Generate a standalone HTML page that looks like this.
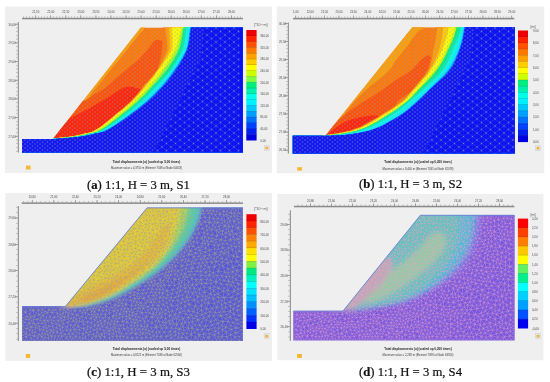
<!DOCTYPE html><html><head><meta charset="utf-8"><title>Total displacements</title><style>html,body{margin:0;padding:0;background:#fff;}svg{display:block;}</style></head><body><svg width="550" height="382" viewBox="0 0 550 382"><defs></defs><rect width="550" height="382" fill="#fff"/><rect x="5" y="6.5" width="267" height="166.5" fill="#efefef"/><clipPath id="g0"><path d="M22,139.2 L52.7,139.2 L140.8,27.6 L242.8,27.6 L242.8,152.6 L22,152.6Z"/></clipPath><clipPath id="c0_17"><path d="M152.5,43C154,41.4 154.9,40.1 156.5,39.8C158.1,39.5 158.9,40.1 162,41C165.1,41.9 168.7,35.2 175,45C181.3,54.8 204.2,83.3 200,100C195.8,116.7 173.3,136.7 150,145C126.7,153.3 78.3,150.8 60,150C41.7,149.2 40,147.5 40,140C40,132.5 52.8,111.5 60,105C67.2,98.5 78.3,102 83,101C87.7,100 86,100.2 88,99C90,97.8 92.2,95.8 95,94C97.8,92.2 101.7,90.5 105,88C108.3,85.5 111.2,82.3 115,79C118.8,75.7 124,71.3 128,68C132,64.7 135.8,62.1 139,59C142.2,55.9 145.2,52.2 147.5,49.5C149.8,46.8 151,44.6 152.5,43Z"/></clipPath><clipPath id="c0_16"><path clip-rule="evenodd" d="M-28,-22.4H292.8V202.6H-28ZM100,20C111.5,20 136.7,18.5 144,20C151.3,21.5 144.9,26.5 144,29C143.1,31.5 142.3,30.7 138.8,35C135.3,39.3 128.2,48.3 122.8,55C117.4,61.7 111.3,69.2 106.6,75C101.9,80.8 97.9,85.8 94.5,90C91.1,94.2 89.2,98.3 86,100C82.8,101.7 76.8,113.3 75,100C73.2,86.7 70.8,33.3 75,20C79.2,6.7 88.5,20 100,20Z"/></clipPath><pattern id="m0_0" patternUnits="userSpaceOnUse" width="9" height="7"><path d="M-4.5,-3.5L13.5,10.5M-4.5,10.5L13.5,-3.5M-4.5,3.5L4.5,-3.5M4.5,10.5L13.5,3.5M-4.5,3.5L4.5,10.5M4.5,-3.5L13.5,3.5" stroke="#a0a0d0" stroke-opacity="0.45" stroke-width="0.45" fill="none"/><path d="M0,0V7M4.5,-3.5V10.5M9,0V7" stroke="#a0a0d0" stroke-opacity="0.1575" stroke-width="0.45" fill="none"/><circle cx="0" cy="0" r="0.65" fill="#9898b0" fill-opacity="0.7"/><circle cx="9" cy="0" r="0.65" fill="#9898b0" fill-opacity="0.7"/><circle cx="0" cy="7" r="0.65" fill="#9898b0" fill-opacity="0.7"/><circle cx="9" cy="7" r="0.65" fill="#9898b0" fill-opacity="0.7"/><circle cx="4.5" cy="3.5" r="0.65" fill="#9898b0" fill-opacity="0.7"/></pattern><pattern id="m0_1" patternUnits="userSpaceOnUse" width="5" height="4"><path d="M-2.5,-2L7.5,6M-2.5,6L7.5,-2M-2.5,2L2.5,-2M2.5,6L7.5,2M-2.5,2L2.5,6M2.5,-2L7.5,2" stroke="#a0a0d0" stroke-opacity="0.38" stroke-width="0.4" fill="none"/><path d="M0,0V4M2.5,-2V6M5,0V4" stroke="#a0a0d0" stroke-opacity="0.13299999999999998" stroke-width="0.4" fill="none"/><circle cx="0" cy="0" r="0.55" fill="#9898b0" fill-opacity="0.6"/><circle cx="5" cy="0" r="0.55" fill="#9898b0" fill-opacity="0.6"/><circle cx="0" cy="4" r="0.55" fill="#9898b0" fill-opacity="0.6"/><circle cx="5" cy="4" r="0.55" fill="#9898b0" fill-opacity="0.6"/><circle cx="2.5" cy="2" r="0.55" fill="#9898b0" fill-opacity="0.6"/></pattern><g clip-path="url(#g0)"><path d="M22,139.2 L52.7,139.2 L140.8,27.6 L242.8,27.6 L242.8,152.6 L22,152.6Z" fill="#ff7800"/><path d="M100,20C111.5,20 136.7,18.5 144,20C151.3,21.5 144.9,26.5 144,29C143.1,31.5 142.3,30.7 138.8,35C135.3,39.3 128.2,48.3 122.8,55C117.4,61.7 111.3,69.2 106.6,75C101.9,80.8 97.9,85.8 94.5,90C91.1,94.2 89.2,98.3 86,100C82.8,101.7 76.8,113.3 75,100C73.2,86.7 70.8,33.3 75,20C79.2,6.7 88.5,20 100,20Z" fill="#ffa000"/><path d="M152.5,43C154,41.4 154.9,40.1 156.5,39.8C158.1,39.5 158.9,40.1 162,41C165.1,41.9 168.7,35.2 175,45C181.3,54.8 204.2,83.3 200,100C195.8,116.7 173.3,136.7 150,145C126.7,153.3 78.3,150.8 60,150C41.7,149.2 40,147.5 40,140C40,132.5 52.8,111.5 60,105C67.2,98.5 78.3,102 83,101C87.7,100 86,100.2 88,99C90,97.8 92.2,95.8 95,94C97.8,92.2 101.7,90.5 105,88C108.3,85.5 111.2,82.3 115,79C118.8,75.7 124,71.3 128,68C132,64.7 135.8,62.1 139,59C142.2,55.9 145.2,52.2 147.5,49.5C149.8,46.8 151,44.6 152.5,43Z" fill="#ff5000"/><path d="M145,89C156.3,89.5 197.5,80.7 200,90C202.5,99.3 183.3,135 160,145C136.7,155 79.2,150.8 60,150C40.8,149.2 45,143.6 45,140C45,136.4 55.8,132.2 60,128.5C64.2,124.8 66.8,120.8 70.5,118C74.2,115.2 77.9,114.2 82,112C86.1,109.8 90.3,107.7 95,105C99.7,102.3 105.3,98.8 110,96C114.7,93.2 119.3,89.5 123,88C126.7,86.5 128.3,86.8 132,87C135.7,87.2 133.7,88.5 145,89Z" fill="#ff2000"/><path d="M161,5 L160.8,7 L160.5,9.6 L160.1,12.8 L159.7,16.2 L159.3,19.9 L158.9,23.5 L158.4,26.9 L158,30 L158.2,32.7 L158.4,35.4 L158.6,37.9 L158.7,40.3 L158.8,42.7 L158.8,45.1 L158.6,47.5 L158.3,50 L158.2,52.5 L157.9,55.1 L157.4,57.7 L156.9,60.3 L156.3,62.9 L155.6,65.4 L155,67.7 L154.3,70 L153,72.1 L151.7,74.1 L150.4,76 L149.1,77.8 L147.8,79.6 L146.4,81.4 L145,83.2 L143.5,85 L142.2,86.9 L140.9,88.8 L139.5,90.6 L138.1,92.5 L136.6,94.4 L135.1,96.2 L133.5,98.1 L131.8,100 L129.9,101.9 L127.9,103.8 L125.8,105.6 L123.7,107.5 L121.5,109.4 L119.3,111.3 L117,113.1 L114.7,115 L112.4,116.9 L110.1,118.9 L107.6,121 L105.1,123 L102.6,124.9 L100.3,126.7 L98.1,128.3 L96.1,129.6 L94.3,130.6 L92.7,131.4 L91.2,131.9 L89.9,132.3 L88.5,132.7 L87.2,132.9 L85.9,133.2 L84.4,133.6 L83,134 L81.5,134.4 L80,134.8 L78.5,135.1 L76.9,135.4 L75.3,135.7 L73.7,136 L72.1,136.3 L70.5,136.5 L68.9,136.8 L67.3,137 L65.8,137.2 L64.2,137.3 L62.6,137.5 L61,137.6 L59.4,137.8 L57.8,137.9 L56.1,138.1 L54.4,138.2 L52.7,138.3 L51.1,138.4 L49.5,138.5 L48.1,138.6 L46.9,138.7 L45.9,138.8 L45.1,138.9 L44.5,139 L44,139 L43.5,139.1 L42.9,139.1 L42.3,139.1 L41.6,139.1 L40.9,139 L40.3,139 L39.7,138.9 L39,138.8 L38.2,138.6 L37.1,138.4 L35.7,138.2 L33.9,138 L31.9,137.7 L29.7,137.4 L27.4,137.1 L24.7,136.7 L21.6,136.4 L18,135.9 L13.8,135.5 L8.9,135 L2.2,132.6 L-6.6,127.4 L-16.4,121.2 L-26.4,115.4 L-35.5,111.8 L-43.6,112 L-49.8,117.5 L-52.4,130 L-55.6,152.4 L-59.4,184.5 L-62.4,223 L-64.8,264.7 L-66.8,306.4 L-68.4,345 L-69.8,377.3 L-71.1,400 L700,400 L700,5Z" fill="#ff5000" clip-path="url(#c0_17)"/><path d="M165,5 L164.8,7 L164.5,9.6 L164.1,12.8 L163.7,16.2 L163.3,19.9 L162.9,23.5 L162.4,26.9 L162,30 L162.1,32.7 L162.2,35.4 L162.4,37.9 L162.5,40.3 L162.5,42.7 L162.4,45.1 L162.2,47.5 L161.8,50 L161.6,52.5 L161.2,55.1 L160.7,57.7 L160.1,60.3 L159.4,62.9 L158.7,65.4 L157.9,67.7 L157.2,70 L155.6,72.1 L154,74.1 L152.4,76 L150.8,77.8 L149.2,79.6 L147.6,81.4 L145.9,83.2 L144.1,85 L142.8,86.9 L141.4,88.8 L140.1,90.6 L138.6,92.5 L137.1,94.4 L135.6,96.2 L133.9,98.1 L132.2,100 L130.3,101.9 L128.2,103.8 L126.2,105.6 L124,107.5 L121.8,109.4 L119.5,111.3 L117.2,113.1 L114.8,115 L112.6,116.9 L110.2,118.9 L107.8,121 L105.2,123 L102.8,124.9 L100.4,126.7 L98.2,128.3 L96.2,129.6 L94.4,130.6 L92.8,131.4 L91.4,131.9 L90,132.3 L88.7,132.7 L87.3,132.9 L86,133.2 L84.6,133.6 L83.1,134 L81.6,134.4 L80.1,134.8 L78.6,135.1 L77,135.4 L75.4,135.7 L73.8,136 L72.2,136.3 L70.7,136.5 L69.1,136.8 L67.5,137 L65.9,137.2 L64.3,137.3 L62.7,137.5 L61.1,137.6 L59.5,137.8 L57.9,137.9 L56.2,138.1 L54.5,138.2 L52.8,138.3 L51.2,138.4 L49.7,138.5 L48.3,138.6 L47,138.7 L46,138.8 L45.3,138.9 L44.6,139 L44.1,139 L43.6,139.1 L43.1,139.1 L42.5,139.1 L41.7,139.1 L41,139 L40.4,139 L39.8,138.9 L39.1,138.8 L38.3,138.6 L37.2,138.4 L35.8,138.2 L34,138 L32,137.7 L29.8,137.4 L27.5,137.1 L24.8,136.7 L21.7,136.4 L18.2,135.9 L14,135.5 L9,135 L2.3,132.6 L-6.4,127.4 L-16.2,121.2 L-26.3,115.4 L-35.3,111.8 L-43.4,112 L-49.6,117.5 L-52.3,130 L-55.5,152.4 L-59.2,184.5 L-62.3,223 L-64.7,264.7 L-66.7,306.4 L-68.3,345 L-69.7,377.3 L-71,400 L700,400 L700,5Z" fill="#ff7800" clip-path="url(#c0_16)"/><path d="M168.5,5 L168.3,7 L168,9.6 L167.6,12.8 L167.2,16.2 L166.8,19.9 L166.4,23.5 L165.9,26.9 L165.5,30 L165.8,32.7 L166.2,35.4 L166.5,37.9 L166.8,40.3 L167,42.7 L167.1,45.1 L167.1,47.5 L166.9,50 L166.1,52.5 L165.1,55.1 L164,57.7 L162.7,60.3 L161.4,62.9 L160.1,65.4 L158.8,67.7 L157.5,70 L155.9,72.1 L154.4,74.1 L152.9,76 L151.3,77.8 L149.7,79.6 L148.1,81.4 L146.4,83.2 L144.7,85 L143.4,86.9 L142,88.8 L140.6,90.6 L139.1,92.5 L137.6,94.4 L136,96.2 L134.3,98.1 L132.6,100 L130.6,101.9 L128.6,103.8 L126.5,105.6 L124.3,107.5 L122,109.4 L119.7,111.3 L117.4,113.1 L115,115 L112.8,116.9 L110.4,118.9 L107.9,121 L105.4,123 L102.9,124.9 L100.6,126.7 L98.3,128.3 L96.3,129.6 L94.6,130.6 L93,131.4 L91.5,131.9 L90.1,132.3 L88.8,132.7 L87.5,132.9 L86.1,133.2 L84.7,133.6 L83.2,134 L81.7,134.4 L80.2,134.8 L78.7,135.1 L77.1,135.4 L75.5,135.7 L73.9,136 L72.4,136.3 L70.8,136.5 L69.2,136.8 L67.6,137 L66,137.2 L64.4,137.3 L62.8,137.5 L61.2,137.6 L59.6,137.8 L58,137.9 L56.3,138.1 L54.6,138.2 L52.9,138.3 L51.3,138.4 L49.8,138.5 L48.4,138.6 L47.1,138.7 L46.2,138.8 L45.4,138.9 L44.7,139 L44.2,139 L43.7,139.1 L43.2,139.1 L42.6,139.1 L41.9,139.1 L41.1,139 L40.5,139 L39.9,138.9 L39.2,138.8 L38.4,138.6 L37.3,138.4 L36,138.2 L34.1,138 L32.1,137.7 L29.9,137.4 L27.6,137.1 L24.9,136.7 L21.8,136.4 L18.3,135.9 L14.1,135.5 L9.2,135 L2.4,132.6 L-6.3,127.4 L-16.1,121.2 L-26.1,115.4 L-35.1,111.8 L-43.2,112 L-49.5,117.5 L-52.2,130 L-55.4,152.4 L-59.1,184.5 L-62.2,223 L-64.6,264.7 L-66.6,306.4 L-68.2,345 L-69.6,377.3 L-70.8,400 L700,400 L700,5Z" fill="#ffa000"/><path d="M172,5 L171.8,7 L171.5,9.6 L171.1,12.8 L170.7,16.2 L170.3,19.9 L169.9,23.5 L169.4,26.9 L169,30 L169.2,32.7 L169.4,35.4 L169.6,37.9 L169.7,40.3 L169.8,42.7 L169.8,45.1 L169.6,47.5 L169.3,50 L168.2,52.5 L166.9,55.1 L165.5,57.7 L164,60.3 L162.5,62.9 L160.9,65.4 L159.3,67.7 L157.8,70 L156.3,72.1 L154.9,74.1 L153.5,76 L152,77.8 L150.5,79.6 L149,81.4 L147.5,83.2 L145.8,85 L144.4,86.9 L142.9,88.8 L141.4,90.6 L139.9,92.5 L138.3,94.4 L136.6,96.2 L134.8,98.1 L133,100 L131,101.9 L129,103.8 L126.8,105.6 L124.7,107.5 L122.4,109.4 L120.1,111.3 L117.7,113.1 L115.4,115 L113.1,116.9 L110.7,118.9 L108.2,121 L105.7,123 L103.2,124.9 L100.8,126.7 L98.6,128.3 L96.6,129.6 L94.8,130.6 L93.2,131.4 L91.7,131.9 L90.4,132.3 L89,132.7 L87.7,132.9 L86.4,133.2 L84.9,133.6 L83.4,134 L82,134.4 L80.5,134.8 L78.9,135.1 L77.4,135.4 L75.8,135.7 L74.2,136 L72.6,136.3 L71,136.5 L69.4,136.8 L67.8,137 L66.2,137.2 L64.6,137.3 L63.1,137.5 L61.5,137.6 L59.9,137.8 L58.3,137.9 L56.6,138.1 L54.9,138.2 L53.2,138.3 L51.5,138.4 L50,138.5 L48.6,138.6 L47.4,138.7 L46.4,138.8 L45.6,138.9 L45,139 L44.4,139 L43.9,139.1 L43.4,139.1 L42.8,139.1 L42.1,139.1 L41.4,139 L40.7,139 L40.1,138.9 L39.5,138.8 L38.7,138.6 L37.6,138.4 L36.2,138.2 L34.4,138 L32.3,137.7 L30.2,137.4 L27.8,137.1 L25.2,136.7 L22.1,136.4 L18.5,135.9 L14.3,135.5 L9.4,135 L2.7,132.6 L-6,127.4 L-15.8,121.2 L-25.8,115.4 L-34.7,111.8 L-42.8,112 L-49.1,117.5 L-51.9,130 L-55.2,152.4 L-58.9,184.5 L-61.9,223 L-64.4,264.7 L-66.3,306.4 L-68,345 L-69.3,377.3 L-70.6,400 L700,400 L700,5Z" fill="#ffcc00"/><path d="M175,5 L174.8,7 L174.5,9.6 L174.1,12.8 L173.7,16.2 L173.3,19.9 L172.9,23.5 L172.4,26.9 L172,30 L172.1,32.7 L172.3,35.4 L172.4,37.9 L172.6,40.3 L172.6,42.7 L172.6,45.1 L172.4,47.5 L172,50 L170.6,52.5 L169.1,55.1 L167.4,57.7 L165.6,60.3 L163.8,62.9 L161.9,65.4 L160.1,67.7 L158.3,70 L156.9,72.1 L155.6,74.1 L154.2,76 L152.8,77.8 L151.4,79.6 L150,81.4 L148.5,83.2 L146.9,85 L145.4,86.9 L143.9,88.8 L142.3,90.6 L140.7,92.5 L139,94.4 L137.3,96.2 L135.5,98.1 L133.6,100 L131.6,101.9 L129.5,103.8 L127.3,105.6 L125.1,107.5 L122.8,109.4 L120.5,111.3 L118.1,113.1 L115.7,115 L113.4,116.9 L111,118.9 L108.5,121 L106,123 L103.5,124.9 L101.1,126.7 L98.9,128.3 L96.9,129.6 L95.1,130.6 L93.5,131.4 L92,131.9 L90.6,132.3 L89.3,132.7 L88,132.9 L86.6,133.2 L85.2,133.6 L83.7,134 L82.2,134.4 L80.7,134.8 L79.2,135.1 L77.6,135.4 L76,135.7 L74.4,136 L72.8,136.3 L71.2,136.5 L69.6,136.8 L68,137 L66.5,137.2 L64.9,137.3 L63.3,137.5 L61.7,137.6 L60.1,137.8 L58.5,137.9 L56.8,138.1 L55.1,138.2 L53.4,138.3 L51.8,138.4 L50.2,138.5 L48.8,138.6 L47.6,138.7 L46.6,138.8 L45.8,138.9 L45.2,139 L44.7,139 L44.2,139.1 L43.6,139.1 L43,139.1 L42.3,139.1 L41.6,139 L41,139 L40.4,138.9 L39.7,138.8 L38.9,138.6 L37.8,138.4 L36.4,138.2 L34.6,138 L32.6,137.7 L30.4,137.4 L28.1,137.1 L25.4,136.7 L22.3,136.4 L18.7,135.9 L14.5,135.5 L9.6,135 L2.9,132.6 L-5.8,127.4 L-15.5,121.2 L-25.4,115.4 L-34.4,111.8 L-42.4,112 L-48.8,117.5 L-51.6,130 L-54.9,152.4 L-58.7,184.5 L-61.7,223 L-64.1,264.7 L-66.1,306.4 L-67.7,345 L-69.1,377.3 L-70.4,400 L700,400 L700,5Z" fill="#ffff00"/><path d="M184,5 L183.8,7 L183.5,9.6 L183.1,12.8 L182.7,16.2 L182.3,19.9 L181.9,23.5 L181.4,26.9 L181,30 L180.2,32.7 L179.5,35.4 L178.8,37.9 L178.1,40.3 L177.3,42.7 L176.5,45.1 L175.5,47.5 L174.3,50 L173.2,52.5 L171.8,55.1 L170.4,57.7 L168.8,60.3 L167.1,62.9 L165.5,65.4 L163.9,67.7 L162.3,70 L160.8,72.1 L159.3,74.1 L157.8,76 L156.3,77.8 L154.8,79.6 L153.2,81.4 L151.6,83.2 L149.9,85 L148.3,86.9 L146.7,88.8 L145,90.6 L143.3,92.5 L141.5,94.4 L139.7,96.2 L137.8,98.1 L135.8,100 L133.8,101.9 L131.8,103.8 L129.7,105.6 L127.5,107.5 L125.3,109.4 L123,111.3 L120.7,113.1 L118.3,115 L116,116.9 L113.5,118.9 L110.9,121 L108.3,123 L105.7,124.9 L103.3,126.7 L101,128.3 L98.9,129.6 L97.1,130.6 L95.4,131.4 L93.9,131.9 L92.5,132.3 L91.2,132.7 L89.8,132.9 L88.5,133.2 L87,133.6 L85.5,134 L84,134.4 L82.5,134.8 L81,135.1 L79.4,135.4 L77.8,135.7 L76.2,136 L74.6,136.3 L73,136.5 L71.4,136.8 L69.8,137 L68.3,137.2 L66.7,137.3 L65.1,137.5 L63.5,137.6 L61.9,137.8 L60.3,137.9 L58.6,138.1 L56.9,138.2 L55.2,138.3 L53.6,138.4 L52,138.5 L50.6,138.6 L49.4,138.7 L48.4,138.8 L47.6,138.9 L47,139 L46.5,139 L46,139.1 L45.4,139.1 L44.8,139.1 L44.1,139.1 L43.4,139 L42.8,139 L42.2,138.9 L41.5,138.8 L40.7,138.6 L39.6,138.4 L38.2,138.2 L36.4,138 L34.4,137.7 L32.2,137.4 L29.9,137.1 L27.2,136.7 L24.1,136.4 L20.5,135.9 L16.3,135.5 L11.4,135 L4.8,132.6 L-3.6,127.4 L-13.1,121.2 L-22.8,115.4 L-31.8,111.8 L-39.9,112 L-46.3,117.5 L-49.6,130 L-53.1,152.4 L-56.9,184.5 L-59.9,223 L-62.3,264.7 L-64.3,306.4 L-65.9,345 L-67.3,377.3 L-68.6,400 L700,400 L700,5Z" fill="#ccff00"/><path d="M184.8,5 L184.6,7 L184.3,9.6 L183.9,12.8 L183.5,16.2 L183.1,19.9 L182.7,23.5 L182.2,26.9 L181.8,30 L181.3,32.7 L180.8,35.4 L180.4,37.9 L179.9,40.3 L179.4,42.7 L178.8,45.1 L178,47.5 L177.1,50 L175.8,52.5 L174.3,55.1 L172.6,57.7 L170.9,60.3 L169.1,62.9 L167.3,65.4 L165.5,67.7 L163.8,70 L162.4,72.1 L160.9,74.1 L159.5,76 L158.1,77.8 L156.6,79.6 L155.1,81.4 L153.5,83.2 L151.9,85 L150.3,86.9 L148.6,88.8 L146.9,90.6 L145.2,92.5 L143.4,94.4 L141.5,96.2 L139.5,98.1 L137.5,100 L135.5,101.9 L133.5,103.8 L131.4,105.6 L129.2,107.5 L127,109.4 L124.7,111.3 L122.4,113.1 L120,115 L117.6,116.9 L115.1,118.9 L112.5,121 L109.8,123 L107.2,124.9 L104.7,126.7 L102.3,128.3 L100.2,129.6 L98.3,130.6 L96.7,131.4 L95.2,131.9 L93.8,132.3 L92.4,132.7 L91.1,132.9 L89.7,133.2 L88.2,133.6 L86.7,134 L85.2,134.4 L83.7,134.8 L82.1,135.1 L80.5,135.4 L79,135.7 L77.4,136 L75.8,136.3 L74.2,136.5 L72.6,136.8 L71,137 L69.4,137.2 L67.8,137.3 L66.2,137.5 L64.7,137.6 L63.1,137.8 L61.5,137.9 L59.8,138.1 L58.1,138.2 L56.4,138.3 L54.7,138.4 L53.2,138.5 L51.8,138.6 L50.6,138.7 L49.6,138.8 L48.8,138.9 L48.2,139 L47.6,139 L47.1,139.1 L46.6,139.1 L46,139.1 L45.3,139.1 L44.6,139 L43.9,139 L43.3,138.9 L42.7,138.8 L41.8,138.6 L40.8,138.4 L39.4,138.2 L37.6,138 L35.5,137.7 L33.4,137.4 L31,137.1 L28.3,136.7 L25.3,136.4 L21.7,135.9 L17.5,135.5 L12.6,135 L6,132.6 L-2.3,127.4 L-11.5,121.2 L-21.1,115.4 L-30.1,111.8 L-38.2,112 L-44.6,117.5 L-48.3,130 L-52,152.4 L-55.7,184.5 L-58.7,223 L-61.2,264.7 L-63.1,306.4 L-64.8,345 L-66.2,377.3 L-67.4,400 L700,400 L700,5Z" fill="#80ff40"/><path d="M186.3,5 L186.1,7 L185.8,9.6 L185.4,12.8 L185,16.2 L184.6,19.9 L184.2,23.5 L183.7,26.9 L183.3,30 L182.8,32.7 L182.4,35.4 L182,37.9 L181.5,40.3 L181,42.7 L180.5,45.1 L179.7,47.5 L178.8,50 L177.7,52.5 L176.3,55.1 L174.9,57.7 L173.3,60.3 L171.6,62.9 L170,65.4 L168.4,67.7 L166.8,70 L165.2,72.1 L163.6,74.1 L162,76 L160.3,77.8 L158.7,79.6 L157,81.4 L155.3,83.2 L153.5,85 L151.9,86.9 L150.2,88.8 L148.6,90.6 L146.8,92.5 L145,94.4 L143.2,96.2 L141.2,98.1 L139.2,100 L137.2,101.9 L135.1,103.8 L133,105.6 L130.8,107.5 L128.5,109.4 L126.2,111.3 L123.8,113.1 L121.4,115 L119,116.9 L116.4,118.9 L113.7,121 L111,123 L108.3,124.9 L105.8,126.7 L103.4,128.3 L101.3,129.6 L99.4,130.6 L97.7,131.4 L96.2,131.9 L94.7,132.3 L93.4,132.7 L92,132.9 L90.6,133.2 L89.2,133.6 L87.7,134 L86.1,134.4 L84.6,134.8 L83.1,135.1 L81.5,135.4 L79.9,135.7 L78.3,136 L76.7,136.3 L75.1,136.5 L73.5,136.8 L71.9,137 L70.3,137.2 L68.7,137.3 L67.2,137.5 L65.6,137.6 L64,137.8 L62.4,137.9 L60.7,138.1 L59,138.2 L57.3,138.3 L55.7,138.4 L54.1,138.5 L52.7,138.6 L51.5,138.7 L50.5,138.8 L49.7,138.9 L49.1,139 L48.5,139 L48,139.1 L47.5,139.1 L46.9,139.1 L46.2,139.1 L45.5,139 L44.8,139 L44.2,138.9 L43.6,138.8 L42.8,138.6 L41.7,138.4 L40.3,138.2 L38.5,138 L36.4,137.7 L34.3,137.4 L31.9,137.1 L29.3,136.7 L26.2,136.4 L22.6,135.9 L18.4,135.5 L13.5,135 L7,132.6 L-1.2,127.4 L-10.3,121.2 L-19.8,115.4 L-28.7,111.8 L-36.8,112 L-43.3,117.5 L-47.3,130 L-51.1,152.4 L-54.8,184.5 L-57.8,223 L-60.2,264.7 L-62.2,306.4 L-63.8,345 L-65.2,377.3 L-66.5,400 L700,400 L700,5Z" fill="#00f080"/><path d="M187.6,5 L187.4,7 L187.1,9.6 L186.7,12.8 L186.3,16.2 L185.9,19.9 L185.5,23.5 L185,26.9 L184.6,30 L184.2,32.7 L183.9,35.4 L183.6,37.9 L183.2,40.3 L182.9,42.7 L182.4,45.1 L181.7,47.5 L180.9,50 L179.9,52.5 L178.7,55.1 L177.3,57.7 L175.9,60.3 L174.4,62.9 L172.9,65.4 L171.4,67.7 L169.9,70 L168.1,72.1 L166.3,74.1 L164.5,76 L162.7,77.8 L160.9,79.6 L159.1,81.4 L157.2,83.2 L155.2,85 L153.6,86.9 L151.9,88.8 L150.2,90.6 L148.5,92.5 L146.7,94.4 L144.8,96.2 L142.8,98.1 L140.8,100 L138.8,101.9 L136.7,103.8 L134.5,105.6 L132.3,107.5 L130,109.4 L127.7,111.3 L125.3,113.1 L122.8,115 L120.4,116.9 L117.7,118.9 L115,121 L112.3,123 L109.6,124.9 L107,126.7 L104.5,128.3 L102.4,129.6 L100.5,130.6 L98.8,131.4 L97.2,131.9 L95.8,132.3 L94.4,132.7 L93.1,132.9 L91.7,133.2 L90.2,133.6 L88.7,134 L87.1,134.4 L85.6,134.8 L84,135.1 L82.5,135.4 L80.9,135.7 L79.3,136 L77.7,136.3 L76.1,136.5 L74.5,136.8 L72.9,137 L71.3,137.2 L69.7,137.3 L68.2,137.5 L66.6,137.6 L65,137.8 L63.4,137.9 L61.7,138.1 L60,138.2 L58.3,138.3 L56.6,138.4 L55.1,138.5 L53.7,138.6 L52.5,138.7 L51.5,138.8 L50.7,138.9 L50.1,139 L49.5,139 L49,139.1 L48.5,139.1 L47.9,139.1 L47.2,139.1 L46.5,139 L45.8,139 L45.2,138.9 L44.6,138.8 L43.8,138.6 L42.7,138.4 L41.3,138.2 L39.5,138 L37.4,137.7 L35.3,137.4 L32.9,137.1 L30.3,136.7 L27.2,136.4 L23.6,135.9 L19.4,135.5 L14.5,135 L8.1,132.6 L0,127.4 L-9,121.2 L-18.3,115.4 L-27.2,111.8 L-35.3,112 L-41.9,117.5 L-46.2,130 L-50.1,152.4 L-53.8,184.5 L-56.8,223 L-59.3,264.7 L-61.2,306.4 L-62.9,345 L-64.2,377.3 L-65.5,400 L700,400 L700,5Z" fill="#00f0b0"/><path d="M189.5,5 L189.3,7 L189,9.6 L188.6,12.8 L188.2,16.2 L187.8,19.9 L187.4,23.5 L186.9,26.9 L186.5,30 L186.1,32.7 L185.8,35.4 L185.5,37.9 L185.2,40.3 L184.8,42.7 L184.3,45.1 L183.6,47.5 L182.8,50 L181.7,52.5 L180.4,55.1 L179,57.7 L177.4,60.3 L175.8,62.9 L174.2,65.4 L172.6,67.7 L171.1,70 L169.4,72.1 L167.8,74.1 L166.2,76 L164.6,77.8 L163,79.6 L161.3,81.4 L159.5,83.2 L157.7,85 L156.1,86.9 L154.4,88.8 L152.7,90.6 L150.9,92.5 L149.1,94.4 L147.2,96.2 L145.2,98.1 L143.2,100 L141.2,101.9 L139,103.8 L136.8,105.6 L134.6,107.5 L132.2,109.4 L129.8,111.3 L127.4,113.1 L125,115 L122.4,116.9 L119.7,118.9 L116.9,121 L114.1,123 L111.4,124.9 L108.7,126.7 L106.2,128.3 L104,129.6 L102.1,130.6 L100.3,131.4 L98.8,131.9 L97.3,132.3 L96,132.7 L94.6,132.9 L93.2,133.2 L91.7,133.6 L90.2,134 L88.6,134.4 L87.1,134.8 L85.5,135.1 L83.9,135.4 L82.3,135.7 L80.7,136 L79.1,136.3 L77.6,136.5 L76,136.8 L74.4,137 L72.8,137.2 L71.2,137.3 L69.6,137.5 L68,137.6 L66.4,137.8 L64.8,137.9 L63.1,138.1 L61.4,138.2 L59.7,138.3 L58.1,138.4 L56.6,138.5 L55.2,138.6 L53.9,138.7 L52.9,138.8 L52.2,138.9 L51.5,139 L51,139 L50.5,139.1 L50,139.1 L49.4,139.1 L48.6,139.1 L47.9,139 L47.3,139 L46.7,138.9 L46,138.8 L45.2,138.6 L44.1,138.4 L42.7,138.2 L40.9,138 L38.9,137.7 L36.7,137.4 L34.4,137.1 L31.7,136.7 L28.6,136.4 L25.1,135.9 L20.9,135.5 L15.9,135 L9.6,132.6 L1.7,127.4 L-7.1,121.2 L-16.2,115.4 L-25,111.8 L-33.1,112 L-39.9,117.5 L-44.5,130 L-48.6,152.4 L-52.3,184.5 L-55.4,223 L-57.8,264.7 L-59.8,306.4 L-61.4,345 L-62.8,377.3 L-64.1,400 L700,400 L700,5Z" fill="#00ffe8"/><path d="M191.2,5 L191,7 L190.7,9.6 L190.3,12.8 L189.9,16.2 L189.5,19.9 L189.1,23.5 L188.6,26.9 L188.2,30 L187.8,32.7 L187.5,35.4 L187.2,37.9 L186.8,40.3 L186.5,42.7 L186,45.1 L185.3,47.5 L184.5,50 L183.4,52.5 L182,55.1 L180.6,57.7 L179,60.3 L177.3,62.9 L175.7,65.4 L174.1,67.7 L172.5,70 L171,72.1 L169.5,74.1 L168,76 L166.5,77.8 L165,79.6 L163.4,81.4 L161.8,83.2 L160.1,85 L158.4,86.9 L156.7,88.8 L155,90.6 L153.2,92.5 L151.4,94.4 L149.5,96.2 L147.5,98.1 L145.4,100 L143.3,101.9 L141.2,103.8 L139,105.6 L136.7,107.5 L134.3,109.4 L131.9,111.3 L129.5,113.1 L127,115 L124.4,116.9 L121.7,118.9 L118.8,121 L115.9,123 L113.1,124.9 L110.4,126.7 L107.9,128.3 L105.6,129.6 L103.6,130.6 L101.8,131.4 L100.3,131.9 L98.8,132.3 L97.4,132.7 L96,132.9 L94.6,133.2 L93.1,133.6 L91.6,134 L90,134.4 L88.5,134.8 L86.9,135.1 L85.3,135.4 L83.7,135.7 L82.1,136 L80.5,136.3 L78.9,136.5 L77.4,136.8 L75.8,137 L74.2,137.2 L72.6,137.3 L71,137.5 L69.4,137.6 L67.8,137.8 L66.2,137.9 L64.5,138.1 L62.8,138.2 L61.1,138.3 L59.5,138.4 L57.9,138.5 L56.5,138.6 L55.3,138.7 L54.3,138.8 L53.6,138.9 L52.9,139 L52.4,139 L51.9,139.1 L51.4,139.1 L50.8,139.1 L50,139.1 L49.3,139 L48.7,139 L48.1,138.9 L47.4,138.8 L46.6,138.6 L45.5,138.4 L44.1,138.2 L42.3,138 L40.3,137.7 L38.1,137.4 L35.8,137.1 L33.1,136.7 L30,136.4 L26.4,135.9 L22.2,135.5 L17.3,135 L11.1,132.6 L3.4,127.4 L-5.2,121.2 L-14.2,115.4 L-22.9,111.8 L-31,112 L-37.9,117.5 L-43,130 L-47.2,152.4 L-51,184.5 L-54,223 L-56.4,264.7 L-58.4,306.4 L-60,345 L-61.4,377.3 L-62.7,400 L700,400 L700,5Z" fill="#00f0ff"/><path d="M192.7,5 L192.5,7 L192.2,9.6 L191.8,12.8 L191.4,16.2 L191,19.9 L190.6,23.5 L190.1,26.9 L189.7,30 L189.3,32.7 L189,35.4 L188.7,37.9 L188.3,40.3 L188,42.7 L187.5,45.1 L186.8,47.5 L186,50 L184.8,52.5 L183.4,55.1 L181.9,57.7 L180.3,60.3 L178.7,62.9 L177,65.4 L175.3,67.7 L173.7,70 L172.3,72.1 L170.9,74.1 L169.6,76 L168.2,77.8 L166.8,79.6 L165.3,81.4 L163.8,83.2 L162.2,85 L160.5,86.9 L158.8,88.8 L157,90.6 L155.2,92.5 L153.3,94.4 L151.4,96.2 L149.4,98.1 L147.3,100 L145.2,101.9 L143.1,103.8 L140.8,105.6 L138.5,107.5 L136.2,109.4 L133.7,111.3 L131.3,113.1 L128.8,115 L126.1,116.9 L123.3,118.9 L120.4,121 L117.5,123 L114.6,124.9 L111.8,126.7 L109.3,128.3 L107,129.6 L104.9,130.6 L103.2,131.4 L101.6,131.9 L100.1,132.3 L98.7,132.7 L97.3,132.9 L95.9,133.2 L94.4,133.6 L92.8,134 L91.3,134.4 L89.7,134.8 L88.1,135.1 L86.5,135.4 L84.9,135.7 L83.3,136 L81.8,136.3 L80.2,136.5 L78.6,136.8 L77,137 L75.4,137.2 L73.8,137.3 L72.2,137.5 L70.6,137.6 L69,137.8 L67.4,137.9 L65.7,138.1 L64,138.2 L62.3,138.3 L60.7,138.4 L59.2,138.5 L57.8,138.6 L56.5,138.7 L55.6,138.8 L54.8,138.9 L54.1,139 L53.6,139 L53.1,139.1 L52.6,139.1 L52,139.1 L51.2,139.1 L50.5,139 L49.9,139 L49.3,138.9 L48.6,138.8 L47.8,138.6 L46.7,138.4 L45.4,138.2 L43.5,138 L41.5,137.7 L39.3,137.4 L37,137.1 L34.3,136.7 L31.2,136.4 L27.7,135.9 L23.5,135.5 L18.6,135 L12.4,132.6 L4.8,127.4 L-3.6,121.2 L-12.4,115.4 L-21.1,111.8 L-29.2,112 L-36.2,117.5 L-41.6,130 L-46,152.4 L-49.7,184.5 L-52.8,223 L-55.2,264.7 L-57.2,306.4 L-58.8,345 L-60.2,377.3 L-61.5,400 L700,400 L700,5Z" fill="#00c8ff"/><path d="M193,5 L192.8,7 L192.5,9.6 L192.1,12.8 L191.7,16.2 L191.3,19.9 L190.9,23.5 L190.4,26.9 L190,30 L189.6,32.7 L189.3,35.4 L189,37.9 L188.7,40.3 L188.3,42.7 L187.8,45.1 L187.1,47.5 L186.3,50 L185.2,52.5 L183.8,55.1 L182.4,57.7 L180.8,60.3 L179.1,62.9 L177.5,65.4 L175.9,67.7 L174.3,70 L172.9,72.1 L171.5,74.1 L170.1,76 L168.7,77.8 L167.3,79.6 L165.8,81.4 L164.3,83.2 L162.7,85 L161,86.9 L159.3,88.8 L157.6,90.6 L155.8,92.5 L154,94.4 L152.1,96.2 L150.1,98.1 L148,100 L145.9,101.9 L143.7,103.8 L141.4,105.6 L139.1,107.5 L136.7,109.4 L134.2,111.3 L131.7,113.1 L129.2,115 L126.5,116.9 L123.7,118.9 L120.8,121 L117.9,123 L115,124.9 L112.2,126.7 L109.6,128.3 L107.3,129.6 L105.3,130.6 L103.5,131.4 L101.9,131.9 L100.4,132.3 L99,132.7 L97.6,132.9 L96.2,133.2 L94.7,133.6 L93.1,134 L91.5,134.4 L90,134.8 L88.4,135.1 L86.8,135.4 L85.2,135.7 L83.6,136 L82,136.3 L80.5,136.5 L78.9,136.8 L77.3,137 L75.7,137.2 L74.1,137.3 L72.5,137.5 L70.9,137.6 L69.3,137.8 L67.7,137.9 L66,138.1 L64.3,138.2 L62.6,138.3 L61,138.4 L59.5,138.5 L58.1,138.6 L56.8,138.7 L55.8,138.8 L55.1,138.9 L54.4,139 L53.9,139 L53.4,139.1 L52.9,139.1 L52.3,139.1 L51.5,139.1 L50.8,139 L50.2,139 L49.6,138.9 L48.9,138.8 L48.1,138.6 L47,138.4 L45.6,138.2 L43.8,138 L41.8,137.7 L39.6,137.4 L37.3,137.1 L34.6,136.7 L31.5,136.4 L28,135.9 L23.8,135.5 L18.8,135 L12.7,132.6 L5.2,127.4 L-3.2,121.2 L-12,115.4 L-20.7,111.8 L-28.8,112 L-35.8,117.5 L-41.3,130 L-45.7,152.4 L-49.4,184.5 L-52.5,223 L-54.9,264.7 L-56.9,306.4 L-58.5,345 L-59.9,377.3 L-61.2,400 L700,400 L700,5Z" fill="#00a0ff"/><path d="M193.2,5 L193,7 L192.7,9.6 L192.3,12.8 L191.9,16.2 L191.5,19.9 L191.1,23.5 L190.6,26.9 L190.2,30 L189.8,32.7 L189.5,35.4 L189.2,37.9 L188.8,40.3 L188.5,42.7 L188,45.1 L187.3,47.5 L186.5,50 L185.4,52.5 L184.1,55.1 L182.7,57.7 L181.1,60.3 L179.5,62.9 L177.9,65.4 L176.3,67.7 L174.8,70 L173.4,72.1 L172,74.1 L170.6,76 L169.2,77.8 L167.8,79.6 L166.3,81.4 L164.8,83.2 L163.2,85 L161.5,86.9 L159.8,88.8 L158.1,90.6 L156.3,92.5 L154.5,94.4 L152.6,96.2 L150.6,98.1 L148.5,100 L146.4,101.9 L144.2,103.8 L141.9,105.6 L139.5,107.5 L137.1,109.4 L134.7,111.3 L132.2,113.1 L129.6,115 L127,116.9 L124.1,118.9 L121.2,121 L118.2,123 L115.3,124.9 L112.5,126.7 L109.9,128.3 L107.6,129.6 L105.6,130.6 L103.8,131.4 L102.2,131.9 L100.7,132.3 L99.3,132.7 L97.9,132.9 L96.5,133.2 L95,133.6 L93.4,134 L91.8,134.4 L90.3,134.8 L88.7,135.1 L87.1,135.4 L85.5,135.7 L83.9,136 L82.3,136.3 L80.7,136.5 L79.2,136.8 L77.6,137 L76,137.2 L74.4,137.3 L72.8,137.5 L71.2,137.6 L69.6,137.8 L68,137.9 L66.3,138.1 L64.6,138.2 L62.9,138.3 L61.3,138.4 L59.7,138.5 L58.3,138.6 L57.1,138.7 L56.1,138.8 L55.4,138.9 L54.7,139 L54.2,139 L53.7,139.1 L53.2,139.1 L52.6,139.1 L51.8,139.1 L51.1,139 L50.5,139 L49.9,138.9 L49.2,138.8 L48.4,138.6 L47.3,138.4 L45.9,138.2 L44.1,138 L42.1,137.7 L39.9,137.4 L37.6,137.1 L34.9,136.7 L31.8,136.4 L28.2,135.9 L24,135.5 L19.1,135 L13,132.6 L5.5,127.4 L-2.8,121.2 L-11.6,115.4 L-20.2,111.8 L-28.3,112 L-35.4,117.5 L-41,130 L-45.4,152.4 L-49.2,184.5 L-52.2,223 L-54.6,264.7 L-56.6,306.4 L-58.2,345 L-59.6,377.3 L-60.9,400 L700,400 L700,5Z" fill="#0070ff"/><path d="M193.5,5 L193.3,7 L193,9.6 L192.6,12.8 L192.2,16.2 L191.8,19.9 L191.4,23.5 L190.9,26.9 L190.5,30 L190.1,32.7 L189.8,35.4 L189.5,37.9 L189.2,40.3 L188.8,42.7 L188.3,45.1 L187.6,47.5 L186.8,50 L185.7,52.5 L184.5,55.1 L183.1,57.7 L181.6,60.3 L180.1,62.9 L178.5,65.4 L177,67.7 L175.5,70 L174.1,72.1 L172.7,74.1 L171.3,76 L169.9,77.8 L168.5,79.6 L167,81.4 L165.5,83.2 L163.9,85 L162.2,86.9 L160.5,88.8 L158.8,90.6 L157,92.5 L155.2,94.4 L153.3,96.2 L151.3,98.1 L149.2,100 L147.1,101.9 L144.8,103.8 L142.5,105.6 L140.2,107.5 L137.8,109.4 L135.3,111.3 L132.8,113.1 L130.2,115 L127.5,116.9 L124.7,118.9 L121.7,121 L118.7,123 L115.8,124.9 L113,126.7 L110.4,128.3 L108.1,129.6 L106,130.6 L104.2,131.4 L102.6,131.9 L101.2,132.3 L99.8,132.7 L98.4,132.9 L96.9,133.2 L95.4,133.6 L93.8,134 L92.3,134.4 L90.7,134.8 L89.1,135.1 L87.5,135.4 L85.9,135.7 L84.3,136 L82.7,136.3 L81.2,136.5 L79.6,136.8 L78,137 L76.4,137.2 L74.8,137.3 L73.2,137.5 L71.6,137.6 L70,137.8 L68.4,137.9 L66.7,138.1 L65,138.2 L63.3,138.3 L61.7,138.4 L60.2,138.5 L58.8,138.6 L57.5,138.7 L56.5,138.8 L55.8,138.9 L55.1,139 L54.6,139 L54.1,139.1 L53.6,139.1 L53,139.1 L52.2,139.1 L51.5,139 L50.9,139 L50.3,138.9 L49.6,138.8 L48.8,138.6 L47.7,138.4 L46.3,138.2 L44.5,138 L42.5,137.7 L40.3,137.4 L38,137.1 L35.3,136.7 L32.2,136.4 L28.7,135.9 L24.5,135.5 L19.5,135 L13.4,132.6 L6,127.4 L-2.3,121.2 L-11,115.4 L-19.6,111.8 L-27.7,112 L-34.8,117.5 L-40.5,130 L-45,152.4 L-48.7,184.5 L-51.8,223 L-54.2,264.7 L-56.2,306.4 L-57.8,345 L-59.2,377.3 L-60.5,400 L700,400 L700,5Z" fill="#0040ff"/><path d="M194,5 L193.8,7 L193.5,9.6 L193.1,12.8 L192.7,16.2 L192.3,19.9 L191.9,23.5 L191.4,26.9 L191,30 L190.6,32.7 L190.3,35.4 L190,37.9 L189.7,40.3 L189.3,42.7 L188.8,45.1 L188.1,47.5 L187.3,50 L186.3,52.5 L185.1,55.1 L183.7,57.7 L182.3,60.3 L180.8,62.9 L179.3,65.4 L177.8,67.7 L176.3,70 L174.9,72.1 L173.5,74.1 L172.1,76 L170.7,77.8 L169.3,79.6 L167.8,81.4 L166.3,83.2 L164.7,85 L163,86.9 L161.3,88.8 L159.6,90.6 L157.8,92.5 L156,94.4 L154.1,96.2 L152.1,98.1 L150,100 L147.8,101.9 L145.6,103.8 L143.3,105.6 L140.9,107.5 L138.5,109.4 L136,111.3 L133.5,113.1 L130.9,115 L128.2,116.9 L125.3,118.9 L122.4,121 L119.4,123 L116.4,124.9 L113.6,126.7 L111,128.3 L108.6,129.6 L106.6,130.6 L104.7,131.4 L103.1,131.9 L101.6,132.3 L100.2,132.7 L98.8,132.9 L97.4,133.2 L95.9,133.6 L94.3,134 L92.7,134.4 L91.1,134.8 L89.6,135.1 L88,135.4 L86.4,135.7 L84.8,136 L83.2,136.3 L81.6,136.5 L80,136.8 L78.4,137 L76.8,137.2 L75.2,137.3 L73.7,137.5 L72.1,137.6 L70.5,137.8 L68.9,137.9 L67.2,138.1 L65.5,138.2 L63.8,138.3 L62.2,138.4 L60.6,138.5 L59.2,138.6 L58,138.7 L57,138.8 L56.2,138.9 L55.6,139 L55,139 L54.5,139.1 L54,139.1 L53.4,139.1 L52.7,139.1 L52,139 L51.3,139 L50.7,138.9 L50.1,138.8 L49.3,138.6 L48.2,138.4 L46.8,138.2 L45,138 L42.9,137.7 L40.8,137.4 L38.4,137.1 L35.8,136.7 L32.7,136.4 L29.1,135.9 L24.9,135.5 L20,135 L13.9,132.6 L6.5,127.4 L-1.7,121.2 L-10.3,115.4 L-18.9,111.8 L-27,112 L-34.2,117.5 L-40,130 L-44.6,152.4 L-48.3,184.5 L-51.3,223 L-53.8,264.7 L-55.7,306.4 L-57.3,345 L-58.7,377.3 L-60,400 L700,400 L700,5Z" fill="#0a12f0"/><path d="M240,20 L240,160 L150,160 L175,110 L200,60 L205,20Z" fill="url(#m0_0)"/><path d="M10,20 L205,20 L200,60 L175,110 L150,160 L10,160Z" fill="url(#m0_1)"/></g><rect x="22" y="17.8" width="221" height="1.5" fill="#8a8a8a"/><rect x="23.4" y="16.3" width="0.6" height="1.6" fill="#9a9a9a"/><rect x="26.4" y="16.3" width="0.6" height="1.6" fill="#9a9a9a"/><rect x="29.4" y="16.3" width="0.6" height="1.6" fill="#9a9a9a"/><rect x="32.4" y="16.3" width="0.6" height="1.6" fill="#9a9a9a"/><rect x="35.4" y="16.3" width="0.6" height="1.6" fill="#9a9a9a"/><rect x="38.4" y="16.3" width="0.6" height="1.6" fill="#9a9a9a"/><rect x="41.4" y="16.3" width="0.6" height="1.6" fill="#9a9a9a"/><rect x="44.4" y="16.3" width="0.6" height="1.6" fill="#9a9a9a"/><rect x="47.4" y="16.3" width="0.6" height="1.6" fill="#9a9a9a"/><rect x="50.4" y="16.3" width="0.6" height="1.6" fill="#9a9a9a"/><rect x="53.5" y="16.3" width="0.6" height="1.6" fill="#9a9a9a"/><rect x="56.5" y="16.3" width="0.6" height="1.6" fill="#9a9a9a"/><rect x="59.5" y="16.3" width="0.6" height="1.6" fill="#9a9a9a"/><rect x="62.5" y="16.3" width="0.6" height="1.6" fill="#9a9a9a"/><rect x="65.5" y="16.3" width="0.6" height="1.6" fill="#9a9a9a"/><rect x="68.5" y="16.3" width="0.6" height="1.6" fill="#9a9a9a"/><rect x="71.5" y="16.3" width="0.6" height="1.6" fill="#9a9a9a"/><rect x="74.5" y="16.3" width="0.6" height="1.6" fill="#9a9a9a"/><rect x="77.5" y="16.3" width="0.6" height="1.6" fill="#9a9a9a"/><rect x="80.5" y="16.3" width="0.6" height="1.6" fill="#9a9a9a"/><rect x="83.6" y="16.3" width="0.6" height="1.6" fill="#9a9a9a"/><rect x="86.6" y="16.3" width="0.6" height="1.6" fill="#9a9a9a"/><rect x="89.6" y="16.3" width="0.6" height="1.6" fill="#9a9a9a"/><rect x="92.6" y="16.3" width="0.6" height="1.6" fill="#9a9a9a"/><rect x="95.6" y="16.3" width="0.6" height="1.6" fill="#9a9a9a"/><rect x="98.6" y="16.3" width="0.6" height="1.6" fill="#9a9a9a"/><rect x="101.6" y="16.3" width="0.6" height="1.6" fill="#9a9a9a"/><rect x="104.6" y="16.3" width="0.6" height="1.6" fill="#9a9a9a"/><rect x="107.6" y="16.3" width="0.6" height="1.6" fill="#9a9a9a"/><rect x="110.6" y="16.3" width="0.6" height="1.6" fill="#9a9a9a"/><rect x="113.7" y="16.3" width="0.6" height="1.6" fill="#9a9a9a"/><rect x="116.7" y="16.3" width="0.6" height="1.6" fill="#9a9a9a"/><rect x="119.7" y="16.3" width="0.6" height="1.6" fill="#9a9a9a"/><rect x="122.7" y="16.3" width="0.6" height="1.6" fill="#9a9a9a"/><rect x="125.7" y="16.3" width="0.6" height="1.6" fill="#9a9a9a"/><rect x="128.7" y="16.3" width="0.6" height="1.6" fill="#9a9a9a"/><rect x="131.7" y="16.3" width="0.6" height="1.6" fill="#9a9a9a"/><rect x="134.7" y="16.3" width="0.6" height="1.6" fill="#9a9a9a"/><rect x="137.7" y="16.3" width="0.6" height="1.6" fill="#9a9a9a"/><rect x="140.7" y="16.3" width="0.6" height="1.6" fill="#9a9a9a"/><rect x="143.8" y="16.3" width="0.6" height="1.6" fill="#9a9a9a"/><rect x="146.8" y="16.3" width="0.6" height="1.6" fill="#9a9a9a"/><rect x="149.8" y="16.3" width="0.6" height="1.6" fill="#9a9a9a"/><rect x="152.8" y="16.3" width="0.6" height="1.6" fill="#9a9a9a"/><rect x="155.8" y="16.3" width="0.6" height="1.6" fill="#9a9a9a"/><rect x="158.8" y="16.3" width="0.6" height="1.6" fill="#9a9a9a"/><rect x="161.8" y="16.3" width="0.6" height="1.6" fill="#9a9a9a"/><rect x="164.8" y="16.3" width="0.6" height="1.6" fill="#9a9a9a"/><rect x="167.8" y="16.3" width="0.6" height="1.6" fill="#9a9a9a"/><rect x="170.8" y="16.3" width="0.6" height="1.6" fill="#9a9a9a"/><rect x="173.9" y="16.3" width="0.6" height="1.6" fill="#9a9a9a"/><rect x="176.9" y="16.3" width="0.6" height="1.6" fill="#9a9a9a"/><rect x="179.9" y="16.3" width="0.6" height="1.6" fill="#9a9a9a"/><rect x="182.9" y="16.3" width="0.6" height="1.6" fill="#9a9a9a"/><rect x="185.9" y="16.3" width="0.6" height="1.6" fill="#9a9a9a"/><rect x="188.9" y="16.3" width="0.6" height="1.6" fill="#9a9a9a"/><rect x="191.9" y="16.3" width="0.6" height="1.6" fill="#9a9a9a"/><rect x="194.9" y="16.3" width="0.6" height="1.6" fill="#9a9a9a"/><rect x="197.9" y="16.3" width="0.6" height="1.6" fill="#9a9a9a"/><rect x="200.9" y="16.3" width="0.6" height="1.6" fill="#9a9a9a"/><rect x="204" y="16.3" width="0.6" height="1.6" fill="#9a9a9a"/><rect x="207" y="16.3" width="0.6" height="1.6" fill="#9a9a9a"/><rect x="210" y="16.3" width="0.6" height="1.6" fill="#9a9a9a"/><rect x="213" y="16.3" width="0.6" height="1.6" fill="#9a9a9a"/><rect x="216" y="16.3" width="0.6" height="1.6" fill="#9a9a9a"/><rect x="219" y="16.3" width="0.6" height="1.6" fill="#9a9a9a"/><rect x="222" y="16.3" width="0.6" height="1.6" fill="#9a9a9a"/><rect x="225" y="16.3" width="0.6" height="1.6" fill="#9a9a9a"/><rect x="228" y="16.3" width="0.6" height="1.6" fill="#9a9a9a"/><rect x="231" y="16.3" width="0.6" height="1.6" fill="#9a9a9a"/><rect x="234.1" y="16.3" width="0.6" height="1.6" fill="#9a9a9a"/><rect x="237.1" y="16.3" width="0.6" height="1.6" fill="#9a9a9a"/><rect x="240.1" y="16.3" width="0.6" height="1.6" fill="#9a9a9a"/><rect x="35.4" y="15.3" width="0.7" height="2.6" fill="#888"/><text x="35.7" y="13" font-size="3.6" text-anchor="middle" fill="#4a4a4a" textLength="7" lengthAdjust="spacingAndGlyphs" font-family="Liberation Sans, Arial, sans-serif">21,50</text><rect x="50.4" y="15.3" width="0.7" height="2.6" fill="#888"/><text x="50.8" y="13" font-size="3.6" text-anchor="middle" fill="#4a4a4a" textLength="7" lengthAdjust="spacingAndGlyphs" font-family="Liberation Sans, Arial, sans-serif">22,00</text><rect x="65.5" y="15.3" width="0.7" height="2.6" fill="#888"/><text x="65.8" y="13" font-size="3.6" text-anchor="middle" fill="#4a4a4a" textLength="7" lengthAdjust="spacingAndGlyphs" font-family="Liberation Sans, Arial, sans-serif">22,50</text><rect x="80.5" y="15.3" width="0.7" height="2.6" fill="#888"/><text x="80.9" y="13" font-size="3.6" text-anchor="middle" fill="#4a4a4a" textLength="7" lengthAdjust="spacingAndGlyphs" font-family="Liberation Sans, Arial, sans-serif">23,00</text><rect x="95.6" y="15.3" width="0.7" height="2.6" fill="#888"/><text x="95.9" y="13" font-size="3.6" text-anchor="middle" fill="#4a4a4a" textLength="7" lengthAdjust="spacingAndGlyphs" font-family="Liberation Sans, Arial, sans-serif">23,50</text><rect x="110.6" y="15.3" width="0.7" height="2.6" fill="#888"/><text x="111" y="13" font-size="3.6" text-anchor="middle" fill="#4a4a4a" textLength="7" lengthAdjust="spacingAndGlyphs" font-family="Liberation Sans, Arial, sans-serif">24,00</text><rect x="125.7" y="15.3" width="0.7" height="2.6" fill="#888"/><text x="126" y="13" font-size="3.6" text-anchor="middle" fill="#4a4a4a" textLength="7" lengthAdjust="spacingAndGlyphs" font-family="Liberation Sans, Arial, sans-serif">24,50</text><rect x="140.7" y="15.3" width="0.7" height="2.6" fill="#888"/><text x="141.1" y="13" font-size="3.6" text-anchor="middle" fill="#4a4a4a" textLength="7" lengthAdjust="spacingAndGlyphs" font-family="Liberation Sans, Arial, sans-serif">25,00</text><rect x="155.8" y="15.3" width="0.7" height="2.6" fill="#888"/><text x="156.1" y="13" font-size="3.6" text-anchor="middle" fill="#4a4a4a" textLength="7" lengthAdjust="spacingAndGlyphs" font-family="Liberation Sans, Arial, sans-serif">25,50</text><rect x="170.8" y="15.3" width="0.7" height="2.6" fill="#888"/><text x="171.2" y="13" font-size="3.6" text-anchor="middle" fill="#4a4a4a" textLength="7" lengthAdjust="spacingAndGlyphs" font-family="Liberation Sans, Arial, sans-serif">26,00</text><rect x="185.8" y="15.3" width="0.7" height="2.6" fill="#888"/><text x="186.2" y="13" font-size="3.6" text-anchor="middle" fill="#4a4a4a" textLength="7" lengthAdjust="spacingAndGlyphs" font-family="Liberation Sans, Arial, sans-serif">26,50</text><rect x="200.9" y="15.3" width="0.7" height="2.6" fill="#888"/><text x="201.2" y="13" font-size="3.6" text-anchor="middle" fill="#4a4a4a" textLength="7" lengthAdjust="spacingAndGlyphs" font-family="Liberation Sans, Arial, sans-serif">27,00</text><rect x="216" y="15.3" width="0.7" height="2.6" fill="#888"/><text x="216.3" y="13" font-size="3.6" text-anchor="middle" fill="#4a4a4a" textLength="7" lengthAdjust="spacingAndGlyphs" font-family="Liberation Sans, Arial, sans-serif">27,50</text><rect x="231" y="15.3" width="0.7" height="2.6" fill="#888"/><text x="231.4" y="13" font-size="3.6" text-anchor="middle" fill="#4a4a4a" textLength="7" lengthAdjust="spacingAndGlyphs" font-family="Liberation Sans, Arial, sans-serif">28,00</text><rect x="17.8" y="22" width="1.1" height="130.5" fill="#8e8e8e"/><rect x="16.1" y="23.9" width="1.6" height="0.6" fill="#9a9a9a"/><rect x="16.1" y="27.6" width="1.6" height="0.6" fill="#9a9a9a"/><rect x="16.1" y="31.4" width="1.6" height="0.6" fill="#9a9a9a"/><rect x="16.1" y="35.1" width="1.6" height="0.6" fill="#9a9a9a"/><rect x="16.1" y="38.8" width="1.6" height="0.6" fill="#9a9a9a"/><rect x="16.1" y="42.6" width="1.6" height="0.6" fill="#9a9a9a"/><rect x="16.1" y="46.3" width="1.6" height="0.6" fill="#9a9a9a"/><rect x="16.1" y="50" width="1.6" height="0.6" fill="#9a9a9a"/><rect x="16.1" y="53.8" width="1.6" height="0.6" fill="#9a9a9a"/><rect x="16.1" y="57.5" width="1.6" height="0.6" fill="#9a9a9a"/><rect x="16.1" y="61.2" width="1.6" height="0.6" fill="#9a9a9a"/><rect x="16.1" y="65" width="1.6" height="0.6" fill="#9a9a9a"/><rect x="16.1" y="68.7" width="1.6" height="0.6" fill="#9a9a9a"/><rect x="16.1" y="72.4" width="1.6" height="0.6" fill="#9a9a9a"/><rect x="16.1" y="76.2" width="1.6" height="0.6" fill="#9a9a9a"/><rect x="16.1" y="79.9" width="1.6" height="0.6" fill="#9a9a9a"/><rect x="16.1" y="83.6" width="1.6" height="0.6" fill="#9a9a9a"/><rect x="16.1" y="87.4" width="1.6" height="0.6" fill="#9a9a9a"/><rect x="16.1" y="91.1" width="1.6" height="0.6" fill="#9a9a9a"/><rect x="16.1" y="94.8" width="1.6" height="0.6" fill="#9a9a9a"/><rect x="16.1" y="98.6" width="1.6" height="0.6" fill="#9a9a9a"/><rect x="16.1" y="102.3" width="1.6" height="0.6" fill="#9a9a9a"/><rect x="16.1" y="106" width="1.6" height="0.6" fill="#9a9a9a"/><rect x="16.1" y="109.8" width="1.6" height="0.6" fill="#9a9a9a"/><rect x="16.1" y="113.5" width="1.6" height="0.6" fill="#9a9a9a"/><rect x="16.1" y="117.3" width="1.6" height="0.6" fill="#9a9a9a"/><rect x="16.1" y="121" width="1.6" height="0.6" fill="#9a9a9a"/><rect x="16.1" y="124.7" width="1.6" height="0.6" fill="#9a9a9a"/><rect x="16.1" y="128.5" width="1.6" height="0.6" fill="#9a9a9a"/><rect x="16.1" y="132.2" width="1.6" height="0.6" fill="#9a9a9a"/><rect x="16.1" y="135.9" width="1.6" height="0.6" fill="#9a9a9a"/><rect x="16.1" y="139.7" width="1.6" height="0.6" fill="#9a9a9a"/><rect x="16.1" y="143.4" width="1.6" height="0.6" fill="#9a9a9a"/><rect x="16.1" y="147.1" width="1.6" height="0.6" fill="#9a9a9a"/><rect x="16.1" y="150.9" width="1.6" height="0.6" fill="#9a9a9a"/><rect x="14.9" y="23.8" width="2.8" height="0.7" fill="#888"/><text x="15.6" y="25.5" font-size="3.6" text-anchor="end" fill="#4a4a4a" textLength="7" lengthAdjust="spacingAndGlyphs" font-family="Liberation Sans, Arial, sans-serif">30,00</text><rect x="14.9" y="42.5" width="2.8" height="0.7" fill="#888"/><text x="15.6" y="44.2" font-size="3.6" text-anchor="end" fill="#4a4a4a" textLength="7" lengthAdjust="spacingAndGlyphs" font-family="Liberation Sans, Arial, sans-serif">29,50</text><rect x="14.9" y="61.2" width="2.8" height="0.7" fill="#888"/><text x="15.6" y="62.8" font-size="3.6" text-anchor="end" fill="#4a4a4a" textLength="7" lengthAdjust="spacingAndGlyphs" font-family="Liberation Sans, Arial, sans-serif">29,00</text><rect x="14.9" y="79.9" width="2.8" height="0.7" fill="#888"/><text x="15.6" y="81.5" font-size="3.6" text-anchor="end" fill="#4a4a4a" textLength="7" lengthAdjust="spacingAndGlyphs" font-family="Liberation Sans, Arial, sans-serif">28,50</text><rect x="14.9" y="98.5" width="2.8" height="0.7" fill="#888"/><text x="15.6" y="100.2" font-size="3.6" text-anchor="end" fill="#4a4a4a" textLength="7" lengthAdjust="spacingAndGlyphs" font-family="Liberation Sans, Arial, sans-serif">28,00</text><rect x="14.9" y="117.2" width="2.8" height="0.7" fill="#888"/><text x="15.6" y="118.9" font-size="3.6" text-anchor="end" fill="#4a4a4a" textLength="7" lengthAdjust="spacingAndGlyphs" font-family="Liberation Sans, Arial, sans-serif">27,50</text><rect x="14.9" y="135.9" width="2.8" height="0.7" fill="#888"/><text x="15.6" y="137.5" font-size="3.6" text-anchor="end" fill="#4a4a4a" textLength="7" lengthAdjust="spacingAndGlyphs" font-family="Liberation Sans, Arial, sans-serif">27,00</text><rect x="246.3" y="30" width="10.3" height="6.1" fill="#ee0000"/><rect x="246.3" y="35.8" width="10.3" height="6.1" fill="#ff2000"/><rect x="246.3" y="41.6" width="10.3" height="6.1" fill="#ff5000"/><rect x="246.3" y="47.4" width="10.3" height="6.1" fill="#ff7800"/><rect x="246.3" y="53.2" width="10.3" height="6.1" fill="#ffa000"/><rect x="246.3" y="59" width="10.3" height="6.1" fill="#ffcc00"/><rect x="246.3" y="64.8" width="10.3" height="6.1" fill="#ffff00"/><rect x="246.3" y="70.6" width="10.3" height="6.1" fill="#ccff00"/><rect x="246.3" y="76.4" width="10.3" height="6.1" fill="#80ff40"/><rect x="246.3" y="82.2" width="10.3" height="6.1" fill="#00f080"/><rect x="246.3" y="88" width="10.3" height="6.1" fill="#00f0b0"/><rect x="246.3" y="93.8" width="10.3" height="6.1" fill="#00ffe8"/><rect x="246.3" y="99.6" width="10.3" height="6.1" fill="#00f0ff"/><rect x="246.3" y="105.4" width="10.3" height="6.1" fill="#00c8ff"/><rect x="246.3" y="111.2" width="10.3" height="6.1" fill="#00a0ff"/><rect x="246.3" y="117" width="10.3" height="6.1" fill="#0070ff"/><rect x="246.3" y="122.8" width="10.3" height="6.1" fill="#0040ff"/><rect x="246.3" y="128.6" width="10.3" height="6.1" fill="#0020f0"/><rect x="246.3" y="134.4" width="10.3" height="6.1" fill="#0000e0"/><rect x="246.3" y="35.5" width="10.3" height="0.5" fill="#000" fill-opacity="0.28"/><rect x="246.3" y="41.4" width="10.3" height="0.5" fill="#000" fill-opacity="0.28"/><rect x="246.3" y="47.1" width="10.3" height="0.5" fill="#000" fill-opacity="0.28"/><rect x="246.3" y="53" width="10.3" height="0.5" fill="#000" fill-opacity="0.28"/><rect x="246.3" y="58.8" width="10.3" height="0.5" fill="#000" fill-opacity="0.28"/><rect x="246.3" y="64.5" width="10.3" height="0.5" fill="#000" fill-opacity="0.28"/><rect x="246.3" y="70.3" width="10.3" height="0.5" fill="#000" fill-opacity="0.28"/><rect x="246.3" y="76.2" width="10.3" height="0.5" fill="#000" fill-opacity="0.28"/><rect x="246.3" y="81.9" width="10.3" height="0.5" fill="#000" fill-opacity="0.28"/><rect x="246.3" y="87.8" width="10.3" height="0.5" fill="#000" fill-opacity="0.28"/><rect x="246.3" y="93.5" width="10.3" height="0.5" fill="#000" fill-opacity="0.28"/><rect x="246.3" y="99.3" width="10.3" height="0.5" fill="#000" fill-opacity="0.28"/><rect x="246.3" y="105.1" width="10.3" height="0.5" fill="#000" fill-opacity="0.28"/><rect x="246.3" y="111" width="10.3" height="0.5" fill="#000" fill-opacity="0.28"/><rect x="246.3" y="116.8" width="10.3" height="0.5" fill="#000" fill-opacity="0.28"/><rect x="246.3" y="122.5" width="10.3" height="0.5" fill="#000" fill-opacity="0.28"/><rect x="246.3" y="128.3" width="10.3" height="0.5" fill="#000" fill-opacity="0.28"/><rect x="246.3" y="134.1" width="10.3" height="0.5" fill="#000" fill-opacity="0.28"/><text x="260.3" y="37.1" font-size="3.6" fill="#4a4a4a" textLength="8.5" lengthAdjust="spacingAndGlyphs" font-family="Liberation Sans, Arial, sans-serif">360,00</text><text x="260.3" y="48.7" font-size="3.6" fill="#4a4a4a" textLength="8.5" lengthAdjust="spacingAndGlyphs" font-family="Liberation Sans, Arial, sans-serif">320,00</text><text x="260.3" y="60.3" font-size="3.6" fill="#4a4a4a" textLength="8.5" lengthAdjust="spacingAndGlyphs" font-family="Liberation Sans, Arial, sans-serif">280,00</text><text x="260.3" y="71.9" font-size="3.6" fill="#4a4a4a" textLength="8.5" lengthAdjust="spacingAndGlyphs" font-family="Liberation Sans, Arial, sans-serif">240,00</text><text x="260.3" y="83.5" font-size="3.6" fill="#4a4a4a" textLength="8.5" lengthAdjust="spacingAndGlyphs" font-family="Liberation Sans, Arial, sans-serif">200,00</text><text x="260.3" y="95.1" font-size="3.6" fill="#4a4a4a" textLength="8.5" lengthAdjust="spacingAndGlyphs" font-family="Liberation Sans, Arial, sans-serif">160,00</text><text x="260.3" y="106.7" font-size="3.6" fill="#4a4a4a" textLength="8.5" lengthAdjust="spacingAndGlyphs" font-family="Liberation Sans, Arial, sans-serif">120,00</text><text x="260.3" y="118.3" font-size="3.6" fill="#4a4a4a" textLength="7" lengthAdjust="spacingAndGlyphs" font-family="Liberation Sans, Arial, sans-serif">80,00</text><text x="260.3" y="129.9" font-size="3.6" fill="#4a4a4a" textLength="7" lengthAdjust="spacingAndGlyphs" font-family="Liberation Sans, Arial, sans-serif">40,00</text><text x="260.3" y="141.5" font-size="3.6" fill="#4a4a4a" textLength="5.5" lengthAdjust="spacingAndGlyphs" font-family="Liberation Sans, Arial, sans-serif">0,00</text><text x="254.2" y="26.4" font-size="3.6" fill="#555" font-family="Liberation Sans, Arial, sans-serif">[*10<tspan font-size="2.2" dy="-1.1">-3</tspan><tspan dy="1.1"> m]</tspan></text><rect x="264.3" y="145.3" width="5" height="5" fill="#e4e4e4" stroke="#c8c8c8" stroke-width="0.4"/><rect x="265.5" y="146.8" width="2.6" height="2.4" fill="#f0b030"/><rect x="26" y="165.6" width="4.6" height="3.9" fill="#f7b731"/><text x="146.5" y="163" font-size="3.8" font-weight="bold" text-anchor="middle" fill="#1a1a1a" textLength="67.5" lengthAdjust="spacingAndGlyphs" font-family="Liberation Sans, Arial, sans-serif">Total displacements |u| (scaled up 5,00 times)</text><text x="146.5" y="169.3" font-size="3.5" text-anchor="middle" fill="#3a3a3a" textLength="71" lengthAdjust="spacingAndGlyphs" font-family="Liberation Sans, Arial, sans-serif">Maximum value = 0,3750 m (Element 7038 at Node 64633)</text><rect x="276.8" y="6.5" width="267.4" height="166.7" fill="#efefef"/><clipPath id="g1"><path d="M292.8,135.8 L325.2,135.8 L412.2,27.2 L514.8,27.2 L514.8,153.5 L292.8,153.5Z"/></clipPath><clipPath id="c1_16"><path d="M427.5,55.5C425.6,55.7 422.7,58.6 420,61C417.3,63.4 415.4,66.8 411.4,70C407.4,73.2 400.9,76.7 396,80C391.1,83.3 386.5,86.8 381.8,90C377.1,93.2 372.5,96.2 368,99C363.5,101.8 359,104.3 355,107C351,109.7 347.3,112.3 344,115C340.7,117.7 337.7,120.3 335,123C332.3,125.7 330.8,128.7 328,131C325.2,133.3 317.7,134.5 318,137C318.3,139.5 318.8,145.2 330,146C341.2,146.8 374.7,146.7 385,142C395.3,137.3 390.3,123.7 392,118C393.7,112.3 394,110.8 395,108C396,105.2 395.6,103.6 398,101C400.4,98.4 405.2,95.7 409.2,92.4C413.2,89.1 418.4,85.1 421.8,81.4C425.2,77.7 428.1,74 429.7,70.4C431.3,66.8 431.9,62.5 431.5,60C431.1,57.5 429.4,55.3 427.5,55.5Z"/></clipPath><clipPath id="c1_15"><path clip-rule="evenodd" d="M242.8,-22.8H564.8V203.5H242.8ZM300,20C321,3.3 405.3,18.8 426,20C446.7,21.2 425,25.8 424,27.5C423,29.2 421.5,28.8 420,30C418.5,31.2 417,32.5 415,35C413,37.5 410.5,41.7 408,45C405.5,48.3 402.2,52.1 400,55C397.8,57.9 396.2,59.8 394.5,62.3C392.8,64.8 392.2,67 389.5,70C386.8,73 381.9,76.7 378,80C374.1,83.3 369.5,86.7 365.8,90C362.1,93.3 359.1,96.7 356,100C352.9,103.3 350,106.7 347,110C344,113.3 345.8,118.3 338,120C330.2,121.7 306.3,136.7 300,120C293.7,103.3 279,36.7 300,20Z"/></clipPath><pattern id="m1_0" patternUnits="userSpaceOnUse" width="9" height="7"><path d="M-4.5,-3.5L13.5,10.5M-4.5,10.5L13.5,-3.5M-4.5,3.5L4.5,-3.5M4.5,10.5L13.5,3.5M-4.5,3.5L4.5,10.5M4.5,-3.5L13.5,3.5" stroke="#a0a0d0" stroke-opacity="0.45" stroke-width="0.45" fill="none"/><path d="M0,0V7M4.5,-3.5V10.5M9,0V7" stroke="#a0a0d0" stroke-opacity="0.1575" stroke-width="0.45" fill="none"/><circle cx="0" cy="0" r="0.65" fill="#9898b0" fill-opacity="0.7"/><circle cx="9" cy="0" r="0.65" fill="#9898b0" fill-opacity="0.7"/><circle cx="0" cy="7" r="0.65" fill="#9898b0" fill-opacity="0.7"/><circle cx="9" cy="7" r="0.65" fill="#9898b0" fill-opacity="0.7"/><circle cx="4.5" cy="3.5" r="0.65" fill="#9898b0" fill-opacity="0.7"/></pattern><pattern id="m1_1" patternUnits="userSpaceOnUse" width="5" height="4"><path d="M-2.5,-2L7.5,6M-2.5,6L7.5,-2M-2.5,2L2.5,-2M2.5,6L7.5,2M-2.5,2L2.5,6M2.5,-2L7.5,2" stroke="#a0a0d0" stroke-opacity="0.38" stroke-width="0.4" fill="none"/><path d="M0,0V4M2.5,-2V6M5,0V4" stroke="#a0a0d0" stroke-opacity="0.13299999999999998" stroke-width="0.4" fill="none"/><circle cx="0" cy="0" r="0.55" fill="#9898b0" fill-opacity="0.6"/><circle cx="5" cy="0" r="0.55" fill="#9898b0" fill-opacity="0.6"/><circle cx="0" cy="4" r="0.55" fill="#9898b0" fill-opacity="0.6"/><circle cx="5" cy="4" r="0.55" fill="#9898b0" fill-opacity="0.6"/><circle cx="2.5" cy="2" r="0.55" fill="#9898b0" fill-opacity="0.6"/></pattern><g clip-path="url(#g1)"><path d="M292.8,135.8 L325.2,135.8 L412.2,27.2 L514.8,27.2 L514.8,153.5 L292.8,153.5Z" fill="#ff7800"/><path d="M300,20C321,3.3 405.3,18.8 426,20C446.7,21.2 425,25.8 424,27.5C423,29.2 421.5,28.8 420,30C418.5,31.2 417,32.5 415,35C413,37.5 410.5,41.7 408,45C405.5,48.3 402.2,52.1 400,55C397.8,57.9 396.2,59.8 394.5,62.3C392.8,64.8 392.2,67 389.5,70C386.8,73 381.9,76.7 378,80C374.1,83.3 369.5,86.7 365.8,90C362.1,93.3 359.1,96.7 356,100C352.9,103.3 350,106.7 347,110C344,113.3 345.8,118.3 338,120C330.2,121.7 306.3,136.7 300,120C293.7,103.3 279,36.7 300,20Z" fill="#ffa000"/><path d="M427.5,55.5C425.6,55.7 422.7,58.6 420,61C417.3,63.4 415.4,66.8 411.4,70C407.4,73.2 400.9,76.7 396,80C391.1,83.3 386.5,86.8 381.8,90C377.1,93.2 372.5,96.2 368,99C363.5,101.8 359,104.3 355,107C351,109.7 347.3,112.3 344,115C340.7,117.7 337.7,120.3 335,123C332.3,125.7 330.8,128.7 328,131C325.2,133.3 317.7,134.5 318,137C318.3,139.5 318.8,145.2 330,146C341.2,146.8 374.7,146.7 385,142C395.3,137.3 390.3,123.7 392,118C393.7,112.3 394,110.8 395,108C396,105.2 395.6,103.6 398,101C400.4,98.4 405.2,95.7 409.2,92.4C413.2,89.1 418.4,85.1 421.8,81.4C425.2,77.7 428.1,74 429.7,70.4C431.3,66.8 431.9,62.5 431.5,60C431.1,57.5 429.4,55.3 427.5,55.5Z" fill="#ff5000"/><path d="M318,140C307.8,138.8 323.2,136.2 325,135C326.8,133.8 326.9,134.5 329,133C331.1,131.5 334.5,128.1 337.7,126C340.9,123.9 344.3,122 348.2,120.5C352.1,119 356.9,117.8 361.3,117C365.7,116.2 371.3,115.5 374.4,115.5C377.5,115.5 378.6,115.6 380,117C381.4,118.4 382,119.8 383,124C384,128.2 396.8,139.3 386,142C375.2,144.7 328.2,141.2 318,140Z" fill="#ff2000"/><path d="M436,5 L435.8,7 L435.7,9.6 L435.5,12.8 L435.2,16.2 L434.9,19.9 L434.6,23.5 L434.2,26.9 L433.8,30 L433.5,32.7 L433.2,35.4 L432.8,37.9 L432.4,40.3 L431.9,42.7 L431.3,45.1 L430.7,47.5 L430,50 L429.7,52.5 L429.4,55.1 L429,57.7 L428.5,60.3 L427.9,62.9 L427.2,65.4 L426.4,67.7 L425.5,70 L424.4,72.1 L423.1,74.1 L421.7,76 L420.2,77.8 L418.6,79.6 L417,81.4 L415.5,83.2 L414,85 L412.4,86.9 L410.9,88.8 L409.3,90.7 L407.7,92.7 L406.2,94.6 L404.6,96.4 L403,98.2 L401.5,100 L399.3,101.7 L397.1,103.4 L395,105 L392.9,106.6 L390.8,108.2 L388.7,109.7 L386.6,111.1 L384.5,112.5 L382.4,113.8 L380.3,115.1 L378.4,116.3 L376.5,117.5 L374.6,118.6 L372.7,119.7 L370.8,120.8 L369,121.8 L367.2,122.8 L365.4,123.7 L363.7,124.7 L361.9,125.5 L360.2,126.4 L358.5,127.2 L356.7,127.9 L355,128.6 L353.2,129.2 L351.5,129.8 L349.7,130.4 L347.9,130.9 L346.1,131.3 L344.4,131.7 L342.7,132.1 L341,132.5 L339.4,132.8 L337.9,133.1 L336.4,133.4 L334.9,133.6 L333.4,133.8 L332,134 L330.5,134.2 L329,134.4 L327.5,134.6 L325.9,134.7 L324.3,134.9 L322.8,135 L321.2,135.1 L319.7,135.2 L318.3,135.3 L317,135.4 L315.8,135.5 L314.6,135.5 L313.6,135.6 L312.6,135.6 L311.6,135.6 L310.7,135.7 L309.8,135.7 L309,135.7 L308.3,135.7 L307.6,135.7 L307.1,135.7 L306.5,135.7 L306,135.7 L305.5,135.7 L304.9,135.7 L304.2,135.6 L303.6,135.5 L303.1,135.5 L302.6,135.4 L302,135.3 L301.3,135.1 L300.3,135 L298.9,134.8 L297,134.5 L294.7,134.2 L292.2,133.9 L289.4,133.5 L286.3,133.1 L282.8,132.6 L278.7,132.1 L274.2,131.6 L269,131 L262.8,128.4 L255.3,123.1 L247.1,116.6 L239.4,110.6 L231.6,106.8 L223.6,106.8 L215.3,112.3 L209,125 L204.4,147.8 L200.7,180.4 L197.7,219.6 L195.2,262.1 L193.3,304.7 L191.7,344 L190.3,376.9 L189,400 L700,400 L700,5Z" fill="#ff5000" clip-path="url(#c1_16)"/><path d="M438,5 L437.8,7 L437.7,9.6 L437.5,12.8 L437.2,16.2 L436.9,19.9 L436.6,23.5 L436.2,26.9 L435.8,30 L435.5,32.7 L435.2,35.4 L434.8,37.9 L434.4,40.3 L433.9,42.7 L433.3,45.1 L432.7,47.5 L432,50 L431.7,52.5 L431.3,55.1 L430.9,57.7 L430.3,60.3 L429.7,62.9 L429,65.4 L428.2,67.7 L427.2,70 L426.2,72.1 L424.9,74.1 L423.6,76 L422.1,77.8 L420.6,79.6 L419.1,81.4 L417.5,83.2 L416.1,85 L414.5,86.9 L412.9,88.8 L411.4,90.7 L409.8,92.7 L408.2,94.6 L406.6,96.4 L405.1,98.2 L403.5,100 L401.1,101.7 L398.8,103.4 L396.5,105 L394.3,106.6 L392,108.2 L389.8,109.7 L387.6,111.1 L385.3,112.5 L383.1,113.8 L380.9,115.1 L379,116.3 L377.2,117.5 L375.3,118.6 L373.5,119.7 L371.7,120.8 L369.9,121.8 L368.1,122.8 L366.4,123.7 L364.7,124.7 L363,125.5 L361.3,126.4 L359.6,127.2 L357.9,127.9 L356.1,128.6 L354.4,129.2 L352.6,129.8 L350.9,130.4 L349.1,130.9 L347.3,131.3 L345.6,131.7 L343.9,132.1 L342.2,132.5 L340.6,132.8 L339.1,133.1 L337.6,133.4 L336.1,133.6 L334.6,133.8 L333.2,134 L331.7,134.2 L330.2,134.4 L328.7,134.6 L327.1,134.7 L325.5,134.9 L323.9,135 L322.4,135.1 L320.9,135.2 L319.5,135.3 L318.2,135.4 L317,135.5 L315.8,135.5 L314.8,135.6 L313.8,135.6 L312.8,135.6 L311.9,135.7 L311,135.7 L310.2,135.7 L309.5,135.7 L308.8,135.7 L308.3,135.7 L307.7,135.7 L307.2,135.7 L306.7,135.7 L306.1,135.7 L305.4,135.6 L304.8,135.5 L304.3,135.5 L303.8,135.4 L303.2,135.3 L302.5,135.1 L301.5,135 L300.1,134.8 L298.2,134.5 L295.9,134.2 L293.4,133.9 L290.6,133.5 L287.5,133.1 L284,132.6 L279.9,132.1 L275.4,131.6 L270.2,131 L263.9,128.4 L256.2,123.1 L247.7,116.6 L240.4,110.6 L233,106.8 L224.9,106.8 L216.2,112.3 L210,125 L205.6,147.8 L201.9,180.4 L198.9,219.6 L196.4,262.1 L194.5,304.7 L192.9,344 L191.5,376.9 L190.2,400 L700,400 L700,5Z" fill="#ff7800" clip-path="url(#c1_15)"/><path d="M439,5 L438.8,7 L438.7,9.6 L438.5,12.8 L438.2,16.2 L437.9,19.9 L437.6,23.5 L437.2,26.9 L436.8,30 L436.5,32.7 L436.2,35.4 L435.9,37.9 L435.5,40.3 L435,42.7 L434.5,45.1 L433.9,47.5 L433.2,50 L432.9,52.5 L432.6,55.1 L432.2,57.7 L431.7,60.3 L431.1,62.9 L430.4,65.4 L429.6,67.7 L428.7,70 L427.6,72.1 L426.2,74.1 L424.8,76 L423.2,77.8 L421.6,79.6 L419.9,81.4 L418.3,83.2 L416.8,85 L415.2,86.9 L413.5,88.8 L411.9,90.7 L410.3,92.7 L408.6,94.6 L407,96.4 L405.4,98.2 L403.8,100 L401.5,101.7 L399.2,103.4 L397,105 L394.8,106.6 L392.6,108.2 L390.4,109.7 L388.2,111.1 L386,112.5 L383.8,113.8 L381.6,115.1 L379.7,116.3 L377.9,117.5 L376,118.6 L374.1,119.7 L372.3,120.8 L370.5,121.8 L368.8,122.8 L367,123.7 L365.3,124.7 L363.6,125.5 L361.9,126.4 L360.2,127.2 L358.5,127.9 L356.8,128.6 L355,129.2 L353.2,129.8 L351.5,130.4 L349.7,130.9 L347.9,131.3 L346.2,131.7 L344.5,132.1 L342.8,132.5 L341.2,132.8 L339.7,133.1 L338.2,133.4 L336.7,133.6 L335.2,133.8 L333.8,134 L332.3,134.2 L330.8,134.4 L329.3,134.6 L327.7,134.7 L326.1,134.9 L324.6,135 L323,135.1 L321.5,135.2 L320.1,135.3 L318.8,135.4 L317.6,135.5 L316.4,135.5 L315.4,135.6 L314.4,135.6 L313.4,135.6 L312.5,135.7 L311.6,135.7 L310.8,135.7 L310.1,135.7 L309.4,135.7 L308.9,135.7 L308.3,135.7 L307.8,135.7 L307.3,135.7 L306.7,135.7 L306,135.6 L305.4,135.5 L304.9,135.5 L304.4,135.4 L303.8,135.3 L303.1,135.1 L302.1,135 L300.7,134.8 L298.8,134.5 L296.5,134.2 L294,133.9 L291.2,133.5 L288.1,133.1 L284.6,132.6 L280.5,132.1 L276,131.6 L270.8,131 L264.5,128.4 L256.9,123.1 L248.4,116.6 L241,110.6 L233.5,106.8 L225.4,106.8 L216.8,112.3 L210.6,125 L206.2,147.8 L202.5,180.4 L199.5,219.6 L197.1,262.1 L195.1,304.7 L193.5,344 L192.1,376.9 L190.8,400 L700,400 L700,5Z" fill="#ffa000"/><path d="M445,5 L444.8,7 L444.7,9.6 L444.5,12.8 L444.2,16.2 L443.9,19.9 L443.6,23.5 L443.2,26.9 L442.8,30 L442.5,32.7 L442.2,35.4 L441.8,37.9 L441.4,40.3 L440.9,42.7 L440.3,45.1 L439.7,47.5 L439,50 L438.1,52.5 L437.1,55.1 L436,57.7 L434.9,60.3 L433.7,62.9 L432.4,65.4 L431,67.7 L429.5,70 L428.3,72.1 L427,74.1 L425.5,76 L423.9,77.8 L422.3,79.6 L420.7,81.4 L419,83.2 L417.5,85 L415.8,86.9 L414.2,88.8 L412.5,90.7 L410.8,92.7 L409.1,94.6 L407.5,96.4 L405.8,98.2 L404.2,100 L401.9,101.7 L399.7,103.4 L397.5,105 L395.3,106.6 L393.1,108.2 L391,109.7 L388.8,111.1 L386.6,112.5 L384.4,113.8 L382.3,115.1 L380.4,116.3 L378.6,117.5 L376.7,118.6 L374.8,119.7 L373,120.8 L371.2,121.8 L369.5,122.8 L367.7,123.7 L366,124.7 L364.3,125.5 L362.6,126.4 L360.9,127.2 L359.2,127.9 L357.5,128.6 L355.7,129.2 L353.9,129.8 L352.2,130.4 L350.4,130.9 L348.6,131.3 L346.9,131.7 L345.2,132.1 L343.5,132.5 L341.9,132.8 L340.4,133.1 L338.9,133.4 L337.4,133.6 L335.9,133.8 L334.5,134 L333,134.2 L331.5,134.4 L330,134.6 L328.4,134.7 L326.8,134.9 L325.2,135 L323.7,135.1 L322.2,135.2 L320.8,135.3 L319.5,135.4 L318.3,135.5 L317.1,135.5 L316.1,135.6 L315.1,135.6 L314.1,135.6 L313.2,135.7 L312.3,135.7 L311.5,135.7 L310.8,135.7 L310.1,135.7 L309.6,135.7 L309,135.7 L308.5,135.7 L308,135.7 L307.4,135.7 L306.7,135.6 L306.1,135.5 L305.6,135.5 L305.1,135.4 L304.5,135.3 L303.8,135.1 L302.8,135 L301.4,134.8 L299.5,134.5 L297.2,134.2 L294.7,133.9 L291.9,133.5 L288.8,133.1 L285.3,132.6 L281.2,132.1 L276.7,131.6 L271.5,131 L265.2,128.4 L257.6,123.1 L249.1,116.6 L241.6,110.6 L234,106.8 L226,106.8 L217.5,112.3 L211.3,125 L206.9,147.8 L203.2,180.4 L200.2,219.6 L197.8,262.1 L195.8,304.7 L194.2,344 L192.8,376.9 L191.5,400 L700,400 L700,5Z" fill="#ffcc00"/><path d="M450.5,5 L450.3,7 L450.2,9.6 L450,12.8 L449.7,16.2 L449.4,19.9 L449.1,23.5 L448.7,26.9 L448.3,30 L447.7,32.7 L447,35.4 L446.3,37.9 L445.6,40.3 L444.8,42.7 L444,45.1 L443,47.5 L442,50 L440.8,52.5 L439.6,55.1 L438.3,57.7 L436.9,60.3 L435.4,62.9 L433.9,65.4 L432.2,67.7 L430.5,70 L429.3,72.1 L428,74.1 L426.5,76 L424.9,77.8 L423.3,79.6 L421.7,81.4 L420,83.2 L418.5,85 L416.8,86.9 L415.1,88.8 L413.4,90.7 L411.7,92.7 L410,94.6 L408.3,96.4 L406.7,98.2 L405,100 L402.8,101.7 L400.6,103.4 L398.5,105 L396.4,106.6 L394.3,108.2 L392.2,109.7 L390.1,111.1 L388,112.5 L385.9,113.8 L383.8,115.1 L381.9,116.3 L380.1,117.5 L378.2,118.6 L376.3,119.7 L374.5,120.8 L372.7,121.8 L371,122.8 L369.2,123.7 L367.5,124.7 L365.8,125.5 L364.1,126.4 L362.4,127.2 L360.7,127.9 L359,128.6 L357.2,129.2 L355.4,129.8 L353.7,130.4 L351.9,130.9 L350.1,131.3 L348.4,131.7 L346.7,132.1 L345,132.5 L343.4,132.8 L341.9,133.1 L340.4,133.4 L338.9,133.6 L337.4,133.8 L336,134 L334.5,134.2 L333,134.4 L331.5,134.6 L329.9,134.7 L328.3,134.9 L326.8,135 L325.2,135.1 L323.7,135.2 L322.3,135.3 L321,135.4 L319.8,135.5 L318.6,135.5 L317.6,135.6 L316.6,135.6 L315.6,135.6 L314.7,135.7 L313.8,135.7 L313,135.7 L312.3,135.7 L311.6,135.7 L311.1,135.7 L310.5,135.7 L310,135.7 L309.5,135.7 L308.9,135.7 L308.2,135.6 L307.6,135.5 L307.1,135.5 L306.6,135.4 L306,135.3 L305.3,135.1 L304.3,135 L302.9,134.8 L301,134.5 L298.7,134.2 L296.2,133.9 L293.4,133.5 L290.3,133.1 L286.8,132.6 L282.7,132.1 L278.2,131.6 L273,131 L266.7,128.4 L259.1,123.1 L250.6,116.6 L242.9,110.6 L235.1,106.8 L227.1,106.8 L218.8,112.3 L212.8,125 L208.4,147.8 L204.7,180.4 L201.7,219.6 L199.2,262.1 L197.3,304.7 L195.7,344 L194.3,376.9 L193,400 L700,400 L700,5Z" fill="#ffff00"/><path d="M456.5,5 L456.3,7 L456.2,9.6 L456,12.8 L455.7,16.2 L455.4,19.9 L455.1,23.5 L454.7,26.9 L454.3,30 L453.4,32.7 L452.4,35.4 L451.5,37.9 L450.5,40.3 L449.5,42.7 L448.4,45.1 L447.2,47.5 L445.9,50 L444.7,52.5 L443.5,55.1 L442.2,57.7 L440.8,60.3 L439.4,62.9 L437.8,65.4 L436.2,67.7 L434.5,70 L433.3,72.1 L431.8,74.1 L430.3,76 L428.6,77.8 L426.9,79.6 L425.2,81.4 L423.5,83.2 L421.9,85 L420.1,86.9 L418.4,88.8 L416.6,90.7 L414.9,92.7 L413.1,94.6 L411.3,96.4 L409.6,98.2 L407.9,100 L405.7,101.7 L403.6,103.4 L401.4,105 L399.3,106.6 L397.3,108.2 L395.2,109.7 L393.1,111.1 L391,112.5 L388.9,113.8 L386.8,115.1 L384.9,116.3 L383.1,117.5 L381.2,118.6 L379.3,119.7 L377.5,120.8 L375.7,121.8 L374,122.8 L372.2,123.7 L370.5,124.7 L368.8,125.5 L367.1,126.4 L365.4,127.2 L363.7,127.9 L362,128.6 L360.2,129.2 L358.4,129.8 L356.7,130.4 L354.9,130.9 L353.1,131.3 L351.4,131.7 L349.7,132.1 L348,132.5 L346.4,132.8 L344.9,133.1 L343.4,133.4 L341.9,133.6 L340.4,133.8 L339,134 L337.5,134.2 L336,134.4 L334.5,134.6 L332.9,134.7 L331.3,134.9 L329.8,135 L328.2,135.1 L326.7,135.2 L325.3,135.3 L324,135.4 L322.8,135.5 L321.6,135.5 L320.6,135.6 L319.6,135.6 L318.6,135.6 L317.7,135.7 L316.8,135.7 L316,135.7 L315.3,135.7 L314.6,135.7 L314.1,135.7 L313.5,135.7 L313,135.7 L312.5,135.7 L311.9,135.7 L311.2,135.6 L310.6,135.5 L310.1,135.5 L309.6,135.4 L309,135.3 L308.3,135.1 L307.3,135 L305.9,134.8 L304,134.5 L301.7,134.2 L299.2,133.9 L296.4,133.5 L293.3,133.1 L289.8,132.6 L285.7,132.1 L281.2,131.6 L276,131 L269.7,128.4 L262.1,123.1 L253.6,116.6 L245.9,110.6 L238.1,106.8 L230,106.8 L221.8,112.3 L215.8,125 L211.4,147.8 L207.7,180.4 L204.7,219.6 L202.2,262.1 L200.3,304.7 L198.7,344 L197.3,376.9 L196,400 L700,400 L700,5Z" fill="#ccff00"/><path d="M458.1,5 L457.9,7 L457.8,9.6 L457.6,12.8 L457.3,16.2 L457,19.9 L456.7,23.5 L456.3,26.9 L455.9,30 L455,32.7 L454.2,35.4 L453.3,37.9 L452.4,40.3 L451.4,42.7 L450.3,45.1 L449.2,47.5 L448,50 L446.8,52.5 L445.6,55.1 L444.3,57.7 L442.9,60.3 L441.4,62.9 L439.9,65.4 L438.2,67.7 L436.5,70 L435.1,72.1 L433.6,74.1 L431.9,76 L430.2,77.8 L428.4,79.6 L426.5,81.4 L424.7,83.2 L423,85 L421.2,86.9 L419.4,88.8 L417.5,90.7 L415.7,92.7 L413.9,94.6 L412.1,96.4 L410.3,98.2 L408.5,100 L406.3,101.7 L404.2,103.4 L402.1,105 L400,106.6 L397.9,108.2 L395.8,109.7 L393.8,111.1 L391.7,112.5 L389.6,113.8 L387.5,115.1 L385.6,116.3 L383.8,117.5 L381.9,118.6 L380,119.7 L378.2,120.8 L376.4,121.8 L374.7,122.8 L372.9,123.7 L371.2,124.7 L369.5,125.5 L367.8,126.4 L366.1,127.2 L364.4,127.9 L362.7,128.6 L360.9,129.2 L359.1,129.8 L357.4,130.4 L355.6,130.9 L353.8,131.3 L352.1,131.7 L350.4,132.1 L348.7,132.5 L347.1,132.8 L345.6,133.1 L344.1,133.4 L342.6,133.6 L341.1,133.8 L339.7,134 L338.2,134.2 L336.7,134.4 L335.2,134.6 L333.6,134.7 L332,134.9 L330.4,135 L328.9,135.1 L327.4,135.2 L326,135.3 L324.7,135.4 L323.5,135.5 L322.3,135.5 L321.3,135.6 L320.2,135.6 L319.3,135.6 L318.4,135.7 L317.5,135.7 L316.7,135.7 L316,135.7 L315.3,135.7 L314.8,135.7 L314.2,135.7 L313.7,135.7 L313.2,135.7 L312.6,135.7 L311.9,135.6 L311.3,135.5 L310.8,135.5 L310.3,135.4 L309.7,135.3 L309,135.1 L308,135 L306.6,134.8 L304.7,134.5 L302.4,134.2 L299.9,133.9 L297.1,133.5 L294,133.1 L290.5,132.6 L286.4,132.1 L281.9,131.6 L276.7,131 L270.4,128.4 L262.8,123.1 L254.3,116.6 L246.5,110.6 L238.7,106.8 L230.7,106.8 L222.5,112.3 L216.5,125 L212.1,147.8 L208.4,180.4 L205.4,219.6 L202.9,262.1 L201,304.7 L199.4,344 L198,376.9 L196.7,400 L700,400 L700,5Z" fill="#00f080"/><path d="M461.9,5 L461.7,7 L461.6,9.6 L461.4,12.8 L461.1,16.2 L460.8,19.9 L460.5,23.5 L460.1,26.9 L459.7,30 L458.5,32.7 L457.4,35.4 L456.3,37.9 L455.1,40.3 L453.9,42.7 L452.6,45.1 L451.2,47.5 L449.7,50 L448.8,52.5 L447.9,55.1 L446.9,57.7 L445.8,60.3 L444.6,62.9 L443.3,65.4 L442,67.7 L440.5,70 L439,72.1 L437.3,74.1 L435.5,76 L433.6,77.8 L431.7,79.6 L429.8,81.4 L427.9,83.2 L426,85 L423.9,86.9 L421.7,88.8 L419.6,90.7 L417.4,92.7 L415.3,94.6 L413.2,96.4 L411.1,98.2 L409,100 L406.9,101.7 L404.8,103.4 L402.7,105 L400.6,106.6 L398.6,108.2 L396.5,109.7 L394.5,111.1 L392.4,112.5 L390.3,113.8 L388.3,115.1 L386.4,116.3 L384.6,117.5 L382.7,118.6 L380.8,119.7 L379,120.8 L377.2,121.8 L375.5,122.8 L373.7,123.7 L372,124.7 L370.3,125.5 L368.6,126.4 L366.9,127.2 L365.2,127.9 L363.5,128.6 L361.7,129.2 L359.9,129.8 L358.2,130.4 L356.4,130.9 L354.6,131.3 L352.9,131.7 L351.2,132.1 L349.5,132.5 L347.9,132.8 L346.4,133.1 L344.9,133.4 L343.4,133.6 L341.9,133.8 L340.5,134 L339,134.2 L337.5,134.4 L336,134.6 L334.4,134.7 L332.8,134.9 L331.2,135 L329.7,135.1 L328.2,135.2 L326.8,135.3 L325.5,135.4 L324.3,135.5 L323.1,135.5 L322.1,135.6 L321.1,135.6 L320.1,135.6 L319.2,135.7 L318.3,135.7 L317.5,135.7 L316.8,135.7 L316.1,135.7 L315.6,135.7 L315,135.7 L314.5,135.7 L314,135.7 L313.4,135.7 L312.7,135.6 L312.1,135.5 L311.6,135.5 L311.1,135.4 L310.5,135.3 L309.8,135.1 L308.8,135 L307.4,134.8 L305.5,134.5 L303.2,134.2 L300.7,133.9 L297.9,133.5 L294.8,133.1 L291.3,132.6 L287.2,132.1 L282.7,131.6 L277.5,131 L271.2,128.4 L263.6,123.1 L255.1,116.6 L247.2,110.6 L239.3,106.8 L231.3,106.8 L223.3,112.3 L217.3,125 L212.9,147.8 L209.2,180.4 L206.2,219.6 L203.8,262.1 L201.8,304.7 L200.2,344 L198.8,376.9 L197.5,400 L700,400 L700,5Z" fill="#00f0b0"/><path d="M463.1,5 L462.9,7 L462.8,9.6 L462.6,12.8 L462.3,16.2 L462,19.9 L461.7,23.5 L461.3,26.9 L460.9,30 L460,32.7 L459.2,35.4 L458.3,37.9 L457.4,40.3 L456.4,42.7 L455.3,45.1 L454.2,47.5 L453,50 L452,52.5 L450.9,55.1 L449.8,57.7 L448.6,60.3 L447.3,62.9 L445.9,65.4 L444.5,67.7 L442.9,70 L441.4,72.1 L439.7,74.1 L438,76 L436.1,77.8 L434.2,79.6 L432.2,81.4 L430.3,83.2 L428.5,85 L426.4,86.9 L424.2,88.8 L422.1,90.7 L419.9,92.7 L417.8,94.6 L415.7,96.4 L413.6,98.2 L411.5,100 L409.5,101.7 L407.6,103.4 L405.7,105 L403.8,106.6 L401.9,108.2 L400,109.7 L398.1,111.1 L396.2,112.5 L394.2,113.8 L392.3,115.1 L390.4,116.3 L388.5,117.5 L386.6,118.6 L384.7,119.7 L382.8,120.8 L381,121.8 L379.2,122.8 L377.4,123.7 L375.7,124.7 L373.9,125.5 L372.2,126.4 L370.5,127.2 L368.7,127.9 L367,128.6 L365.2,129.2 L363.5,129.8 L361.7,130.4 L359.9,130.9 L358.1,131.3 L356.4,131.7 L354.7,132.1 L353,132.5 L351.4,132.8 L349.9,133.1 L348.4,133.4 L346.9,133.6 L345.4,133.8 L344,134 L342.5,134.2 L341,134.4 L339.5,134.6 L337.9,134.7 L336.3,134.9 L334.8,135 L333.2,135.1 L331.7,135.2 L330.3,135.3 L329,135.4 L327.8,135.5 L326.6,135.5 L325.6,135.6 L324.6,135.6 L323.6,135.6 L322.7,135.7 L321.8,135.7 L321,135.7 L320.3,135.7 L319.6,135.7 L319.1,135.7 L318.5,135.7 L318,135.7 L317.5,135.7 L316.9,135.7 L316.2,135.6 L315.6,135.5 L315.1,135.5 L314.6,135.4 L314,135.3 L313.3,135.1 L312.3,135 L310.9,134.8 L309,134.5 L306.7,134.2 L304.2,133.9 L301.4,133.5 L298.3,133.1 L294.8,132.6 L290.7,132.1 L286.2,131.6 L281,131 L274.8,128.4 L267.3,123.1 L259.1,116.6 L250.8,110.6 L242.5,106.8 L234.5,106.8 L227,112.3 L221,125 L216.4,147.8 L212.7,180.4 L209.7,219.6 L207.2,262.1 L205.3,304.7 L203.7,344 L202.3,376.9 L201,400 L700,400 L700,5Z" fill="#00ffe8"/><path d="M464.4,5 L464.2,7 L464.1,9.6 L463.9,12.8 L463.6,16.2 L463.3,19.9 L463,23.5 L462.6,26.9 L462.2,30 L461.6,32.7 L460.9,35.4 L460.2,37.9 L459.5,40.3 L458.8,42.7 L457.9,45.1 L457,47.5 L456,50 L454.9,52.5 L453.8,55.1 L452.6,57.7 L451.3,60.3 L449.9,62.9 L448.5,65.4 L446.9,67.7 L445.3,70 L443.8,72.1 L442.2,74.1 L440.4,76 L438.6,77.8 L436.6,79.6 L434.7,81.4 L432.8,83.2 L431,85 L429,86.9 L427,88.8 L425,90.7 L422.9,92.7 L420.9,94.6 L418.9,96.4 L416.9,98.2 L415,100 L413.1,101.7 L411.2,103.4 L409.3,105 L407.5,106.6 L405.7,108.2 L403.8,109.7 L402,111.1 L400.1,112.5 L398.2,113.8 L396.3,115.1 L394.4,116.3 L392.5,117.5 L390.6,118.6 L388.7,119.7 L386.8,120.8 L385,121.8 L383.2,122.8 L381.4,123.7 L379.7,124.7 L377.9,125.5 L376.2,126.4 L374.5,127.2 L372.7,127.9 L371,128.6 L369.2,129.2 L367.5,129.8 L365.7,130.4 L363.9,130.9 L362.1,131.3 L360.4,131.7 L358.7,132.1 L357,132.5 L355.4,132.8 L353.9,133.1 L352.4,133.4 L350.9,133.6 L349.4,133.8 L348,134 L346.5,134.2 L345,134.4 L343.5,134.6 L341.9,134.7 L340.3,134.9 L338.8,135 L337.2,135.1 L335.7,135.2 L334.3,135.3 L333,135.4 L331.8,135.5 L330.6,135.5 L329.6,135.6 L328.6,135.6 L327.6,135.6 L326.7,135.7 L325.8,135.7 L325,135.7 L324.3,135.7 L323.6,135.7 L323.1,135.7 L322.5,135.7 L322,135.7 L321.5,135.7 L320.9,135.7 L320.2,135.6 L319.6,135.5 L319.1,135.5 L318.6,135.4 L318,135.3 L317.3,135.1 L316.3,135 L314.9,134.8 L313,134.5 L310.7,134.2 L308.2,133.9 L305.4,133.5 L302.3,133.1 L298.8,132.6 L294.7,132.1 L290.2,131.6 L285,131 L278.8,128.4 L271.3,123.1 L263.1,116.6 L254.6,110.6 L246.3,106.8 L238.2,106.8 L230.9,112.3 L225,125 L220.4,147.8 L216.7,180.4 L213.7,219.6 L211.2,262.1 L209.3,304.7 L207.7,344 L206.3,376.9 L205,400 L700,400 L700,5Z" fill="#00f0ff"/><path d="M465.7,5 L465.5,7 L465.4,9.6 L465.2,12.8 L464.9,16.2 L464.6,19.9 L464.3,23.5 L463.9,26.9 L463.5,30 L463,32.7 L462.6,35.4 L462.1,37.9 L461.5,40.3 L460.9,42.7 L460.2,45.1 L459.5,47.5 L458.6,50 L457.5,52.5 L456.3,55.1 L455.1,57.7 L453.7,60.3 L452.3,62.9 L450.9,65.4 L449.3,67.7 L447.6,70 L446.1,72.1 L444.5,74.1 L442.8,76 L441,77.8 L439.1,79.6 L437.2,81.4 L435.3,83.2 L433.5,85 L431.6,86.9 L429.6,88.8 L427.7,90.7 L425.7,92.7 L423.8,94.6 L421.9,96.4 L420,98.2 L418.1,100 L416.2,101.7 L414.4,103.4 L412.6,105 L410.8,106.6 L409,108.2 L407.2,109.7 L405.4,111.1 L403.5,112.5 L401.6,113.8 L399.8,115.1 L397.9,116.3 L396,117.5 L394.1,118.6 L392.2,119.7 L390.3,120.8 L388.5,121.8 L386.7,122.8 L384.9,123.7 L383.2,124.7 L381.4,125.5 L379.7,126.4 L378,127.2 L376.2,127.9 L374.5,128.6 L372.7,129.2 L371,129.8 L369.2,130.4 L367.4,130.9 L365.6,131.3 L363.9,131.7 L362.2,132.1 L360.5,132.5 L358.9,132.8 L357.4,133.1 L355.9,133.4 L354.4,133.6 L352.9,133.8 L351.5,134 L350,134.2 L348.5,134.4 L347,134.6 L345.4,134.7 L343.8,134.9 L342.2,135 L340.7,135.1 L339.2,135.2 L337.8,135.3 L336.5,135.4 L335.3,135.5 L334.1,135.5 L333.1,135.6 L332.1,135.6 L331.1,135.6 L330.2,135.7 L329.3,135.7 L328.5,135.7 L327.8,135.7 L327.1,135.7 L326.6,135.7 L326,135.7 L325.5,135.7 L325,135.7 L324.4,135.7 L323.7,135.6 L323.1,135.5 L322.6,135.5 L322.1,135.4 L321.5,135.3 L320.8,135.1 L319.8,135 L318.4,134.8 L316.5,134.5 L314.2,134.2 L311.7,133.9 L308.9,133.5 L305.8,133.1 L302.3,132.6 L298.2,132.1 L293.7,131.6 L288.5,131 L282.3,128.4 L274.8,123.1 L266.6,116.6 L258,110.6 L249.5,106.8 L241.5,106.8 L234.3,112.3 L228.5,125 L223.9,147.8 L220.2,180.4 L217.2,219.6 L214.8,262.1 L212.8,304.7 L211.2,344 L209.8,376.9 L208.5,400 L700,400 L700,5Z" fill="#00c8ff"/><path d="M466,5 L465.8,7 L465.7,9.6 L465.5,12.8 L465.2,16.2 L464.9,19.9 L464.6,23.5 L464.2,26.9 L463.8,30 L463.4,32.7 L462.9,35.4 L462.4,37.9 L461.9,40.3 L461.3,42.7 L460.6,45.1 L459.8,47.5 L459,50 L457.9,52.5 L456.8,55.1 L455.6,57.7 L454.3,60.3 L452.9,62.9 L451.5,65.4 L449.9,67.7 L448.3,70 L446.8,72.1 L445.1,74.1 L443.3,76 L441.4,77.8 L439.5,79.6 L437.6,81.4 L435.7,83.2 L433.8,85 L431.9,86.9 L429.9,88.8 L428,90.7 L426,92.7 L424.1,94.6 L422.2,96.4 L420.3,98.2 L418.4,100 L416.5,101.7 L414.7,103.4 L412.9,105 L411.1,106.6 L409.3,108.2 L407.5,109.7 L405.7,111.1 L403.8,112.5 L401.9,113.8 L400.1,115.1 L398.2,116.3 L396.3,117.5 L394.4,118.6 L392.5,119.7 L390.6,120.8 L388.8,121.8 L387,122.8 L385.2,123.7 L383.5,124.7 L381.7,125.5 L380,126.4 L378.3,127.2 L376.5,127.9 L374.8,128.6 L373,129.2 L371.3,129.8 L369.5,130.4 L367.7,130.9 L365.9,131.3 L364.2,131.7 L362.5,132.1 L360.8,132.5 L359.2,132.8 L357.7,133.1 L356.2,133.4 L354.7,133.6 L353.2,133.8 L351.8,134 L350.3,134.2 L348.8,134.4 L347.3,134.6 L345.7,134.7 L344.1,134.9 L342.6,135 L341,135.1 L339.5,135.2 L338.1,135.3 L336.8,135.4 L335.6,135.5 L334.4,135.5 L333.4,135.6 L332.4,135.6 L331.4,135.6 L330.5,135.7 L329.6,135.7 L328.8,135.7 L328.1,135.7 L327.4,135.7 L326.9,135.7 L326.3,135.7 L325.8,135.7 L325.3,135.7 L324.7,135.7 L324,135.6 L323.4,135.5 L322.9,135.5 L322.4,135.4 L321.8,135.3 L321.1,135.1 L320.1,135 L318.7,134.8 L316.8,134.5 L314.5,134.2 L312,133.9 L309.2,133.5 L306.1,133.1 L302.6,132.6 L298.5,132.1 L294,131.6 L288.8,131 L282.6,128.4 L275.1,123.1 L266.9,116.6 L258.3,110.6 L249.8,106.8 L241.8,106.8 L234.6,112.3 L228.8,125 L224.2,147.8 L220.5,180.4 L217.5,219.6 L215.1,262.1 L213.1,304.7 L211.5,344 L210.1,376.9 L208.8,400 L700,400 L700,5Z" fill="#00a0ff"/><path d="M466.2,5 L466,7 L465.9,9.6 L465.7,12.8 L465.4,16.2 L465.1,19.9 L464.8,23.5 L464.4,26.9 L464,30 L463.6,32.7 L463.1,35.4 L462.6,37.9 L462.1,40.3 L461.5,42.7 L460.8,45.1 L460,47.5 L459.2,50 L458.2,52.5 L457.1,55.1 L456,57.7 L454.8,60.3 L453.5,62.9 L452.1,65.4 L450.6,67.7 L449,70 L447.4,72.1 L445.7,74.1 L443.9,76 L441.9,77.8 L440,79.6 L438,81.4 L436,83.2 L434.1,85 L432.2,86.9 L430.2,88.8 L428.2,90.7 L426.3,92.7 L424.3,94.6 L422.4,96.4 L420.5,98.2 L418.6,100 L416.7,101.7 L414.9,103.4 L413.1,105 L411.3,106.6 L409.5,108.2 L407.7,109.7 L405.9,111.1 L404.1,112.5 L402.2,113.8 L400.4,115.1 L398.5,116.3 L396.6,117.5 L394.7,118.6 L392.8,119.7 L390.9,120.8 L389.1,121.8 L387.3,122.8 L385.5,123.7 L383.8,124.7 L382,125.5 L380.3,126.4 L378.6,127.2 L376.8,127.9 L375.1,128.6 L373.3,129.2 L371.6,129.8 L369.8,130.4 L368,130.9 L366.2,131.3 L364.5,131.7 L362.8,132.1 L361.1,132.5 L359.5,132.8 L358,133.1 L356.5,133.4 L355,133.6 L353.5,133.8 L352.1,134 L350.6,134.2 L349.1,134.4 L347.6,134.6 L346,134.7 L344.4,134.9 L342.9,135 L341.3,135.1 L339.8,135.2 L338.4,135.3 L337.1,135.4 L335.9,135.5 L334.7,135.5 L333.7,135.6 L332.7,135.6 L331.7,135.6 L330.8,135.7 L329.9,135.7 L329.1,135.7 L328.4,135.7 L327.7,135.7 L327.2,135.7 L326.6,135.7 L326.1,135.7 L325.6,135.7 L325,135.7 L324.3,135.6 L323.7,135.5 L323.2,135.5 L322.7,135.4 L322.1,135.3 L321.4,135.1 L320.4,135 L319,134.8 L317.1,134.5 L314.8,134.2 L312.3,133.9 L309.5,133.5 L306.4,133.1 L302.9,132.6 L298.8,132.1 L294.3,131.6 L289.1,131 L282.9,128.4 L275.4,123.1 L267.2,116.6 L258.6,110.6 L250.1,106.8 L242,106.8 L234.9,112.3 L229.1,125 L224.5,147.8 L220.8,180.4 L217.8,219.6 L215.3,262.1 L213.4,304.7 L211.8,344 L210.4,376.9 L209.1,400 L700,400 L700,5Z" fill="#0070ff"/><path d="M466.5,5 L466.3,7 L466.2,9.6 L466,12.8 L465.7,16.2 L465.4,19.9 L465.1,23.5 L464.7,26.9 L464.3,30 L463.9,32.7 L463.4,35.4 L462.9,37.9 L462.4,40.3 L461.8,42.7 L461.1,45.1 L460.3,47.5 L459.5,50 L458.5,52.5 L457.5,55.1 L456.4,57.7 L455.3,60.3 L454,62.9 L452.7,65.4 L451.2,67.7 L449.7,70 L448.1,72.1 L446.3,74.1 L444.4,76 L442.5,77.8 L440.5,79.6 L438.4,81.4 L436.4,83.2 L434.5,85 L432.6,86.9 L430.6,88.8 L428.6,90.7 L426.7,92.7 L424.7,94.6 L422.8,96.4 L420.9,98.2 L419,100 L417.1,101.7 L415.3,103.4 L413.5,105 L411.7,106.6 L409.9,108.2 L408.1,109.7 L406.3,111.1 L404.5,112.5 L402.6,113.8 L400.8,115.1 L398.9,116.3 L397,117.5 L395.1,118.6 L393.2,119.7 L391.3,120.8 L389.5,121.8 L387.7,122.8 L385.9,123.7 L384.2,124.7 L382.4,125.5 L380.7,126.4 L379,127.2 L377.2,127.9 L375.5,128.6 L373.7,129.2 L372,129.8 L370.2,130.4 L368.4,130.9 L366.6,131.3 L364.9,131.7 L363.2,132.1 L361.5,132.5 L359.9,132.8 L358.4,133.1 L356.9,133.4 L355.4,133.6 L353.9,133.8 L352.5,134 L351,134.2 L349.5,134.4 L348,134.6 L346.4,134.7 L344.8,134.9 L343.2,135 L341.7,135.1 L340.2,135.2 L338.8,135.3 L337.5,135.4 L336.3,135.5 L335.1,135.5 L334.1,135.6 L333.1,135.6 L332.1,135.6 L331.2,135.7 L330.3,135.7 L329.5,135.7 L328.8,135.7 L328.1,135.7 L327.6,135.7 L327,135.7 L326.5,135.7 L326,135.7 L325.4,135.7 L324.7,135.6 L324.1,135.5 L323.6,135.5 L323.1,135.4 L322.5,135.3 L321.8,135.1 L320.8,135 L319.4,134.8 L317.5,134.5 L315.2,134.2 L312.7,133.9 L309.9,133.5 L306.8,133.1 L303.3,132.6 L299.2,132.1 L294.7,131.6 L289.5,131 L283.3,128.4 L275.8,123.1 L267.6,116.6 L259,110.6 L250.5,106.8 L242.4,106.8 L235.3,112.3 L229.5,125 L224.9,147.8 L221.2,180.4 L218.2,219.6 L215.8,262.1 L213.8,304.7 L212.2,344 L210.8,376.9 L209.5,400 L700,400 L700,5Z" fill="#0040ff"/><path d="M467,5 L466.8,7 L466.7,9.6 L466.5,12.8 L466.2,16.2 L465.9,19.9 L465.6,23.5 L465.2,26.9 L464.8,30 L464.4,32.7 L463.9,35.4 L463.4,37.9 L462.9,40.3 L462.3,42.7 L461.6,45.1 L460.8,47.5 L460,50 L459.1,52.5 L458.1,55.1 L457,57.7 L455.9,60.3 L454.7,62.9 L453.4,65.4 L452,67.7 L450.5,70 L448.8,72.1 L447,74.1 L445.1,76 L443.1,77.8 L441.1,79.6 L439,81.4 L437,83.2 L435,85 L433.1,86.9 L431.1,88.8 L429.1,90.7 L427.2,92.7 L425.2,94.6 L423.3,96.4 L421.4,98.2 L419.5,100 L417.6,101.7 L415.8,103.4 L414,105 L412.2,106.6 L410.4,108.2 L408.6,109.7 L406.8,111.1 L405,112.5 L403.1,113.8 L401.3,115.1 L399.4,116.3 L397.5,117.5 L395.6,118.6 L393.7,119.7 L391.8,120.8 L390,121.8 L388.2,122.8 L386.4,123.7 L384.7,124.7 L382.9,125.5 L381.2,126.4 L379.5,127.2 L377.7,127.9 L376,128.6 L374.2,129.2 L372.5,129.8 L370.7,130.4 L368.9,130.9 L367.1,131.3 L365.4,131.7 L363.7,132.1 L362,132.5 L360.4,132.8 L358.9,133.1 L357.4,133.4 L355.9,133.6 L354.4,133.8 L353,134 L351.5,134.2 L350,134.4 L348.5,134.6 L346.9,134.7 L345.3,134.9 L343.8,135 L342.2,135.1 L340.7,135.2 L339.3,135.3 L338,135.4 L336.8,135.5 L335.6,135.5 L334.6,135.6 L333.6,135.6 L332.6,135.6 L331.7,135.7 L330.8,135.7 L330,135.7 L329.3,135.7 L328.6,135.7 L328.1,135.7 L327.5,135.7 L327,135.7 L326.5,135.7 L325.9,135.7 L325.2,135.6 L324.6,135.5 L324.1,135.5 L323.6,135.4 L323,135.3 L322.3,135.1 L321.3,135 L319.9,134.8 L318,134.5 L315.7,134.2 L313.2,133.9 L310.4,133.5 L307.3,133.1 L303.8,132.6 L299.7,132.1 L295.2,131.6 L290,131 L283.8,128.4 L276.3,123.1 L268.1,116.6 L259.5,110.6 L251,106.8 L242.9,106.8 L235.8,112.3 L230,125 L225.4,147.8 L221.7,180.4 L218.7,219.6 L216.2,262.1 L214.3,304.7 L212.7,344 L211.3,376.9 L210,400 L700,400 L700,5Z" fill="#0a12f0"/><path d="M520,20 L520,160 L420,160 L445,110 L470,60 L475,20Z" fill="url(#m1_0)"/><path d="M280,20 L475,20 L470,60 L445,110 L420,160 L280,160Z" fill="url(#m1_1)"/></g><rect x="293" y="17.9" width="221.3" height="1.5" fill="#8a8a8a"/><rect x="295.5" y="16.5" width="0.6" height="1.6" fill="#9a9a9a"/><rect x="298.4" y="16.5" width="0.6" height="1.6" fill="#9a9a9a"/><rect x="301.3" y="16.5" width="0.6" height="1.6" fill="#9a9a9a"/><rect x="304.1" y="16.5" width="0.6" height="1.6" fill="#9a9a9a"/><rect x="307" y="16.5" width="0.6" height="1.6" fill="#9a9a9a"/><rect x="309.9" y="16.5" width="0.6" height="1.6" fill="#9a9a9a"/><rect x="312.8" y="16.5" width="0.6" height="1.6" fill="#9a9a9a"/><rect x="315.7" y="16.5" width="0.6" height="1.6" fill="#9a9a9a"/><rect x="318.5" y="16.5" width="0.6" height="1.6" fill="#9a9a9a"/><rect x="321.4" y="16.5" width="0.6" height="1.6" fill="#9a9a9a"/><rect x="324.3" y="16.5" width="0.6" height="1.6" fill="#9a9a9a"/><rect x="327.2" y="16.5" width="0.6" height="1.6" fill="#9a9a9a"/><rect x="330.1" y="16.5" width="0.6" height="1.6" fill="#9a9a9a"/><rect x="332.9" y="16.5" width="0.6" height="1.6" fill="#9a9a9a"/><rect x="335.8" y="16.5" width="0.6" height="1.6" fill="#9a9a9a"/><rect x="338.7" y="16.5" width="0.6" height="1.6" fill="#9a9a9a"/><rect x="341.6" y="16.5" width="0.6" height="1.6" fill="#9a9a9a"/><rect x="344.5" y="16.5" width="0.6" height="1.6" fill="#9a9a9a"/><rect x="347.3" y="16.5" width="0.6" height="1.6" fill="#9a9a9a"/><rect x="350.2" y="16.5" width="0.6" height="1.6" fill="#9a9a9a"/><rect x="353.1" y="16.5" width="0.6" height="1.6" fill="#9a9a9a"/><rect x="356" y="16.5" width="0.6" height="1.6" fill="#9a9a9a"/><rect x="358.9" y="16.5" width="0.6" height="1.6" fill="#9a9a9a"/><rect x="361.7" y="16.5" width="0.6" height="1.6" fill="#9a9a9a"/><rect x="364.6" y="16.5" width="0.6" height="1.6" fill="#9a9a9a"/><rect x="367.5" y="16.5" width="0.6" height="1.6" fill="#9a9a9a"/><rect x="370.4" y="16.5" width="0.6" height="1.6" fill="#9a9a9a"/><rect x="373.3" y="16.5" width="0.6" height="1.6" fill="#9a9a9a"/><rect x="376.1" y="16.5" width="0.6" height="1.6" fill="#9a9a9a"/><rect x="379" y="16.5" width="0.6" height="1.6" fill="#9a9a9a"/><rect x="381.9" y="16.5" width="0.6" height="1.6" fill="#9a9a9a"/><rect x="384.8" y="16.5" width="0.6" height="1.6" fill="#9a9a9a"/><rect x="387.7" y="16.5" width="0.6" height="1.6" fill="#9a9a9a"/><rect x="390.5" y="16.5" width="0.6" height="1.6" fill="#9a9a9a"/><rect x="393.4" y="16.5" width="0.6" height="1.6" fill="#9a9a9a"/><rect x="396.3" y="16.5" width="0.6" height="1.6" fill="#9a9a9a"/><rect x="399.2" y="16.5" width="0.6" height="1.6" fill="#9a9a9a"/><rect x="402.1" y="16.5" width="0.6" height="1.6" fill="#9a9a9a"/><rect x="404.9" y="16.5" width="0.6" height="1.6" fill="#9a9a9a"/><rect x="407.8" y="16.5" width="0.6" height="1.6" fill="#9a9a9a"/><rect x="410.7" y="16.5" width="0.6" height="1.6" fill="#9a9a9a"/><rect x="413.6" y="16.5" width="0.6" height="1.6" fill="#9a9a9a"/><rect x="416.5" y="16.5" width="0.6" height="1.6" fill="#9a9a9a"/><rect x="419.3" y="16.5" width="0.6" height="1.6" fill="#9a9a9a"/><rect x="422.2" y="16.5" width="0.6" height="1.6" fill="#9a9a9a"/><rect x="425.1" y="16.5" width="0.6" height="1.6" fill="#9a9a9a"/><rect x="428" y="16.5" width="0.6" height="1.6" fill="#9a9a9a"/><rect x="430.9" y="16.5" width="0.6" height="1.6" fill="#9a9a9a"/><rect x="433.7" y="16.5" width="0.6" height="1.6" fill="#9a9a9a"/><rect x="436.6" y="16.5" width="0.6" height="1.6" fill="#9a9a9a"/><rect x="439.5" y="16.5" width="0.6" height="1.6" fill="#9a9a9a"/><rect x="442.4" y="16.5" width="0.6" height="1.6" fill="#9a9a9a"/><rect x="445.3" y="16.5" width="0.6" height="1.6" fill="#9a9a9a"/><rect x="448.1" y="16.5" width="0.6" height="1.6" fill="#9a9a9a"/><rect x="451" y="16.5" width="0.6" height="1.6" fill="#9a9a9a"/><rect x="453.9" y="16.5" width="0.6" height="1.6" fill="#9a9a9a"/><rect x="456.8" y="16.5" width="0.6" height="1.6" fill="#9a9a9a"/><rect x="459.7" y="16.5" width="0.6" height="1.6" fill="#9a9a9a"/><rect x="462.5" y="16.5" width="0.6" height="1.6" fill="#9a9a9a"/><rect x="465.4" y="16.5" width="0.6" height="1.6" fill="#9a9a9a"/><rect x="468.3" y="16.5" width="0.6" height="1.6" fill="#9a9a9a"/><rect x="471.2" y="16.5" width="0.6" height="1.6" fill="#9a9a9a"/><rect x="474.1" y="16.5" width="0.6" height="1.6" fill="#9a9a9a"/><rect x="476.9" y="16.5" width="0.6" height="1.6" fill="#9a9a9a"/><rect x="479.8" y="16.5" width="0.6" height="1.6" fill="#9a9a9a"/><rect x="482.7" y="16.5" width="0.6" height="1.6" fill="#9a9a9a"/><rect x="485.6" y="16.5" width="0.6" height="1.6" fill="#9a9a9a"/><rect x="488.5" y="16.5" width="0.6" height="1.6" fill="#9a9a9a"/><rect x="491.3" y="16.5" width="0.6" height="1.6" fill="#9a9a9a"/><rect x="494.2" y="16.5" width="0.6" height="1.6" fill="#9a9a9a"/><rect x="497.1" y="16.5" width="0.6" height="1.6" fill="#9a9a9a"/><rect x="500" y="16.5" width="0.6" height="1.6" fill="#9a9a9a"/><rect x="502.9" y="16.5" width="0.6" height="1.6" fill="#9a9a9a"/><rect x="505.7" y="16.5" width="0.6" height="1.6" fill="#9a9a9a"/><rect x="508.6" y="16.5" width="0.6" height="1.6" fill="#9a9a9a"/><rect x="511.5" y="16.5" width="0.6" height="1.6" fill="#9a9a9a"/><rect x="295.4" y="15.5" width="0.7" height="2.6" fill="#888"/><text x="295.8" y="12.9" font-size="3.6" text-anchor="middle" fill="#4a4a4a" textLength="5.5" lengthAdjust="spacingAndGlyphs" font-family="Liberation Sans, Arial, sans-serif">1,00</text><rect x="309.8" y="15.5" width="0.7" height="2.6" fill="#888"/><text x="310.2" y="12.9" font-size="3.6" text-anchor="middle" fill="#4a4a4a" textLength="7" lengthAdjust="spacingAndGlyphs" font-family="Liberation Sans, Arial, sans-serif">22,00</text><rect x="324.2" y="15.5" width="0.7" height="2.6" fill="#888"/><text x="324.6" y="12.9" font-size="3.6" text-anchor="middle" fill="#4a4a4a" textLength="7" lengthAdjust="spacingAndGlyphs" font-family="Liberation Sans, Arial, sans-serif">22,50</text><rect x="338.6" y="15.5" width="0.7" height="2.6" fill="#888"/><text x="339" y="12.9" font-size="3.6" text-anchor="middle" fill="#4a4a4a" textLength="7" lengthAdjust="spacingAndGlyphs" font-family="Liberation Sans, Arial, sans-serif">23,00</text><rect x="353.1" y="15.5" width="0.7" height="2.6" fill="#888"/><text x="353.4" y="12.9" font-size="3.6" text-anchor="middle" fill="#4a4a4a" textLength="7" lengthAdjust="spacingAndGlyphs" font-family="Liberation Sans, Arial, sans-serif">23,50</text><rect x="367.4" y="15.5" width="0.7" height="2.6" fill="#888"/><text x="367.8" y="12.9" font-size="3.6" text-anchor="middle" fill="#4a4a4a" textLength="7" lengthAdjust="spacingAndGlyphs" font-family="Liberation Sans, Arial, sans-serif">24,00</text><rect x="381.9" y="15.5" width="0.7" height="2.6" fill="#888"/><text x="382.2" y="12.9" font-size="3.6" text-anchor="middle" fill="#4a4a4a" textLength="7" lengthAdjust="spacingAndGlyphs" font-family="Liberation Sans, Arial, sans-serif">24,50</text><rect x="396.2" y="15.5" width="0.7" height="2.6" fill="#888"/><text x="396.6" y="12.9" font-size="3.6" text-anchor="middle" fill="#4a4a4a" textLength="7" lengthAdjust="spacingAndGlyphs" font-family="Liberation Sans, Arial, sans-serif">25,00</text><rect x="410.6" y="15.5" width="0.7" height="2.6" fill="#888"/><text x="411" y="12.9" font-size="3.6" text-anchor="middle" fill="#4a4a4a" textLength="7" lengthAdjust="spacingAndGlyphs" font-family="Liberation Sans, Arial, sans-serif">25,50</text><rect x="425" y="15.5" width="0.7" height="2.6" fill="#888"/><text x="425.4" y="12.9" font-size="3.6" text-anchor="middle" fill="#4a4a4a" textLength="7" lengthAdjust="spacingAndGlyphs" font-family="Liberation Sans, Arial, sans-serif">26,00</text><rect x="439.4" y="15.5" width="0.7" height="2.6" fill="#888"/><text x="439.8" y="12.9" font-size="3.6" text-anchor="middle" fill="#4a4a4a" textLength="7" lengthAdjust="spacingAndGlyphs" font-family="Liberation Sans, Arial, sans-serif">26,50</text><rect x="453.9" y="15.5" width="0.7" height="2.6" fill="#888"/><text x="454.2" y="12.9" font-size="3.6" text-anchor="middle" fill="#4a4a4a" textLength="7" lengthAdjust="spacingAndGlyphs" font-family="Liberation Sans, Arial, sans-serif">27,00</text><rect x="468.2" y="15.5" width="0.7" height="2.6" fill="#888"/><text x="468.6" y="12.9" font-size="3.6" text-anchor="middle" fill="#4a4a4a" textLength="7" lengthAdjust="spacingAndGlyphs" font-family="Liberation Sans, Arial, sans-serif">27,50</text><rect x="482.6" y="15.5" width="0.7" height="2.6" fill="#888"/><text x="483" y="12.9" font-size="3.6" text-anchor="middle" fill="#4a4a4a" textLength="7" lengthAdjust="spacingAndGlyphs" font-family="Liberation Sans, Arial, sans-serif">28,00</text><rect x="497" y="15.5" width="0.7" height="2.6" fill="#888"/><text x="497.4" y="12.9" font-size="3.6" text-anchor="middle" fill="#4a4a4a" textLength="7" lengthAdjust="spacingAndGlyphs" font-family="Liberation Sans, Arial, sans-serif">28,50</text><rect x="511.4" y="15.5" width="0.7" height="2.6" fill="#888"/><text x="511.8" y="12.9" font-size="3.6" text-anchor="middle" fill="#4a4a4a" textLength="7" lengthAdjust="spacingAndGlyphs" font-family="Liberation Sans, Arial, sans-serif">29,00</text><rect x="287.8" y="22.4" width="1.1" height="131.1" fill="#8e8e8e"/><rect x="286.2" y="23.1" width="1.6" height="0.6" fill="#9a9a9a"/><rect x="286.2" y="26.7" width="1.6" height="0.6" fill="#9a9a9a"/><rect x="286.2" y="30.3" width="1.6" height="0.6" fill="#9a9a9a"/><rect x="286.2" y="34" width="1.6" height="0.6" fill="#9a9a9a"/><rect x="286.2" y="37.6" width="1.6" height="0.6" fill="#9a9a9a"/><rect x="286.2" y="41.2" width="1.6" height="0.6" fill="#9a9a9a"/><rect x="286.2" y="44.8" width="1.6" height="0.6" fill="#9a9a9a"/><rect x="286.2" y="48.4" width="1.6" height="0.6" fill="#9a9a9a"/><rect x="286.2" y="52.1" width="1.6" height="0.6" fill="#9a9a9a"/><rect x="286.2" y="55.7" width="1.6" height="0.6" fill="#9a9a9a"/><rect x="286.2" y="59.3" width="1.6" height="0.6" fill="#9a9a9a"/><rect x="286.2" y="62.9" width="1.6" height="0.6" fill="#9a9a9a"/><rect x="286.2" y="66.5" width="1.6" height="0.6" fill="#9a9a9a"/><rect x="286.2" y="70.2" width="1.6" height="0.6" fill="#9a9a9a"/><rect x="286.2" y="73.8" width="1.6" height="0.6" fill="#9a9a9a"/><rect x="286.2" y="77.4" width="1.6" height="0.6" fill="#9a9a9a"/><rect x="286.2" y="81" width="1.6" height="0.6" fill="#9a9a9a"/><rect x="286.2" y="84.6" width="1.6" height="0.6" fill="#9a9a9a"/><rect x="286.2" y="88.3" width="1.6" height="0.6" fill="#9a9a9a"/><rect x="286.2" y="91.9" width="1.6" height="0.6" fill="#9a9a9a"/><rect x="286.2" y="95.5" width="1.6" height="0.6" fill="#9a9a9a"/><rect x="286.2" y="99.1" width="1.6" height="0.6" fill="#9a9a9a"/><rect x="286.2" y="102.7" width="1.6" height="0.6" fill="#9a9a9a"/><rect x="286.2" y="106.4" width="1.6" height="0.6" fill="#9a9a9a"/><rect x="286.2" y="110" width="1.6" height="0.6" fill="#9a9a9a"/><rect x="286.2" y="113.6" width="1.6" height="0.6" fill="#9a9a9a"/><rect x="286.2" y="117.2" width="1.6" height="0.6" fill="#9a9a9a"/><rect x="286.2" y="120.8" width="1.6" height="0.6" fill="#9a9a9a"/><rect x="286.2" y="124.5" width="1.6" height="0.6" fill="#9a9a9a"/><rect x="286.2" y="128.1" width="1.6" height="0.6" fill="#9a9a9a"/><rect x="286.2" y="131.7" width="1.6" height="0.6" fill="#9a9a9a"/><rect x="286.2" y="135.3" width="1.6" height="0.6" fill="#9a9a9a"/><rect x="286.2" y="138.9" width="1.6" height="0.6" fill="#9a9a9a"/><rect x="286.2" y="142.6" width="1.6" height="0.6" fill="#9a9a9a"/><rect x="286.2" y="146.2" width="1.6" height="0.6" fill="#9a9a9a"/><rect x="286.2" y="149.8" width="1.6" height="0.6" fill="#9a9a9a"/><rect x="285" y="23" width="2.8" height="0.7" fill="#888"/><text x="286" y="24.7" font-size="3.6" text-anchor="end" fill="#4a4a4a" textLength="7" lengthAdjust="spacingAndGlyphs" font-family="Liberation Sans, Arial, sans-serif">30,00</text><rect x="285" y="41.1" width="2.8" height="0.7" fill="#888"/><text x="286" y="42.8" font-size="3.6" text-anchor="end" fill="#4a4a4a" textLength="7" lengthAdjust="spacingAndGlyphs" font-family="Liberation Sans, Arial, sans-serif">29,50</text><rect x="285" y="59.2" width="2.8" height="0.7" fill="#888"/><text x="286" y="60.9" font-size="3.6" text-anchor="end" fill="#4a4a4a" textLength="7" lengthAdjust="spacingAndGlyphs" font-family="Liberation Sans, Arial, sans-serif">29,00</text><rect x="285" y="77.4" width="2.8" height="0.7" fill="#888"/><text x="286" y="79" font-size="3.6" text-anchor="end" fill="#4a4a4a" textLength="7" lengthAdjust="spacingAndGlyphs" font-family="Liberation Sans, Arial, sans-serif">28,50</text><rect x="285" y="95.5" width="2.8" height="0.7" fill="#888"/><text x="286" y="97.1" font-size="3.6" text-anchor="end" fill="#4a4a4a" textLength="7" lengthAdjust="spacingAndGlyphs" font-family="Liberation Sans, Arial, sans-serif">28,00</text><rect x="285" y="113.6" width="2.8" height="0.7" fill="#888"/><text x="286" y="115.2" font-size="3.6" text-anchor="end" fill="#4a4a4a" textLength="7" lengthAdjust="spacingAndGlyphs" font-family="Liberation Sans, Arial, sans-serif">27,50</text><rect x="285" y="131.7" width="2.8" height="0.7" fill="#888"/><text x="286" y="133.3" font-size="3.6" text-anchor="end" fill="#4a4a4a" textLength="7" lengthAdjust="spacingAndGlyphs" font-family="Liberation Sans, Arial, sans-serif">27,00</text><rect x="285" y="149.8" width="2.8" height="0.7" fill="#888"/><text x="286" y="151.4" font-size="3.6" text-anchor="end" fill="#4a4a4a" textLength="7" lengthAdjust="spacingAndGlyphs" font-family="Liberation Sans, Arial, sans-serif">26,50</text><rect x="518" y="30.5" width="10" height="6.5" fill="#ee0000"/><rect x="518" y="36.7" width="10" height="6.5" fill="#ff2000"/><rect x="518" y="42.9" width="10" height="6.5" fill="#ff5000"/><rect x="518" y="49" width="10" height="6.5" fill="#ff7800"/><rect x="518" y="55.2" width="10" height="6.5" fill="#ffa000"/><rect x="518" y="61.4" width="10" height="6.5" fill="#ffcc00"/><rect x="518" y="67.6" width="10" height="6.5" fill="#ffff00"/><rect x="518" y="73.8" width="10" height="6.5" fill="#ccff00"/><rect x="518" y="80" width="10" height="6.5" fill="#00f080"/><rect x="518" y="86.2" width="10" height="6.5" fill="#00f0b0"/><rect x="518" y="92.3" width="10" height="6.5" fill="#00ffe8"/><rect x="518" y="98.5" width="10" height="6.5" fill="#00f0ff"/><rect x="518" y="104.7" width="10" height="6.5" fill="#00c8ff"/><rect x="518" y="110.9" width="10" height="6.5" fill="#00a0ff"/><rect x="518" y="117.1" width="10" height="6.5" fill="#0070ff"/><rect x="518" y="123.2" width="10" height="6.5" fill="#0040ff"/><rect x="518" y="129.4" width="10" height="6.5" fill="#0020f0"/><rect x="518" y="135.6" width="10" height="6.5" fill="#0000e0"/><rect x="518" y="36.4" width="10" height="0.5" fill="#000" fill-opacity="0.28"/><rect x="518" y="42.6" width="10" height="0.5" fill="#000" fill-opacity="0.28"/><rect x="518" y="48.8" width="10" height="0.5" fill="#000" fill-opacity="0.28"/><rect x="518" y="55" width="10" height="0.5" fill="#000" fill-opacity="0.28"/><rect x="518" y="61.2" width="10" height="0.5" fill="#000" fill-opacity="0.28"/><rect x="518" y="67.3" width="10" height="0.5" fill="#000" fill-opacity="0.28"/><rect x="518" y="73.5" width="10" height="0.5" fill="#000" fill-opacity="0.28"/><rect x="518" y="79.7" width="10" height="0.5" fill="#000" fill-opacity="0.28"/><rect x="518" y="85.9" width="10" height="0.5" fill="#000" fill-opacity="0.28"/><rect x="518" y="92.1" width="10" height="0.5" fill="#000" fill-opacity="0.28"/><rect x="518" y="98.3" width="10" height="0.5" fill="#000" fill-opacity="0.28"/><rect x="518" y="104.5" width="10" height="0.5" fill="#000" fill-opacity="0.28"/><rect x="518" y="110.6" width="10" height="0.5" fill="#000" fill-opacity="0.28"/><rect x="518" y="116.8" width="10" height="0.5" fill="#000" fill-opacity="0.28"/><rect x="518" y="123" width="10" height="0.5" fill="#000" fill-opacity="0.28"/><rect x="518" y="129.2" width="10" height="0.5" fill="#000" fill-opacity="0.28"/><rect x="518" y="135.4" width="10" height="0.5" fill="#000" fill-opacity="0.28"/><text x="533" y="31.8" font-size="3.6" fill="#4a4a4a" textLength="5.5" lengthAdjust="spacingAndGlyphs" font-family="Liberation Sans, Arial, sans-serif">9,00</text><text x="533" y="44.2" font-size="3.6" fill="#4a4a4a" textLength="5.5" lengthAdjust="spacingAndGlyphs" font-family="Liberation Sans, Arial, sans-serif">8,00</text><text x="533" y="56.5" font-size="3.6" fill="#4a4a4a" textLength="5.5" lengthAdjust="spacingAndGlyphs" font-family="Liberation Sans, Arial, sans-serif">7,00</text><text x="533" y="68.9" font-size="3.6" fill="#4a4a4a" textLength="5.5" lengthAdjust="spacingAndGlyphs" font-family="Liberation Sans, Arial, sans-serif">6,00</text><text x="533" y="81.3" font-size="3.6" fill="#4a4a4a" textLength="5.5" lengthAdjust="spacingAndGlyphs" font-family="Liberation Sans, Arial, sans-serif">5,00</text><text x="533" y="93.6" font-size="3.6" fill="#4a4a4a" textLength="5.5" lengthAdjust="spacingAndGlyphs" font-family="Liberation Sans, Arial, sans-serif">4,00</text><text x="533" y="106" font-size="3.6" fill="#4a4a4a" textLength="5.5" lengthAdjust="spacingAndGlyphs" font-family="Liberation Sans, Arial, sans-serif">3,00</text><text x="533" y="118.4" font-size="3.6" fill="#4a4a4a" textLength="5.5" lengthAdjust="spacingAndGlyphs" font-family="Liberation Sans, Arial, sans-serif">2,00</text><text x="533" y="130.8" font-size="3.6" fill="#4a4a4a" textLength="5.5" lengthAdjust="spacingAndGlyphs" font-family="Liberation Sans, Arial, sans-serif">1,00</text><text x="533" y="143.1" font-size="3.6" fill="#4a4a4a" textLength="5.5" lengthAdjust="spacingAndGlyphs" font-family="Liberation Sans, Arial, sans-serif">0,00</text><text x="530.5" y="27.5" font-size="3.6" fill="#555" font-family="Liberation Sans, Arial, sans-serif">[m]</text><rect x="535.5" y="145.5" width="5" height="5" fill="#e4e4e4" stroke="#c8c8c8" stroke-width="0.4"/><rect x="536.7" y="147" width="2.6" height="2.4" fill="#f0b030"/><rect x="297.2" y="167.2" width="4.8" height="3.4" fill="#f7b731"/><text x="418" y="163.2" font-size="3.8" font-weight="bold" text-anchor="middle" fill="#1a1a1a" textLength="67.5" lengthAdjust="spacingAndGlyphs" font-family="Liberation Sans, Arial, sans-serif">Total displacements |u| (scaled up 0,200 times)</text><text x="418" y="169.6" font-size="3.5" text-anchor="middle" fill="#3a3a3a" textLength="71" lengthAdjust="spacingAndGlyphs" font-family="Liberation Sans, Arial, sans-serif">Maximum value = 8,400 m (Element 7035 at Node 62078)</text><rect x="5.2" y="193" width="266.8" height="167.8" fill="#efefef"/><clipPath id="g2"><path d="M22,306.6 L65.3,306.6 L147.1,207.8 L242.8,207.8 L242.8,340.9 L22,340.9Z"/></clipPath><clipPath id="c2_13"><path d="M55,312C45.3,309.5 59.2,305.7 62,303C64.8,300.3 68,298.3 72,296C76,293.7 81.3,291.3 86,289C90.7,286.7 95.3,284.3 100,282C104.7,279.7 109.7,277.3 114,275C118.3,272.7 122.2,270.5 126,268C129.8,265.5 133.7,262.8 137,260C140.3,257.2 143.3,254 146,251C148.7,248 151,244.8 153,242C155,239.2 156.3,236.3 158,234C159.7,231.7 160.7,229.3 163,228C165.3,226.7 165.8,224 172,226C178.2,228 195.3,227.7 200,240C204.7,252.3 213.3,287 200,300C186.7,313 144.2,316 120,318C95.8,320 64.7,314.5 55,312Z"/></clipPath><filter id="bl2" x="-5%" y="-5%" width="110%" height="110%"><feGaussianBlur stdDeviation="1.5"/></filter><g clip-path="url(#g2)"><path d="M22,306.6 L65.3,306.6 L147.1,207.8 L242.8,207.8 L242.8,340.9 L22,340.9Z" fill="#ecd02d"/><path d="M204,195 L203.8,196.6 L203.5,198.7 L203.2,201.3 L202.9,204.1 L202.5,207 L202,209.9 L201.5,212.6 L201,215 L200.4,217.1 L199.8,219.1 L199.1,221 L198.4,222.8 L197.6,224.6 L196.8,226.4 L195.9,228.2 L195,230 L194,231.9 L193.1,233.7 L192,235.5 L191,237.3 L189.8,239.2 L188.5,241 L187.1,243 L185.6,245 L183.9,247.1 L182.1,249.3 L180.1,251.6 L178.1,253.9 L175.9,256.2 L173.7,258.5 L171.4,260.8 L169,263 L166.5,265.2 L164,267.4 L161.3,269.5 L158.6,271.7 L155.8,273.8 L152.9,275.9 L150,278 L147,280 L143.9,282 L140.6,284.1 L137.2,286.1 L133.8,288.2 L130.4,290.1 L127.2,291.9 L124.1,293.5 L121.3,295 L118.8,296.2 L116.5,297.3 L114.3,298.2 L112.3,299 L110.4,299.6 L108.6,300.3 L106.8,300.9 L105,301.5 L103.3,302.1 L101.7,302.7 L100.2,303.2 L98.8,303.6 L97.3,304.1 L95.9,304.5 L94.3,304.8 L92.7,305.2 L90.9,305.6 L89,305.9 L87,306.2 L85,306.5 L83,306.7 L81.1,306.9 L79.2,307.1 L77.5,307.3 L75.9,307.4 L74.3,307.5 L72.9,307.6 L71.5,307.6 L70.1,307.6 L68.8,307.6 L67.6,307.6 L66.5,307.5 L65.6,307.4 L64.9,307.3 L64.3,307.1 L63.8,306.9 L63.2,306.7 L62.5,306.5 L61.4,306.3 L60,306 L58.6,305.7 L57.4,305.5 L56.1,305.2 L54.6,304.9 L52.5,304.6 L49.5,304.1 L45.5,303.6 L40,303 L32.5,300.8 L22.8,296.4 L11.8,291 L0,286 L-11.8,282.6 L-22.8,282.1 L-32.5,285.8 L-40,295 L-45.5,311.8 L-49.7,336.1 L-52.8,365.3 L-55,397 L-56.6,428.8 L-57.8,458.2 L-58.9,482.7 L-60,500 L700,500 L700,195Z" fill="#5454d8"/><g filter="url(#bl2)"><path d="M22,306.6 L65.3,306.6 L147.1,207.8 L242.8,207.8 L242.8,340.9 L22,340.9Z" fill="#ecd02d"/><path d="M55,312C45.3,309.5 59.2,305.7 62,303C64.8,300.3 68,298.3 72,296C76,293.7 81.3,291.3 86,289C90.7,286.7 95.3,284.3 100,282C104.7,279.7 109.7,277.3 114,275C118.3,272.7 122.2,270.5 126,268C129.8,265.5 133.7,262.8 137,260C140.3,257.2 143.3,254 146,251C148.7,248 151,244.8 153,242C155,239.2 156.3,236.3 158,234C159.7,231.7 160.7,229.3 163,228C165.3,226.7 165.8,224 172,226C178.2,228 195.3,227.7 200,240C204.7,252.3 213.3,287 200,300C186.7,313 144.2,316 120,318C95.8,320 64.7,314.5 55,312Z" fill="#efbe2e"/><path d="M80,300C79.5,298.3 89.7,293.8 95,291C100.3,288.2 106.8,285.5 112,283C117.2,280.5 121.7,278.5 126,276C130.3,273.5 134.3,270.8 138,268C141.7,265.2 145,262 148,259C151,256 153.7,251.2 156,250C158.3,248.8 162.2,249 162,252C161.8,255 158.7,263.2 155,268C151.3,272.8 145.8,277 140,281C134.2,285 127,288.7 120,292C113,295.3 104.7,299.7 98,301C91.3,302.3 80.5,301.7 80,300Z" fill="#f0aa2d"/><path d="M170,195 L169.8,196.6 L169.5,198.7 L169.2,201.3 L168.9,204.1 L168.5,207 L168,209.9 L167.5,212.6 L167,215 L166.7,217.1 L166.3,219.1 L165.9,221 L165.4,222.8 L164.9,224.6 L164.3,226.4 L163.7,228.2 L163,230 L162.5,231.9 L162,233.7 L161.5,235.5 L160.9,237.3 L160.2,239.2 L159.5,241 L158.6,243 L157.6,245 L156.4,247.1 L155,249.3 L153.6,251.6 L152.1,253.9 L150.4,256.2 L148.7,258.5 L146.9,260.8 L145,263 L142.9,265.2 L140.7,267.4 L138.5,269.5 L136.1,271.7 L133.7,273.8 L131.2,275.9 L128.6,278 L126,280 L123.4,282 L120.7,284.1 L117.9,286.1 L115,288.2 L112.1,290.1 L109.3,291.9 L106.7,293.5 L104.3,295 L101.8,296.2 L99.5,297.3 L97.3,298.2 L95.3,299 L93.4,299.6 L91.6,300.3 L89.8,300.9 L88,301.5 L86.3,302.1 L84.7,302.7 L83.2,303.2 L81.8,303.6 L80.3,304.1 L78.9,304.5 L77.3,304.8 L75.7,305.2 L73.9,305.6 L72,305.9 L70,306.2 L68,306.5 L66,306.7 L64.1,306.9 L62.2,307.1 L60.5,307.3 L58.9,307.4 L57.3,307.5 L55.9,307.6 L54.5,307.6 L53.1,307.6 L51.8,307.6 L50.6,307.6 L49.5,307.5 L48.6,307.4 L47.9,307.3 L47.3,307.1 L46.8,306.9 L46.2,306.7 L45.5,306.5 L44.4,306.3 L43,306 L41.6,305.7 L40.4,305.5 L39.1,305.2 L37.6,304.9 L35.5,304.6 L32.5,304.1 L28.5,303.6 L23,303 L15.5,300.8 L5.8,296.4 L-6.3,291 L-19.4,286 L-32.1,282.6 L-43.2,282.1 L-51.9,285.8 L-57,295 L-62.5,311.8 L-66.7,336.1 L-69.8,365.3 L-72,397 L-73.6,428.8 L-74.8,458.2 L-75.9,482.7 L-77,500 L700,500 L700,195Z" fill="#efbe2e" clip-path="url(#c2_13)"/><path d="M176,195 L175.8,196.6 L175.5,198.7 L175.2,201.3 L174.9,204.1 L174.5,207 L174,209.9 L173.5,212.6 L173,215 L172.7,217.1 L172.3,219.1 L171.9,221 L171.4,222.8 L170.9,224.6 L170.3,226.4 L169.7,228.2 L169,230 L168.7,231.9 L168.3,233.7 L167.9,235.5 L167.4,237.3 L166.9,239.2 L166.2,241 L165.5,243 L164.6,245 L163.4,247.1 L162,249.3 L160.6,251.6 L159.1,253.9 L157.4,256.2 L155.7,258.5 L153.9,260.8 L152,263 L149.7,265.2 L147.4,267.4 L144.9,269.5 L142.3,271.7 L139.7,273.8 L137,275.9 L134.3,278 L131.5,280 L128.8,282 L125.9,284.1 L122.9,286.1 L119.9,288.2 L116.9,290.1 L114,291.9 L111.3,293.5 L108.8,295 L106.3,296.2 L104,297.3 L101.8,298.2 L99.8,299 L97.9,299.6 L96.1,300.3 L94.3,300.9 L92.5,301.5 L90.8,302.1 L89.2,302.7 L87.7,303.2 L86.3,303.6 L84.8,304.1 L83.4,304.5 L81.8,304.8 L80.2,305.2 L78.4,305.6 L76.5,305.9 L74.5,306.2 L72.5,306.5 L70.5,306.7 L68.6,306.9 L66.7,307.1 L65,307.3 L63.4,307.4 L61.8,307.5 L60.4,307.6 L59,307.6 L57.6,307.6 L56.3,307.6 L55.1,307.6 L54,307.5 L53.1,307.4 L52.4,307.3 L51.8,307.1 L51.3,306.9 L50.7,306.7 L50,306.5 L48.9,306.3 L47.5,306 L46.1,305.7 L44.9,305.5 L43.6,305.2 L42.1,304.9 L40,304.6 L37,304.1 L33,303.6 L27.5,303 L20,300.8 L10.3,296.4 L-1.5,291 L-14.3,286 L-26.7,282.6 L-37.9,282.1 L-46.8,285.8 L-52.5,295 L-58,311.8 L-62.2,336.1 L-65.3,365.3 L-67.5,397 L-69.1,428.8 L-70.3,458.2 L-71.4,482.7 L-72.5,500 L700,500 L700,195Z" fill="#ecd02d"/><path d="M180.5,195 L180.3,196.6 L180,198.7 L179.7,201.3 L179.4,204.1 L179,207 L178.5,209.9 L178,212.6 L177.5,215 L177.1,217.1 L176.7,219.1 L176.2,221 L175.7,222.8 L175.1,224.6 L174.4,226.4 L173.7,228.2 L173,230 L172.7,231.9 L172.3,233.7 L171.9,235.5 L171.4,237.3 L170.9,239.2 L170.2,241 L169.5,243 L168.6,245 L167.2,247.1 L165.7,249.3 L164.1,251.6 L162.3,253.9 L160.5,256.2 L158.6,258.5 L156.6,260.8 L154.5,263 L152.1,265.2 L149.7,267.4 L147.1,269.5 L144.5,271.7 L141.8,273.8 L139,275.9 L136.2,278 L133.3,280 L130.6,282 L127.7,284.1 L124.6,286.1 L121.6,288.2 L118.5,290.1 L115.6,291.9 L112.8,293.5 L110.3,295 L107.8,296.2 L105.5,297.3 L103.3,298.2 L101.3,299 L99.4,299.6 L97.6,300.3 L95.8,300.9 L94,301.5 L92.3,302.1 L90.7,302.7 L89.2,303.2 L87.8,303.6 L86.3,304.1 L84.9,304.5 L83.3,304.8 L81.7,305.2 L79.9,305.6 L78,305.9 L76,306.2 L74,306.5 L72,306.7 L70.1,306.9 L68.2,307.1 L66.5,307.3 L64.9,307.4 L63.3,307.5 L61.9,307.6 L60.5,307.6 L59.1,307.6 L57.8,307.6 L56.6,307.6 L55.5,307.5 L54.6,307.4 L53.9,307.3 L53.3,307.1 L52.8,306.9 L52.2,306.7 L51.5,306.5 L50.4,306.3 L49,306 L47.6,305.7 L46.4,305.5 L45.1,305.2 L43.6,304.9 L41.5,304.6 L38.5,304.1 L34.5,303.6 L29,303 L21.5,300.8 L11.8,296.4 L0,291 L-12.6,286 L-25,282.6 L-36.1,282.1 L-45.1,285.8 L-51,295 L-56.5,311.8 L-60.7,336.1 L-63.8,365.3 L-66,397 L-67.6,428.8 L-68.8,458.2 L-69.9,482.7 L-71,500 L700,500 L700,195Z" fill="#e6dc30"/><path d="M183,195 L182.8,196.6 L182.5,198.7 L182.2,201.3 L181.9,204.1 L181.5,207 L181,209.9 L180.5,212.6 L180,215 L179.6,217.1 L179.2,219.1 L178.7,221 L178.2,222.8 L177.6,224.6 L176.9,226.4 L176.2,228.2 L175.5,230 L175.1,231.9 L174.7,233.7 L174.2,235.5 L173.7,237.3 L173,239.2 L172.3,241 L171.5,243 L170.6,245 L169.3,247.1 L167.8,249.3 L166.2,251.6 L164.6,253.9 L162.8,256.2 L160.9,258.5 L159,260.8 L157,263 L154.5,265.2 L152,267.4 L149.3,269.5 L146.6,271.7 L143.8,273.8 L140.9,275.9 L138,278 L135,280 L132.2,282 L129.2,284.1 L126,286.1 L122.9,288.2 L119.8,290.1 L116.7,291.9 L113.9,293.5 L111.3,295 L108.8,296.2 L106.5,297.3 L104.3,298.2 L102.3,299 L100.4,299.6 L98.6,300.3 L96.8,300.9 L95,301.5 L93.3,302.1 L91.7,302.7 L90.2,303.2 L88.8,303.6 L87.3,304.1 L85.9,304.5 L84.3,304.8 L82.7,305.2 L80.9,305.6 L79,305.9 L77,306.2 L75,306.5 L73,306.7 L71.1,306.9 L69.2,307.1 L67.5,307.3 L65.9,307.4 L64.3,307.5 L62.9,307.6 L61.5,307.6 L60.1,307.6 L58.8,307.6 L57.6,307.6 L56.5,307.5 L55.6,307.4 L54.9,307.3 L54.3,307.1 L53.8,306.9 L53.2,306.7 L52.5,306.5 L51.4,306.3 L50,306 L48.6,305.7 L47.4,305.5 L46.1,305.2 L44.6,304.9 L42.5,304.6 L39.5,304.1 L35.5,303.6 L30,303 L22.5,300.8 L12.8,296.4 L1.2,291 L-11.2,286 L-23.4,282.6 L-34.5,282.1 L-43.7,285.8 L-50,295 L-55.5,311.8 L-59.7,336.1 L-62.8,365.3 L-65,397 L-66.6,428.8 L-67.8,458.2 L-68.9,482.7 L-70,500 L700,500 L700,195Z" fill="#a8dc58"/><path d="M190,195 L189.8,196.6 L189.5,198.7 L189.2,201.3 L188.9,204.1 L188.5,207 L188,209.9 L187.5,212.6 L187,215 L186.6,217.1 L186.1,219.1 L185.5,221 L184.9,222.8 L184.3,224.6 L183.6,226.4 L182.8,228.2 L182,230 L181.2,231.9 L180.3,233.7 L179.4,235.5 L178.4,237.3 L177.4,239.2 L176.3,241 L175,243 L173.6,245 L172.2,247.1 L170.7,249.3 L169.1,251.6 L167.3,253.9 L165.5,256.2 L163.6,258.5 L161.6,260.8 L159.5,263 L157.1,265.2 L154.6,267.4 L152,269.5 L149.3,271.7 L146.6,273.8 L143.8,275.9 L140.9,278 L138,280 L135,282 L131.9,284.1 L128.6,286.1 L125.3,288.2 L122.1,290.1 L118.9,291.9 L116,293.5 L113.3,295 L110.8,296.2 L108.5,297.3 L106.3,298.2 L104.3,299 L102.4,299.6 L100.6,300.3 L98.8,300.9 L97,301.5 L95.3,302.1 L93.7,302.7 L92.2,303.2 L90.8,303.6 L89.3,304.1 L87.9,304.5 L86.3,304.8 L84.7,305.2 L82.9,305.6 L81,305.9 L79,306.2 L77,306.5 L75,306.7 L73.1,306.9 L71.2,307.1 L69.5,307.3 L67.9,307.4 L66.3,307.5 L64.9,307.6 L63.5,307.6 L62.1,307.6 L60.8,307.6 L59.6,307.6 L58.5,307.5 L57.6,307.4 L56.9,307.3 L56.3,307.1 L55.8,306.9 L55.2,306.7 L54.5,306.5 L53.4,306.3 L52,306 L50.6,305.7 L49.4,305.5 L48.1,305.2 L46.6,304.9 L44.5,304.6 L41.5,304.1 L37.5,303.6 L32,303 L24.5,300.8 L14.8,296.4 L3.5,291 L-8.6,286 L-20.6,282.6 L-31.7,282.1 L-41.1,285.8 L-48,295 L-53.5,311.8 L-57.7,336.1 L-60.8,365.3 L-63,397 L-64.6,428.8 L-65.8,458.2 L-66.9,482.7 L-68,500 L700,500 L700,195Z" fill="#50d8a0"/><path d="M196,195 L195.8,196.6 L195.5,198.7 L195.2,201.3 L194.9,204.1 L194.5,207 L194,209.9 L193.5,212.6 L193,215 L192.5,217.1 L191.9,219.1 L191.2,221 L190.6,222.8 L189.8,224.6 L189,226.4 L188.2,228.2 L187.3,230 L186.4,231.9 L185.4,233.7 L184.5,235.5 L183.4,237.3 L182.3,239.2 L181.1,241 L179.7,243 L178.2,245 L176.6,247.1 L174.8,249.3 L172.9,251.6 L170.9,253.9 L168.8,256.2 L166.6,258.5 L164.3,260.8 L162,263 L159.6,265.2 L157.1,267.4 L154.5,269.5 L151.8,271.7 L149.1,273.8 L146.3,275.9 L143.4,278 L140.5,280 L137.5,282 L134.3,284.1 L130.9,286.1 L127.6,288.2 L124.3,290.1 L121.1,291.9 L118,293.5 L115.3,295 L112.8,296.2 L110.5,297.3 L108.3,298.2 L106.3,299 L104.4,299.6 L102.6,300.3 L100.8,300.9 L99,301.5 L97.3,302.1 L95.7,302.7 L94.2,303.2 L92.8,303.6 L91.3,304.1 L89.9,304.5 L88.3,304.8 L86.7,305.2 L84.9,305.6 L83,305.9 L81,306.2 L79,306.5 L77,306.7 L75.1,306.9 L73.2,307.1 L71.5,307.3 L69.9,307.4 L68.3,307.5 L66.9,307.6 L65.5,307.6 L64.1,307.6 L62.8,307.6 L61.6,307.6 L60.5,307.5 L59.6,307.4 L58.9,307.3 L58.3,307.1 L57.8,306.9 L57.2,306.7 L56.5,306.5 L55.4,306.3 L54,306 L52.6,305.7 L51.4,305.5 L50.1,305.2 L48.6,304.9 L46.5,304.6 L43.5,304.1 L39.5,303.6 L34,303 L26.5,300.8 L16.8,296.4 L5.6,291 L-6.3,286 L-18.1,282.6 L-29.2,282.1 L-38.7,285.8 L-46,295 L-51.5,311.8 L-55.7,336.1 L-58.8,365.3 L-61,397 L-62.6,428.8 L-63.8,458.2 L-64.9,482.7 L-66,500 L700,500 L700,195Z" fill="#34d4bc"/><path d="M199,195 L198.8,196.6 L198.5,198.7 L198.2,201.3 L197.9,204.1 L197.5,207 L197,209.9 L196.5,212.6 L196,215 L195.4,217.1 L194.8,219.1 L194.1,221 L193.4,222.8 L192.6,224.6 L191.8,226.4 L190.9,228.2 L190,230 L189,231.9 L188.1,233.7 L187,235.5 L186,237.3 L184.8,239.2 L183.5,241 L182.1,243 L180.6,245 L178.9,247.1 L177.1,249.3 L175.1,251.6 L173.1,253.9 L170.9,256.2 L168.7,258.5 L166.4,260.8 L164,263 L161.5,265.2 L159,267.4 L156.3,269.5 L153.6,271.7 L150.8,273.8 L147.9,275.9 L145,278 L142,280 L138.9,282 L135.6,284.1 L132.2,286.1 L128.8,288.2 L125.4,290.1 L122.2,291.9 L119.1,293.5 L116.3,295 L113.8,296.2 L111.5,297.3 L109.3,298.2 L107.3,299 L105.4,299.6 L103.6,300.3 L101.8,300.9 L100,301.5 L98.3,302.1 L96.7,302.7 L95.2,303.2 L93.8,303.6 L92.3,304.1 L90.9,304.5 L89.3,304.8 L87.7,305.2 L85.9,305.6 L84,305.9 L82,306.2 L80,306.5 L78,306.7 L76.1,306.9 L74.2,307.1 L72.5,307.3 L70.9,307.4 L69.3,307.5 L67.9,307.6 L66.5,307.6 L65.1,307.6 L63.8,307.6 L62.6,307.6 L61.5,307.5 L60.6,307.4 L59.9,307.3 L59.3,307.1 L58.8,306.9 L58.2,306.7 L57.5,306.5 L56.4,306.3 L55,306 L53.6,305.7 L52.4,305.5 L51.1,305.2 L49.6,304.9 L47.5,304.6 L44.5,304.1 L40.5,303.6 L35,303 L27.5,300.8 L17.8,296.4 L6.8,291 L-5,286 L-16.8,282.6 L-27.8,282.1 L-37.5,285.8 L-45,295 L-50.5,311.8 L-54.7,336.1 L-57.8,365.3 L-60,397 L-61.6,428.8 L-62.8,458.2 L-63.9,482.7 L-65,500 L700,500 L700,195Z" fill="#34d0d0"/><path d="M201,195 L200.8,196.6 L200.5,198.7 L200.2,201.3 L199.9,204.1 L199.5,207 L199,209.9 L198.5,212.6 L198,215 L197.4,217.1 L196.8,219.1 L196.1,221 L195.4,222.8 L194.6,224.6 L193.8,226.4 L192.9,228.2 L192,230 L191,231.9 L190.1,233.7 L189,235.5 L188,237.3 L186.8,239.2 L185.5,241 L184.1,243 L182.6,245 L180.9,247.1 L179.1,249.3 L177.1,251.6 L175.1,253.9 L172.9,256.2 L170.7,258.5 L168.4,260.8 L166,263 L163.5,265.2 L161,267.4 L158.3,269.5 L155.6,271.7 L152.8,273.8 L149.9,275.9 L147,278 L144,280 L140.9,282 L137.6,284.1 L134.2,286.1 L130.8,288.2 L127.4,290.1 L124.2,291.9 L121.1,293.5 L118.3,295 L115.8,296.2 L113.5,297.3 L111.3,298.2 L109.3,299 L107.4,299.6 L105.6,300.3 L103.8,300.9 L102,301.5 L100.3,302.1 L98.7,302.7 L97.2,303.2 L95.8,303.6 L94.3,304.1 L92.9,304.5 L91.3,304.8 L89.7,305.2 L87.9,305.6 L86,305.9 L84,306.2 L82,306.5 L80,306.7 L78.1,306.9 L76.2,307.1 L74.5,307.3 L72.9,307.4 L71.3,307.5 L69.9,307.6 L68.5,307.6 L67.1,307.6 L65.8,307.6 L64.6,307.6 L63.5,307.5 L62.6,307.4 L61.9,307.3 L61.3,307.1 L60.8,306.9 L60.2,306.7 L59.5,306.5 L58.4,306.3 L57,306 L55.6,305.7 L54.4,305.5 L53.1,305.2 L51.6,304.9 L49.5,304.6 L46.5,304.1 L42.5,303.6 L37,303 L29.5,300.8 L19.8,296.4 L8.8,291 L-3,286 L-14.8,282.6 L-25.8,282.1 L-35.5,285.8 L-43,295 L-48.5,311.8 L-52.7,336.1 L-55.8,365.3 L-58,397 L-59.6,428.8 L-60.8,458.2 L-61.9,482.7 L-63,500 L700,500 L700,195Z" fill="#40c4d8"/><path d="M201.8,195 L201.6,196.6 L201.3,198.7 L201,201.3 L200.7,204.1 L200.3,207 L199.8,209.9 L199.3,212.6 L198.8,215 L198.2,217.1 L197.6,219.1 L196.9,221 L196.2,222.8 L195.4,224.6 L194.6,226.4 L193.7,228.2 L192.8,230 L191.8,231.9 L190.9,233.7 L189.8,235.5 L188.8,237.3 L187.6,239.2 L186.3,241 L184.9,243 L183.4,245 L181.7,247.1 L179.9,249.3 L177.9,251.6 L175.9,253.9 L173.7,256.2 L171.5,258.5 L169.2,260.8 L166.8,263 L164.3,265.2 L161.8,267.4 L159.1,269.5 L156.4,271.7 L153.6,273.8 L150.7,275.9 L147.8,278 L144.8,280 L141.7,282 L138.4,284.1 L135,286.1 L131.6,288.2 L128.2,290.1 L125,291.9 L121.9,293.5 L119.1,295 L116.6,296.2 L114.3,297.3 L112.1,298.2 L110.1,299 L108.2,299.6 L106.4,300.3 L104.6,300.9 L102.8,301.5 L101.1,302.1 L99.5,302.7 L98,303.2 L96.6,303.6 L95.1,304.1 L93.7,304.5 L92.1,304.8 L90.5,305.2 L88.7,305.6 L86.8,305.9 L84.8,306.2 L82.8,306.5 L80.8,306.7 L78.9,306.9 L77,307.1 L75.3,307.3 L73.7,307.4 L72.1,307.5 L70.7,307.6 L69.3,307.6 L67.9,307.6 L66.6,307.6 L65.4,307.6 L64.3,307.5 L63.4,307.4 L62.7,307.3 L62.1,307.1 L61.6,306.9 L61,306.7 L60.3,306.5 L59.2,306.3 L57.8,306 L56.4,305.7 L55.2,305.5 L53.9,305.2 L52.4,304.9 L50.3,304.6 L47.3,304.1 L43.3,303.6 L37.8,303 L30.3,300.8 L20.6,296.4 L9.6,291 L-2.2,286 L-14,282.6 L-25,282.1 L-34.7,285.8 L-42.2,295 L-47.7,311.8 L-51.9,336.1 L-55,365.3 L-57.2,397 L-58.8,428.8 L-60,458.2 L-61.1,482.7 L-62.2,500 L700,500 L700,195Z" fill="#50b0d8"/><path d="M202.5,195 L202.3,196.6 L202,198.7 L201.7,201.3 L201.4,204.1 L201,207 L200.5,209.9 L200,212.6 L199.5,215 L198.9,217.1 L198.3,219.1 L197.6,221 L196.9,222.8 L196.1,224.6 L195.3,226.4 L194.4,228.2 L193.5,230 L192.5,231.9 L191.6,233.7 L190.5,235.5 L189.5,237.3 L188.3,239.2 L187,241 L185.6,243 L184.1,245 L182.4,247.1 L180.6,249.3 L178.6,251.6 L176.6,253.9 L174.4,256.2 L172.2,258.5 L169.9,260.8 L167.5,263 L165,265.2 L162.5,267.4 L159.8,269.5 L157.1,271.7 L154.3,273.8 L151.4,275.9 L148.5,278 L145.5,280 L142.4,282 L139.1,284.1 L135.7,286.1 L132.3,288.2 L128.9,290.1 L125.7,291.9 L122.6,293.5 L119.8,295 L117.3,296.2 L115,297.3 L112.8,298.2 L110.8,299 L108.9,299.6 L107.1,300.3 L105.3,300.9 L103.5,301.5 L101.8,302.1 L100.2,302.7 L98.7,303.2 L97.3,303.6 L95.8,304.1 L94.4,304.5 L92.8,304.8 L91.2,305.2 L89.4,305.6 L87.5,305.9 L85.5,306.2 L83.5,306.5 L81.5,306.7 L79.6,306.9 L77.7,307.1 L76,307.3 L74.4,307.4 L72.8,307.5 L71.4,307.6 L70,307.6 L68.6,307.6 L67.3,307.6 L66.1,307.6 L65,307.5 L64.1,307.4 L63.4,307.3 L62.8,307.1 L62.3,306.9 L61.7,306.7 L61,306.5 L59.9,306.3 L58.5,306 L57.1,305.7 L55.9,305.5 L54.6,305.2 L53.1,304.9 L51,304.6 L48,304.1 L44,303.6 L38.5,303 L31,300.8 L21.3,296.4 L10.3,291 L-1.5,286 L-13.3,282.6 L-24.3,282.1 L-34,285.8 L-41.5,295 L-47,311.8 L-51.2,336.1 L-54.3,365.3 L-56.5,397 L-58.1,428.8 L-59.3,458.2 L-60.4,482.7 L-61.5,500 L700,500 L700,195Z" fill="#5498e0"/><path d="M203,195 L202.8,196.6 L202.5,198.7 L202.2,201.3 L201.9,204.1 L201.5,207 L201,209.9 L200.5,212.6 L200,215 L199.4,217.1 L198.8,219.1 L198.1,221 L197.4,222.8 L196.6,224.6 L195.8,226.4 L194.9,228.2 L194,230 L193,231.9 L192.1,233.7 L191,235.5 L190,237.3 L188.8,239.2 L187.5,241 L186.1,243 L184.6,245 L182.9,247.1 L181.1,249.3 L179.1,251.6 L177.1,253.9 L174.9,256.2 L172.7,258.5 L170.4,260.8 L168,263 L165.5,265.2 L163,267.4 L160.3,269.5 L157.6,271.7 L154.8,273.8 L151.9,275.9 L149,278 L146,280 L142.9,282 L139.6,284.1 L136.2,286.1 L132.8,288.2 L129.4,290.1 L126.2,291.9 L123.1,293.5 L120.3,295 L117.8,296.2 L115.5,297.3 L113.3,298.2 L111.3,299 L109.4,299.6 L107.6,300.3 L105.8,300.9 L104,301.5 L102.3,302.1 L100.7,302.7 L99.2,303.2 L97.8,303.6 L96.3,304.1 L94.9,304.5 L93.3,304.8 L91.7,305.2 L89.9,305.6 L88,305.9 L86,306.2 L84,306.5 L82,306.7 L80.1,306.9 L78.2,307.1 L76.5,307.3 L74.9,307.4 L73.3,307.5 L71.9,307.6 L70.5,307.6 L69.1,307.6 L67.8,307.6 L66.6,307.6 L65.5,307.5 L64.6,307.4 L63.9,307.3 L63.3,307.1 L62.8,306.9 L62.2,306.7 L61.5,306.5 L60.4,306.3 L59,306 L57.6,305.7 L56.4,305.5 L55.1,305.2 L53.6,304.9 L51.5,304.6 L48.5,304.1 L44.5,303.6 L39,303 L31.5,300.8 L21.8,296.4 L10.8,291 L-1,286 L-12.8,282.6 L-23.8,282.1 L-33.5,285.8 L-41,295 L-46.5,311.8 L-50.7,336.1 L-53.8,365.3 L-56,397 L-57.6,428.8 L-58.8,458.2 L-59.9,482.7 L-61,500 L700,500 L700,195Z" fill="#5a7ee8"/><path d="M203.5,195 L203.3,196.6 L203,198.7 L202.7,201.3 L202.4,204.1 L202,207 L201.5,209.9 L201,212.6 L200.5,215 L199.9,217.1 L199.3,219.1 L198.6,221 L197.9,222.8 L197.1,224.6 L196.3,226.4 L195.4,228.2 L194.5,230 L193.5,231.9 L192.6,233.7 L191.5,235.5 L190.5,237.3 L189.3,239.2 L188,241 L186.6,243 L185.1,245 L183.4,247.1 L181.6,249.3 L179.6,251.6 L177.6,253.9 L175.4,256.2 L173.2,258.5 L170.9,260.8 L168.5,263 L166,265.2 L163.5,267.4 L160.8,269.5 L158.1,271.7 L155.3,273.8 L152.4,275.9 L149.5,278 L146.5,280 L143.4,282 L140.1,284.1 L136.7,286.1 L133.3,288.2 L129.9,290.1 L126.7,291.9 L123.6,293.5 L120.8,295 L118.3,296.2 L116,297.3 L113.8,298.2 L111.8,299 L109.9,299.6 L108.1,300.3 L106.3,300.9 L104.5,301.5 L102.8,302.1 L101.2,302.7 L99.7,303.2 L98.3,303.6 L96.8,304.1 L95.4,304.5 L93.8,304.8 L92.2,305.2 L90.4,305.6 L88.5,305.9 L86.5,306.2 L84.5,306.5 L82.5,306.7 L80.6,306.9 L78.7,307.1 L77,307.3 L75.4,307.4 L73.8,307.5 L72.4,307.6 L71,307.6 L69.6,307.6 L68.3,307.6 L67.1,307.6 L66,307.5 L65.1,307.4 L64.4,307.3 L63.8,307.1 L63.3,306.9 L62.7,306.7 L62,306.5 L60.9,306.3 L59.5,306 L58.1,305.7 L56.9,305.5 L55.6,305.2 L54.1,304.9 L52,304.6 L49,304.1 L45,303.6 L39.5,303 L32,300.8 L22.3,296.4 L11.3,291 L-0.5,286 L-12.3,282.6 L-23.3,282.1 L-33,285.8 L-40.5,295 L-46,311.8 L-50.2,336.1 L-53.3,365.3 L-55.5,397 L-57.1,428.8 L-58.3,458.2 L-59.4,482.7 L-60.5,500 L700,500 L700,195Z" fill="#5660dc"/><path d="M204,195 L203.8,196.6 L203.5,198.7 L203.2,201.3 L202.9,204.1 L202.5,207 L202,209.9 L201.5,212.6 L201,215 L200.4,217.1 L199.8,219.1 L199.1,221 L198.4,222.8 L197.6,224.6 L196.8,226.4 L195.9,228.2 L195,230 L194,231.9 L193.1,233.7 L192,235.5 L191,237.3 L189.8,239.2 L188.5,241 L187.1,243 L185.6,245 L183.9,247.1 L182.1,249.3 L180.1,251.6 L178.1,253.9 L175.9,256.2 L173.7,258.5 L171.4,260.8 L169,263 L166.5,265.2 L164,267.4 L161.3,269.5 L158.6,271.7 L155.8,273.8 L152.9,275.9 L150,278 L147,280 L143.9,282 L140.6,284.1 L137.2,286.1 L133.8,288.2 L130.4,290.1 L127.2,291.9 L124.1,293.5 L121.3,295 L118.8,296.2 L116.5,297.3 L114.3,298.2 L112.3,299 L110.4,299.6 L108.6,300.3 L106.8,300.9 L105,301.5 L103.3,302.1 L101.7,302.7 L100.2,303.2 L98.8,303.6 L97.3,304.1 L95.9,304.5 L94.3,304.8 L92.7,305.2 L90.9,305.6 L89,305.9 L87,306.2 L85,306.5 L83,306.7 L81.1,306.9 L79.2,307.1 L77.5,307.3 L75.9,307.4 L74.3,307.5 L72.9,307.6 L71.5,307.6 L70.1,307.6 L68.8,307.6 L67.6,307.6 L66.5,307.5 L65.6,307.4 L64.9,307.3 L64.3,307.1 L63.8,306.9 L63.2,306.7 L62.5,306.5 L61.4,306.3 L60,306 L58.6,305.7 L57.4,305.5 L56.1,305.2 L54.6,304.9 L52.5,304.6 L49.5,304.1 L45.5,303.6 L40,303 L32.5,300.8 L22.8,296.4 L11.8,291 L0,286 L-11.8,282.6 L-22.8,282.1 L-32.5,285.8 L-40,295 L-45.5,311.8 L-49.7,336.1 L-52.8,365.3 L-55,397 L-56.6,428.8 L-57.8,458.2 L-58.9,482.7 L-60,500 L700,500 L700,195Z" fill="#5454d8"/></g><path d="M214.6 253.5l2.2 3.7 -2.9 1.3 1.8 3.1 -.9 4.6 -2.9-3.4 -1.3-5 4-4.3 -4.9 1.4 -.4-4.6 5.1-5.1 .3 3.9 -5.4 1.2 -.8-6.3 3-2.6 4.5-2 .9-3.5 1.6-3.5 -2.2-2.1 3-4.4 5.7-.1 -2.5 5.2 4.1-2.6 -1.6-2.6 3.9 .4 -2.3 2.2 -.7 4.5 2.7-1.5 3.3-.2 4.2 2.6 4-1.4 -.2 4 -1.7 2.7 1.3 3.5 3.3-1.5 0 3.5 -3.3-2 -3.9 3.8 3.3 0 3.9 1.7 -3.3 2.9 3.3 4.1 0-3.5 0-3.5 0-3.5 -3.9 1.8 .6 4.6 -2.5 6.1 -3.5-1 -5.5-3.6 .6 3.3 2.9 6.1 -3.8 .8 -5 3.2 2.4 6.4 1.1 4.8 -2 3.6 -3.2 3.4 -4.9-2.2 -1.6 4.9 -1.2 3.6 -2.8 3.5 2.8 4.7 -5.1 4.8 1-5.6 1.3-3.9 -.4-5.6 -5.5 3.5 -5.1-2.3 2.3-6 -3.1-1 -2.5 2.3 -3.8 .2 -2.6 2.9 2.9 5.8 2 6.4 -6.5 .2 -1.2-3 1.4-5.6 -3.1-.1 -2.8 3.2 -2.4-4.2 -1.4 5.4 -1.6-3.5 -1.5 4.9 3.1-1.4 3.8-1.2 4.5 2.5 3.2 .1 4.5 2.7 -5.5 4.1 2.8 4.4 3.3-2.4 2.5-4.5 4 4 4.6 3 -.6 4.5 -2.4 5 -1.9 4.3 3.7 4 3.1 3 -4.9 4.5 -1-4.9 -4.7 .7 1.8-4.6 -4.7 0 -2.5-3.1 .8-3.8 3.6-1.8 -5.2-1.4 1.6 3.2 -4.7-1.3 -3.3 5 3.7 .6 -.2 5.6 -1.7 4.9 -4.2 .8 -3.3-4.9 2.4-5 -2.4-3.9 -.9-4.3 -2.1 2.3 .3 6.2 -3.2-.3 -1.2-3.1 4.1-2.8 3 2 -2.7 4.2 -.7 4.1 -2.5-4.4 -2.1 4.1 4.6 .3 -.8 3.3 3.5 1.4 -3.1 2 -1.8 5.8 -2-3.3 -5.4-1.4 3.7-4.5 -5.7 .6 1.9-4.4 -.4-5.3 -1.5 2.7 -1.6-3 -4-1.2 -1.1-2.9 2.2-4.1 1.7 2.8 3.6-3.1 4-1.9 -1.6-4.7 -1-4.4 -3.1 1.8 -4.4-2.5 -3.2-3.3 4.1-1.1 2.8 2.7 .7 4.2 4.1 2.6 4-1.8 1.1 5.8 2 3.2 -4.7 1.5 -1.2 5.1 -3.3-2.4 4.5-2.7 3.2 2 3.2 .2 -1.7-3.7 3.8 1.4 1.1-3.4 1.5-3.8 -3.4-2.8 -5-5.2 2.9-3.2 -3.7-3.8 -3.9 1.3 -5.4-1.7 .7-3.5 -2-3.6 -3.2 .1 -2.6-2.2 -2.6 1.3 -3.4-.1 -4.3 1 -5.9 0 .4-3.9 -2.1 1.8 -2.6-1.8 -.9 5.9 -3.7-.2 -4 1 3.7 4.2 2-2.9 -1.7-2.3 -2-3.1 .2-2.8 -3.4 1.5 -1.4 4.5 2.6 .9 -3.3 2.8 2.9 0 4.1 1.4 4.1-.9 -.1-4.1 2.9-.7 1.8 2.2 4 4.1 3.3-.5 2.4 2.9 1.4 2.8 3.6-3.9 -.6 4.1 1.5 2.9 -1.7 2.8 -4.6 1.9 3-4.8 1.8-2.8 -3-.2 -2.5 1.7 -3.7-2.2 -3.1 4.4 3.5 2.8 -1.2 2.6 5.2 1.8 3.7-1.5 3.1 .2 -1.8 5.5 3 1 -4.1 1.8 5.7 1.1 3.9-1.3 -2.8 4.2 1.5 4.4 -4.5 1.3 -3.7-4.2 3.5-1.6 .2 5.8 3.6 5.2 1.7 4.3 -.5 4.6 -3.2 0 3.7-4.6 5.3-.1 3.9-1.3 -.2-3.2 -3.8-3.8 -4.7 .4 -1.3-2.8 4.1-.2 -2.8 3 -2.2 3.7 5 .3 2 3.9 .7 4.7 -3.2 0 -3.3 0M214.6 253.5l6.5-1.5 -2.7-2.7 .2-4.4 -2.7-2.4 -1.5 2.7 -5.9-1.2 -3.2-.4 .5 4.7 -6.1 2.4 2.4-3.9 3.2-3.2 2.2-2.3 1 2.7 -2.7 4.3 3.5 2 5.3 3.2 3.8-4.2 -3.7-.2 3.9-4.2 3.9 2.9 6.1 .1 2.8-1.7 .9 3.3 3.8 2.8 -.5-5.9 3.9 4.6 -3.4 1.3 -2.6 3.8 -2 5.8 1.7 5.6 -5.3 1.5 -.2-6.3 -5.2-.8 4.2-2.7 4.8 2.7 5.1-.2 2.7 3.1 3.5 1.2 0 3.6 -3.5-4.8 -2.5 5.3 6 3.2 -3.5 2.6 -3.6-1.4 1.1-4.4 -3.6-2.6 3.4-5.8 .4-4.6 5.8 1.6 0-3.6 -5.8 2 -.9-4.8M214.6 253.5l5.6 1.6 1.8 3.6 2.1-5.6 -3-1.1 -.9 3.1 3.9-2 4.5 2.7 4.9 .3 -1.2-6.6 -3.7-1.6 -.6 4.6 -3.9 .6 1.5-2.9 -3.1-2.4 -1.4 4.2 4.5-1.8 3-2.3 -1.3-4.4 -2.4-2.8 -3.9-.9 1.7 4.1 2.2-3.2 5.6-1 -.8-5.4 3.2-.2 .1 3.1 2.1 2.7 -1.2 3.8 5.6-1.1 -.6 3.8M214.6 253.5l-.7 5 -3.3-.7 -.9-2.9 -4.2-2.8 -5.8-1.4 -1-3.2 -5.6-1.2 3.9-4.1 5.1-4.1 -3.5-4.5 -1.5 4.3 -3.3 4.1 -1-4.2 -5-2.3 2.5-1.6 3-3.1 -2.1-3.4 -5.6 1.1 -4.1 1.8 2.7 .7 2.4 1.5 -2.8 2 1.7 2.6 2.8 1.5 4.5-.8 4.3 .1 5 .2 1.8-5.8 1 4.3 -1 4 1.4 3 -3.1 .1 1.7-3.1 3.6 .7 -2.6-4.7 3.8 1.3 3.4-3.4 -.3-4.9 -2.4-1.5 -2.7-1.9 -4 2.2 -1.9-4.3 4.7-2 -5.5-4.2 -3.7-3.3 -.6-4 -4.2-.2 -4 1.2 -2.7-3.8 2.9 0 2.9 0 .9 2.6 1.1 2.9 .5 3.9 -2.4 2 4.3 3.6 -4 1.2 -3-2.5 -.5 3.9 -1.9 3.1 -.5-5.1 .2-3.3 2-2.2 3.5-2.2 -3.5-.7 .2-3.4 .2-3.8 3.8 2.6 2-2.6 2.9 0 -.7 2.8 -2.2-2.8 -2.9 0M214.6 253.5l.1-4.4M216.8 257.2l-1.1 4.4 3.7 2.9 3.3 1.4 -4.3 5.1 3.5 4.7 -2.3 3.8 4.6 1.2 3.4 4.1 .9-3.6 1-4.7 -1.1-3.6 -.5-3.9 5 2.5 -4.5 1.4 -2.2 4.2 2.3 4.1 2.5 3.8 -3.2 5.8 -3.4-2.9 -1.4 3.2 .9 6.5 5.7 4.3 -4.5 1.2 -1.2-5.5 -2.2 2.7 -3.1-3 -5.3 1.3 5.1 3.1 3.2 2.9 -5.1 2.6 3.1 5.3 4.2-.9 2.3-4.1 4.2 4.1 -.5 5.2 -1.7 4.6 5.3 1.4 -3.6-6 6.4 2.9 6.6-1 0-3.8 -3.5 .7 3.5-4.5 0-3.8 -5.7 3 -3.4 3.8 -.7-5.2 1.4-4.6 1.7-5.3 -4.6-1.4 -2.9-3 5.9-3.5 3.7-2 .3-5.3 4.3-3.1 0-3.7 0-3.7 0-3.7 -6 .5 -3.9 1.4 2.8 3 -2.7 2.8 -.6 4.6 3.7-1.9 6.7 .7 0 3.8 0 3.8 0 3.8 0 3.8 -3.7 5.4 3.7-1.6 0-3.8 -6.7 3.1 3 2.3 -4.7 3 4 1.8 4.4-2.6 0 3.8 -4.4-1.2 -5.4 2.8 4.1 1.4 2.2 5.3 -3.1 4.1 -2.8 3.1 4.2 .8 -1.4 4.5 -.6 4.4 7.2-2.4 -6.6-2 -5 1.2 4.4 3.2 -.7 4.2 4.1 4.2 .4-4.2 3.4-2.8 0-3.8 0-3.8 0-3.8 0-3.8 -3.5-3.1 -5.6-1.5 -3.4-2.5 -6.5 0 -1.6-3.3 -5.7-1.1 1.9-5.5 -4.1 1.5 2.2 4 -1.3 5.5 -1.5 3.1 -3.9-4.2 -.7 4.4 -2.5 3.7 4 2.3 -1.5-6 -3.3-2.8 -3.2 1.2 -5.2-1.3 3.7-2.8 1.5 4.1 -5.9 2.1 1.4 3.2 1.4 5.5 5.7 1.3 1.4-6.8 -3.2-1.5 -.8-3.8 -4.5 5.3 -5.8 2.4 -3.9-5.1 -5.2 1.7 2.6-4.5 -1.7-3.1 4.6-.1 4.6 .6 4.1 1.5 -.7 3.4 -3.4-4.9 -1.3-3 -3.3 2.4 .5-6.8 -1-3.9 -3.6 1.4 -1.7-2.7 -2.3 3.9 -2.8-2.2 -2.2-3.3 -4.4 .3 -4.6 .2 -3.7-.7 -.1 3.2 3.8-2.5 0 4.9 2.7-2.5 -2.7-2.4 1.4-3 3.2 2.8 -1.9 2.6 3.4 .3 -1.1 4.8 -5-2.6 -3.8-2.4 -3.7 1.7 -.3 3.4 -.7 3.4 3.4 0 1 3.4 -2.6 1.8 -1.8-5.2 -1.4 2.7 -.6 3.7 1.6 2.9 -2.1 2.8 -3.6-3.9 .1 5.5 -3.7-1.9 -2.5-4 -4.1-4.1 1.4 5.9 -2.8 2.1 -4.1-.9 -3 .3 -3.1-1.6 2.3-3.1 3.1 1.3 .8-2.7 1.5-3 1.3-2.7 -3.5-2.7 2.5-1 2.4-1.6 -3.9-1.2 -1.9-3 4-.1 1.5-2.3 -3.5-.1 1.3-3 -4.1 1.7 -4 1.6 -4.9-1.7 -1.6 5.1 2.5 4.4 4.9-4.2 2.7 1.4 1.2-2.8 -4.8-2.2 -3.3 3.6 -3.2-.2 -1.7 3.2 -2.1-3.1 3.8-.1 -2.4-3.9 2-4.2 .7-3.7 -3.2 2.6 -5 1.1 4.1 1.6 -1.1 3.9 -1.5-2.8 -4.3 1.9 .1-3.2 -2-4.2 -3.5-.1 -2-2.7 -4.9-2 -2.4-3.5 -2.2 3 -2-3.8 4.2 .8 3.4-.7 3.9-2 1.4-3.7 -3-.5 -2.5 3.4 -2.1-4.5 4.6 1.1 -1.7-2.7 2.8-5.1 -4.4 2.6 -1.9-2.2 1.8-2.2 4.5-1.2 -2.6-1.1 -1.9 2.3 4.5 1.8 1.8 2.6 1.2 2.4 -1.1 3.3 3.6-1.8 -1.4 3.4 3.8-1.7 3.9-1.9 1.4-2.8 2.1-2.2 3 2.7 -.5-4.4 2.6-1 5.1 1.3 2.8-3.8 2.8-.2 -1.9-5.4 1.5-2.2 1.1-2.7 -3 .2 2-3.5 2.4-2.8 -2.6-4.2 .6-4.9 -4.6 .6 -2.7 1.3 2.4 4.5 -2.7 .8 2.1 2.4 -3.2 3.3 3.9 3.8 2.4-1.3 1.9 2.5 1.1 3.1 -.7 4.5 -.5 3.5 4.1-2.7 -1.5-2.6 2.8-1 2.7-1.9 .8 5.4 -3.5-3.5 -4.2-1.7 3.6-2.9 3.3 2.7 2.5-2.1 -2.2-4.3 -4.6-.5 2.7-4 3.1 .2 4.9-1.3 1.7 4.3 3.8 2.3 .1 3.2 -4.7-.6 -2.8-1.9 4.3-.4 -.7-2.6 -3.6 3 .5 3.9 3.8 1.5 -1 2.5 2.9 0 4.4-.2 1.5-3.8 1.6 2.7 4.4 .2 3.7 1.2 1.7-2.5 -6.1-2.8 -3-.3 .3-4 -1.8-2.1 -4.3-.8 4.7-2.6 -1.9-4.4 -1.3-3.7 3.1-.9 -4.5-1.9 -3.8-4.5 -3.7-3.3 3.3-2.5 2.8-1 4.6-2.9 3.2 3.1 -2.2 3.7 -.7-3.8 -1.7 2.2 -3.2-2.3 0 2.7 1.6 3.1 -.2 5.5 -4.6 2.3 -2.9 .9 2.8 2 3.5 0 1 5.3 -3.1-2.8 -3.4 .2 3.3 3.1 3.3 2.5 -5 1.5 1.7-4 .1-3.3 2.1-2.5 3.9 1.3 -2.9 4 4.8 .4 2.6 1.5 1.1-2.9 4.3-1.4 -2.7-1.5 1.6-2.6 -2.4-2.9 3.6-1.3 3.3-.2 3.2 .3 -3 2.6 -3.5-2.7 -3-2.9 1.2-3.3 1.7 3.2 3.7-1.1 3.2 .8 4.1 3.1 1.6 2.5 -2.9 .5 1.7 4.9 0 2.7 .6 4.9 2.8-4.5 -3.4-.4 -3.5-2.7 -.1 3 1.7 3 -3.8 1 2.1-4 -2.7 .1 -4.3 1.8 -2.2 3.9 -.7-4.3 -1.9 2.7 -2.6 1.7 -3.9 1.2 -3.3 2.9 -3.2 2.9 5.3-.3 -3.4 2.8 -1.9-2.5 -1.5-3.5 -2.3 2 -1.9 4 3 2.5 3.3 .5 2.8-.5 -1.5-2.5 -1.3 3 -3.1 2.3 -3-1.7 2.3 4.6 -1.6 3.8 -4.8-.7 -5.1-1.9 -1.1 3.9 -.3 4.1 4.1-2.6 4.2-1.2 1.7 2.6 4.9-2.7 1.2 4.1 2-3.8 -2-4.2 2.3-4.1 3.6-1.7 1.5 3.1 -1.1 5 -2.9-.5 .1-2.8 2.8 3.3 4.9-3.3 1.8-2.8 4.3 .6 -1.8-2.6 -2.5 2 -2.6-1.4 -4.5-.6 2.8-2.1 -2.4-1.9 -2.9 2.7 2.5 1.3 -2.4 4.8 -1.2-3.1 -4.8-.2 -.2-2.8 1.7-2.5 -4.7 0 .2 3.6 -3.8 1.8 -2.6 2.8 2.3 3.1 .8-2.7 5.6-.4 3.2 1.4 -4.8 2.4 3.6 1.5 -1.2 5.5 -3.3 .7 1.2 2.5 1.6 2.6 2.6 3.7 4.5 .5 -1.1 2.9 4 .7 3.1 .2 -2.9-4 3.6 .5 1.1-4.8 2.4 6.2 5.1 2.5 5.2-1.1 -4.5-2.7 5.3-1.6 1.3-4.8 -4.5 1.9 0-5.8 -3.8-4.4 -3.1 .5 -1.6-3.3 -4.2 1.6 -1.7 5.9 -6.4 .7 -2.6 1.5 1.1-4 1.5 2.5 1.6 3.5 2.7-.6 -.1 2.8 -1.5 3.2 -3.7-4.1 -.8 3.6 -.6 3.1 -3-3.2 -3.3-2.6 -1.8 4.1 -4.1-4.1 -2.3 1.3 .6-3.4 .5-4.3 3.7 0 2.4-1.1 -3.8-3.5 -3.8-1.5 -2.8 3.3 2.5 .8 1.8 2 2.3-4.6 -2.7-5.4 2.3-4.2 .5 3 3.1 .4 4 3.4 -1.3 4.2 3.7 2.8 1.3 2.6 -3.4 .6 -4.6-.1 3.4-2.4 -2.5-1.4 .4-4.7 -1.8-2.3 -2.4 3.5 1.4 4.6 -2.1 2.5 -1.6-2.5 -3.1 2.5 -1.2-5.3 -3.6 2.9 -4.4-2.6 4.2-.8 3.8-2.3 -1.4-2.8 1.1-3.3 2-2.7 -5.1 .5 -2.5 4.3 -2.4-1.9 -.2-3.7 3.2-2.5 4.7 0 2.3 3.3 2.2 4.4 2.8-1.2M216.8 257.2l5.2 1.5 -6.3 2.9 6.8 .3 -3.1 2.6 -1 6.5 -5.5 1.8 4.4 2.7 -3.7 .9 -2.9 3.7 -4.9 3.3 1.1-3.8 -1-3.7 3.5-.7 .4-3.9 -4 1 -4.6 3.2 -.3-3.8 -.4-5.5 5.1-.8 1-3.5 2.5 5.6 -3.3 4.8 -4.9-.6 -3.7-.4 4 4.2 -6.6-1.1 1.5 5.5 -3.7 5.1 -4.4 .4 -3.4-.7 -4.1 1.7 -1.3-3 2.6-2 -3-2.1 4.4-2.6 3.1 0 -1.4-2.7 5.3 1.2 -2.1-3.9 -2.2-2.9 6.6-.3 5.3-.6 -3.4-4.4 4.5 .2 -3.3-3.5 5.4-1 3.3 .4 -1.7 3.6 3 2.6 -1.7 3.4 -3.4-2.6 -1.6-2.9 2.1-4.5 -1.6-2.6 5.3-.2 -.4 3.2 3.1-.7 4.5 4.3 -2.8 4.7 .7 3.8 5-5.1 -5.7 1.3 -3.5-2.1M216.8 257.2l3.4-2.1M106 257.5l4.8 1.9 .5 3.8 .1 3 -3-.3 2.4 3.7 -2.9 1.4 2.5 1.5 .4-2.9 -4.1-1 -1.8 2.6 -2.8-.1 -2.9 1.6 -1.3 3 -4 4.2 -4.6-2.3 .8 3 2.9 3 -3 2.7 .2-3 2.8 .3 2.9 .1 2.1 3.3 2.5-2.8 1-4.2 2.6 3.7 1.3-5.7 1.9 5.8 4.4-1.7 4.8-1 -1 5.5 -4.6 2.4 -1.9-2.8 2.7-.8 3.8 1.2 .1 5.2 2.9-5.3 .4-4 2.9-1.4 -.3 3.1 -2.6-1.7 1.1-4.4 1.5-2.4 -4.1 .2 -4.6-1.7 -1.1 4.1 0 3.8 2.4-2.2 2.4 1.2 2.4 1.4 -3.4 4.1 3-.1 2.1 4.2 -.9 2.7 1.4 2.6 4-1.2 .9-3 .4-2.8 -1.2-5.4 -3.7 .6 -3 2.3 5.3 1.6 -2.3-3.9M106 257.5l1.8 4.4 3-2.5 -.6-3 5 2.3 3.8 1.3 -2.8 3.5 2.9-.3 3-2.8 -3.3-3.9 4.1-1.7 1.4 2.3 5.5-.9 1.2 2.5 3.1-2.2 -4.3-.3 1.5-3.1 4.3 1.2 4.7 .2 2.6-1.1 -3.6-3.1 -3.6-2 -4 .7 -.4 4.1 -3.2 .7 -2.8-.7 2.1-3.8 .2-2.8 .9-2.9 -2.6-5 -1.9 2.7 -2.7 5 -4.2-2.2 1.8-2.3 5.1-.5 -3.2-1.7 1.8-2.2 1.9-2.3 5-.7 -3.2-1.5 -1.8 2.2 4.3 3.2 -.3 5.3 -4.5-2.3 -1.4-3.9 3.3 1.2 -1.4-3.5M106 257.5l1.8-2.3 1.9-2.2 1.8-2.2 1.9-2.3 1.8-2.2 1.9-2.2 .3 5.3 -4-.9 .9 3.1 .3 3.1 4.2 1.8 0-3.6 -4.2 1.8 -4.4 1.7 -4.2 1.1 -1.9 2.2 .8 3.3 2.9-1.1 .6 4 -3.5 .1 0 5.2 -1.1 2.6 1.6 4.2 3 .7 -1.1 5.1 -1.9 2.4 3.6 0 -1.6 2.7 -3 .4 -2.6 3.7 2.6 1.8 1.7-2.6 3.3 3.8 3.4 .4 3.2 2.4 1.1-4.3 -4.2-1.3 2.7-1.4 1.5 2.7 2.6-1.1 3.4-1.6 2 3 1.6 5.3 4.2 0 .6 5.3 3.3 3.1 -2.3 4 -3.2 3.3 -2.7 .8 -4.7-.1 -2.4 1.6 -2 3.4 -3-.3 -2.8-.3 1.2-5 -3.5 2.5 -1.9 4.4 -.5 5.4 3.4 .2 2.5-1.8 -2.8-2.8 .3 4.6 -1.2 2.6 0 2.9 .3 4 -.1 3 2.9 0 0-4.6 -2.8 1.6 -5-1.2 .1-3.6 4.6-2.1 4.5 2.9 2.3-2.1 -2.9-2 -3.9 1.2 -5.5-.5 -1.8-4.2 5.1 1.9 -3.3 2.3 -2 4.4 -1.5-5.9 -3.3 0 .4 2.8 2.9-2.8 3.5 1.5 .9 2.6 4.6 .8 4.5 0 3.2 2.4 -.9-4.5 -.8-3.7 -2.3-1.5 1.4-2.6 .9 4.1 4.3 .8 1.9 4.8 -2.5-1.9 -2 4.5 3.3 0 -1.3-4.5 -2.9 0 3.5-2.9 -2.5-3.5 .5-3.9 -1.2-2.7 -.3-3.2 -3.1 .3 3.5-3 -2.3-1.7 3.8-.9 .7-4.7 -3.5 0 -5-2.3 -1.2-3.4 3.9-3.5 -2.9-3.4 -.5 3 -5-1.2 1 3.1 -4 1.3 -2.2 4.3 1.1 3.5 1.9-4.3 2.9-1.2 -3.7-2.3 -3.3-1.3 -.8 2.7 -3.4-1.7 -1 4 3.3 .6 1.4 2.3 -4.4 2.5 2.7 .4 3.1 1 -4.6 1.9 -2.6-.6 -.4 3.4 1.9 2.3 2.9 .2 1.4-2.8 -2.8 .2 -3.4 .1 3-2.8 -1.2-3.3 -3.4 .3 1.8-3 -5.5 1.5 3.7 1.5 -2.6 1 -3.4 .8 1.6 2.2 -3.4 4 -2.5 1.4 -2.8-2.9 5.6-2.3 3.1-.2 1.8-3 -1.1-2.5 -4-.8 -2.1 4.7 -3.3 4.1 -4.3-1.4 -1.1 4.8 -3.1-2.5 .3-2.8 -2.5-1.5 -2.9 1.2 1.6 4.3 -.7 2.8 -3.3-1.7 -.9-4.1 3.3-1.3 -2.7-3.1 -3.1 3.2 -1.7-3 -1.7-3.4 -1.1 3.2 -3.6 .4 -1.1-3.6 -2.9 0 -.3 5.2 -3.3 1 -2.6 1.7 3.9 1.2 1.7 5.3 1.7-3.7 1.3 3.3 -3 .4 -4.4-1.1 .6-2.6 -1.8-2.8 -2 5 -2.8-3 -4.6-2.2 3.4-3.8 5.4-.7 3.9 .1 -2.9-3.3 2.9 0 0 3.3 2.9-3.3 4 3.6 1.8-3.6 2.9 0 2.9 0 2.9 0 2.9 0 2.7 0 3 .2 -.3 2.9 -2 2 -1.3 5.5 3.8 1.5 -4.5 1.3 -2.6 1 -3-.1 -.6-4.1 -.5-3.8 -2.8 4.3 -3.4 2.6 .8 3.5 -4.3-2.8 2.6-3.8 4.3 .5 -2.2-4.7 5 .4 2.5 1.2 -2 2.6 2.9 1.5 1.4-2.6 1-2.8 .5-3 4.4-.2 -2.7-3.1 1.8-2.2 1.9-2.3 -.7 4.7 -1.2-2.4M110.8 259.4l2.6 2 -2.1 1.8 -2.9 2.7 -3.5-2.9 0 3M110.8 259.4l4.4-.7 1 4.8 -4.8 2.7 3.7 1.2 1.1-3.9 -4.9-.3 -3.5-1.3 -3.7-2.2 -1.8 2.2M208.2 303.4l4.1 5.3 -5.9 0 1.8-5.3 -3.5-.5 -2.9 2.8 .1-5.6 -4.1 1.6 -.2-5.2 -2.2-4.7 4.1 1.8 -1.9 2.9 -4.9-2.8 2.7-1.9 4.1-2.3 -3.3-4.7 -.1-4.9 5.1-4.4 4.7 .4 -5.2 3.7 1.1 3.9 2.4 3.3 1.6-3.4 -5.1-3.8 -4.6 .3 2.6 2.6 2-2.9 .5-4.1M208.2 303.4l-2.5-4 -3.3-3.4 -.5 4.1 3.8-.7 .1-3.2 3.4 1.6 4.1 .8 1.3-3.5 -4.1-1.2 -5.9-2.1 1.2 4.4 -3.4-.2 -2.9-2.4 0-4.1 4.7-2.7 5.9 1.5 1-4.8 3.4 3.3 -4.4 1.5 3.2 2.1 4.5 3.4 .8 3.5 -.2 4.4 3.3-1.4 3.4 2.8 -3.5 1.5 4.5 2.9 4.5-1.6 3.8-1.6 -4.8-2.4 1.9-4.3 -7.6 0 4.7-3 -5.6-3.5 -4.6-2.8 -2.3-6.4 -5.4-1.8 -1.3-4.9 3.5-2.4 .7 3.6 2.5 5.5 1.2-6.4 2.3 4 1.4 4.6 -2.6 4.2 -.6 5.5 6.1 3.8 -5.3-.3 -4-2.2 3.2-1.3 5.2-2.7 4.8-.3 -.2-6 -6.6-.7 3.4 3.8 -6 .4 -5.1 2.1 1.3 4.7M208.2 303.4l6.1-.2 -1-4.6M191.2 227.4l-3.7-2 -2.4-2 -2.9-.7 -5.1 2 -.2-2.9 -.2-3.3 -1.7-5 -2.8 5 2.2 1.7 2.3-1.7 -4.5 0 -1.2 5 -3 1.9 -2.6 1.3 2.3 1.4 .3-2.7 2.3 1.8 2.8 3 -.3 3.9 3.5-3.1 1.7-3.7 -.9-2.6 -3.4 2.2 4.3 .4 3.8-1.4 .4-3.2 -.6-3.5 3.7 .9 -.6-3.6 -3-.2 -1.2-4.5 -3.9-1.3 1.5 2.9 .2 2.9 -1.6 2.2 4.9 .7 .1-2.9 1.3-3 1.8-5.5 -2.9 0 1.1 5.5 4.5-1.7 5.1 1.7 -1.8 2.4 -.1 3.5 -3.4-1.3 0-2.9 -4.3-1.7 -2.5-1.5 -1.5-4 -2.9 0 .5 2.7 -4.8-.1 -1.5-2.6 -3.5 3.9 2.3 4 2.5-1.1 -4.8-2.9 5-1.3 1.4-2.6 -2.9 0 -2.9 0 -.6 3.9 -1.1 4.4 -2.3 1.4 1.6 3.1 .7-4.5 -2.1-2.5 -2.7-.2 -2.5-1.9 -.5 2.9 -2.4-2.3 -2.3 3.7 1.5 3.1 -2.1 5.3 2.8 1.7 -2.4 4.1 4-1 4-1.9 2.3 1.5 -3.3 2.7 2.6 1.1 3.9-1 -.6 4.2 .8 5.5 -4.7 1.3 0-3.2 3.9-3.6 -3.3-3.2 .7-3.8 2.1-1.9 -2.2-3.3 -2.9-.1 -.3-3 5 .3 3.5-1.5 2.5 4.4 5.9-1.7 -2.5-1.6 -3.4 3.3 6.1 1.2 4.7 1.2 -.3 4.4 2.3 4.2 .4-3.5 1.4-2.5 -3.8-2.6 3.3-2.5 2.9-1.9 -2.7-1.4 -3.1 2.6 -5.3-.9 4.7-2.6 -3.3-2.9 3.4 0 -3.6-2.9 -3.1 .1 3.3 2.8M191.2 227.4l3.4-1.3 .4-3.3 4.4-1.2 -4.3-1.8 1.9-2.4 -.7-2.8 -3.7-1.3 3.1-2.7 2.6 1.5 2.6 1.4 -.9 4.4 -.6 3.7 1.4 2.5 -3 .2 -3.2 1.8 3.6 2.7 -4.9 2 1.8 3.1 3.5-.3 5.3-1.3 -1.2-3.9 -4.1 5.2 -.4-4.8 2.6-4.7 5.9 2.1 -1.2-4.1 -.8-5 -.9-3.5 5-.4 2.9 .4 -2.2 3.9 4 1.5 4.5-.5 3.8 .8 -1.8-5.5 3.4-2.3 2.4-3.7 3.1 0 2.2 5.3 .9-5.3 4.1 2.8 -2 2.4 .3 2.9 2.8 3.4 2.2 3.3 -3.4 2.1 -2-3.3 -1.4 5.3 -3.7-.5 .9-5.6 4.2 .8 3.2-2.1 5.6 1.5 0 3.3 -5 4 2.3 4.3 2.7 1.9 -2.9 2.1 2.9 1.3 -4.6 1.4 -5.2-1.9 -2.5 2.5 -4.7-2.7 3.9-2.7 3.3 2.9 3.1-3.4 2.1 5.3 4.6 2 0-3.4 0-3.4 0-3.4 -2.7 1.5M191.2 227.4l-.2-3.4 -.3-4.8 -2.7 2.3 -.7-3.6 -2.6-1.4 2.6-1.5M191.2 227.4l-2.1 3.7 4.2-.3 1.3-4.7 -3.6-2.1 -3.5 1.4M218 218.5l-.4 4.1 1.7 3.3 .2 3.7 3 1.4 -4 1.4 1-2.8 5.5-3.8 -2.8-2.6 -2.9 2.7 -4.5 1.6 2.8-4.9 -2.8-.7 -5.5 .7 4.2-3.6 -1.8-5.4 1.7-2.8 -3.4-.4 -1.2 2.8 -1.5-2.4 2.7-.4 .9-2.6 2.9 0 3 0 3 0 3 0 3 0 1.4 3.9 -3.8-.2 -3.6-3.7 -2.8 3.8 3 2.2 3.8 1.1 .8 6.4 3.7-3.4 1.5 2.7 1.5-4.1 -4.6-1.8 .5-3 3.9 1.4 3-.1 4.8 .3 3.9-2.3 -1.3-3.2 1.3 0 0 3.2 0 3.3 -3.9-1 3.9 4.2 -5.5-1.5 -3.2-3 -2.1-5.2 -3.1 0 -1.7 3.9M218 218.5l-2.6-3.4 1.6-3.5 -3.6-.8 -2.5-3 -2.9 0 -2.9 0 -2.9 0 -2.9 0 -1 4.3 5.1-1.4 -2.5 2.8 3.8 3.6 3.2 3.1 1.6-2.7 -4.8-.4 4.1-3.9 .7 4.3 -.2 5.1 -2.6 3.6 .3 4.1 .5 3.8 4.6 .4 -.1 4 -3.3-.6 2.8 3.5 4.4 1.1 5.1-2.7 4.8-2.8 -3.4-2.6 -1.4 5.4 -2.4 5.1 -4.2 .3 -2.9-3.8 .5-2.9 4.9-2.6 5.5-1.5 3.5-1.5 -.1 4.1 -.9 3.7M218 218.5l2-4.7 -4.6 1.3 -1.9 3.9 1.3 2.9 3.2-3.4M85.8 317.9l2.5-3.4 3.1-.1 -.5 4 -3.2 3.6 -3.6 2 -.6 4.3 2.6 4.3 4.1-.5 -1.5 2.4 .4 6.4 2.9 0 0-2.9 -3.3-3.5 -3.2 3 -2.9 .5 -3-.6 3.5-3.6 -.5 4.2 .7 2.9 -2.9 0 -2.9 0 -1.7-4.7 3.2-2.8 -2.6-1.7 3.2-2.3 -5.1 .1 -1.6-2.6 2.3-1.8 -2-4.3 -5.3 1.8 -4.7 1.2 -1.8-2.8 -.7-2.7 -2.3 2.6 -4.5-.1 -2.8-.9 -3.5 .7 1.4 5.9 2.3 4.3 -1.3 2.5 -3.2-2.4 0-2.8 -3.7 1.7 3.7 1.1 4.5-.1 2.6-1.1 2.7-1.8 3.8 1.5 -1.2-3.7 -.8-4.8 -1.7 2.9 -4.3 2.5 -.5-2.9 4.8 .4 -2.8-3 -2 2.6 -2.9 3.1 -3.5-2.4 -1.3 2.7 -2.1-3.9 -3 3.6 -.8-3.1 3.8-.5 -1.9-3 -3.2-.4 -3.1 .1 -2.5 1.2 1.8 2.7 -3.7 .2 -.5-4.3 -2.7-.1 -1.6 3.1 -2.7-1.8 0 2.9 0 2.9 5.3 2 -.2-3.2 4.2 1.8 4.1-1.9 3.7 1.4 5.1 .3 2.6 1.3 2.2-1.6 3.4-.2 1.5 3.4 3.4 2.2 3.7 1.4 4.1 1.3 1.5 2.9 3.8-1.2 2.3-2.5 1.8-4.3 3.6-2.8 -2.9-1.6 -4.6-.3 2.6-4 1-3.7 -1.8-3.4 -1.7-2.8 -2.7-1.2 .5 3.5 2.2-2.3 4.3 .1 -3.5-3.3 2.8-2.9 3.9-1.5 3.9 3 -.7-3.1 2.8-1.8 .8-3.5 3.7-1.9 4.5-.9 -2.5-1.7 3.8-1.5 2.9-2.2 4-.3 3-.1 1.7 2.9 -4.3 .8 -1.4 3.6 -4.4-2.2 -2.1 4.5 -2.8 1 -3 2.8 3.5 2.9 1.3-2.7 -1.8-3 -3.4-.7 -2.7-1.3 -3.6 1.4 -3.9-1.5 2-2 1.9 3.5 2.3-4.6 .9-2.6 -3.3 .1 -1.2-3.5 1.8-2.2 1.9-2.2 1.8-2.3 1.4 3.2 -2.4 2.6 -.8-3.5 3.2 .9 3 1.1 -1.4 2.9 2.9 .5 -1.5-3.4 3.4 1.2 1.1 4.4 -1.3 3.2 2.8-.7 5.8-1.4 -4.4-3.3 .6-2.7 -4.6 .5 -.4-3.9 .9-3.7 -2.7-4.6 3.2 .3 .5-4.7 3 4.8 .2 5 3.2-3.5 .2 2.8M85.8 317.9l1.9 4.1 -4.8-.9 2.9-3.2 5.1 .5 .6 4.2 -.5 4.9 -3.2-.8 3.7-4.1 3.3-2.5 2.8 2.2 2.5-1.5 -3.9-3.9 -1.4 3.2 -1.5-3.4 1.5-2.4 -.4-2.7 1.5-2.9 1.7-2.9 1.6-2.3 -1.9-2.9 -1.1 2.9 3 0 3-.8 3.8 3.5 .6 4.2 -3.6 .7 -4-1.4 2.4 4.7 -3.8-.3 1.8 2.9 3.6 1.4 2.6-1.2 -.6 4 2.5 1.6 -3 1.9 -3.2-1.3 -3.7-1.1 -3.1 3 -.8 4.4 -3.5 2.4 -3.2-2.5 -3.5-1.3 -3.9 1.1 -1.5-2.7 1.5-5.2 -3 .8 -1.4 2.8 -.7 4.4 1.9 2.2 -3.7 2.1 3.1 2.4 -1.2 4.7 -2.9 0 -2.9 0 -2.9 0 -2.9 0 -1.5-4.9 -1.4 4.9 -1.8-5 -1.1 5 2.9 0 2.9 0 3.6-3.4 -5.1-1.5 -.5-2.7 -2.7 2.6 -1-4 -2.5 4.2 -3.1-.1 2.6 4.9 -2.9 0 .3-4.9 -1.7-2.7 3.5-1 3.8-.4 3.1-2.5 1.8-2.5 -3-1.2 -2.6 2.2 .1-4.1 2.5 1.9 4-1.9 3.9 3.2 3.4 3.5 -3.6-.7 -4.2 1 -2.3-1.4 .6 3.9 1.7-2.5 2.4 3.8 3.9-.8 1.4 2.5 -1.6 4.6 -2.2-3.4 -.7 3.4M85.8 317.9l-3.8-1.3 .3-3.8 1.5-2.4 2.3-3.3 -.6-2.9 -1.3-2.8 -2.8-2.1 0 3.9 4.1 1 -3.4 2.1 -4.7 .5 -2.9 .7 -3 .2 -2.5-5.6 5.3 2.7 1.5-3.4 -2.7 .6 -2.3-2.1 1.9-2.2 .4 4.3 1.2 2.8 .2 2.7 .5 3.5 1.7 4.1 5.3 1.5 .9 4.5 -3.4-3.1 -3.7 1.5 3.8 2 3.3-.4 1.2 2.9 -6 2.7 -1.5-4.4 -3.4-1.5 -1.9-2.3 -2.8 .2 -.6 3.9 2.7 2.2 2.3 2.1 -2.4 3.6 -1.5 3.3 -2.4 3.7M85.8 317.9l-.4-5.3 2.9 1.9 3.5-3.5 1.4-2.7 3-4.8 -4.6 2.1 1.6 2.7M88.3 314.5l2.6 3.9 2.4-1.7M88.3 314.5l-1.1-4.9 4.6 1.4 -2-2.4M130.4 265.9l-4.9 2.4 -2.3 1.7 -2.5 1.7 -.5-4.4 -1.1-4.1 3.6 2.4 2.8 2.7 -.9 4.1 5.1 .6 4.1 1.2 0 2.8 -3.8-.5 .2 3.4 4.8 2.4 1.3-4.5M130.4 265.9l3.1 2.2 -5.6 2.1 -3.3 2.2 1.2 4.9 2.8 4.8 1.6-2.2 1 4.2 -.8 3.9 -.3 5.2 3.9 1.7 .8 3.8 -3.9 1.4 -.9-3.6 .1-3.3 -5 1.6M130.4 265.9l-1.9-3.8 2.5-3.4 -5 2 -3.9-.3 -3.1-.4 -.2-3.5 5.5 .6 3.8-3.3 -.7-4.5 -3.2 .4 .6-4.7 -3.5 1.3 -.7 3.3 -3.2-.2 -3.1 2.2 -4.6 1.4 4.9 1.7 .6 4 -1.8 2.7 2.8 2.1 4 3.8 2.5-1.7 -.6-5.2 2.2-3.3 1-4 -1.1-3.4 -2.9-3.4 -3.9 3.1 1.4 3.5 1.8-3.3 2.3 5.2 -4.1-1.9 -4.5-1.3 -2.8-.8M133.2 262.1l-2.2-3.4M133.2 262.1l.9-5.6 2.6 .9 1.4 2.7 -2.1 1.8 3.6 .8 .4 2.9 3.1 .2 .5 3.2 3.3-5 2.8-1.1M179.2 283.4l-4.5-3.9 -2.4 3.1 2.4 2.7 3.2 2.9 2.2 2.4 4.9-2.5 4.8-.2 -1.8-2.5 1.1-3.4 -2.8-5.3 3.9-1.5 4.4-.8 -2.5 4.2 -1.9-3.4 .9-3.7 -3-.2 4.4-3.2 -5-3.3 4.1-.4 2.8-1.3 -1.9 5 -.9-3.7 .1-3 2.7 1.7 1.2-3.3 -1.6-2.6 -4.7-2.7 .7-3.8 -.7-4.4 3.8 0 2.6 2.7 4 1.7 1.3 2.8 4.5-1.4 3.8-1.8M179.2 283.4l-.4-4.1 2.4-5.2 -3.6 1.7 .4-4.8 3.9-1.1 4-1.5 1.6-3.6 .8-4.4 1-5.9 -4.9-2.1 -2.8 2 -.2-4.8 3 2.8 2.3-1.7 2.6 3.8 3.1 .2 3.1-1.5 -1.5 4 5.4-1 -3.9-3 4.2-2.5M174.7 285.3l-2.1 4.5 -3.5-4.2 5.6-.3M45.2 306.6l-2.9 0M48.1 306.6l2.9 0 1.8 3.2 2.8 .2 1.2-3.4 3.6 3.2 2.2-3.2 1 3.3 2.4 1.8 2.2 4.3 -3.5 1.2 -2.6-1.5 -2.3-1.5 .6-4.4 -4.8 .2 -3.3 2.6 -2.1 4.2 -2.7-4.2 4.8 0 .5-2.8M121.3 246.3l-2.4-4.5 1.9-2.2M124 241.3l.8 3.7 2.8 1.5 3-.5 .6-3.2 4.3-1.5 -.2 2.7 -4.7 2 1.1 3 2 2.8M227.3 243.5l4.1 2.7 2.5-2.5 -3.4-4 4.6 .2 3.1-.8M227.3 243.5l-4.8 4.3 .2-3.9 -4.1 1M227.3 243.5l3.2-3.8 .9 6.5 4.2 .2 -3.3 3.1 -4.3 3 -2.4-2.3M227.3 243.5l-4.6 .4M140.6 302.9l5.1 .2 1.7-2.4 3.7 1.3 -1.2-3M140.6 302.9l.6 3 -3-1.4 1 3.7 2.6 4.4 -2.8 4.4 -2.7 2.7 -.7-3.1 -2.3 3.4 1.5 2.9 3 2.6 -2.1 3.5 -3.8-.1 -1.1 4.5 -4.3 .5 1.9-3 3.5-2 -1-3.4 -4.2-3.4 -3.1 2.7 -3.1 .7 2.4-4 3.4-2.2 -4.4-2.8 -2-2.2 4.5-.2 2.2 2.5 -.3 2.7 .4 2.8 4.6 .2 2-2.3 -.8-4.7 -3.2 .5 .9 2.6 -3.9 .9M140.6 302.9l-1.8-4.3 -2-2.4 -2 2.5M144.1 305.7l4 1.1 0 3.3 1.7 3 -3.6-.6 -4.4 .1 -5.4 1.3 2.6 3.1 1.4 3.6 1.1 5.6 -2.8 3.2 1.7 2.4 -.2 3 -3.5 2.7 -1-3.5 4.7-2.2 2.4 1.4 -1 4.8 -1.6-3.2 -4.5-.8 -3.9 4 .9 2.9 3 0 3 0 3 0 3.1 0 1.3-3.7 -4.3 .8 -5.1-.5 -4.9 .5 -4.5-.5 3.5-4.1 2.5-1.3 -1.4-3.2 2.2-2.7 3.7-.7 -.1-3.4 2.7-1.5 4.2 .9 3.8-.8 3.6-3.6 -2.2-4 2-4.5 .9-3.7 2.2 3.9 3.9-3.3 -4.4-3.4 1.5-3.3 -2.4-3.7 -2-3.1 -3 4.2 5-1.1 2.9 0 -.9-2.8 -3.4-3.4 -3.6-.1 -5.1 1.5 -4.6-.6 -4.7-1.5 3.5-4.1 1.7 2.1 -.5 3.5 -.7 3.5 -3.9-.9 -.2 2.6 2.8 1.3M144.1 305.7l1.6-2.6 2.4 3.7 3.7 1.8 1.3 5.7 -3.3-1.2 -3.9 3.6 6.1 .4 1.1-2.8 3.6-2.7 -1.8-2.8 3.2 .1M144.1 305.7l-2.9 .2 -2 2.3 3.7 .1 -1.7-2.4M221.8 219.3l2.8 2 -2.4 1.9 -.4-3.9 2-4.4 2.9-.2 -3.3-3.2 -.6-3.7M221.8 219.3l-4.2 3.3 4.6 .6M106.8 274.3l2.2 1.6 -.6 2.8 3.3 3.4 0 3.3 -.8 3.6 4.7 2.8M106.8 274.3l-1.9-3.1 3-.2M150.9 254.4l1.5-2.3 3.2 2.9 4.6 1.4 -2.5 1.2 -2.1-2.6M32.8 330.4l2.4 2 4 2.3 3-1 -.1 2.7 -2.3 4.5 -2.3-3.6 -.6 3.6 2.9 0 2.9 0 1.8-3 -2.4-1.5 3.1-2.6 -3-.1 .9-3.9 -3.4-.4 -4.5 3 .7-4.5 -.5-2.8 -2.2-1.6 3.8-4 3.8-2.2 2.1-1.6 4.6-3.1 -2.6-.8 -2 3.9 3.4 1.6 3.9-.5 .9 3.1M32.8 330.4l-3-.8 -3.5 4.2 3.2 1.1 4.8 1.1 -.3 4.9 -2.7-2.8 -3.1 2.8 -2.9 0 -2.9 0 -.4 0 0-2.9 0-2.9 4.2 1.4 5.1 1.6 -.2 2.8 2.9 0 2.9 0M32.8 330.4l-.6 2.7 -2.7 1.8 1.8 3.2 3-2.1 .9-3.6 -3 .7 -2.4-3.5 -.3 5.3 -3.3 1.6 .1-2.7 1-5.4 4-1.4 -1.8-3.3 -3.2-4.4 -4.3 1.3 0-2.9 0-2.9 3.3-2.4 -.4-5.8 -2.9 0 0 2.4 3.3 3.4 2 4.3 1.7 2.7 1.6-2.4 3.3 2.6 -.7 3.9 -1.9 3.5 4.6 .9 3.8 1.5 -.5 5.3 2.9 1.7 .6 4.5 2.9 0 2.9 0 .2-3.6 -1-2.5 -3.2 3.1 4.2-.6 3-1.3 -4-1.2 -2.5-1 -.7 4.1 1.1 3 3.1-3.6 2.7 3.6 -2.9 0M32.8 330.4l-1.5-3.4 -1.5 2.6 -2.5-1.2 -2.9 2.6 -2.4-1.7 0-2.9 2.7-4 4.8 1.3 1.9-2.9 -.8-3.8 3.6-.5 1.8-3.7 -3-2.3 3.5-3.9 -2.9 0 -2.9 0 2.3 3.9 -2.7-.4 -5 2.3 4.3 1.9 .7-4.2 -2.5-3.5 -2.5 5.8 -3.3-.5 0-2.9 2.9-2.4 2.9 0 2.9 0 -.4 3.5M32.8 330.4l3.1-2.5 3.2-1.4 .6 2.9 2.5 4.3M122.9 254.8l1.3-5.1 3.4-3.2M122.9 254.8l2.4-1.7M124.3 257.1l1.7 3.6 2.5 1.4M54.3 340.9l2.9 0 -2.4-4.8 3.5-.2 3.2 .1 3.6-1.4 1.8-4.8 .2-2.8 3.5-2.2 -.1 5.7 4-1M54.3 340.9l.5-4.8 -1.3-3.8 .4-2.6M51.7 336l1.8-3.7 -2.2-1.5 -4.5-2.7 -1.3-4 -3.4-1.2 2.5-1.9 -3.8-3.7M158.7 260.2l-1-2.6M158.7 260.2l-.4 4M158.7 260.2l3.1-1.1 4.1 2.9 .3-2.7 -.7-4.1 -3.7 3.9 .7-4.2 -2.3 1.5 -1.3-4.3 -2.2-4.1 -1.2 3.8 3.4 .3 2.1-3.3 3-1.9 -1.2 4 4.8 2.6 4.7-2.5 2.7 .9 -3.1 3.3 -.3 2.8 3.3-3.1 2.7 1.5 .6-4.7 -3.3 3.2 1.5 5.1 -2.2 1.8 -1.8 3.1 3.1 1.1 -1.3-4.2 4.4 1.2 3.2-2.8 2.2-3.8 .4-4 1.3-4.9 3.6-1.2 -5.1-1.2 -3.4-3.1 3.5-.6 -1.9-2.1 -3.3-2.2 -3.1-2.7 4.4-.3 1.1-3.8 -3.5-3M141.8 279.8l1.5 2.7 1.9 3.7 2.7-3.6 2.1-3.2 2.4-1.4 3.5-1.1 -1.5-2.7 4.3 1.5 1.6 4.1 3.1 .9 -2.5 2 3.5 2.2 -1-4.2 4.5 .6 4.4 1.3 -3.2 3 -1.2-4.3 -3.5 3.6 4.7 .7 -2.3 5.5 -3.5-1.4M144.2 278.7l2.1-2.1 .4 3.5M144.2 278.7l-.9 3.8 -3.6-.2M216.1 281.9l3.5-2.4M216.1 281.9l-5 1.6 -.4-3.4 -3.8-.5 -6.2 0M186.6 232.5l3.7 1.4 4.8 0 -2.3 3.9 -2.1 3 -2.9 .6 3.1 2.4 -1.6 2.5 -1.5-4.9 .5-2.8 2.4 2.2 3.1 1.2 -.7 4.3 -2.2-2.5 -.2-3M186.6 232.5l2.5-1.4 -3.5-2.6 1 4 1.2 3 -2.3 1.6 -3.5-.5 .4 2.7 -1.6 2.7 -3.5 0 -2.8 3.1 .2-4 -2.8 2.6 -.8-4.5 -1.7 3.4 2.5 1.1 -1.7 3.2 4.9 2.1 -2.8 2 -.4 4.2 3-.3 .1-3 .1-2.9 -.6-3.9 -2.6-1.4M115.2 246.3l2.2 3.1M176.3 231l-2.6-4.1 -3.4 .3 -.9 4.1 -2.9 .1 -3.2-2.8 4.4-.5 2.6-.9 .7-3.7 2.7 3.4 -.6 3.3M176.3 231l-.3 3.4 -.5 4.1 -.8 2.6 2.6 .9 -1.8-3.5 -2.5-1.5 -1.9 2.2 3.6 1.9 -1.7-4.1 -.2-2.9 -3.4-2.8 .1 3 -1.2 4.2 2.8 .7 -1.6-4.9M176.3 231l5.2-.7M216.9 235.9l4.1 3.9 -5-.4 -.1 3.1M216.9 235.9l-.6-5.6 3.2-.7M216.9 235.9l-4.8-1.4 4.2-4.2 -1.5-2.8 -1.8-3 -3.6 3.6 -.1-5.5 -3.8-.5 -6.1-.5 -2.4-4.2 3 .5 4.7-.8M218.5 232.4l3.9 2 .1-3.4 3.4 1.9 3.8 1.4 2.2-3.1 1 2.9 3.2-.3 3.8 2.6M200.5 266.2l-2.7 1.3 3.1 4.2 3-2.9 1.9 3.5 3.6 2.9 4.2 1.2M200.5 266.2l2.1-3.4 -3.7 .5 -1.1 4.2 -.6 3.8 -2.6 3.1 -3.5-2.9 1.4-3.4 4.7 3.2 -6.1 .2M98.1 297.9l-4.2 1 -.7-3.8 -2.1 4.8 -2.4-3.9 -1.2-3 -3.8 1.7 -2.4-2.5 -3.1-1.2 -1.8 2.2 1.1 4.6 1.4 2.8 -3.1 .8 -3.1-3.7 1.8-2.3 1.9-2.2 3.1 2.6 1.8-3.6 3.3-4.4 -4.5 .9 -1.9 2.3 1.3 4.8 4.2-1.1 5 1.3 -1 3.2 .4 3.5 -3.9-1.3 3.5-2.2M98.1 297.9l2.3-1.3 1 2.6 -4.1 1.4 -4.4 2.3 -4.8-.2 -2 4.4M98.1 297.9l-2.1-3.5 1.4-4.7 -4-2.2 2.5-3.8 4.6 .5 3.6-.5 1.3 2.5 -1 3.1M225 225.8l2.4-3.1 -2.8-1.4 .4 4.5M126.4 289l2-4.1 2.8-.8 3.8-1.8M201.8 283.5l4-.1 4.3 4.9M201.8 283.5l-5.6 1.3 -2 3.3 -4.4-.2 -1.4 3.8 -3.4-3.6 -4.5-1.7 -2.6 1.8 -.8 4.3 3-1.9 .4-4.2 1.3-5 1.4-4.7 1.5 2.6 -.1 5.4 4.5-2.7 -4.4-2.7 1.6-2.6 5.8 1.9 .3 6.4 -3.3-3 3-3.4 4 1.3M225.9 332.1l4.7 2.6 4.3 2 4.5 0 3.4 1 0-3.8 -7.2-1.4 -5 2.2 -3.6 1.8 .6 4.4 -3.8 0 -1.9-4.5 5.1 .1 -1.1-4.4 -3-2.3 -4.3 3.3 -2.8-2 -1.3-3.1 4.6 0 -1.4-5.1 5.2-1.5 -.9 4.2 3.7 1.9 -2.8 2.3 -3.8-1.8 -.5 5.1 -.4 4.2 1.8 3.6 -3.7 0 -1.7-6.3 -2.1 6.3 -3.5-3.5 -.1 3.5 -3.7 0 -3.6 0 1.9-3.4 1.7 3.4 3.8-3.5 5.6-2.8 4-1.5 3.3 3.3 -3.7 .9 -1.9 3.6 -3.8 0 -3.6 0M225.9 332.1l5.3-2.8 -.7-3.7 -2.4-4.2 -2.4 6.1 5.5 1.8 -.6 5.4 .8 6.2 -4.4-4.4 -3.2 4.4 -3.8 0 1.9-4.5 1-6.6 -.9-4.2 -4.3-2.7 -3.2 5.1 -6.2 1.5 4-4.2 -7.1 1.2 -2.8 2.6 5.9 .4 7.5 1.6 -6.6 2.7 5.4 .8 1.2-3.5 3.3-3.1 2.9-2.4M225.9 332.1l-4 4.3M225.9 332.1l-.2-4.6 4.8-1.9 2.9-2.8 2.8 5.3 6.6-1.8 -5.2-2.7 5.2-1.1 -6.6-2.8 1.4 3.9M242.8 251.6l-3.3-.6M89.1 340.9l2.9-2.9 3.8-1.9 4.2 1.1 1.7-2.3 2.8 1.8 -4.5 .5 -1.4-2.3 3.1 0 2.9-1.8M89.1 340.9l-3.6-3.4 -2.2 3.4 2.9 0 -.7-3.4 -2.4-3.7 -4.1-.4 .6-4 3.5 4.4 3-1.2 2.6 1.9 4.8 .2 -3.3-2.6 .8-4.6 3.5-2.2 -3-2.7 -3.8-.6 .1 4.7 -.8 2.9 -.9 3 -.6 4.9M89.1 340.9l-2.9 0M154.4 302.1l4.7 0 .9-4.4 -.5-4.7 .2-3.8 -1.6-3 -5.2-.9 -1.6-3.3 4.2 2M154.4 302.1l-3.3-.1 1.6 2.9 6.1 .6 4.7-.9 -2 4.3 4.4 1.1 -2.4-5.4M161.5 308.9l-1.6 5.2 -3.8 1.2M161.5 308.9l-2.7-3.4M162.5 312.3l2.7 1.5 4.8 2.1 2.7-4.7 4.6-2.1 2.3 3.3 6.2 1.8 5.7 .9 -2.8-4.1 -2.9 3.2 2.6 2.8 3.1-1.9 1.8-3.5 4.5-3.2 -2.5-2.2 -6.1-2 -3.9 1.6 -4.7-2.9 -2.9 2.9 -6.1-.4 5.7 3.7 3.8-.5 3 2.5 1.2-5.3 -.7-4.1 4.6 2.5M162.5 312.3l-.9 4.6 3.9 1.7 .4 4 2.9-1.6 3.5-.1 4.4 3.4 5.1-.3 1.2 2.9 1.1 3.4 2.8 2.8 4.5 1.6 3.2-2.9 1.1 5.7 -4.8 3.4 3.5 0 1.3-3.4 2.3 3.4 3.6 0 -2.8-6 -1.1-5.1 -5.7-1.6 .3-6.1 -3.5 .5 -.4-5.6M162.5 312.3l3.4-2.3 3.3 1.9 3.5-.7 -5.1-4 -1.7 2.8 -.7 3.8 .3 4.8 -2.7 3.7 -2.5 3.2M175 213.5l-3.2-3.1 -.2 4.2 3.4-1.1 1.6-3 2.4-2.7 2.9 0 -1.4 4 -2.4 1.6M202.1 238.1l.1 5.6 -.1 3.1 -3.4 .7 -1.7-5.3 5.2 1.5 -3.5 3.8 -3 1.5 -5.7 1.7 -3.3 0 -1-3.2 -4.3 2.1 -2.5-1.6 -.7 3.7 3.4 2.7 -1.2 2.9 -2.8-.9 -1.2 3.6 2.2 3 3.2 2.9 .1 4 3 4.1 -3.7 .1 -3.2-3.1 -3-.1 -3.3 .1 -.8 4.1 4.1-.6 -.3 5 2.9-3.7 -2.6-1.3 3-3.5 3.8-5.1 4.1 2.5 -1 5.6 -1.7 2.7 -2-2.6 .7-4.2M202.1 238.1l1.8 2.5M202.1 238.1l2.8-1.5 2.6-2.5 1.2 3.8 -1.2 3.4 4 .1M123.1 291.8l-2.5-1.1M92 338l2.9 2.9 2.9 0 2.9 0 2.9 0 -3.6-3.7 .7 3.7M92 338l1.5-3.3 2.3 1.4 2.8-1.2 -1.3-3.1 -3.6-2.1 -2.7-2.2 -4 2.1M119.5 318.1l.4-3.8 -2-4 -1.5 2.6 3.5 1.4 3.3-2.7 1.6-2.9 -3.5 .3 1.6-3.2 -4.3-.2 -3.4 2.8 -3.4-.9 2.3 3.7 -4.8 1.9 -2.7-2.7 -1.1 4.1 3.9 3.9 2.3 2.5 -4.2 1.9 2.6 1 1.6-2.9 2.6 3.1 2.7 1.4 3.5 .1 -1 3.4 4.4 0 -2.5 4.8 2.2 2.6 .3 4.6 -2.9 0 -2.9 0 -2.9 0 1.7-4.6 1.2 4.6 2.1-4.6 3.4 0 2.9-2.4 .8 3.6 -.5 3.4 2.9 0 2.1-2.9 -1-4.6 -2.4-2.5 -.6-3 -1.1-5.8 -3.8-.6 -3.4-3.4 -3.2 .7 -3.4-2.9 1.2-4.7 1.1-2.8 2.7 1.9 3.4-1.3 -2.7-3.4 .2-2.9 -2.5-1.2 3.4-1.5 -.9 2.7 3 .4 4.2 1.2 5.5 1.1 2.1-3.9 2.1 4 -.9 3 -3.1 1.1 .8 2.9 5.4-1.6 -3.1-2.4 4.4-.3M119.5 318.1l-3.5-2.5 3.9-1.3 1.4-5.3 1.9 2.6 1.2 2.5 2.1-2.7 -1.7-2.7 1.2-4.4 .7-4.2M117.5 321.5l3 4 3.4 3.4 2.6 5 -5.1-.2 -1.2 2.6 .8 4.6 2.6-4.6 3.7 1.2 -3.4 3.4 2.9 0M117.5 321.5l5.4 0 -1-5 2.5-2.4M117.5 321.5l-3.2 2.5 .2-2.8 -1.6-5.3 -3.6-2.8 .1-3.6 -2.8 .9 -3.2-2.8 -3.1-.6 -1.3 2.7 -1.4 4.4 -3.2-2.5M27.3 316.7l-5.3-1.9 0-2.9M27.3 316.7l-5.3 1 4.3 1.6 1-2.6 3.3 .3 -1-2.7 -2.3 2.4M184.6 284.7l.4 3.4 3-2.7M184.6 284.7l-2.8-3.3 2.9-2.1M133.6 301.5l3.1 .2 1.5 2.8M242.8 258.7l-6.2 3 6.2 .6 -3.5 2.5 -6.1 2.7 -5.5-4.8 -1-3.5 1.9-3.4M242.8 258.7l0 3.6 0 3.7M130.8 333.4l4.9 .6 0-5 3 .4 -.9-3.9 3.7 .7 1.3 2.9 3.2 .4 -1.4-2.8 -1.8 2.4 -4.1 .3 -3 4.6 -2.4-1.9 2.4-3.1 -1.6-2.8 -3.2-.7 3.9-2.6 -3.5-.6 -.4 3.2 -3.1 2.4 4.1 1M138.8 298.6l-2.1 3.1 -1 3.8 -4.2-.1 -3.3 3.3 -2.2-4.4 -3.1 1.5 1.9 2.9 3.4 0 1.2 3.1 3.1 .7 3.9 1.4 -3.9 1.4 0-2.8M138.8 298.6l4.9-.1 -3.4-2.2 2.5-2.5 .9 4.7 2.4-5.2 5.4-1.3 4 .3 -2 2.8M210.5 293.9l-4.7 2.3M242.8 211l-4.5-3.2 -2.2 2.8 -1-2.8 -3.1 0M238.9 213.3l-.6-5.5 -3.2 0M238.9 213.3l-2.8-2.7M238.9 213.3l-1.6 2.7 -2.9-.1 -.4 5.5 5.4 1.2 3.4-1.8 0-3.3 0-3.2M211.7 213.6l3.7 1.5 -2-4.3 .4-3M211.7 213.6l-1.7-3.2 -2-2.6 -.7 3 -2.2-3 -1.7 2.9 .4 2.9 3.5-2.8 -3.9-.1 -4.1-2.9 -2.9 0M51.3 330.8l1.1-4.5 4.2 1.6 .7 4M128.4 284.9l-3.2-1.3 .6-6.3 -4 3.8 3.4 2.5M218.4 249.3l4.1-1.5M193.1 318.3l5 1.4 5.3-1.5 5.7-2.2 4.6-.2 7.4 .1 5.7-1.4 3 2.3 3.9-2.7 2.5 5.6M185.3 291.6l1.7 5.7 -4.1 1.7 -5.1 1.7 -5.1-.1 -1.5-2.9 .7-4.1 .7-3.8 -5.8 1.3 -4.2 2.1 .3 4 5.1-2.3 -1.2-3.8M185.3 291.6l-5.2-1M185.3 291.6l-.3-3.5M188.4 291.7l4.3 2 -2.5 3.7 -2 2.9M188.4 291.7l1.8 5.7M148.1 252.5l-4.2-1.7 1.2-4.3 -1.5-3 -.8-3.8 -2.2 2.8 -1.5-2.7 -3-3.4 -3.1 3.5 -4.2-1.6 .7-3.9 3.4-.7 1.2-4.9 -2.5 2.6 -3.4-.7 1.8-2.3 1.9-2.2 1.8-2.2 .4 4.8 3.4 2.2 2.1 4.1 -.5 4.7 3.7-.1 4.2 0 3.1 2.7 -3.2 0 3.1 2.8 -3.1 4.3 -3 1.3 -1 2.6 .7 3.8 3.1 3.2 -2.3 2.2 -1.3 3.2 -3.5-3.1 4.8-.1 2.5 1.4M148.1 252.5l-2 2.6 -3.2-1.7M148.1 252.5l-1.2-3 -1.8-3 1.8-4.1 .1-2.7 -1-4.3 -1.9 1.8 -4.5-2.1 2-2 -4.1-2.1 1.8-2.7 -1.2-2.5 2.7-3.1 5.7 1.9 -1.5 2.9 4.3-.8 -1 2.9 1.6 3.3 2.3 3.9 1.4-2.5 3.2 .2 1.4 2.8 -2.6 2.4 1.2-5.2 3.2-3.2 1.3 5.1 .7 2.8 -2.5 1.8 2.5 1.4 3.1 1.6 -3.7 1.4 .6-3M152.4 252.1l3.1-.3M94.5 325.3l2.4 3.7 -3.2 .7 -.2 5 3.8-2.9 -1.5 4.3 -.9 4.8 -2.9 0M94.5 325.3l3.5 .1 3.3-2 3.7-2.2 -2-2.8 2.5-3.9 3.8-1.4 .1 5.3 -3.8-1.2 -.1-2.7 -4.1-.1 -2 2.6 -3.2-.1 1.4 5.4 .4 3.1 2.2 3.6 1.7-2.7 -.6-2.9 -1.2-2.6 4.9 .4 4.4-2.8M94.5 325.3l.3-5.2 -3.9-1.7M94.8 314.3l1.4 2.6M105.4 278l-4.1-.8 -3.4-1.5 -3.5-.1 -.5 4.3 -3.8 .7 -2.6-.8 -1.9 2.2 4.6 1.3 -3.2 1.9 1.6 4 -4 2.9 2.9 .9 1.1-3.8 2.1 4.2 -3.2-.4M105.4 278l3.6-2.1 2.7 2.4 2.4 1.6 .6-2.9 1.8 4.1 .9-5.2 2.6 2.2 5.8-.8 3.9-4.3 2.7-1.6 4.2 2.3 -2.8 .5M70.5 330.5l2.2 3.3 .5 3.8 -2.8-1.3 1.3 4.6 1.5-3.3 2.6-1.4 3.8 1.2 -2.1 3.5 -2.9 0 -1.4-3.3M66.9 329.8l2.1 4 3.7 0M66.9 329.8l-4.7-2.9 1-3.1 .8-3.8 3.9 2.6 -.8 4.4 -4.9-.1 .5 3.9M235.6 332.5l3.8 4.2M100.1 320.8l-.7-3.8M100.1 320.8l2.9-2.4 -1.6-4 1.6-3.3 .4-3.5 2.6-1.4 .9-2.7 3.2-.2 1.7 4.2 3.3-1.9 -1.9-5.4 -4.3-.3 -3.8 1.6 1.8 2 -4.7-.8 -.8-3.5M149.2 268.6l.7-2.9 2.5 4.3 -1.2 3.9 3.2 .3 1.4-2.4 -3.4-1.8 3.5-1 3.9-1.7 3-2.5 3.1-2.8 -.5 4.2 1.8 2.8 2.5-2.2 2.7-1.9 -2.5-4.4 4.3 1.3 -2.6-3.8 -5.4 1.3M147.6 272.4l-3 1.6M97.8 340.9l2.2-3.7M97.8 340.9l-2-4.8M88.7 296l2-2.6 .8-3.7 1.9-2.2M27.3 328.4l-5.3 .9 0 2.9 2.4-1.2 1.9 2.8 -4.3 1.3 0-2.9 4.3 1.6M27.1 325.2l-2.4-2.8 -2.7 1.1M27.1 325.2l2.4-1.5M27.1 325.2l-5.1 1.2M166.7 241.1l-1.6 2.9 2.2 2.5 2.9 .4 -.8-4.3 -1.1-4.1M166.7 241.1l-4.7-1.9 -3.8-1.9M187.5 211.6l3.3 4.1 2.3 1.5 3.2-2.6 2-2.5M205.5 222.1l2.4-1.9 1.4 2.4 3.7 1.9 -1.2 5.1 4.5 .7M35.4 325.1l2.9-1.7 -1.3-3.9M178.7 296l-.9 4.7 -.1 5.1 -.4 3.3 -2.6 5.3 4.9-2 4.5-1.3M178.7 296l4.2 3 -.4-4.2M239.5 242.6l-4.4-2.7M110.4 328.4l2.7 1.4 -.2-3.2M107 328.2l2.2 2.8M107 328.2l-2.5-3.5 -2.6 1.6 -3.9-.9 -1.1 3.6M107 328.2l3.1-4.4 4.2 .2M202.1 246.8l3.7 1.5 -.3 3.8 -.8 3.9 5-1.1 -2.3 3.6 3.2-.7M201 258.8l3.7-2.8 -3.7-2.5 -1.6 2.7 -3.8 3.6 -3.9 1.6 2.3-4.2 -1.6-2.5 -2.4-4 5.5 2.5 5.5 .3M201 258.8l1.6 4 4-.9 5.3 .9 2-4.3M204.3 259.2l2.3 2.7 .8-3.4 -2.7-2.5M233.5 256.1l3.1 5.6M197 242.2l.1-4.3 -2-4 3.1-5.1 4.5-.4 4.3 1.9 -3.1 2 3.6 1.8 4.3-4.5 -4.8 .7 2.4-2.2M197 242.2l-3.2-.2 -2.9 1.8M193.1 246.3l-3.1 4.4M190.7 219.2l4.4 .6 -2-2.6 3.9 .2M195 222.8l2.8 1.5 1.6-2.7M195 222.8l.1-3M87.8 326.7l-4.3 1.6 -.4 5.5M87.8 326.7l-3.7-2.7 -4.5-2.5 -.1-3.5M205.8 272.3l.1 3.6M194 257.2l-5.7 3.2 -3 1.6 .5-3.2 -4 1.4 3.5 1.8 -3.5 3.9 0-5.7 -1.4-2.9 -4 2.7 -4.8-2 -4-4.5 .4-2.7 -2.6-1.6 -1.4-2.3 3.3-.4 2.1-3.9M189.3 254.5l-3.5 4.3 2.5 1.6 3.4 1M189.3 254.5l-5.3 1.9 -2.4-2 -4 2M111.7 282.1l3.8 4.5M116.5 281.1l3.5-3 1.8 3M72.4 313.7l2.6-2.7 5 0 -2.6-4.2 .8-3.5 .7-2.7 2.5-1.3M72.4 313.7l-4.2 2.3 .3 2.7M72.4 313.7l-3.9-.5M71.3 318.5l2.9-1.4 2.5-2 -.9 4.4 -2.6 1.3M71.3 318.5l-3.4 4.1M152.9 299.2l3-.4 .5-3.7 3.1-2.1 -2.9-3.6 3.1-.2 1.6-3.1 -.4-3.4 -2.7 .7 2.1-3.6 4.4-4.6 1.2 2.9 3.3 0 -1.4-2.5 -3.1-.4 -1.3 5.5 2.5-2.6 2 3.2 1.3-3.2 5.5 1.4 4.1-.2 -1.2-3.5M134.1 256.5l-2.8-3.4M91.5 289.7l3 2.2 1.5 2.5M88.6 289.2l-4-1.4 -2.7-1.3M228.1 321.4l-2.4-2.7 -4.6-2.8 -5.5 3.6 -1.9-3.7 -3.1 6.2 1.7 3.3 5.4-2.4 -2.1-3.4 -5 2.5 -5.4 4.5M228.1 321.4l-5.2 0 -1.8-5.5 -5.9-3.2 -5.4-1.1 -3.4-2.9 -1.7-5.8 -2.8-2.8 -4.3-3.6 4.8-.5 2.2-4.2 -.4-5M195.7 210.6l3.6-2.8M214.5 328l-2.2-2.7 3.3-5.8 7.3 1.9 2.8-2.7 1.1-4.2 3.5-2.9 2.7-2.7 -2.4-3 -.3 5.7M159.9 314.1l-3.2-2.5M39.4 306.6l-1 3.2 -2.4 3 3 1.7 -4.8 2 -.3 3.1M39.4 306.6l-2.9 0 1.9 3.2 .6 4.7M42.3 309.9l2.6 1.9 4.3-1.6 3.1 2.4M42.3 309.9l-.7 2.9 -3.2-3M179.1 237.1l1.3-3 3.4 .4 4 1 .5 3.1 -4 2.8 3.5 0 -3.6 3.7 1.5 2.4M179.1 237.1l-3.6 1.4M179.1 237.1l-1.8 4.9M99 309.7l-1.4-3.9 2.7 1.2 2.7 4.1 2.5 3.4M119 260l.1 3.2M107.3 283.8l1.7 2.4M107.3 283.8l4.4 1.6M107.3 283.8l-3.2-.1M160 297.7l2.9-.5M160 297.7l-3.6-2.6M160 297.7l2.6-4.5M156.6 245l-3.2 .5 -3.4-.3 .1-2.8 -.8-4.7 -3.3-2.3 3.9-2.5 -.6 4.8 -2.3 2 -2.9-2.5 -1.3 2.5 -3.2-4.6 -3.5 1.3 -3.2-2.7 -1.3-2.3 -1.6-3 4.1 .4 4-3 -4.4-1.8 1.9-2.3 1.8-2.2 1.9-2.3 4.4 3.5 .5-3 2.7 2.5 3.3 .1 -.6-4.2 -3.6-1.1 -1.8 2.7 -3.1-2.7 4.9 0 -3-2.2 -1.9 2.2 -1.8 2.2 4.9 .5M156.6 245l.1 3M155.6 239.7l-3.4-2.9 -.1 2.9 1.4 2.5M47.7 334.8l-.9-3.9 -1.6 2.9 -2.1-4 1.1-3 -4.5 2.6M47.7 334.8l2.3-1.5M113.1 329.8l.6 4.1 -1.4 2.4 2.9 4.6 -2.9 0 -2.8-3 -3 3 2.9 0M113.1 329.8l2.1-1.7 1.8-2.7M242.8 311.1l-5.7-.8 1.3-4.2 .7-4.8 3.7 2.2 0-3.8M242.8 311.1l0 3.8M170.9 275.1l-1.9-3.4 -1.8-2.7 -3.6 0 -1.6 4.9 2.7 1.3 1.5-2.9 2.8-.6 2.7-.7 -2-4.2 -.7 4.9 -1.2 3.9 -1.9 2.5M170.9 275.1l-1.7 3 3.1 4.5M158.7 272.3l0 3.4 -2.8 1.2 -2 3.6 4.3 2.9 3.1 2.7 3.1-1.2M158.7 272.3l3.3 1.6 -3.3 1.8 -2.9-3.9M159.8 267.3l3.8 1.7 2.6 3.3 1-3.3M127.4 249.3l4.3-.3M192.8 237.8l-2.5-3.9 -1.2-2.8M94.9 270.9l-1.9 2.2 -1.8 2.2 -1.9 2.3 -1.8 2.2 2.7 3.5 -.1-2.7M94.9 270.9l1.8-2.3 3.8 0 -1.3 4.1 -4.3-1.8M94.4 275.6l-1.4-2.5M163.2 223.4l4.8 2 .1-2.8 -4.9 .8 1.8-2.8 3.1 2 2.9 .9M160 220.3l-5.3-1.4 2.4-1.4 3.5-1.4 2.8 1.4 -3.4 2.8 -2.9-2.8 .8-3.1 -4.7 1.4 -.4-5.3 -2.8-2.7 -2.5 4.2 2.9 .2 -.8 3.9 -2.1-4.1 -.8-3.7 3.3-.5 2.9 0 -.1 2.7 -2.4 1.7 2.8 3.6 3.9 1.7M160 220.3l.6-4.2 -2.7-1.7 3-1 2.6-2.8 1-2.8 2.3 3.9 -3.3-1.1 -1.9-2.8 -3.2 3.7 .3-3.7 -2.9 0 -2.9 0M189.3 246.3l-2.6 4.4M139.3 250.3l-1.2-4.8 3.9 .8 1.6-2.8 -3-1 1.4 3.8 1.9 4.5M139.3 250.3l1 4.2 -3.6-2.9 -1-3.3 -.4-4.3 -4.1-1.2 1.8-2.9 -1.5-2.9 -2-2.6 -1.3-3.7 -1.9 2.2M139.3 250.3l-2.6 1.3M186.9 333.1l-.2 4.5 -2.7 3.3 -3.5 0 1.4-3.3 4.8 0 .7 3.3 -3.4 0 -2.1-3.3 -3.5-.2 2.1 3.5 -3.4 0 1.3-3.5 .3-4.3 4 .8 1.4-3.6 -4.7-1.3 -.7 4.1 3.2 4.5 .8-3.7 4 3.7 4.2 3.3 .5-6.2 -2.8-6.5 -4.5 2.1M187 297.3l-2.4 4.4 -4 1.2 .5 5.7 4.2-2.8 3.4 5.2M242.8 277l-3.5-1.1 -2.5-5.8M242.8 280.7l-3.5-4.8 -3.2 4.1 -3.1-2.7 -4.5 3.9 3.9 .7 2.9 4.8 -.8 4.4 3.1 2.5 .6-4.5 4.6-.8 -4.3-4.5 4.3 .7M145.9 316.7l-2.7 1.8 -4.2-1.5 -3.4-.4M145.9 316.7l-1.3 4.8 -1.4-3M145.9 316.7l.3-4.2 -3.3-4.2 -1.1 4.3 -3.9-1.7M148.4 320.7l-1.2 4.9 4.4 2.5 .9 3.8 -3.3 1.8 4.4 2.3 3.1 .4 -.3-4.4 -2.8 4 .6 4.9 3.2 0 -.7-4.5 2.7-4.4 -3 0 -.6-5.2 -4.2 1.3 .5-5.5 -4.9 3 1.8 5.1 .2 3 -3.4-.4 3.2-2.6 2.6-2.6M128.6 282.1l2.6 2 2.9 4.1 -2 2.1 2.1 2 4.6-2.6M161 248.8l.4-3.4M203.8 213.6l-2.9-.1 -4.6 1.1M116.7 272.3l-2.8-2.4 4.2-.4 2.6 2.2 3.9 .7 -1.4-2.4M116.7 272.3l4-.6 .8 4 4.3 1.6M116.7 272.3l.7 3.6 -2.7 1.1 -1.9-2.8 -2.4-1.7 3.5-2.6 -3.1-.3 .6-3.4 2.5 3.7 -1.1 4.3M38.3 323.4l-5.1 .1M38.3 323.4l1.9-3.5M82.3 312.8l-2.3-1.8 3.8-.6 -1.7-4.1M49.2 310.2l-1.7 2.4 -1.2 4.7M31.4 320.8l-2.4-1.4M153.2 215.8l-3.6 .3 -2.7 4.1 -.9-5.2 -1.2-4.5 -1.8 2.3M153.2 215.8l-3 4.5 4.5-1.4 .7 4.3 4.9 .1M151.4 260.4l1.6 3 1.7 2.5 1.1-3M151.4 260.4l-2.8-4 -2.5-1.3 .6 5.3M236.1 299l1.5-5.4 -6.1 4 3-6.5 -3.5-6.1 1.4-3.1 6.1 1.9 -2.4-3.8 -.4-5.5M236.1 299l-6.5 2.9 1 4 -5.5-2.8 1 4.4 -3.9 .8 -.6-3.7 .1-4.3M80.4 340.9l2.2-2.9M80.4 340.9l-.8-3.5 -.6-4M167.9 264.2l4.5 .7 -.1 3.3 -.6 2.8 3.3 3.5 0-3.6 .5-4.9 -3.2 2.2 2.7 2.7M167.9 264.2l2-3.7 -4 1.5 -4.8 .1 1.7 2.7 .8 4.2M167.9 264.2l-2-2.2M169.7 266.8l2.6 1.4M148.5 288.8l-2.4 4.5 -2.7-3 -.6 3.5 -4.7-.6 2.2 3.1M148.5 288.8l1-3.6 1.8-3.2M125.3 264.6l.7-3.9 3.8-4.5 -1.7-2.4M125.3 264.6l-3.2-4.2M128.5 243.6l-3.7 1.4M242.8 217.5l-5.6 1.8 .1-3.3M151.7 249.5l-4.8 0M173.8 340.9l-3.4 0 1.4-3.3 -1.5-2.7 5.3 .2 -.4-3.4 -4.9 3.2M173.8 340.9l3.3 0M173.8 340.9l4.6-3.5 -2.8-2.3 -3.8 2.5 -4.7 3.3 3.3 0M214.8 266.2l-1.9 6.6 -3.1-1.5M214.8 266.2l4.6-1.7M214.8 266.2l3.6 4.8 6.7 1.3 3.3 .6M211.9 262.8l3.8-1.2M165.9 322.6l4.3 1.2 3.3 .2M165.9 322.6l-3.1-.3 -1.2-5.4M164.4 325.3l1.9 2.6 3.9-4.1 2.1-2.9 .9-3 1.5-3.5M131.5 237l1.4-3.3 4.6-2.7 -1.4 5.4M176.6 210.5l-3.4-2.7 2.9 0M171.6 305.4l-2.3-5.1M132.7 340.9l-3 0 -2.4-3.4M131.8 338l3.9 2.9 1-3.4 2 3.4 3.1-2.9 3 2.9 3.1 0 3.1 0 3.2 0 -3.2-3.5 -1.8-3.7 -3.1 3.5 -3.3-4 0-4.1 -2.4 2.7M160 231.3l-3-2.3 1.6-3.5 2.4 1.6 -1 4.2M164.4 332.3l-2.8-4 -5.8-1.5 3-5.7 -3.2-.1M164.4 332.3l-3.3 4 2.8 4.6 2.5-4.7M170.1 331.7l1.3-3.6 -1.2-4.3 -1.4-2.8 4.4-3.1M170.1 331.7l5.1 0 -3.8-3.6 -5.1-.2M122.9 321.5l.7 3.3 4.2 3.1 -3.9 1 4.5 2M209.1 267.5l-5.2 1.3M163.4 217.5l.2-3.9 -3 2.5 .3-2.7M181.4 249.6l-3.2 2.1 -3.1-2.7M180.8 244.7l-3.6 .3M180.8 244.7l-1.9 3.3M109.2 333.9l-4.7 2.8 -.9 4.2 2.9 0 -2-4.2M109.2 333.9l3.1 2.4 4.6 0M226.6 228.4l2 3 1.1 2.9M214.6 334.6l3.6 2.7M131.5 305.4l.2 4.2 -2.3 2.2 -.1 4 -2.8-4.4 -3.3 .2M217.3 275.5l4.6 .2 2.3 5 4.3 .5M217.3 275.5l1.1-4.5M139.6 262.7l1.3-3.6 -.6-4.6M121.5 275.7l3.1-3.3M117.4 275.9l3.3-4.2M185.3 262l2.2 2.8 -5.7 1.1 -6.3 .1 2.5 5M185.8 258.8l-1.8-2.4 -3.6 .9M153 230l-4.7-.4 -3.3-2.1 -1.8 2.7 1.4 2.5 -.5 4.5 -2.5-4.1 1.6-2.9 -3.9-1.9 -5.2 .5 -2.2-2.6M153 230l-.4-5.8 -3.6-.8 -2.1-3.2 -3.2 .5 -2.9 2 -3.4-3.2M153 230l-3.1 2.9 3.7 1.4 -.6-4.3M231.1 213.1l-4.4 1.6 1.6 3.2 -.9 4.8 1.5 3.5 3 5 5.9-3.1 -5.2-1.4 -2.8-6.1 -2.4 2.1M231.1 213.1l.2 3.4 3.1-.6 -3.3-2.8M75.8 301.4l1.7-3.6 -4.8-.1M75.8 301.4l2.4 1.9 3.2-.1 -2.5-2.6M73.1 302l-4.1 .1 1.8-2.2M100.5 284.2l.9 5.2 .4 3.6M53.9 320.8l.6-3.5 3.9 3.6M199.5 325.2l2.9 3.9 -3.6 5.8 -3.1 2.6 -4.3-2.8 .6-6.5 2.6 3.6 3.1-2 -2.9-4.6 3.3-5.5 3.4 2.8 -2 2.7M194.8 325.2l-2.8 3 -3.2-5.6M179.6 312.4l3.6 6.3 1.9 3.3 -3.3 2 1.4-5.3 -3.8 1.4M102.1 271.1l-1.6-2.5 -.1-4.4M76.4 331.7l-.6 4.5M137.7 269.8l-5.3 1.6 -4.5-1.2 1.8 2.8 .3 3.5M137.7 269.8l-4.2-1.7M84.6 287.8l0 4.3M228.6 294.6l-.8-3.8 6.7 .3M226.2 277.1l-4.3-1.4 3.2-3.4 2.8-3.3 -5.2-3.1 -.2-4 -.5-3.2 4.7 .5 -2.6-6.1M226.2 277.1l3.3-.6 3.4-5 .1 5.8 -3.5-.8M195.3 306.2l-.6-6.1 2.9-3.6M195.3 306.2l-2 5.4M195.3 306.2l6.5-.5 -.7 4.6 -3.3-1.9 -.4 4.7M197.8 301.7l-3.1-1.6M171.6 214.6l.6 3.9 -3.1-2.8 -.6 3.4 3.7-.6M169.1 215.7l-3.4 .4 2.8 3 -.4 3.5M130.2 318.4l-3.6-1.8 -.1-5.2 2.9 .4M130.2 318.4l-3.5 3.7M130.2 318.4l1.1 3.9M220 213.8l-.2-6M223.4 211.5l.4 3.4 4.5 3 3-1.4 2.7 4.9M101.7 334.9l-4.4-3.1M146 235.4l-1.4-2.7 -3 .4 -2.3-4.8 1.5-2.4 5.7-1.3 2.8 2.1 -.3-3.3 1.2-3.1 2.4 3.9M64.7 317.2l-4 1.1M106.7 268.6l1.7-2.7M232.6 226.7l3.4-2 1.8 3.4 5-.6 0 3.4 -5-2.8 1.6-5.5 3.4 1.5 0 3.4M232.6 226.7l-.7 4.5M163.6 213.6l-.1-3 -5.1 .9 -2.9 .6 .3-4.3 -3 2.7 2.7 1.6M163.6 213.6l3.2-1.9M130.6 246l5.1 2.3M118.8 256.5l-3.6 2.2M155.8 326.8l-3.3 5.1 1.1 4.1 -2.6 1.4 0 3.5M209.2 297.8l-3.5 1.6 -1 3.5M211.8 229.6l3-2.1M105.4 286.2l-4 3.2 -3.4-2.4M139.3 286.2l4-3.7M133 239.9l2.5 1.4 5.1 1.2 -2.5 3 -2.8-1.5M162.8 250.9l2.7 4.3 2.1-1.7 -2.2-4.3M162.5 254.9l-3.6-2.8M192.7 293.7l1.5-5.6 5.3 1.4M221.1 315.9l-1.5-3.4 -4.4 .2 -2.9-4 -2.5 2.9 -4 1.6 -4.7-2.9 5.3-1.6M221.1 315.9l2.7-4.3 3 2.9M238.5 283.8l-3.2 2.9 2.9 2.4 4.6 3 -5.2 1.5 5.2 2.3M44.6 321l.9 3.1 2.1-3.5M216 239.4l-4-.9M209 337.4l-5.6-3.4 5.8-.2 -.9-4.3M209 337.4l.2-3.6M209 337.4l-5.5 .1 -4.7-2.6 -.8 6 -3.6 0M135.5 265.4l4.5 .2M124.2 249.7l-3.6-.1M147.4 300.7l1.1-4.5 -4.8 2.3 2 4.6 5.4-1.1M235.6 246.4l-1.7-2.7M192.4 285l1.8 3.1 1.2 3.7M204.6 291.8l-5.1 1.8M85 297.9l-1.3-3.2M161.8 259.1l-.7 3M161 227.1l4.4-.4M110.9 289l-1 4 -3.8-.8 1.3-3.3 2.5 4.1 3 .2M185.1 322l3.5 6.2 -5.6-1.3 -3.6 2.1 -3.4-.6M185.1 322l-2.1 4.9M156.7 336.4l4.4-.1M156.7 336.4l-2.5 4.5M57.8 316.8l-3.3 .5M146.9 220.2l-.4 4.4 2.5-1.2M136.3 319.7l1.4 2.4 -2.9 .8 -.7 3.3M136.3 319.7l-1.5 3.2M214.5 286.8l3.9 1.5M184.9 274l3.2-2.7M75 311l2.4-4.2 -3.1-2M71.5 307.7l-.8 3.2M71.5 307.7l-3.2-.9M71.5 307.7l-3.5 2M203.5 337.5l-.1-3.5 -4.6 .9 -4.2-3.1M152.5 331.9l3.9 .1M152.5 331.9l-3.5-1.2 -3-1.2 -.2 3.8 .3 3.9 1.8 3.7 3.1-3.5 -4.9-.2M217.6 222.6l-4.6 1.9 1.8-2.6M216.8 207.8l.2 3.8M216.8 207.8l-3.4 3M201.8 305.7l-4 2.7M128.8 238.3l-2.9 .3M201.5 322.5l5.1-2.8M77.5 297.8l-3-2.4M118.6 305.6l3.2-2.5 1.1 2.7M110.2 256.4l-2.4-1.2M110.2 256.4l-.5-3.4M22.4 340.9l-.4-2.9 4.2-1.5 2 4.4 2.9 0M137.7 322.1l3.8 4.1 3.1 .5 0-5.2 2.6 4.1 -1.2 3.9 -3.2 3.7 3 .1M236.2 328.1l-5.7-2.5M176.4 260l5.4 .2M34.2 316.5l-1.2-6 .6-3.9M140.2 334.8l2.6-1.6M108.9 299.9l.5-3.9 -4 1.9 -5-1.3 4-1.8M108.9 299.9l-3.5-2 -.3 3.6M108.9 299.9l-2 3.6M110.1 303.3l-4.1 2.9 5.8 1.3 -2.4 2 -3.4-3.3M110.1 303.3l3.1-3.1 3.1 1.3 -.3-2.7 2.6-1.5 2.5-1.3 -1.4 4 -3.7-1.2 -2.8 1.4 -.4-3.8M131.6 231.4l-2.1 3M179.4 329l-2.7-4.7M179.4 329l-4.2 2.7M225.7 327.5l-2.8-6.1M198.2 228.8l-.4-4.5M150.1 242.4l2-2.7M158.6 225.5l-3.2 .4M139.1 239.8l-3.6 1.5M224.4 287.9l3.2-3.1 3.4 .2 4.3 1.7M160.3 279.8l.6 2.9M160.3 279.8l-4.4-2.9M237.8 228.1l-1.7 5.7M183 213.3l1.7 3.2 -3.1 2.7M191.6 264.4l-3.3-4M98.6 266.4l-1.9 2.2 2.5 4.1M228.9 226.2l-.3 5.2M147.2 325.6l-2.6 1.1M116 315.6l.4-2.7M116.3 318.8l-1.8 2.4M123.6 324.8l.3 4.1M229.8 316.8l-4.1 1.9M206.9 279.6l2.5-4.4M205.8 283.4l5.3 .1M34.3 336l4.9-1.3 -1.7 2.6 4.6-.9M34.3 336l3.2 1.3 -3.5 3.6M34.3 336l-2.1-2.9M78.1 326.7l5.4 1.6M195.7 249l-.2 4.2M111.7 278.3l3-1.3M111.7 278.3l-3.3 .4M192 328.2l-3.4 0M146 215l1.5-3 -2.7-1.5 1.9-2.2 .4-.5 2.9 0 .4 4.4M165.9 235.6l-4.6 .8 1.3-4M114.1 311.2l-4.7-1.7M148.1 310.1l-1.9 2.4M170.2 246.9l2.1 4.1 -4.3-.2M61.4 321l-2.2 4.7M22 338l3.3 2.9 .9-4.4M170 315.9l-.8-4M85.5 304.2l2.6-1.5M178.5 315.8l4.7 2.9M158.4 211.5l-2.6-3.7M141.8 338l-.1 2.9M119.5 328.9l-.6 2.9M42.9 315.7l-1.3-2.9M239 340.9l3.8 0 0-3.2 -3.8 3.2 -3.8 0 -.3-4.2 -3.5 4.2 3.8 0M185.5 237.1l-3.1 2.2M185.5 237.1l-1.2 4.3 -.1 3.7M183.8 234.5l-1.8 2.1M126.5 311.4l1.7-2.7 3.5 .9M178.2 251.7l-3.2 .2M102.2 302.7l1.2 4.9M143.7 220.7l2.8 3.9M186.7 337.6l4.7-2.9M227.6 340.9l3.8 0M60.4 309.8l-.7-3.2M60.4 309.8l3.2 .1 1.7-3.3M190.9 340.9l-3.5 0M118.6 297.3l1.1 2.7M141.5 326.2l3.1-4.7M105 321.2l-.5 3.5M202.2 207.8l1.2 2.9M138.1 225.8l2.7 .1 4.2 1.6M138.1 225.8l-2.5-4.1 5.2 1 -1.5-5.5M140.8 222.7l0 3.2 2.4 4.3 5.1-.6 -3.7 3.1 5.3 .2M120.2 267.3l-5.1 .1 3 2.1M216.5 307.2l-4.2 1.5 2-5.5M233.2 267.5l-.3 4M148.1 306.8l-5.2 1.5M115.1 305.6l3.7-2.9M115.1 305.6l1.2-4.1M115.1 305.6l.1 2.8M219.6 312.5l2.6-4.2M178.6 263l-3.1 3M171.9 255.2l-4.3-1.7M158.7 207.8l2.9 0 2.9 0 2.9 0M238.3 207.8l3.2 0M74.2 317.1l1.6 2.4 .8 2.8M115.1 267.4l-1.2 2.5M143.6 243.5l3.3-1.1 -4.1-2.7" fill="none" stroke="#a8a890" stroke-opacity="0.75" stroke-width="0.6"/></g><path d="M22,306.6 L65.3,306.6 L147.1,207.8 L242.8,207.8" fill="none" stroke="#5a7ad8" stroke-width="0.8"/><rect x="21.7" y="202.4" width="221.3" height="1.5" fill="#8a8a8a"/><rect x="23.3" y="201" width="0.6" height="1.6" fill="#9a9a9a"/><rect x="27.6" y="201" width="0.6" height="1.6" fill="#9a9a9a"/><rect x="31.9" y="201" width="0.6" height="1.6" fill="#9a9a9a"/><rect x="36.2" y="201" width="0.6" height="1.6" fill="#9a9a9a"/><rect x="40.5" y="201" width="0.6" height="1.6" fill="#9a9a9a"/><rect x="44.9" y="201" width="0.6" height="1.6" fill="#9a9a9a"/><rect x="49.2" y="201" width="0.6" height="1.6" fill="#9a9a9a"/><rect x="53.5" y="201" width="0.6" height="1.6" fill="#9a9a9a"/><rect x="57.8" y="201" width="0.6" height="1.6" fill="#9a9a9a"/><rect x="62.1" y="201" width="0.6" height="1.6" fill="#9a9a9a"/><rect x="66.5" y="201" width="0.6" height="1.6" fill="#9a9a9a"/><rect x="70.8" y="201" width="0.6" height="1.6" fill="#9a9a9a"/><rect x="75.1" y="201" width="0.6" height="1.6" fill="#9a9a9a"/><rect x="79.4" y="201" width="0.6" height="1.6" fill="#9a9a9a"/><rect x="83.7" y="201" width="0.6" height="1.6" fill="#9a9a9a"/><rect x="88.1" y="201" width="0.6" height="1.6" fill="#9a9a9a"/><rect x="92.4" y="201" width="0.6" height="1.6" fill="#9a9a9a"/><rect x="96.7" y="201" width="0.6" height="1.6" fill="#9a9a9a"/><rect x="101" y="201" width="0.6" height="1.6" fill="#9a9a9a"/><rect x="105.3" y="201" width="0.6" height="1.6" fill="#9a9a9a"/><rect x="109.7" y="201" width="0.6" height="1.6" fill="#9a9a9a"/><rect x="114" y="201" width="0.6" height="1.6" fill="#9a9a9a"/><rect x="118.3" y="201" width="0.6" height="1.6" fill="#9a9a9a"/><rect x="122.6" y="201" width="0.6" height="1.6" fill="#9a9a9a"/><rect x="126.9" y="201" width="0.6" height="1.6" fill="#9a9a9a"/><rect x="131.3" y="201" width="0.6" height="1.6" fill="#9a9a9a"/><rect x="135.6" y="201" width="0.6" height="1.6" fill="#9a9a9a"/><rect x="139.9" y="201" width="0.6" height="1.6" fill="#9a9a9a"/><rect x="144.2" y="201" width="0.6" height="1.6" fill="#9a9a9a"/><rect x="148.5" y="201" width="0.6" height="1.6" fill="#9a9a9a"/><rect x="152.9" y="201" width="0.6" height="1.6" fill="#9a9a9a"/><rect x="157.2" y="201" width="0.6" height="1.6" fill="#9a9a9a"/><rect x="161.5" y="201" width="0.6" height="1.6" fill="#9a9a9a"/><rect x="165.8" y="201" width="0.6" height="1.6" fill="#9a9a9a"/><rect x="170.1" y="201" width="0.6" height="1.6" fill="#9a9a9a"/><rect x="174.5" y="201" width="0.6" height="1.6" fill="#9a9a9a"/><rect x="178.8" y="201" width="0.6" height="1.6" fill="#9a9a9a"/><rect x="183.1" y="201" width="0.6" height="1.6" fill="#9a9a9a"/><rect x="187.4" y="201" width="0.6" height="1.6" fill="#9a9a9a"/><rect x="191.7" y="201" width="0.6" height="1.6" fill="#9a9a9a"/><rect x="196.1" y="201" width="0.6" height="1.6" fill="#9a9a9a"/><rect x="200.4" y="201" width="0.6" height="1.6" fill="#9a9a9a"/><rect x="204.7" y="201" width="0.6" height="1.6" fill="#9a9a9a"/><rect x="209" y="201" width="0.6" height="1.6" fill="#9a9a9a"/><rect x="213.3" y="201" width="0.6" height="1.6" fill="#9a9a9a"/><rect x="217.7" y="201" width="0.6" height="1.6" fill="#9a9a9a"/><rect x="222" y="201" width="0.6" height="1.6" fill="#9a9a9a"/><rect x="226.3" y="201" width="0.6" height="1.6" fill="#9a9a9a"/><rect x="230.6" y="201" width="0.6" height="1.6" fill="#9a9a9a"/><rect x="234.9" y="201" width="0.6" height="1.6" fill="#9a9a9a"/><rect x="239.3" y="201" width="0.6" height="1.6" fill="#9a9a9a"/><rect x="31.9" y="200" width="0.7" height="2.6" fill="#888"/><text x="32.2" y="197.6" font-size="3.6" text-anchor="middle" fill="#4a4a4a" textLength="7" lengthAdjust="spacingAndGlyphs" font-family="Liberation Sans, Arial, sans-serif">20,80</text><rect x="53.5" y="200" width="0.7" height="2.6" fill="#888"/><text x="53.8" y="197.6" font-size="3.6" text-anchor="middle" fill="#4a4a4a" textLength="7" lengthAdjust="spacingAndGlyphs" font-family="Liberation Sans, Arial, sans-serif">21,60</text><rect x="75.1" y="200" width="0.7" height="2.6" fill="#888"/><text x="75.4" y="197.6" font-size="3.6" text-anchor="middle" fill="#4a4a4a" textLength="7" lengthAdjust="spacingAndGlyphs" font-family="Liberation Sans, Arial, sans-serif">22,40</text><rect x="96.7" y="200" width="0.7" height="2.6" fill="#888"/><text x="97" y="197.6" font-size="3.6" text-anchor="middle" fill="#4a4a4a" textLength="7" lengthAdjust="spacingAndGlyphs" font-family="Liberation Sans, Arial, sans-serif">23,20</text><rect x="118.3" y="200" width="0.7" height="2.6" fill="#888"/><text x="118.6" y="197.6" font-size="3.6" text-anchor="middle" fill="#4a4a4a" textLength="7" lengthAdjust="spacingAndGlyphs" font-family="Liberation Sans, Arial, sans-serif">24,00</text><rect x="139.8" y="200" width="0.7" height="2.6" fill="#888"/><text x="140.2" y="197.6" font-size="3.6" text-anchor="middle" fill="#4a4a4a" textLength="7" lengthAdjust="spacingAndGlyphs" font-family="Liberation Sans, Arial, sans-serif">24,80</text><rect x="161.5" y="200" width="0.7" height="2.6" fill="#888"/><text x="161.8" y="197.6" font-size="3.6" text-anchor="middle" fill="#4a4a4a" textLength="7" lengthAdjust="spacingAndGlyphs" font-family="Liberation Sans, Arial, sans-serif">25,60</text><rect x="183.1" y="200" width="0.7" height="2.6" fill="#888"/><text x="183.4" y="197.6" font-size="3.6" text-anchor="middle" fill="#4a4a4a" textLength="7" lengthAdjust="spacingAndGlyphs" font-family="Liberation Sans, Arial, sans-serif">26,40</text><rect x="204.7" y="200" width="0.7" height="2.6" fill="#888"/><text x="205" y="197.6" font-size="3.6" text-anchor="middle" fill="#4a4a4a" textLength="7" lengthAdjust="spacingAndGlyphs" font-family="Liberation Sans, Arial, sans-serif">27,20</text><rect x="226.3" y="200" width="0.7" height="2.6" fill="#888"/><text x="226.6" y="197.6" font-size="3.6" text-anchor="middle" fill="#4a4a4a" textLength="7" lengthAdjust="spacingAndGlyphs" font-family="Liberation Sans, Arial, sans-serif">28,00</text><rect x="17.8" y="206" width="1.1" height="135" fill="#8e8e8e"/><rect x="16.2" y="207.2" width="1.6" height="0.6" fill="#9a9a9a"/><rect x="16.2" y="212.4" width="1.6" height="0.6" fill="#9a9a9a"/><rect x="16.2" y="217.7" width="1.6" height="0.6" fill="#9a9a9a"/><rect x="16.2" y="223" width="1.6" height="0.6" fill="#9a9a9a"/><rect x="16.2" y="228.2" width="1.6" height="0.6" fill="#9a9a9a"/><rect x="16.2" y="233.5" width="1.6" height="0.6" fill="#9a9a9a"/><rect x="16.2" y="238.7" width="1.6" height="0.6" fill="#9a9a9a"/><rect x="16.2" y="244" width="1.6" height="0.6" fill="#9a9a9a"/><rect x="16.2" y="249.3" width="1.6" height="0.6" fill="#9a9a9a"/><rect x="16.2" y="254.5" width="1.6" height="0.6" fill="#9a9a9a"/><rect x="16.2" y="259.8" width="1.6" height="0.6" fill="#9a9a9a"/><rect x="16.2" y="265" width="1.6" height="0.6" fill="#9a9a9a"/><rect x="16.2" y="270.3" width="1.6" height="0.6" fill="#9a9a9a"/><rect x="16.2" y="275.6" width="1.6" height="0.6" fill="#9a9a9a"/><rect x="16.2" y="280.8" width="1.6" height="0.6" fill="#9a9a9a"/><rect x="16.2" y="286.1" width="1.6" height="0.6" fill="#9a9a9a"/><rect x="16.2" y="291.3" width="1.6" height="0.6" fill="#9a9a9a"/><rect x="16.2" y="296.6" width="1.6" height="0.6" fill="#9a9a9a"/><rect x="16.2" y="301.9" width="1.6" height="0.6" fill="#9a9a9a"/><rect x="16.2" y="307.1" width="1.6" height="0.6" fill="#9a9a9a"/><rect x="16.2" y="312.4" width="1.6" height="0.6" fill="#9a9a9a"/><rect x="16.2" y="317.6" width="1.6" height="0.6" fill="#9a9a9a"/><rect x="16.2" y="322.9" width="1.6" height="0.6" fill="#9a9a9a"/><rect x="16.2" y="328.2" width="1.6" height="0.6" fill="#9a9a9a"/><rect x="16.2" y="333.4" width="1.6" height="0.6" fill="#9a9a9a"/><rect x="16.2" y="338.7" width="1.6" height="0.6" fill="#9a9a9a"/><rect x="15" y="217.7" width="2.8" height="0.7" fill="#888"/><text x="15.6" y="219.3" font-size="3.6" text-anchor="end" fill="#4a4a4a" textLength="7" lengthAdjust="spacingAndGlyphs" font-family="Liberation Sans, Arial, sans-serif">29,60</text><rect x="15" y="244" width="2.8" height="0.7" fill="#888"/><text x="15.6" y="245.6" font-size="3.6" text-anchor="end" fill="#4a4a4a" textLength="7" lengthAdjust="spacingAndGlyphs" font-family="Liberation Sans, Arial, sans-serif">28,80</text><rect x="15" y="270.2" width="2.8" height="0.7" fill="#888"/><text x="15.6" y="271.9" font-size="3.6" text-anchor="end" fill="#4a4a4a" textLength="7" lengthAdjust="spacingAndGlyphs" font-family="Liberation Sans, Arial, sans-serif">28,00</text><rect x="15" y="296.5" width="2.8" height="0.7" fill="#888"/><text x="15.6" y="298.2" font-size="3.6" text-anchor="end" fill="#4a4a4a" textLength="7" lengthAdjust="spacingAndGlyphs" font-family="Liberation Sans, Arial, sans-serif">27,20</text><rect x="15" y="322.8" width="2.8" height="0.7" fill="#888"/><text x="15.6" y="324.5" font-size="3.6" text-anchor="end" fill="#4a4a4a" textLength="7" lengthAdjust="spacingAndGlyphs" font-family="Liberation Sans, Arial, sans-serif">26,40</text><rect x="246.4" y="214.2" width="10.2" height="7" fill="#ee0000"/><rect x="246.4" y="220.9" width="10.2" height="7" fill="#ff2000"/><rect x="246.4" y="227.7" width="10.2" height="7" fill="#ff5000"/><rect x="246.4" y="234.4" width="10.2" height="7" fill="#ff8000"/><rect x="246.4" y="241.1" width="10.2" height="7" fill="#ffa800"/><rect x="246.4" y="247.9" width="10.2" height="7" fill="#ffe000"/><rect x="246.4" y="254.6" width="10.2" height="7" fill="#ffff00"/><rect x="246.4" y="261.3" width="10.2" height="7" fill="#80f040"/><rect x="246.4" y="268.1" width="10.2" height="7" fill="#00e880"/><rect x="246.4" y="274.8" width="10.2" height="7" fill="#00f0c0"/><rect x="246.4" y="281.6" width="10.2" height="7" fill="#00ffff"/><rect x="246.4" y="288.3" width="10.2" height="7" fill="#00e0ff"/><rect x="246.4" y="295" width="10.2" height="7" fill="#00c0ff"/><rect x="246.4" y="301.8" width="10.2" height="7" fill="#0090ff"/><rect x="246.4" y="308.5" width="10.2" height="7" fill="#0060ff"/><rect x="246.4" y="315.2" width="10.2" height="7" fill="#0030ff"/><rect x="246.4" y="322" width="10.2" height="7" fill="#0000e8"/><rect x="246.4" y="220.7" width="10.2" height="0.5" fill="#000" fill-opacity="0.28"/><rect x="246.4" y="227.4" width="10.2" height="0.5" fill="#000" fill-opacity="0.28"/><rect x="246.4" y="234.2" width="10.2" height="0.5" fill="#000" fill-opacity="0.28"/><rect x="246.4" y="240.9" width="10.2" height="0.5" fill="#000" fill-opacity="0.28"/><rect x="246.4" y="247.6" width="10.2" height="0.5" fill="#000" fill-opacity="0.28"/><rect x="246.4" y="254.4" width="10.2" height="0.5" fill="#000" fill-opacity="0.28"/><rect x="246.4" y="261.1" width="10.2" height="0.5" fill="#000" fill-opacity="0.28"/><rect x="246.4" y="267.8" width="10.2" height="0.5" fill="#000" fill-opacity="0.28"/><rect x="246.4" y="274.6" width="10.2" height="0.5" fill="#000" fill-opacity="0.28"/><rect x="246.4" y="281.3" width="10.2" height="0.5" fill="#000" fill-opacity="0.28"/><rect x="246.4" y="288" width="10.2" height="0.5" fill="#000" fill-opacity="0.28"/><rect x="246.4" y="294.8" width="10.2" height="0.5" fill="#000" fill-opacity="0.28"/><rect x="246.4" y="301.5" width="10.2" height="0.5" fill="#000" fill-opacity="0.28"/><rect x="246.4" y="308.2" width="10.2" height="0.5" fill="#000" fill-opacity="0.28"/><rect x="246.4" y="315" width="10.2" height="0.5" fill="#000" fill-opacity="0.28"/><rect x="246.4" y="321.7" width="10.2" height="0.5" fill="#000" fill-opacity="0.28"/><text x="260.3" y="222.8" font-size="3.6" fill="#4a4a4a" textLength="8.5" lengthAdjust="spacingAndGlyphs" font-family="Liberation Sans, Arial, sans-serif">800,00</text><text x="260.3" y="236.2" font-size="3.6" fill="#4a4a4a" textLength="8.5" lengthAdjust="spacingAndGlyphs" font-family="Liberation Sans, Arial, sans-serif">700,00</text><text x="260.3" y="249.6" font-size="3.6" fill="#4a4a4a" textLength="8.5" lengthAdjust="spacingAndGlyphs" font-family="Liberation Sans, Arial, sans-serif">600,00</text><text x="260.3" y="263" font-size="3.6" fill="#4a4a4a" textLength="8.5" lengthAdjust="spacingAndGlyphs" font-family="Liberation Sans, Arial, sans-serif">500,00</text><text x="260.3" y="276.4" font-size="3.6" fill="#4a4a4a" textLength="8.5" lengthAdjust="spacingAndGlyphs" font-family="Liberation Sans, Arial, sans-serif">400,00</text><text x="260.3" y="289.8" font-size="3.6" fill="#4a4a4a" textLength="8.5" lengthAdjust="spacingAndGlyphs" font-family="Liberation Sans, Arial, sans-serif">300,00</text><text x="260.3" y="303.2" font-size="3.6" fill="#4a4a4a" textLength="8.5" lengthAdjust="spacingAndGlyphs" font-family="Liberation Sans, Arial, sans-serif">200,00</text><text x="260.3" y="316.6" font-size="3.6" fill="#4a4a4a" textLength="8.5" lengthAdjust="spacingAndGlyphs" font-family="Liberation Sans, Arial, sans-serif">100,00</text><text x="260.3" y="330" font-size="3.6" fill="#4a4a4a" textLength="5.5" lengthAdjust="spacingAndGlyphs" font-family="Liberation Sans, Arial, sans-serif">0,00</text><text x="254.2" y="210.2" font-size="3.6" fill="#555" font-family="Liberation Sans, Arial, sans-serif">[*10<tspan font-size="2.2" dy="-1.1">-3</tspan><tspan dy="1.1"> m]</tspan></text><rect x="264.1" y="333.5" width="5" height="5" fill="#e4e4e4" stroke="#c8c8c8" stroke-width="0.4"/><rect x="265.3" y="335" width="2.6" height="2.4" fill="#f0b030"/><rect x="25.8" y="354" width="4.4" height="3.9" fill="#f7b731"/><text x="146.5" y="349.6" font-size="3.8" font-weight="bold" text-anchor="middle" fill="#1a1a1a" textLength="67.5" lengthAdjust="spacingAndGlyphs" font-family="Liberation Sans, Arial, sans-serif">Total displacements |u| (scaled up 5,00 times)</text><text x="146.5" y="355.9" font-size="3.5" text-anchor="middle" fill="#3a3a3a" textLength="71" lengthAdjust="spacingAndGlyphs" font-family="Liberation Sans, Arial, sans-serif">Maximum value = 0,8122 m (Element 7038 at Node 62566)</text><rect x="277.5" y="193.9" width="265.9" height="166.3" fill="#efefef"/><clipPath id="g3"><path d="M293.5,311 L343,311 L420.3,215.3 L514.4,215.3 L514.4,340.3 L293.5,340.3Z"/></clipPath><clipPath id="c3_7"><path d="M438,232C441,232.3 445.7,236.2 446,240C446.3,243.8 443.5,250 440,255C436.5,260 430.8,265 425,270C419.2,275 411.7,280.5 405,285C398.3,289.5 390.8,294.2 385,297C379.2,299.8 373.8,301.8 370,302C366.2,302.2 361.7,300.8 362,298C362.3,295.2 366.5,290 372,285C377.5,280 387.8,273.5 395,268C402.2,262.5 409.5,257 415,252C420.5,247 424.2,241.3 428,238C431.8,234.7 435,231.7 438,232Z"/></clipPath><filter id="bl3" x="-5%" y="-5%" width="110%" height="110%"><feGaussianBlur stdDeviation="2.2"/></filter><g clip-path="url(#g3)"><path d="M293.5,311 L343,311 L420.3,215.3 L514.4,215.3 L514.4,340.3 L293.5,340.3Z" fill="#58c4bc"/><path d="M486,195 L485.8,196.5 L485.6,198.3 L485.4,200.6 L485.1,203.1 L484.8,205.8 L484.4,208.8 L484,211.8 L483.5,215 L483,218.4 L482.6,222.1 L482.1,226.1 L481.6,230.2 L481,234.4 L480.2,238.4 L479.2,242.4 L478,246 L476.5,249.4 L474.9,252.7 L473.1,256 L471.1,259.1 L468.9,262.1 L466.6,265 L464.1,267.9 L461.5,270.6 L458.7,273.3 L455.6,275.8 L452.4,278.3 L449,280.7 L445.5,282.9 L442,285.1 L438.5,287.2 L435.1,289.2 L431.7,291.1 L428.3,292.9 L424.9,294.6 L421.5,296.2 L418,297.7 L414.5,299.1 L410.9,300.4 L407.3,301.6 L403.6,302.7 L399.7,303.6 L395.7,304.5 L391.8,305.2 L387.8,305.9 L383.9,306.5 L380.1,307.1 L376.4,307.7 L372.8,308.3 L369,308.8 L365.3,309.2 L361.7,309.7 L358.3,310 L355.1,310.4 L352.3,310.7 L350,310.9 L348.2,311.1 L347,311.2 L346.2,311.3 L345.7,311.3 L345.2,311.3 L344.7,311.3 L344,311.3 L343,311.2 L344.1,311.2 L348.5,311.2 L354.3,311.2 L359.2,311.2 L361.3,311.2 L358.5,311 L348.7,310.6 L330,310 L298.4,307.7 L254.4,303.2 L202,297.7 L145.4,292.4 L88.8,288.8 L36.3,287.9 L-8.1,291.3 L-40,300 L-59.4,316.3 L-70.1,339.9 L-74,368.4 L-73.1,399.4 L-69.3,430.4 L-64.6,459.1 L-60.8,483.1 L-60,500 L700,500 L700,195Z" fill="#7454de"/><g filter="url(#bl3)"><path d="M293.5,311 L343,311 L420.3,215.3 L514.4,215.3 L514.4,340.3 L293.5,340.3Z" fill="#58c4bc"/><path d="M438,232C441,232.3 445.7,236.2 446,240C446.3,243.8 443.5,250 440,255C436.5,260 430.8,265 425,270C419.2,275 411.7,280.5 405,285C398.3,289.5 390.8,294.2 385,297C379.2,299.8 373.8,301.8 370,302C366.2,302.2 361.7,300.8 362,298C362.3,295.2 366.5,290 372,285C377.5,280 387.8,273.5 395,268C402.2,262.5 409.5,257 415,252C420.5,247 424.2,241.3 428,238C431.8,234.7 435,231.7 438,232Z" fill="#88cfa0"/><path d="M330,262C338.8,252.8 372.7,257.7 383,258C393.3,258.3 391.5,260.7 392,264C392.5,267.3 389,273.3 386,278C383,282.7 378,288 374,292C370,296 365.7,299.2 362,302C358.3,304.8 355.7,307.2 352,309C348.3,310.8 343.7,312.3 340,313C336.3,313.7 331.7,321.5 330,313C328.3,304.5 321.2,271.2 330,262Z" fill="#b8a8b4"/><path d="M446,195 L445.8,196.5 L445.6,198.3 L445.4,200.6 L445.1,203.1 L444.8,205.8 L444.4,208.8 L444,211.8 L443.5,215 L443.5,218.4 L443.5,222.1 L443.6,226.1 L443.6,230.2 L443.5,234.4 L443.2,238.4 L442.8,242.4 L442,246 L441.4,249.4 L440.5,252.7 L439.4,256 L438.2,259.1 L436.8,262.1 L435.1,265 L433.4,267.9 L431.4,270.6 L429.5,273.3 L427.3,275.8 L424.9,278.3 L422.3,280.7 L419.7,282.9 L416.9,285.1 L414.1,287.2 L411.4,289.2 L408.6,291.1 L405.9,292.9 L403,294.6 L400.2,296.2 L397.2,297.7 L394.2,299.1 L391.1,300.4 L388.1,301.6 L384.9,302.7 L381.5,303.6 L378,304.5 L374.4,305.2 L370.7,305.9 L367.1,306.5 L363.6,307.1 L360.2,307.7 L356.9,308.3 L353.4,308.8 L349.9,309.2 L346.5,309.7 L343.3,310 L340.3,310.4 L337.7,310.7 L335.4,310.9 L333.8,311.1 L332.6,311.2 L331.9,311.3 L331.3,311.3 L330.9,311.3 L330.4,311.3 L329.7,311.3 L328.6,311.2 L329.7,311.2 L334.1,311.2 L339.9,311.2 L344.8,311.2 L346.9,311.2 L344,311 L334,310.6 L315,310 L282.3,307.7 L236,303.2 L181.2,297.7 L122.8,292.4 L64.9,288.8 L12.1,287.9 L-31.1,291.3 L-60,300 L-73.4,316.3 L-84.1,339.9 L-88,368.4 L-87.1,399.4 L-83.3,430.4 L-78.6,459.1 L-74.8,483.1 L-74,500 L700,500 L700,195Z" fill="#88cfa0" clip-path="url(#c3_7)"/><path d="M454,195 L453.8,196.5 L453.6,198.3 L453.4,200.6 L453.1,203.1 L452.8,205.8 L452.4,208.8 L452,211.8 L451.5,215 L451.5,218.4 L451.5,222.1 L451.6,226.1 L451.6,230.2 L451.5,234.4 L451.2,238.4 L450.8,242.4 L450,246 L449.1,249.4 L448,252.7 L446.6,256 L445.1,259.1 L443.5,262.1 L441.6,265 L439.6,267.9 L437.4,270.6 L435.3,273.3 L433,275.8 L430.4,278.3 L427.7,280.7 L424.8,282.9 L421.9,285.1 L419,287.2 L416.1,289.2 L413.3,291.1 L410.4,292.9 L407.4,294.6 L404.4,296.2 L401.4,297.7 L398.2,299.1 L395.1,300.4 L392.1,301.6 L388.9,302.7 L385.5,303.6 L382,304.5 L378.4,305.2 L374.7,305.9 L371.1,306.5 L367.6,307.1 L364.2,307.7 L360.9,308.3 L357.4,308.8 L353.9,309.2 L350.5,309.7 L347.3,310 L344.3,310.4 L341.7,310.7 L339.4,310.9 L337.8,311.1 L336.6,311.2 L335.9,311.3 L335.3,311.3 L334.9,311.3 L334.4,311.3 L333.7,311.3 L332.6,311.2 L333.7,311.2 L338.1,311.2 L343.9,311.2 L348.8,311.2 L350.9,311.2 L348,311 L338,310.6 L319,310 L286.3,307.7 L240,303.2 L185.4,297.7 L127.3,292.4 L69.7,288.8 L16.9,287.9 L-26.5,291.3 L-56,300 L-69.4,316.3 L-80.1,339.9 L-84,368.4 L-83.1,399.4 L-79.3,430.4 L-74.6,459.1 L-70.8,483.1 L-70,500 L700,500 L700,195Z" fill="#58c4bc"/><path d="M461,195 L460.8,196.5 L460.6,198.3 L460.4,200.6 L460.1,203.1 L459.8,205.8 L459.4,208.8 L459,211.8 L458.5,215 L458.4,218.4 L458.3,222.1 L458.2,226.1 L458.1,230.2 L457.9,234.4 L457.5,238.4 L456.9,242.4 L456,246 L454.8,249.4 L453.4,252.7 L451.8,256 L450.1,259.1 L448.2,262.1 L446.1,265 L443.9,267.9 L441.5,270.6 L439.3,273.3 L437,275.8 L434.4,278.3 L431.7,280.7 L428.8,282.9 L425.9,285.1 L423,287.2 L420.1,289.2 L417.3,291.1 L414.4,292.9 L411.4,294.6 L408.4,296.2 L405.4,297.7 L402.2,299.1 L399.1,300.4 L395.8,301.6 L392.4,302.7 L388.9,303.6 L385.2,304.5 L381.5,305.2 L377.8,305.9 L374.1,306.5 L370.4,307.1 L367,307.7 L363.5,308.3 L360,308.8 L356.4,309.2 L352.9,309.7 L349.6,310 L346.6,310.4 L343.9,310.7 L341.6,310.9 L339.9,311.1 L338.8,311.2 L338,311.3 L337.4,311.3 L337,311.3 L336.5,311.3 L335.8,311.3 L334.7,311.2 L335.8,311.2 L340.3,311.2 L346,311.2 L350.9,311.2 L353,311.2 L350.1,311 L340.3,310.6 L321.3,310 L289,307.7 L243.5,303.2 L189.4,297.7 L131.3,292.4 L73.7,288.8 L20.9,287.9 L-22.5,291.3 L-52,300 L-67.4,316.3 L-78.1,339.9 L-82,368.4 L-81.1,399.4 L-77.3,430.4 L-72.6,459.1 L-68.8,483.1 L-68,500 L700,500 L700,195Z" fill="#44bcd6"/><path d="M476,195 L475.8,196.5 L475.6,198.3 L475.4,200.6 L475.1,203.1 L474.8,205.8 L474.4,208.8 L474,211.8 L473.5,215 L472.9,218.4 L472.3,222.1 L471.7,226.1 L471.1,230.2 L470.3,234.4 L469.4,238.4 L468.3,242.4 L466.9,246 L465.3,249.4 L463.5,252.7 L461.6,256 L459.5,259.1 L457.2,262.1 L454.8,265 L452.2,267.9 L449.5,270.6 L447.1,273.3 L444.5,275.8 L441.6,278.3 L438.7,280.7 L435.6,282.9 L432.5,285.1 L429.3,287.2 L426.2,289.2 L423.2,291.1 L420.1,292.9 L417,294.6 L413.8,296.2 L410.6,297.7 L407.3,299.1 L403.9,300.4 L400.3,301.6 L396.6,302.7 L392.7,303.6 L388.7,304.5 L384.8,305.2 L380.8,305.9 L376.9,306.5 L373.1,307.1 L369.4,307.7 L365.8,308.3 L362,308.8 L358.3,309.2 L354.7,309.7 L351.3,310 L348.1,310.4 L345.3,310.7 L343,310.9 L341.2,311.1 L340,311.2 L339.2,311.3 L338.7,311.3 L338.2,311.3 L337.7,311.3 L337,311.3 L336,311.2 L337.1,311.2 L341.5,311.2 L347.3,311.2 L352.2,311.2 L354.3,311.2 L351.5,311 L341.7,310.6 L323,310 L291.4,307.7 L247.4,303.2 L194.6,297.7 L137.1,292.4 L79.9,288.8 L27.2,287.9 L-16.6,291.3 L-47,300 L-66.4,316.3 L-77.1,339.9 L-81,368.4 L-80.1,399.4 L-76.3,430.4 L-71.6,459.1 L-67.8,483.1 L-67,500 L700,500 L700,195Z" fill="#5aa0e0"/><path d="M479,195 L478.8,196.5 L478.6,198.3 L478.4,200.6 L478.1,203.1 L477.8,205.8 L477.4,208.8 L477,211.8 L476.5,215 L476,218.4 L475.5,222.1 L474.9,226.1 L474.4,230.2 L473.7,234.4 L472.8,238.4 L471.7,242.4 L470.4,246 L468.9,249.4 L467.2,252.7 L465.3,256 L463.3,259.1 L461.1,262.1 L458.7,265 L456.2,267.9 L453.5,270.6 L450.9,273.3 L448.1,275.8 L445.1,278.3 L442,280.7 L438.8,282.9 L435.5,285.1 L432.2,287.2 L429,289.2 L425.8,291.1 L422.6,292.9 L419.4,294.6 L416.1,296.2 L412.8,297.7 L409.4,299.1 L405.9,300.4 L402.3,301.6 L398.6,302.7 L394.7,303.6 L390.7,304.5 L386.8,305.2 L382.8,305.9 L378.9,306.5 L375.1,307.1 L371.4,307.7 L367.8,308.3 L364,308.8 L360.3,309.2 L356.7,309.7 L353.3,310 L350.1,310.4 L347.3,310.7 L345,310.9 L343.2,311.1 L342,311.2 L341.2,311.3 L340.7,311.3 L340.2,311.3 L339.7,311.3 L339,311.3 L338,311.2 L339.1,311.2 L343.5,311.2 L349.3,311.2 L354.2,311.2 L356.3,311.2 L353.5,311 L343.7,310.6 L325,310 L293.4,307.7 L249.4,303.2 L196.8,297.7 L139.7,292.4 L82.6,288.8 L30,287.9 L-14,291.3 L-45,300 L-64.4,316.3 L-75.1,339.9 L-79,368.4 L-78.1,399.4 L-74.3,430.4 L-69.6,459.1 L-65.8,483.1 L-65,500 L700,500 L700,195Z" fill="#6c7ae8"/><path d="M482,195 L481.8,196.5 L481.6,198.3 L481.4,200.6 L481.1,203.1 L480.8,205.8 L480.4,208.8 L480,211.8 L479.5,215 L479,218.4 L478.6,222.1 L478.1,226.1 L477.6,230.2 L477,234.4 L476.2,238.4 L475.2,242.4 L474,246 L472.5,249.4 L470.9,252.7 L469.1,256 L467.1,259.1 L464.9,262.1 L462.6,265 L460.1,267.9 L457.5,270.6 L454.8,273.3 L451.8,275.8 L448.6,278.3 L445.3,280.7 L441.9,282.9 L438.5,285.1 L435.1,287.2 L431.7,289.2 L428.4,291.1 L425.1,292.9 L421.7,294.6 L418.3,296.2 L414.9,297.7 L411.5,299.1 L407.9,300.4 L404.3,301.6 L400.6,302.7 L396.7,303.6 L392.7,304.5 L388.8,305.2 L384.8,305.9 L380.9,306.5 L377.1,307.1 L373.4,307.7 L369.8,308.3 L366,308.8 L362.3,309.2 L358.7,309.7 L355.3,310 L352.1,310.4 L349.3,310.7 L347,310.9 L345.2,311.1 L344,311.2 L343.2,311.3 L342.7,311.3 L342.2,311.3 L341.7,311.3 L341,311.3 L340,311.2 L341.1,311.2 L345.5,311.2 L351.3,311.2 L356.2,311.2 L358.3,311.2 L355.5,311 L345.7,310.6 L327,310 L295.4,307.7 L251.4,303.2 L198.9,297.7 L142.2,292.4 L85.4,288.8 L32.8,287.9 L-11.4,291.3 L-43,300 L-62.4,316.3 L-73.1,339.9 L-77,368.4 L-76.1,399.4 L-72.3,430.4 L-67.6,459.1 L-63.8,483.1 L-63,500 L700,500 L700,195Z" fill="#7662e0"/><path d="M486,195 L485.8,196.5 L485.6,198.3 L485.4,200.6 L485.1,203.1 L484.8,205.8 L484.4,208.8 L484,211.8 L483.5,215 L483,218.4 L482.6,222.1 L482.1,226.1 L481.6,230.2 L481,234.4 L480.2,238.4 L479.2,242.4 L478,246 L476.5,249.4 L474.9,252.7 L473.1,256 L471.1,259.1 L468.9,262.1 L466.6,265 L464.1,267.9 L461.5,270.6 L458.7,273.3 L455.6,275.8 L452.4,278.3 L449,280.7 L445.5,282.9 L442,285.1 L438.5,287.2 L435.1,289.2 L431.7,291.1 L428.3,292.9 L424.9,294.6 L421.5,296.2 L418,297.7 L414.5,299.1 L410.9,300.4 L407.3,301.6 L403.6,302.7 L399.7,303.6 L395.7,304.5 L391.8,305.2 L387.8,305.9 L383.9,306.5 L380.1,307.1 L376.4,307.7 L372.8,308.3 L369,308.8 L365.3,309.2 L361.7,309.7 L358.3,310 L355.1,310.4 L352.3,310.7 L350,310.9 L348.2,311.1 L347,311.2 L346.2,311.3 L345.7,311.3 L345.2,311.3 L344.7,311.3 L344,311.3 L343,311.2 L344.1,311.2 L348.5,311.2 L354.3,311.2 L359.2,311.2 L361.3,311.2 L358.5,311 L348.7,310.6 L330,310 L298.4,307.7 L254.4,303.2 L202,297.7 L145.4,292.4 L88.8,288.8 L36.3,287.9 L-8.1,291.3 L-40,300 L-59.4,316.3 L-70.1,339.9 L-74,368.4 L-73.1,399.4 L-69.3,430.4 L-64.6,459.1 L-60.8,483.1 L-60,500 L700,500 L700,195Z" fill="#7454de"/><path d="M486,195 L485.8,196.5 L485.6,198.3 L485.4,200.6 L485.1,203.1 L484.8,205.8 L484.4,208.8 L484,211.8 L483.5,215 L483,218.4 L482.6,222.1 L482.1,226.1 L481.6,230.2 L481,234.4 L480.2,238.4 L479.2,242.4 L478,246 L476.5,249.4 L474.9,252.7 L473.1,256 L471.1,259.1 L468.9,262.1 L466.6,265 L464.1,267.9 L461.5,270.6 L458.7,273.3 L455.6,275.8 L452.4,278.3 L449,280.7 L445.5,282.9 L442,285.1 L438.5,287.2 L435.1,289.2 L431.7,291.1 L428.3,292.9 L424.9,294.6 L421.5,296.2 L418,297.7 L414.5,299.1 L410.9,300.4 L407.3,301.6 L403.6,302.7 L399.7,303.6 L395.7,304.5 L391.8,305.2 L387.8,305.9 L383.9,306.5 L380.1,307.1 L376.4,307.7 L372.8,308.3 L369,308.8 L365.3,309.2 L361.7,309.7 L358.3,310 L355.1,310.4 L352.3,310.7 L350,310.9 L348.2,311.1 L347,311.2 L346.2,311.3 L345.7,311.3 L345.2,311.3 L344.7,311.3 L344,311.3 L343,311.2 L344.1,311.2 L348.5,311.2 L354.3,311.2 L359.2,311.2 L361.3,311.2 L358.5,311 L348.7,310.6 L330,310 L298.4,307.7 L254.4,303.2 L202,297.7 L145.4,292.4 L88.8,288.8 L36.3,287.9 L-8.1,291.3 L-40,300 L-59.4,316.3 L-70.1,339.9 L-74,368.4 L-73.1,399.4 L-69.3,430.4 L-64.6,459.1 L-60.8,483.1 L-60,500 L700,500 L700,195Z" fill="#7454de"/></g><path d="M299.3 311l2.3 4 .6-4 2.3 3.5 -2.9 .5 1.9 2.3 1 3.4 3.1-.6 .9-3.6 1.9 2.8 2.7 4.9 1.4-3.5 1-3.2 -4.7-2.8 .1-3.7 -2.7 2.8 2.6 .9 3.7 .1 3.3-1.4 4.9 .4 2.3 1.9 .1 4.4 -1.1 2.5 5-1 -3.9-1.5 -3.9 1.3 .7 4.5 .3 2.8 -1.3 3.1 -1.6-3 -3.1-1.2 3-1.8 -1.4-2.7 -3.3-2.4 5.7-2.1 2.4-1.4 -4-.9 -.8-2.9 1.8-2.4 -2.9 0 -2.2 3.8 -.7-3.8 -2.9 0 -2.9 0 -2.9 0 -2.9 0 -2.9 0 -2.4 4 4.7 0 -2 2.5 .1 3.1 -1.6 5.6 -2.1 3.5 -2.5 1.9 4.6 2.9 2.5-1.6 3.9 1 -2.3 2 -1 4.4 -1.7-3.3 -1.4-2.5 -1.7 2.3 1.9 3.5 2.9 0 2.9 0 -1.9-4.4 5 0 2.7 4.4 2.9 0 2.9-3.8 0 3.8 -2.9 0 -.8-4.5 3.7 .7 2.9 3.8 2.9 0 2.9 0 -2.3-3.7 -2.8 .2 1.6-5 -4-1.4 -2.9 .7 -3.6 1.4 -3.2 3.4 .9-4.8 -4-4.1 -3.1 3.2 3.8 .9 3.3 0 -3.6 2.8 .3-2.8 -4.2 1.8 .4-2.7 -5-.5 4.6 3.2 -1.1 4.1 2.7-1.1 -1.6-3M299.3 311l-2.9 0 -2.9 3.2 0 2.9 0 2.9 3.7-1.1 -3.7 4 0-2.9M486 223.7l-2.5-2.8 -5.3-.1 2.1-2.7 3 .1 -2.1-2.9 2.9 0 3.6 2.7 -4.2 2.9 4.6 0 2.7 1.4 3.6-1.3 1.6-5.7 3 0 -1 4.5 4.1-4.5 -3.1 0M486 223.7l1.6 3.6 3.4-.5 -5-3.1 -4.4-.1 -3.4 .3 -1.7 3.4 -2.8 2.1 -3.4-2.8 -2.1-3.9 -2.6-4.5 -1.1 5.1 .8 4.1 -3 1.9 2.8 1.6 4 .6 4.6-2.1 -.5-4.7 -2.9 1.9 .8-4.4 -2.5-2.6 1-4.3 4 3 -1.1-3 -2.9 0 -2.9 0 -2.9 0 -.7 4.1 -1 2.6 -1.8-2.6 -.9 4 -2.4 1.4 -1.5 3.3 -2.1-3.2 2.7-3.8 -1-5.8 2.9 0 2.9 0 -.6 4.1 -2.3-4.1 -1.9 5.8 -3.4-2.6 2.4-3.2 -2.9 0 .5 3.2 -3.4-3.2 -1.5 4.1 4.4 2.4 .5-3.3 -4.9 .9 .1 4.4 2.5 1.2 3-.1 -1.7 4.6 -4.3 .9 2.9 2.9 1.4-3.8 3.2 2.5 4 2.3 1.9-2.7 2.6 1.6 1.7-2.3 2.9-2.8 1.1 3.4 2.9 .7 1.7-2.8 4.3 1 -.1 5.2 -3-2.1 -2.4 2.7 -1.8 4.2 5.3-1.9 1.9-2.9 3.3-2 -.3-3.6 3.4 2.9 -3.1 .7 4 2.4 5.7 .1 4 2.3 5.6 1.5 4.8-.7 .5 3.5 2.8 6.1 -2.5 2.6 -4.1 1.4 -2.1-6.2 -2.4 4.5 .5 3.3 3.3 2.6 4.4 .2 3.4 2.3 .1-5.9 -.6-4.8 5.8-.4 0 3.5 -5.2 1.7 -3.1-2.2 -.4 5.8 3.5-3.6 5.2 1.8 -5.3 4.1 -3.7 2.6 -3.9-1.1 -1.8 2.8 5.7-1.7 .3-4.9 -4.2 3.8 -4-1.7 -1 2.9 .9 5.7 3.7 0 4.7-2.5 4.1 1.3 4.5-4.3 0-3.5 -5.3 .6 5.3 2.9 0 3.5 -4.5 .8 -4.7 2.9 -4.1-1.7 -1.4-4.1 -2.3 4.1 -1.8 3.6 -2.1-4.6 3-4.7 -3.1-1.5 1.1-3.7 3.5-2.6 -.5 4.9 -4.1 1.4 .1 6.2 -4 .7 -3.3 .2 4.1-3.7 -2.7-4.6 3.6-2.5 -3.7-1.8 -2-2.2 4.3-1.8 -2.3 4 -3.4 2.9 3.5 1.4 -2.7 3.2 -4.4-1.5 -.9-5.4 5.9-2.8 -3.8-2 -1.6-2.8 -1.8 3.2 -2.3 3.6 3.6 .8 4.5 2.3 .8 4.6 -2.7 3.7 -3.3-2.7 -4.8-1.5 .1 3.1 -1.6 4.3 -2.4-2.1 4-2.2 -4.7-2 -3.4-1.1 -4-1.5 .8-4.3 3.3-2.7 .2-3.9 -3.8-.9 2.4-1.5 1.4 2.4 4.6-1.3 -1.2-3.8 -2-2.2 -4.2-.9 -3.3 5.1 .4 4.3 -4-1.6 3.6-2.7 4.3-2.3 -1-2.8 3.6-4 2.1-1.9 -.2-4.2 -2.9 3.6 1 2.5 -2.8-.4 -2.6-1.4 -2.2 1.6 1.4 2.5 3.4-2.7 -1-4 -1.6 2.6 -2.9-1.5 -3.1 .3 .8 3 -1.1 4.3 -2.8 3.8 -3.5 1.2 1.3-2.6 2.7-3.9 -3-.1 -.9-4.4 -4 1.5 -3.7-.3 .4 6 4.7 0 -1.7-2.5 .3-3.2 4.9 2.9 1.8-4 -2.7-.4 -2.6-1 .7-4.5 -3-.3 .1-2.8 -4.9 .5 1.8 4.3 2.4 2.5 -4.8 .1 -2.9 1.5 -2.2-4.4 -1.3-2.7 .9-5.5 -4.4 .1 -5.1 .2 -2.7-.7 3.3-2.3 -4.7-.5 -2.9 4.6 -3.1 2.7 -1.7-2.4 1.9-2.3 1.8-2.2 4-.4 -.4-4.2 -1.8 2.3 -1.8 2.3 1.1 4.2 -4.8 .3 -1.8 2.2 -1.8 2.3 2 3.5 2-3.2 1.3-2.4 -3.5-.2 2.2 2.6 -4-.3 -1.8 2.2 2.2 4.1 -4-1.8 0 5.5 -5.5 1.3 1.8-2.3 1.8-2.2 1.9 3.2 4-3.7 3.8 2.7 2.4 2.4 2.4-3.6 -.1-4.6 -1.9-2.8 -1.8 2.8 -3.2 .3 -3.8-1.3 -1.8 2.3 -1.9 2.3M486 223.7l2.1-2.8 3.1-2.8 -1.2-2.8 3 0 -1.8 2.8 -3.5-.1 -.7-2.7 -2.9 0 -.8 2.9 .2 2.7 -1.9 2.7 2.7 3.9 3.1 3.1 1.5 2.6 2 2.9 .9 5.5 3.1-3.2 .3 5.9 .8 3.8 -4.7-2 -4.3 3.6 -2.4-2.8 3-1.1 .9-3.1 -3.4-2.6 -2.6 1.3 -5.1 .5 1.9-3.2 5.8 1.4 .1-4.1 -.9-3.1 4.6 .3 -3.7 2.8 3.4 3 2.3-2.9 3.2-1.2 .4-3.3 4.3-2.6 3.4-2.7 4.6 .2 .8 5.7 -3.4 2.4 1.1 4.6 3.3 .5 2.7-3.9 -.6-3.7 -2.9 3.6 3.5 .1 3.1-.9 -3.7-2.8 -3.1 .1 3.8-4.8 -4.6-.9 -1.5-3 2-5.2 4 1.3 -1.1 3.9 -2.9-5.2 -3.6-.1 -5.7 1.6 .8 5.6 3.4 .9 3.1-2.8 4.9 0 1.2 3.9 -.7 4.7 3.7-3.8 0 3.3 0 3.3 0 3.3 -5.8 1.5 2.5 4.5 3.3-2.6 -5.8-1.9 -2.8 3 5.3 1.5 3.3 .8 0-3.4 0-3.4 -3.1-2.4M486 223.7l4.8-1.4 4 3.8 4 2.9 1.7 4.4 1.5-2.9 -3.2-1.5 0-3.6 -4 .7 -.4-5.1 3.6-1.2 -2-4.5 -3 0 1.4 5.7 4.4 4.4 3.4-4.1 -4.2-1.5M486 223.7l-1.7 3.8 3.3-.2 2.9 3 4 1.3 -2.6 1.5 -3 .1 1.6-2.9 .5-3.5 3.5 4.8 4.2 4.8 1.8-3 1.8 3.9 1.9-2.7 3.6 1.1 -.2-3.5 -2.2-3.1 -1.2 5.5 -3.7-1.2 -6-1.8 .3-5.5 -3.8 .7 -.2-4.5 .4-4.2 3.2 2.9M483.5 220.9l-3.2-2.8 -2-2.8 -2.9 0 -2.9 0M453.4 224.9l3.6-.1 -.9-3.7 3.3 2.3 3.4 2.6 -2.9 1.6 2.4 1.7 -1.5 2.3 -.9-4 -4.4 .5 5.3 3.5 -5.9 .4 .6-3.9 -3.8 1.4 -1.3-4.5 -3 5.4 .5-6.6 -3.2-.1 -4.8 .3 4.6 3.3 .2-3.6 -4-4.4 -.8 4.7 -3.8 3.7 -2.6-4.1 -3.1-2.7 1.7-2.4 2.7-3.2 2.9 0 -.8 2.8 -.2 5.2 4-4 3.1-.1 2.6-3.9 1.4 4.1 -4-.2 .9 4.5 3.1-4.3M453.4 224.9l-1.2-3.1 3.9-.7 4.2-1.7 2.8 0 1.4 3.9 -1.7 2.7 -.7-4 -2.7 1.4 .5 4.2 -2.9-2.8M338.6 324.6l3.2 .2 2.7-1.8 2.5 1.4 1.6-2.3 -3.5-3.1 3.6-.5 3.5-.7 -.1-4.2 -2.5 1.3 -.9 3.6 -2.1-5.5 -4 1.9 -5.6-.3 2.9-3.6 2.9 0 .2 0 1.8-2.3 4.4 3.1 3.8-1.2 -.9 3 -2.9-1.8 .6-4.1 3.2 2.9 3-1.7 -3.1-3.4 -2.6-3.5 -1.8 2.2 1.3 3.5 -5 1 1.8-2.2 1.9-2.3 4.4 1.3 3.2-.6 2.7 4 2.1 4.2 -.2 4.4 -3.8 0 -5.2 3.8 3.4 2.8 3.8 1.3 2-2 -3.3-1.4 -5.9-.7 .5-3.5 2.3-2.1 2.4 1.8 .7 4.5 3.1-4.5 1.4 2.4 2.2 2.2 -2.1 3.7 -2.8 2.3 -.5 3.5 -2.9-4 -1.4 2.7 -4.1 0 -4.3 1.4 1-4.6 -3-.1 -2.6 1.1 -3-3.5 1.7-2.5 -2.8-.2 -2-2.9 -4.1 1.2 -.9-2.9 -.7-3 -2.5 2.9 3.2 .1 5 1.7 1.5-4.4 -3.4 .1 -2.4-3.7 -2.9 0 -3.3 4.7 4.8-1.4 -1.5-3.3 -2.9 0 -2.9 0 .2 2.8 2.7-2.8 -.4 4.7 2.3 1.5 1.7 4.4 -2.5 4 -4.6 .3 3.3 2.6 2.4 1.3 1.5-2.8 2 2.8 1.8-2.6 4.5 .1 -1.6-2.6 -2.9 2.5 4.6 2.9 4.2 3.7 2-3.7 .5-3.1 2.8-2.6 .2 2.7 3.3 3.2 2.9-3.3 1.2 3.3 1.9 2.6 3.3 2.5 4.2-1.3 -2.1-3 -2.5-3 -3.4-.5 -.9-3.5 -1.7 2.9 2.6 .6 2.9-2.2 .5 2.7M338.6 324.6l-2.8 .1 1.7-2.8 -3.5 0 -2.7 2.7 -2.2 2.4 3.8 .2 .7 4.2 5 2.5 -1.1-3.8 -3.9 1.3 .7 3.6 -2.2 2.2 3.9 3.1 -2.9 0 -2.9 0 -2.9 0 -2.9 0 .6-4.8 2.7 0 -1.4-2.7 -2.7-1.2 -1.5 5 2.9-1.1 1.3-2.7 1.3-3 3.8 4.3 -3.7 1.4 4.4 1.7 -.7-3.1 2.9 .9 4.3 2.1 .3 3.2 2.9 0 2.9 0 2.9 0 2.9 0 2.9 0 .9-3.9 -4.9 .6 4 3.3 2.9 0 2.9 0 .6-4.9 -3.5 4.9 -2-3.9 5.5-1 -.9-3.8 3-.5 -2.1 4.3 2.4 1.8 1.8-3.1 1.2 2.6 3-.1 -.9-2.6 3.4-3.7 -5-2.1 .9 2.9 .7 2.9 2.7 .5 2.4-1.4 -1.7-2.8 2.1-3.2 -3.2-3.8 -3.4-4 4.6 0 2.2-2.1 .7-2.7 -3.4-.1 -1.9-2.2 -2.5 4.4 -.2-5 -1.8 2.9 -1.2-4 3.8-1.6 3.9-2.5 .8 4.5 -4.7-2 -.8 2.7 -3-1.1 -1.8 2.6 -5.2-.9 .3-3.3 2.8 0 3.9 1.6 .8-3.6 1.5-3.1 -3.3-1.5 -.8 3 -2-1.9 .5-3.5 -3.3-.5 -4 .3 1.8-2.2 2.2 1.9 -2.9 3.1 -1.1-2.8 -1.8 2.3 2.9 .5 2.9 2.4 0-5.5 1.7-2.3 -2-1.9 1.8-2.2 .2 4.1 1.6 2.8 2.3 2.4 1.2-2.8 2.5-1.5 1-4.2 -4.5 1.5 1 4.2 -3.5 .4 2.5-4.6 1.3-4.2 1.6-2.7 2.2-1.7 3.3 .3 -.1 2.9 4.6-2.6 -2.5-4.2 -3.3 .2 -.5-3.9 -1.8 2.3 -1.8 2.2 2.1 2.8 .3 3.6 2.9-.4 .3 3.1 -.9 3.4 -4.2 1.6 -3.5-2.7 -4.1 1.8 -3.9 .4 1.9-2.3M338.6 324.6l-1.2 2.7 4.2 .8 .2-3.3 -1.5-2.7 4.8-3.1 -2.5-4.1 -2.7 2.6 -4.4 1.5 -1.5 2.9 1.8 2.8 -4.5-.1 -4.8 1 2.6 1.4 -3.9 1.5 1.1 4.3 5.1 1.3 2.2-2.7 -2.5-1.6 -3.5 0M338.6 324.6l-1.1-2.7 2.4-4.4 5.2 1.5 -.6 4 4.1-.9 3.1-.8 .2 3.2 -1.7 2.3 3.2 .2 -1.5-2.5 -4.9-.1 3.2 2.4 -3 .3 -3.5 3 2.5 1.6 -1 4 2.4 4.6 1.8-3.3 -4.2-1.3 -.5 4.6 -2-3.5 -1-3 3.5 1.9 -2.5 1.1 -4.1 .3 -2.6 3.2 2.9 0M341.8 324.8l2.4 2.2 .3-4 -4.2-.9 -.4-4.6 -2.9-2.9 -2.9-3.6 -2.9 0 -1.4 3.3 3.8 .4 -3.1 2.6 -1.5 4.3 2.3 3 1.6 2.6M348.7 318.5l3 2.8M348.7 318.5l-.1 3.6 3.3 2.4 3.2-.4 2.5-2.1 1.3 3.4 3.3 .4 -1.3-2.4 3.4-1.3 1.9-2.8 -4.1 .6 3.8-3.3 4.9 2.7 2.6 1.4 2.4-2 2.3-1.3 3.2 .2 4.3 1.5 -2-3.3 4.1-1.5 3.3 2.9 4.3 .6 -2.7-3.1 -1.6 2.5 -2.5 1.7 3.5 .9 4.8 .8 2.4 3.4 2.4 3.2 .4 4.4 2.5-4.4 3.1-.2 1 4.2 1.6 2.8 3.1-2.3 -3.1-3.4 1.1-2.7 -3.7 1.4 -1.6 2.7 -1.2 5.4 5.1 1.8 4.1-1.3 3.6 4.7 2-3.8 3.3 .7 .3-3.1 3.9 .3 2.3 2.3 -2.6 3.6 -3.1 0 2.6-3.1 -3.4 0 .8 3.1 -3.1 0 -1-3.8 -2.2-5 4.2-1.1 -2-2.2 -2.7-1.1 -1.3-2.5 -1.2-2.7 3.9-.1 4.6 1 -.9-3.4 -3.4-3.2 2.7-1.3 -4.2-1.4 1.3-2.7 3.3-.2 -3.7-4.6 4.1-.7 1.5 2.9 -.2 4.7 3.9-3.5 -3.7-1.2 -1.9 2.4 .4-5.3 -.7-4.4 -3.4-2.5 -1.8-2.8 2-1.9 3.4 .3 5.4 .1 -1.9-5.8 3.7-1.3 -.8-3.7 -2.7-2.7 3.9-2 .3-4.3 2.2-2 2.3-1.5 -4.1-1.2 2.6-1.6 2.7-.5 2.1 2.6 .9 4.2 4.2 3.6 .5 4.9 -3 .2 -2.8-1.1 2.1-1.9 3.7 2.8 1.7-2.2 1.1-3.5 1.9-5.6 2.9 .7 5.3 1.2 1.5 3.8 -3.2 .6 1.7-4.4 4-.2 .7 4.5 -3.2-.5 -2.6 4.8 .8 3.8 -2.2 2.5 -1 5.4 .3 3.4 1 5.5 6.2 2.5 2-5.1 5.5-2 4.4-3.7 -1 3.8 -3.4-.1 -2.5 4.7 2.9 1.9 4.5 1.4 -1.3 3.6 4.1 5 -1.3 5.5 1.1 4 -4-1.5 2.9-2.5 4.4-3.9 2.5 2.9 3.5 5.1 -.7 4.2 4-1.6 3.4 0 4.7-2.6 3.3-1.5 3.2 1.4 .3-3.5 3.6 2.2 -1.9 5.9 -3.7-1.5 -1.5-4.5 -3.8-3.3 -5 3.5 -5.9 1.3 3.3 2.6 .9 4.2 2.5 4.6 -5.5-2.7 -1.9-4.5 4.9 2.6 2.5-4.2 -.8-3.9 -3.5-3 3.6-2.5 -2.6-3.9 -2.1-2.7 -2.8-2.9 3.9-1.4 5.2 .9 -6.3 3.4 -2.6 5.4 -4.7 0 -3.1-1.6 -6-.3 -2-4.1 -1.6 3 3.6 1.1 -4.5 6.1 -3.9 3.7 5.5 2.7 3.4 .5 2 5.4 5.1 1.8 -2.8-5.8 -2.3 4 2 3.8 -4.4 .2 .9 3.6 -3.5 0 -2.8-4.5 3.3-1.7 2.5-6.8 -2.3-4.2 3.6-.5 -1.3 4.7 5.3-3.2 4.3 5.6 1.2-4.1 3.8-1.4 2.4-4.3 -5.9-.8 -2.7 2.3 2.4 4.2 -5.5-1.5 -1 4.6 -4.3-1.4 -5.6 4.2 -2.9-2.5 5.1-2.2 1.1-3.7 -6.6 1 .4 4.9 -3.2-2.9 -.3-3.3 -.1-5.2 3.3 2.8 -3.2 2.4 3.1 1.3 -2.8 2 0 5.1 -3.6-2.5 -.5 4.3 2.5 3.6 3.4 3.7 .5-4.8 3.8-4 -6.1-.3 -4.1 1.8 -3.4 2.8 -.8 4.5 -3.4 0 -3.3 0 -1.1-3 1.4-3.4 -2.5-3 -.8-5.3 3.2-2.4 2-2.9 2-4.1 -3.3-1.2 -2.2 2.9 -1.6 3.8 -1.9-5.2 -2.4 3.5 -.8-3.6 2.8-3.4 -3.3-2 -1.4 2.7 -3.8 4.2 0 5.1 -3.4-3 .3 3.3 3.1-.3 3.4-3 -3.4-2.1 0-2.9 2.1-4.4 -4.2 2.3 -2.5 4.3 1.2 2.8 -3.7-.6 2.5-2.2 -1.1-4.3 -2.1 2 .7 4.5 -3.7 2.4 -2.7 2.8 3.2 .2 3.6 .9 2.6 4.1 3.3 .5 -1.2 4.1 -.8 2.8 3.1-.5 .8-3.9 -1.9-2.5 2.8-2.9 2.6-3.9 1.9-3.5 .1 5.7 .6 3.9 2.5 4.1 -3.2 .3 -2-2.6 -1.2 5.1 -3 .2 .6 3.6 3.2 0 -.8-3.8 -2.4 3.8 -3.2 0 -.5-3.1 -3.1-3.1 -2.7-1.1 -3.1-1.5 -.5-4.4 1.9-2.3 -.5-3 -3-2.7 -2.8-2.6 3.3-.3 -2.1-3.3 .8-4.1 -3.7-1.1 -4.6 .4 -2-2.9 -4-1.6 .4 2.8 1.2 3 2.4-4.2 3.9 .9 4.3-1.4 2.1 4.1 3.5-2.8 -1.9-2 3.1-1.5 2.2-1.6 .1-4.1 2.4 1.6 2.1 5.2 -3.9 1.7 -2.9-2.8 -1.2 3.5 .4 4.8 -3.9-2 -4.5 2.8 .1 3.5 -1 3.5 3.4-2.1 -.8 3.6 -.4 5.5 3.1-3.7 .9-2.8 -3.6 1 -3.8 1.3 -2.5 1.5 -.9 4.3 -1.7-2.6 -3.6-.6 1.5-2.6 -.8-2.9 3.5 2.2 2 2.2 .9-4 -3.4-2.6 .5 4.4 -.6 3.9 -2.1-3.2 -3.9-.8 -1.5-2.8 -3.3 2 -.7 2.9 -.3 2.8 1 3.2 .5 2.7 -3.2-2.8 -.6 4.3 5.3 1.1 -1.5-2.6 -3.8 1.5 -4.8-2.7 -.9 3.5 3.7 1.3 2.3 1.8 2.1 3.5 .8-3.4 -2.9-.1 -.8 3.5 2.9 0 2.9 0 2.9 0 0-3.3 2.3-1.7 .6 5 2.2-3.3 .7 3.3 2.9 0 -.8-5.2 5.4-1.1 3.8 1.6 .6 4.7 3 0 3 0 2.3-3.1M352.2 317.8l-2.6-2.9 -3-1.9 2.6-1.2 .4 3.1M352.2 317.8l4.7-.3 .3-3.1 -2.7 1.3 -2.4-2.1 3.6-1.4 -2.7-1.6 -.1-5.1 .3-3M427.1 269.3l-1.7 2.4 -3.3-.1 2.9 5.5 1.7-2.4 -1.3-3 2.8 .2 1.7-2.3 -.3-3.1 3.3-2.4 .3-3.3 -2.2-1.6 -1.5-3.6 -1.9 4.2 -2.6 .8 -3.6-1.3 -1.9-5.5 4.1-.9 3.4 1.3 3.3-3 2.7 1.2 -1-3.6 3.5 2.2 -1.2 3.9 1.5 5.5 -3.9-3.8 -.9 2.6 -1.4 4.2 -5.7-.1 2.5 3.1 -3.1-.1 -4.5 .1 -3.5-3 -4 1.6 -1.1 2.9 -4.2 1 -2.4 1.6 .2 2.8 3.2 3.1 2.5-2.1 .2-3.3 3 4.6 1.6 2.2 -4.7 1 -.7 4.1 -3.3-1 1.7 3.7 1.6-2.7 -2.2-3.8 -5.3 .6 -2.8-.7 0 2.8 .5 3 4.4-.7 1.1 4.6 -1.2 4.3 -3.1-3.1 -1.3-2.4 2.5-1.5 2-1.9 -2.1-4.4 .6-3.8 -6.1-.2 -2.9 4.8 2.9-.3 2.7 1.6 2.8-2.1 4.2 2.2 1.1-2.8 2.9-.3 -2.6-2.4 -.3 2.7 -4.7-3.2 1.8-2.6 -5.2-2.3 1.9-3.7 -2.1-2.6 -3.1-.8 .1 4.1 -1.2 3 -3.7 2 -4.9 1.4 -3.1-4.1 -3.1-4.4 -1.8 2.2 -1.8 2.3 -1.8 2.2 -1.8 2.3 -1.9 2.3 1.9 2.9 3.2 3.1 -.6 4.1 -4.5-.3 -3 3.3 3.2 2.7 3.5 3.5 3.2 3.1 -4.2 .9 -3.6-1.2 -2.4 1.8 1.6 2.6 -3.6 .1 -4.1 1.5 -2.1 3.6 -3.1 3.3 1.5 2.2 3.5 3.1 5.2-.9 4.4-2.2 2.7 2.8 2.8 1.5 1.1 2.6 1.2-3.9 4.3 2.9 3.9 2.7 5-.3 -3.4 2.7 3.1 .1 2.7 .5 .6-3.3 2.5-2.1 3.1-2.1 -4.6-.7 1.5-3 -1.5-3.2 3.3 .4 -1.8 2.8 3.5-.1 2.6 1.6 -3 2.2 .4-3.8 1.5-5.3 4.4-1.3 1.7 5.3 -3.4-2.9 -.4 2.7 2 2.6 .2 3.1 1.6 2.5 1.2-2.8 -2.8 .3 -2.9 1.8 -2.7 .7M427.1 269.3l-5.6-.3 .6 2.6 -3.4-2.2 .1-3 1.9-2.6 2.6 2.5 .6-3 -2.5-4 -2.6 1.7 -1.2-4.6 -2.4 2.8 -2.3 2.9 2.4 1.3 -1.6 3 -1.2 3.1 3.6 1.1 0-2.7 -2.4-1.5 -2.4-1.4 -5.8 .1 -4.6-1.3 5.6-1.8 -4.9-3.6 .3-4.3 3.7-.1 .4 4 .5 4 3-3.4 3-.1 -.5-2.8 2.8-1.5 3.2-2.8 3.6-2.9 -3.4-2.5 2.3-1.6 2.7-4.7 1.7 4.5 -4.4 .2 -2.5-4.1 5.2-.6 3.4 2.3 2 2.6 1.5 2.3 1.9 1.9 2.7-1.6 .8 3.8 3.1-2.3 2.1 2.5 2.4 2.3 2.4-1.4 -2.3-3.7 -2.4-1.3 1.2-4 3-2.5 5.2-.3 -3.5 2.8 2.5 3.8 -.8 4.3 -1.9-2.9 -3-2.9 -2.7 1.7 -2.4-1.6 .7-4.4 -3.8 1.7 3.1 2.7 3.6-2.4 -2.9-2 -.3-3.5 .2-2.9 2.4-2.6 -3.6-1.1 1.2 3.7 2.6 2.4 2.2-2.5 .6-4.5 2.3 4.8 3.6-1.6 1.7 3 2.9-4.3 .9 2.6 -3.8 1.7 4.6 1.3 -3.4 2.8 2.3 1.5 2.2 4 .8-4 -3 0 -.4 5.2 1.6 2.3 1-3.5 2.6 .8 2.3 2.2 3.6 4.8 -.4 3.4 .3 5.1 2.7-2.7 .3-5.3 3-.4 2 4.3 -5-3.9 -2.9-.5 -5.5-2.7 -2.7 3 -2.7 1.1 1.6 3.1 -4.4 .3 -1.7 4.7 -1.4-4.6 -2.9 1 .6 3.9 -3.8-1 -3-.1 2 2.7 -1.5 3.6 -3.5 1.4 -3.3 .7 1.2-3.3 -2.3-3.4 -3.3-.7 -2-3.6 3.4-.6M427.1 269.3l2.8 .3 1.8 2.7 -3.5-.4 -1.1-2.6 2.5-2.8 0-3.1 -3.2 3 .7 2.9 -3.8-3 -1.8 2.7 -2.7-2.6 -2.7 1.5 2.6 1.5 -2.7 4.3 -3.5-4.2 -2.8 1.5 -3.2 2.5 -2.9-3 -3.1-3.2 5-2.2 4.5-2.8 -3.5-.3 -1 3.1 .5 3.8 -5.5-1.6 .4-3.5 -2.5 .9 -1-2.9 -2.1 2.1 -3.3 2.6 -3.8 2.3 2.7 1.5 -.4 2.7 -3.5-1.2 -1.4 2.6 -.8 2.8 -4.4-2.4 2.9 5.5 -.1 2.7 -2 4 -1.8 2.8 3.8 1.8 2.7-1.7 1.1 4.3 1.6-2.8 -2.7-1.5 4.1-1 5.1-.3 1.8 4.4 -3.3-.4 -1.8 3.9 -1.8-2.4 -2.1 3.8 -4.7 1.8 -3 .3 -.4 6.1 -3.1-2.6 -3 2.8 .8 3.2 5.3-3.4 3.5-2.3 3.2 2.7 3.3 1.7 1 3.8 -3.1 2.3 4.9 .4 2.7-3.1 -4.5 .4 -5.1-2.6 -3.1-2.7 -2.8-.6 1.8 4.6 2.6 1.1 -.6 4 -2-5.1 -4.1-.3 .6 4.1 0 2.9 1.6 5.5 -2.5 1.1 -.3 5 3.2-2.7 .4 3.5 -.9 3.9 -2.8-.7 .9 4 -1.1 3.3 2.9 0 -1.8-3.3 3.9-.1 5.1-1.9 2-2.1 3.2 4 2.1 3.4 2.9-3.3 -2.9-3 3.2-3 4.8 .6 4-1.9 2.6 1.5 1.6-2.9 3.2-.2 -.1 3.6 .7 3.9 3.4-4.1 2.2-3.3 2.8-2.5 .5-2.9 3.1 .5 .9 3.6 -4.5-1.2 -.8 4.7 -1.1 2.6 -.9 3.5 3.6-2.4 1.8-4.3 2.1 4.6 3.1-1.6 .9-5.4 2.5 4 2.7-1.8 -.7 4.4 1.6 2.7 -4 3.6 3.2 0 3.2 0 3.2 0 2.1-3.5 -1.8-2.9 3.5-2.5 -2.6-1.7 -3.4 1.2 -1.8 2.8 4.3 .2 .9-4.2 -4.2-4.1 .1-3.9 5.1-1.4 1.9 3.2 1.1 5.2 -2.5-2 -2.5-3.5 3.9 .3 3.8 .6 3.5 4.6 3.6-2.6 -7.1-2 -.2-5.2 3.5-2.6 .9 4.4 -4.4-1.8 .1-3.1 1.9-4.8 -2.9-1.4 -.9 3.5 -5-1.3 -1.8-2.5 -5.3-1.1 -2.3 2.8 -3.1-.4 1.7 3.1 4.7-.7 .4 3.5 2.7-2.7 1.2-4.5 1.6-2.5 2.7 2.5 3.3-3.2 -.9-3.7 -5.1-1.1 -4.1-1.9 -3.9-3.9 -4.3-1.6 -1.2-2.6 -3 2.8 -3.8-2.6 -2.4-1.7 -1.9-3.6 -3.2-.1 -1.9 2.2 -.6-4.2 -3.5 3.4 4.5 3.6 -1.8 3.2 -2.7-1.8 -2.5-2.4 -.6 5.6 -1.2 2.8 -3.4 2.8 2.5 1.1 2.3-1.5 -1.4-2.4 -.9 3.9 -.3 2.8 -3.6 1.2 -3.3-.4 -3.7 2 -3.8 .2 -4.1 1.2 2 4.9 -3.5-2.5 1.5-2.4 .8-2.9 -.4-3.1 5.2 .1 2.8 .2 4.4-3.1 -3.4-.8 2.7-3.4 2.8 1.9 .2-3 -.6-2.7 -3.3 .4 3.9 2.3 2.6-2.3 3.8-2.9 .1-4.5 2.4 1.9 -.8-4.6 3.8-2.4 1.6-2.7 2.5 1.1 0 3.7 2.1 3.6 3-.2 3-.6 -3.4-2.6 -2.6 3.4 -1.7 2.2 -1.5-2.3 -2.5-2 3.6-1.5 -4.1-2.1 -3.1-1.7 -.1-4.5 3.2 1.3 -3.1 3.2M425.4 271.7l-3.9-2.7 -2.8 .4 1.8 5 -4.5-.7 -1.7 4.1 3.9-1.4 2.3-2 4.5 2.7 .3 3.5 -3.8 2.2 .4 3.2 -1.1 3.8 -2.6 3.9 -.2 4.7 1.2 4.1 -4.2-1.3 -2.6 3.5 -1.6 3 -2.7-1.6 -1.9 2 -1.7 2.4 -2.7-1.1 -3.2 2.6 .3-3 -3.6 2.6 -1.7-3.6 -2.3-4.5 0-3.7 3.8 0 -3.3-3.3 -3.9 1.4 3.4 1.9 2.8 3.9 1-3.9 0-2.9 -1.5-4.3 -3.6 1.5 -1.4-2.7 5 1.2 -3.6-3.7 -.1-2.7 5.2 2.4 3.9-1.1 -2.6-2.1 -.5-5.2 0-4.5 2.7 3.3 -2.7 1.2 -2.4 4 -.5-3.7 -1.9-1.9 -3.5 .6 -4.3 1.1 -2.9 2.4 .8 4.3 -4.1-1.6 2.3 4.4 -4.6-2.5 2.2 3.8 -.2 4 3.4 2.1 -3 2.4 -.4-4.5 3.2-1.3 -3-2.7 -2.8 .5 -.2 4.9 -4.6 2.8 1.3 2.6 -2.1 1.8 1.8 2.7 -3.3-.2 -.6 2.7 1.9 3.3 2.8-1.3 3.3-1.4 3 .9 -3.8 4.1 2.1 4.2M299.7 320.6l3.2 2.5 3.8-.4 1.4 2.8 -4 1.5 -3.2-.2 -2.8-.6 4.8-3.1 -2 3.7 .1 3.4 -2.9-4 -2.1-1.8 -2.5 1.4 0 2.9 0 2.9 0 2.9 0 2.9 1.9 2.9 -1.9 0 0-2.9 2.9-.6 -2.9-2.3 4.6 0 -2.1-4.8 -2.5-1M299.7 320.6l3.8-3.3 4.1 2.8 2.8-.8 4.1 1.4M299.7 320.6l-3.7 3.8 1.2-5.5 -3.7-1.8 3.4-2.1 -3.4-.8 0-2.9 0-.3 2.9 0 -2.9 .3M299.7 320.6l4.8 .1 2.2 2 .9-2.6M299.7 320.6l-2.5-1.7 2.4-1.4 3.9-.2 5-.8 -.3-2.7 -3.7 .7 4 2 2.3-1.8 3-3.7 2.9 0 1.1 2.4M298.1 326.2l-4.6-.4 0-2.9 2.5 1.5M363.9 314.5l2 2.1 .3 2.7 -.3 5.1 -.2 3.8 2.5-2.2 2.5 4.3 -.7 4.2 -1.8 2.1 2.6 3.7 1.3-3.2 3.1-1.3 1.6-2.8 -4.4 .1 1.9-3.6 2.6-.5 -.1 4 -2.5-3.5 -3.6 .8 -4.1 .8 -2.6 3 3.3-.1 -2.1 2.7 2.7 3.6 -2.9 0 -2.9 0 .1-3.1 -3 3.1 2.9 0M363.9 314.5l-3.2 3M363.9 314.5l-3-1.4 -3.7 1.3M474.8 324.1l3.1-2.7 -4.2-1.3 -3.8-1.1 -5.4 1.4 -2.8-4.2 3.7-3 -3.2-.2 -.5 3.2 -4.3 1.4 -2.4-4.5 -2.5-2.1 4.3-.8 4.6-.7 3.1-2.1 .3-4.7 -3-2.7 -3.7 .9 -2.1-3.1 3-1.5 -1.2-6.2 -2.5 3.8 -3-.2 -3.6 4.4 3.9-1 2.7-3.2 3.7 2.4 -.9 4.6 -4.5 1.7 -4.1 3.5 .1 3.5 -3.4-.3 -2.5 2.5 -3 2 3 1.2 0-3.2M406.2 308.1l3.8 3.5 3.7 1.3 -3.6 2.2 -4 .7 -3.2 .5 1.2-3.1 3.8 .2 2.2 1.7 2.4 1.4 1.2-3.6 3.4 .6 -1.3 2.7 2.8 0 -.3 5.6M404.2 305.2l-2.2-3.9 -1.8 2.3 -2.9 2.4 1.2-5.4 -.7-4.2 -.9-3.4 -1.8 3.9 2.7-.5 3-1.1 5.8 .4 3.1-3.2 -.2 4.4 3.1 .2 2.6 1.1 -.2 3 1.1 2.8 -3.7 .7 -1.9-2.8 -2.4 4.2 -3.6-3.7M319.6 311l3.1 2.8 -.1 3.4 -1.4 4.2 -3.4 1.7 2.4-4.5 -4.7-1.1 3.1-1.2 -4.1-1.5 1 2.7 -5.1 1.8 -2.3 6.2 2.8 .7 2 2.1 -2.6 1.2 3.7 1.6 -2 4.7 -1.6-3.3 -2.3-1.4 0-5.6 5-1.3 -2.2 2 -.6 3.3 -2.2-4M319.6 311l2.9 0M402.7 340.3l-2.9 0 -2.9 0M402 337l-2.8-1.7 2.8-3.7 0 5.4 2.8-1.9 -2.8-3.5 -2.7 1.1 -.1 2.6 -2.5-1.2 .2 2.9 -5-.1 2.1-2.9 2.7 .1 2.6-1.4 -2.1-1.7 -4.7 .4M402 337l3.6 3.3 3 0 3 0 -1.7-3.4 -4.3 3.4M438.8 333.7l-1.6 3 2.4 3.6 2.1-3 3.2-.5 1.2 3.5M438.8 333.7l2.9 3.6 -4.5-.6 -.8 3.6M436.3 329.6l4.3 1.3M436.3 329.6l3.5-4 5.7 1.1 1.4-3.2 4 3.8 -2.9 1.4 -4 1 1.5-3M436.3 329.6l-5.2-2.2 -2-4.4 -2.2 3.9 1.4 3.4M459.8 305.1l1.6 4.4 5.6 .7 .7-5.6 2.3-2.4 3.6-1.4 2.4-3.9 1.5-5.9 4.6-1 2.5 5 -.9 3.5 -3.6 2.7 -3.5 4 -3-4.4 -1.4 5.2 -2.2-3.8 .7-4.1 5.3-1.2 4.1 4.3 .5-6.7 1.5-4.5 6.9-1.7 -.6 4.7 -.9 4 3.2 2.8 5.3 1 4.2 4 3.2 3.2 -4.6 2.7 -2.3 3.9 -1.3-4 -3.5-3.2 3.5-2.3 .8-4.3 -2-6.7 .5-4 4.2-4 1.7-3.2 3.2-3.8 1.5 4.2 3.3-4.2 -3.5-4.7 3.4-2.7 6.1-2.2 -4.5-2.8 -.8-7.2M459.8 305.1l5-2.4 5.2-.5 -2.7-4.2 -.4-6.6 -4.7 2.5 -4.4-3.8 1.3-2.7 -3.6-1.6 3.7-4.1 -4.5 .3 -5-.8 -1 4.3 .1 5.6 -4.5 .3 -2.9-1.1 -3 2.4 0-5.6 3-.2 4.3-1.1 3.1 5.3 -1.9 4.4 5.4-1.8 -3.5-2.6 4.5-2.8 4.5 1.8 -2.3-4.3 -2.8-1.6 -4 1.3 4.6 2.8 -.6-4.1 -3-3 .6-4.7 3.8 1.3 -1.8-3.3 -2 2 -4.6 .6 -4.7-2.8 -2.8 0 -2.7 4.6 -1.9 5.2 -2.9-2.9 1.5-4.7 1.8-2.8 1.5 5.2 3.7 1.1 3.2-2.1 2.2 2.7 2.4 2 2.7-1.4 -4-4.1 -3.3 .8 -1.4-3.6 3.3-2.8 1.8-4.7 1.5 4.7 -3.3 0 -.9-4 -1.1-2.4 4.8-1.6 3 2.6 .7-2.9 3.7 1.5 -4.4 1.4 -4 .7 3.1 1.9 3.9-.6 4.8-.3 -.8-4.2 -2.6 1.1 -1.4 3.4 5.1 2.7 3.2-1.9 2.1-2.8 3.6-.8 -1-3.1 -2.6 3.9 -5.6 1.7 .3 3 -2.4 2.6 -2.7-5.3 -2.6 4.1 1.8 2.3 3.5-1.1M459.8 305.1l-3 5.1 -1.8 2.9 -4.4 2.7 3.4 .5 3.4 1.3 .9-4.3 3.9-.3 -.8-3.5 4 3.7 -.9 7.2 2.7 2.7 2.7-4.1 .9 3.6M459.8 305.1l-5.3 1.8 -.9-4.3 2.4-4.8 -.7-3.9 -2-5.6M459.8 305.1l4.7 2.3 3.2-2.8 3.2 5 -1.9 4.7 .9 4.7 5.1-4.4 6.4-1.6 -4.3-4.2 -4.9-2.8 4.4-.8 .5 3.6 5.5-.9 1.6-5.3 -.5-4.1 -3.1-4 4 .5 2.9 2 .6 6.2 2.6-3.4 4.5 5.3 5-.3 -.6-4.8 2.5-3.7 1 6.2 2.7-4.6 5 .2 -4.4-3.7 4.4-1.4 3.6-1.5 0 3.8 -3.6 2.8 3.6 1 0-3.8 -3.6-2.3 0 5.1 -.2 5.4 -4.8-5.6 -3.7-1.6 2.3-6 3.9-4.6 .1-6.6 6 5 0 3.7 0 3.7 -5.6-1.3 -4.4 .1 -3.4-.4 1.1 6.4 -4.2-3.9 .8-6.3 -4.9-2.9 -2.2 2.7 -5.5 .1 3.8-4.6 -3.3 .2 -3.3-.2 -2 2.8 -3.1 2.8 -4.6 2.5 -3.9-3.3 -1.4-3 4-1.2 2.6-2.2 1 3.5 -2.3 6.2 -1.9 4.8 -4.8-2.9 0-3.3 3.5 1.3 1.3 4.9 4.3 2.6 4.6-2.4 -3.1-3.5 .7-4 -2.3-3.7 -6.2 2.9 -2.8 1.9 1.4-4.9 -3.5 .2 2.9-3.2 2.8-1.6 1.5-5.4 -5.8 .4 2.6-3.5 -2.7-1.9 -2.9 4 -1.8-3.3 -3.5-1.1 1.8-5.5 .5-3.9 -2.2-4.4 -1.1 4.2 2.8 4.1 -2.6 1.3 -4.6-5.1 -.2-3.5 -3.9-3.8 -2.9 .9 3.9 3 -2.5 1.8 2.5 1.7 -2.3 4.9 3.7-.3M459.8 305.1l-1.7-4.2M453.6 302.6l-4.9-4.5 -3.4 .4 -3.9-1.7 -2 2.6 -4.1 1.4 1.1 4.2 -2.5 1.9 -3.6-1.9 .2-3.8 2.2-3.3 -4.5-1.2 3-2.8 -4.2 .2 -3.1 4.3 2.9 .8 3.7 2 -2.3-4.5 -1.4 2.5 -.8 4.4 4.3 1.4 -3 4.4 3.9 1.2 2.7-3.7 2.7 1.3 -.2-3.2 3-5.6 1.3 5.4 2.8-3.5 -2.1-4.5 1.2-2.9 2.7 4.6 3.3 3.9 -5.1 4.4 -2.8-2 -4.1 3.4 1 4.8 4.3-3.7 -1.2-4.5 -4.3 .2 -2.6-1.3 -3.5 1.3 -2.7 1 -4 2.2 2.4-4.6 4.5-2.4 3.3 2.5 .1 3.2 .4 4.1M453.6 302.6l-5-.2 .1-4.3 -1.8-2.6 -4.3-1.6 -1.2-3.6 0-3.4 2.9 4.5 2.6 4.1 -1.6 3 -1.8 2.8 0 5.5 6-.7 5 .8 2.3 3.3 1.5 3.1 3.1-3.8M473.6 218.3l-5 1.3 -1.9-4.3 -1.1 2.9 -1.8-2.9 -2.9 0 2.2 4.1 2.5-1.2 3 1.4 -.4 3.1 2.9-.5 2.1 2.5 5-3.9 -4.6-2.5 -2.5 3.9M473.6 218.3l3.2-.5 -1.4-2.5 -1.8 3 -.4 6.4 5-.8 0-3.1 3.4 2.8 -1.2 2.5 -2.4 4.3 -3.1 3.1 1.1 5 3.3 .2 3.2 2.7 -5.4 4 6.6-1.4 .9 2.9 -4.5 1.3 3.6-4.2 3.9 1.8 -.6 3.9 -1.5 3.3 -1.4 5.1 -3.6 3.1 -3.1-3 1.5 5.5 -1.1 2.8 3.5 4.1 4.9-2.8 -.1 3.9 -4.8-1.1 1.6 2.8 -4.4 0 -3.7 1.7 4.3 5.1 2-2.9 3.8 1.3 3.6-1.1 3.9-1.2 -.8-5.4 -2.3 2.7 -.8 3.9 1.4 3.9 3.9 1.8 4-4.2 -1.2-4 -1-3.5 -3.2 4.8 5.4 2.7 2.6 3.9 -6.6 .3 -1.4-6.9 -3.1-2.7 -3.2-1.9 5.5-.8 4 .6 6.2 .5 3.4-2.4 -.3 4.8 5.2 1.7 4.3 .6 0-3.6 -6.1-1.4 -3.1-2.1 .6-4.2 -6.1-1.6 -2.2-4.5 3.8-2.3 .2 4M431.8 288.7l3.8 1.2 2.8 2.8 3 4.1 -5.9-1.3 -2.8 2.4 2.6 2.9 .2-5.3 .1-5.6 2.8-2.8 -1.3-5.2 -1.6-3 -4.8 2.3 -1.5-2.6 -2.5-3.9 1.5-2.8 1.3 2.4 -2.8 .4 -4.6-3.1 -1.6 2.8 .7 4.5 4.1 1.7 -.4 4.8 .2 2.9 4.9 3 1.8-2.6 1.8-4.6 -4.8 2.9 1.2 4.3 2.9-.1 2.6 4.3 2.9-2.8 4.2 1.2 1.7-2.5 1.4-5.6 1.3-3.2 -4.1 .2 2.8 3 3-.3 -1.7-2.9M431.8 288.7l3.6-1.7 -1.8-2.9 -5.6-.8 1.2-4.7 3-2.1 -.5-4.2 2.3 1.4 4.2 .6 2.8-2.8 -.2-2.8 2.6-1.2 2.7-.7 1-3.3M431.8 288.7l1.1 2.5 -1.7 2.7 1.5 4M431.8 288.7l-3-1.7 -3.9-1.6 3.1-2.1 2.7-2.1M435.6 289.9l-2.7 1.3M435.6 289.9l-.2-2.9 3 .1 1.5-4.1 -.7-3 -1-5.7M383.1 261.4l1.8-2.3 1.8-2.2 3 2.4 -.6 2.8 -4.2-3 4.8 .2 3.1-1.3 -1.5-2.5 -.9-3.2 -1.8 2.3 2.7 .9 3.1-2.6 4.8 .8 .9-2.5 2.3-2.8 1.2 3.1 2 2.5 -.1-4.6 3 4.2 -.4-5.4 3 1.3 .7-3.7 -3.7 2.4 1.4-3.9 -1.6-4.2 -1.7 4 -3.3 .6 -5.2-1.4 -1.9 2.3 .5 4.4 2.9-1.8 3.2 .2 3.1 1 -2.6-4.7 -.5 3.7M383.1 261.4l-1.8 2.2 2 2.5 -.8 4.2 5.7-1.5 -.1-2.7 -3.2-2.2 -3.6-.3 -1.9 2.3 3.9 .2 4.9 2.7 -1.2 3 3.9-1.5 3.3 .7 1.8 2 -5.5 0 .4 2.9 .2 2.7 4.8-2.9 -5 .2 -3.3 3.3 -2.8-2 -1.5 3.1 3.1 4 -2.8 3.9 -.4 3.4 3.8 2.6 -1.5 2.6 -2.9-1.8 4.4-.8 3-.1M383.1 261.4l1.8 2.5 4.2-1.8 2.3 1.7 .6 2.7 -3.9-.4 1-4M384.9 259.1l0 4.8 -1.6 2.2 4.8 0 3.3-2.3 3.2-3.2 2.8-3.7 4.2 1.5 4.4-.4 2.5-4.4 2.6-4.1 4 1.7 -.3 3 4.7-.4 4.5 3 -2.6 2.5 -3.8-2.9 1.9-2.6 -1.5-2.4 -2.9-.2 -2.7 1.7 -.4 2.8 -3.5-2.1 -2.9 .4M457.3 277.2l1.9 4.5 1.4 3.1 2 2.5 4.3 4.1 3.5-2 -.7-3.2 2.6-4.2 -1.8-3.4 -2.6-1.5 -4.2 1.5 1.1 4.8 -2.2 3.9 -.4 6.6 -3.2 2.4 2.8 3.7 1.3-2.8 4.2 .8M457.3 277.2l2.5-4 1.6-4.3 4.7-.7 .1 5.4 -2.5 5 4 1.6 .2-3.1 -1.7-3.5 -3-1.4 .5 6.4 -4.5 3.1 1.3-4 3.2 .9M396.8 320.6l-.4 4.1 -2.7 1.3 -2.4-3.3 -2.8-3.8 -2.2 4.1 -3.3 3 -2.9 .3 -.4-3.4 -2.8-1.6 .3 2.7 -4.1-.6 -.3 3.7 4.4-3.1 2.9 2.3M392 319.8l2.3 2.9 2.1 2 1.2 2.5 -3.9-1.2 -1.7 2.7 -2.7-.1 -1.4-3.2 -1.7 2.7 -2.3 2.1 -.9-4.2 -2.5 3.8 -3.6-.8 -4.1-1.9 -4.6-1.1 -2.3-1.6 -3.7 1.4 3.5 2.4 -3.8 2.9 4.7 0M392 319.8l-1-2.6M400.2 303.6l-1.7-3 2.1-2.3 4.8 .2 4.1-1.6 1 5 -3.7-1 1.3 5.2M487.6 259.5l-.1-4.3 5.2-1 1.4-3.4 3.4 .3 -1.5-3 3.9-1.5 4.8 .6 1.1-4.5 -5.3-2.8 -2.6 2.7 -2.7 1.7 -3.9 1.8 .5-4.5 -3.2-2.6 -.1 3.7 2.8 3.4 2.8 4.7 3.9 3.6 -5.3-.2 -2.9-3 -2.8-1.5 -5.3 1.3 -3.4 .4 1.3 4.4 -2.2 2.4 -1.4-3.2 -2.2-3.5 -2.8-3 2.1-3.9 -3.3 .1 -3.4 5.1 2.8 1.6 -3 2.3M487.6 259.5l5.8 1.2 -2.2-3.7 3.3 0 -1.8-2.8 -1.5 2.8M490.3 264.1l3.2 2.8 3.9 1 4.4 4.1 -.9 4.1 4-1.7 -1.3 4.7 4.8 0 6 1.3 0 3.7 -6.1 1.6 6.1 2.1 -5.6 2.4 2 2.8M490.3 264.1l-5.4-1.4 1.3 5.1 -4-1.4 -1.7-5.2 -1.6 2.5 -4.7 1.6 3.6 1.2 -.9 3.6 -4.9 3.1 -3.2-3.1 3.8-.5 4.3 .5 1.6 3.3 2.8-2.8 -4.4-.5 -2.7-4.8M490.3 264.1l-.8 3.5 2.1 3.3 1.9-4M490.3 264.1l3.1-3.4M456.9 258.2l3.3 .2 1.9 2.3 1.4 5.4 -3.8-3.8 2.4-1.6 3.7-3.6 3.3-2.9 .1-2.8 4.6 .1 2-2.1 1.3-4 -4-.8 -2.4-4.2 -1.4-4.7 2.7-3.5 .5 4 3.5 2.3 1.4 3.4 -4.3 2.7 2.7 4.8 4.3-1.2 -3-2.8 .3-3.5 -6.7-1.5 -.9 4.3 -4.8 2.7 -4.7-.7 -1.8-4.8 5.1-.3 .8-4.4 1.8-2.1 -2.8-1.9 -1.1-3.9 .5-3.3 2.5 1.4 2.7 .7 2.3-1.5 -1.2 4.9M456.9 258.2l.2 5.4M455.3 255.1l-2.8 3.4 -3.1 .1 0-3.5 2.9-.1 -.7-6.3 -3.2 2.5 1 3.9M455.3 255.1l.3-2.9 -4-3.5 1.1-3 2.4 1.4 -3.5 1.6 5.1 .7 -1.1 2.8 -3.3 2.8 -2.9 3.6M455.3 255.1l-3-.1M421.6 330.4l3.4-.6 1.9-2.9 4.2 .5 4.6-1.7 4.2-4 -4.3-1.7 -3.1 0 2.3-3.6 3.2 .1 3.5 1.4 3.5 2.4 5.5-1.4 -3.5-2.7 1.7-3.1 3.8-2.1 2-4.1 -4.9 2.7M421.6 330.4l1.6 3.7M417.4 331.5l-4-3.4 -2.1-2.5 4.3-1 -2.2 3.5 3.5-1M417.4 331.5l-4.1 .2 -4.7-.5 -3.8 3.9M454.2 328.7l-3.3-1.4 -.2-3.2 6.8-1.3 -2.6-2.1 2.5-3.1M454.2 328.7l-3.9 3.9 3.4 .4M481.1 277.3l-2.6-3.9M481.1 277.3l-6.3-2.2 -4.3 3.5 4.4 1.2 -.1-4.7 2.1-5M481.1 277.3l1.8-3.9 3.2-1.7 3.4-4.1M481.1 277.3l2.2 4.1 -4.2-1.2 -4.2-.4M484.9 278.6l1.7 3 1.9-4.1 -2.4-5.8M484.9 278.6l-2-5.2 5.6 4.1M484.9 278.6l-1.6 2.8 2.8 4.6 -4.8-1.8 -5.4-.9 3.2-3.1 2.2 4 .8 5.8 6.3 3 6.1-2.9 3.4 2.3 -3.9 1.7 -6.5 2.9 -3.3 5.6 3.9 .6 7.1 1.9 0 5.5 3.6 .1 3.4 1.7 -1.2 4.9 -6 2.1 -2.5-6.4 -2.4 4.4 4.9 2 1.5-4.8 -4-1.6 2.7-2.4M386.7 256.9l1.9-2.3 1.1 4.7 1.7 4.5 3.9 .1 -.7-3.3 4.1-1.1 2.9-1.1 -.7 5.4 -3.5-2 -2.8-1.2 -1.8-2.6 4.6-1.1 -2.8-1.2 -3.3-.2 -1.6 3.8 4.9 1.3M418.4 310.8l2.9 4.1 3.2 2.3 4.6 .7 5.7-1.5 -1.9-2.7 -3.8 1.3 -2.1-2.1 -3.6 0 -1.7-2.3 -.4 4.3M417.1 313.5l-2.6-4.7 1.6-4.8M417.1 313.5l1.5 2.7 -3.3 2.9 .5-2.9M484.6 246.9l-2.9 4.1 -2.1 4.8M487.6 245.8l3.7 .3 -1.5 5.1 4.3-.4 1.9-2.7M427 294.1l1.2 2.6 -4.3 1.7 -2.5 2.5 4.6 2.7 1.6 2.4 -.3 3.4 -.3 3.5M425.1 288.3l-4.3 1.5 .8 4.2 -.1 2.8 -3.5 1.6 -2.8-.2 1-2.6 -3.8-1.3 -2.9 2.6 -2.9-1.2 -3.2-2.7 -3.2-.4 .1-2.7 1.2-3.9 3.1 2.7 2.7-3.1 -3.8-1.5 -4.9-2.3 -2.2 3.6 -2.9-1.2 1.6 4.4 1.3-3.2 2.7-.6 -.1 2.7M425.1 288.3l-1.9 3.2 -1.6 2.5 2.3 4.4M425.1 288.3l-3.2-2.3M408.1 248.2l-2.6 1.2 .7-5.3 -1.2-4.3 -3.7-1M408.1 248.2l-1.9-4.1 3.3 .2 2.3 1.5 3.4 1.6 2.4-4.2 .4-2.9 -2.8 .9 -3.4 4.6 .4-4 -2.7 2.5M411.1 249.5l1.3 3.4 2.4 1.3 .4 5 .1 4.2 3.5-2.4 -3.6-1.8 -2.7-.7 2.3-4.3 2.8 2.2M411.1 249.5l4.1-2.1 0-6.2 2.4 2 2.9 1.2 1.1 4.1 3.8 .9 1.2-2.5 -5 1.6 2 4.4 1.8-3.5 1.6 4.8 2.5 1.4 .8-4.4 -4.9-1.8M383.2 291.6l-3.2 2.2 .2 3.4 0 2.8 -3.5 3.5 -3.7-3 -2.3 1.4 2.8 1.6 .2 2.8 6.1-.2 -2.3 4.3M383.2 291.6l-.6 3.4 .6 4.7 2.9 3.7 -2.8 .4 -.1-4.1 2.3-2.9 2.4 1.1 .9 3.4 2.5 2.2 -1.5 4.7M379.4 289.8l4.2-1.6 2.3 1.7 4-3.7 3.6-2 -4.4-2.6 -2.7 2.7 3.5 1.9 -.8-4.6 3.9-1.1M379.4 289.8l.6 4 2.6 1.2 -2.4 2.2 3 2.5 5.6 1.6 -2.7 2.1M379.4 289.8l-2.4 1.3M358.9 331.6l-4.3-1.3 -2.5 4 -1.6-4 -.3-3.5M358.9 331.6l-2.4 1.3 -2.2 3.5 -2.2-2.1 -5.9-2.6 3.2 5.3 1.1 3.3M370.3 287l-1.3-3.7 -2 3.4 -4-.5 -1.8 2.2 -1.8 2.3 2.5 4.6 -4.3-2.3 1.8-2.3 3.8 .4 4.1-.8 -.9 3.5 4.1-.8 3.7-1.4 .6-4.3 2.3-1.9 -1.7-2.2 2.6-4.3 -2.7-1.2 2.5-1.9 .2 3.1 2.4-4.1 -.9-4.3 3-.2 4.5 1.5M370.3 287l2-3.9 3.1 .1 5-.5 2.8 .3 3.2 1.3 -.5 5.6M370.2 289.9l4 1.7 2.6 3.5 -2.8 1.4 -1 4 .5 3 -3.1 2.9 3.3-.1M429.1 323l4.6 .5 2 2.2 4.1-.1M425.7 320l-2.8 2.8 -4.1 2 .8 3.4M425.7 320l3.4-2.1M388.5 318.9l-2.9 .2 -3.2 1.2 -2.7 2.6 3.3 3.1 4.9-.6 -1.6-2.4 -.7-3.9 2.1-4.8 .8 4.6M458 254l4.9 2.4 -2.7 2M458 254l-1.3-4.6M458 254l-2.4-1.8M514.4 258.9l0-3.5 0-3.5 -5.8-3.1 2.5-4.6 3.3 4.2 0-3.4M400.8 295.3l4.6 3.2M492.4 276.3l-2.5 5.1 1.7 4.5 7.1 .2 2.3 3.8 4.1-6.6 -4.7-.4M492.4 276.3l4.2-1.3 5.2-3 -.7-4.1M390.9 270.3l1.1-3.8 2.2 4.5 4.4 0 -2.6 2 -.1 2.7M423.2 239.7l3.2-.7 .3-2.8 2.8 2.2 -.1 3 -.8 3.2 -3.7-.4 -3.3 4.3 -2.1 5.3M423.2 239.7l-3.1-4.1 1-4.1 2.1 4.8 -3.1-.7 -2.5 2 -4.8 1.2 -4.9 1.3 1.1-4 5.1-.1 3.4-3 1-2.6 2.6 1.1 -3.6 1.5 2.6 2.6M423.2 239.7l0-3.4 3.2 2.7 .2 3 2.8-.6 2.9 1.6 2-4.4 1.8-2.4 -3.4-1.5 -3.2 0 -2.6-4.4 3-2.8 -4.5-.8 -3.7 1.4 2.3-4.2 3.6-2.7 -3-.3 -.6 3 1.4 2.8 1.5 3.6 3.9 2 -.9-4.8 -.8-3.8 1.3-2.8 -1.7-2.8 .3-2.8 -2.9 0 -2.1 2.6 -3.7-2.6 2.9 0 .8 2.6 4.7 .2 3.2-2.8 .2 3.2 1.7 2.5 3.1-2.9 3.8 1.2 -.1-4 -2.9 0M423.2 239.7l-5.6-2.1 -3.5-1.6 -3.5-2.7 -1.6 2.8M366.5 308.9l-3-2 -2.6-1.6 -4.8-.4 2.8-1.5 -2.8-4M370.4 306.4l4.1 3.1 -.8 5 -2.5-3.6 -.9 3.5 .5 4.9 -1.2 4 3.5 .1 .3-2.7 -3.8 2.6 -3.7 1.1 -1.6-2.3M370.4 306.4l.3-4.5 -3.7-.8 -2 2.7 2.1 2.4 -3.6 .7 -4.7 2M315.7 340.3l2.9 0 .7-3.5 2.2 3.5 .6-3.7 -1.2-4.8 2.7-.2 1.4 3.9 2.3 4.8 .4-4.8 2.5 4.8 1.9-3.1 1 3.1M315.7 336.5l.5-2.8 -2.2-2.6 2.2-3.5 -3.3 .7 .2-4.1 3.1 3.4 .7 2.8 2.4-1.6 2.6-2.9 2.1-3.3 2.5 3 -1.3 2.9 -3 .2 -2.9 .1 -.1-3 2.7 .1M315.7 336.5l3.6 .3 -3.1-3.1 -4.2 2.1 -2.1 4.5 -2.9 0 -2.9 0 3.1-4.4 -.2 4.4M408.9 282.9l4.3 1.2 -.5-3.6 4.1-1.6 4.4 0 3.8-1.8 4.2 1.5M407.6 327l2.6 1.3M407.6 327l-2.2-4.1 -2.6 1.7 -1.2 2.6 2.9 0 1.5 2.5M407.6 327l.3-5.6 3.4 4.2M509.9 335.9l-5.4 .9 -1.5 3.5 3.8 0 3.1-4.4 .1-4.4 1.2-4 -2-3 -1.6 4 -3.6 .2 -2.6 4 5.3 0 -2.2 4.1 -7 .5 -6.7-1.7 -2.8 4.7 -1.7-3 -2 3 -3.6 0 -3.6 0 -.5-5.8 4-1.5 4.7-.1 -4 3.6 3 3.8 3.7 0 3.7 0 3.7 0 -4.6-4.7 5.6-1.7 .8-4.1 -4.7 .2 3-5.8 1.7 5.6 4.2 2.9 -1.1-5.5 1.7-3.1 3.9-1.3 4.5-2.6 -4.7-5 -3.4 5.4 -1.3-3.3 -2.2 5.4 3.5-2.1M509.9 335.9l4.5-2.6 -4.4-1.8 4.4-2 0 3.8 0 3.8 -3.8 3.2 3.8 0 0-3.2 -4.5-1.2 -3.2-3.2 -2.7-4 -2-4.6M509.9 335.9l.7 4.4 -3.8 0 -2.3-3.5 -5.3 3.5 -1.7-3 3.9-4.6 3.1 4.1M505.3 239.2l-3-1.9 -3.6-.9 1.8 3.5 -.6 6.7 -4.7-2.3 -3.4-2.7 -3.3 1.1 -4.8 1.3 1.4-3.9 3.5-1.1M505.3 239.2l2.5-3.5 .8 4M505.8 242.7l-5.9 3.9 -2-4 -3-4.2 -.8-3.5 -2.2-1.8 -1 3M419.9 220.4l4.1-2.5 3.6 3.3 1.1-3.1 3.4 .4 4.8-.4 3.7-2.8 2.9 0 -2.8 4M419.9 220.4l-2.2-1.9M419.9 220.4l1.4 2.8 -2 3.3 -.8 3.9 3.2-2.3 3 5 -1.5 3.2 3.5-.1 2.8-1.5 0 3.7 4.8 .2 -4.9 2.8 -3-2.4 3.1-.6 3.2-3.7 1.6 3.9 4.8 2.5 2.5-4 -2.8 .5 -4.5 1 1 4.2 -3 .2 -2.2 3.9 -3.5 0 3.7 4.3 1.7-2.4M424.6 220.9l-.6-3 -4.5-1.7 .8-.9M345.1 319l1.5-6 -3.6-2 -.4 3.9 -2.7-3.9 -2.9 0 -2.9 0 -.5 3.7 1.9 4.3M434 270.8l-1.5-2.8 .4-3.9 3.6-.1 3.8-1.6 -2.4 4.2 -1.4-2.6 -3.3-3.2 2.6-.4 4.5 2 -3-5.6 .6-3.9 .7-4.2 -3.9-1.5 .6-4.4M434 270.8l0 2.9 3.3-3.6 3.7 1.4 3.3 0 -3.5-2.8 -2.9-2.1 4.4-1.5 1-2.6 -1.1-4.1 .9-4.9 -2 1.8 -3.8 1.5 4.9 1.6 4.7-1.5 -3.8-3.4M514.4 265.9l0 3.6 0 3.6 -4.3 3 4.3 4.3 0-3.7M462.9 256.4l2.9 .7 3 2.4 5.3 2.7 3.3-4 -3.3-.1 -5.3 1.4 .7 3.8 -2.4 2 3.1 2.2 -4.1 .7 -2.6-2.1M462.9 256.4l-2.2-5.4 1.9-2.1M487.7 218l.4 2.9M487.7 218l-4.4 .2M487.7 218l2.3-2.7 -3 0M430.1 246.9l4.6 .3 3.7-1.7 .2 3.2 2.2-1.6 -.1 4.1 -2.8 1.7 -3.6 2 -2.4 1.7 -2.4-1 3.5-3.2 2.5-1.4 2.4 1.9 3.2 2.4 -.4-4.1 2.5-2.8 .3-3 -1.5-2.3M430.1 246.9l.2 4.3M428.6 244.6l-2 2.3 -1.7-2.7 1.7-2.2M428.6 244.6l3.7-1.6 2.4 4.2M436.1 236.2l1.7-5.2 1.8-3.2 .3-3.8 -3.2-.7 -3.2 .3 -3.6 3.9 2.7 1.6 3.5-1.4 .6-4.4 -2.9-2.3 -3.4-.1 -2.8 .3 1.5 2.5 -3.7 3M436.1 236.2l2.7 1.4M407.9 313.4l-1.8 2.4 3 2.8 2.6 1.5 2.7 1.8M407.9 313.4l2.1-1.8 .8-3.9M472.6 269.6l-.6 3.6 -4.1 3.9M391.3 322.7l3 0M391 325.5l-1.7 3.1 -3.1-.5 2.5 4.8 .3 3.9 -3.7 3.5 -2.9 0 -.8-3.4 -2.1 3.4 2.9 0M470 340.3l3.5-3.8 0 3.8 -3.5 0M466.5 340.3l-3.5 0 -2.9-4.8 3.6 .3 5.4 .9 -2.1-2.6 4.5-1.4 -2.4 4 -2.6 3.6M361.9 331.1l.3-5.3M505.9 322.8l-.2-7.6 4.3-.8 -1.8-3.4 6.2-.5 0 3.8 0 3.8 -4 2.1 -1.2 4.3 5.2 1.2 0-3.8 -4-1.7 -.4-5.8 4.4-3.9 -3.6-2.6 -2.6 3.1 -4.8-3 -1.2 4.4 6-1.4 -1.7-6 -3.4-2.5 -3.5-2.5 -1.4-3.6 3.9-.1 4.3-1.9 -.6 3.5 .7 7.1 4.1-1.5 .2 4.4 3.6-1.2 0-3.8 0-3.8 -3.8 4.4 3.8-.6M505.9 322.8l3.3 1.7 5.2-2.6 0-3.8 -4.4-3.7 4.4-.1M505.9 322.8l1.7 5.7 3.6-1 3.2 2 0-3.8 -3.2 1.8M506.8 226.5l3.4-3 4.2-1.8 0-3.2 -2.9-3.2 2.9 0 0 3.2 -3.1 1.1 .2-4.3 -3.2 0 -1 3 -2.1-3 -3.1 0 1.6 2.9 -1.5 3.1 0 5 -.2 4.2 3.4-1.4 -3.2-2.8M506.8 226.5l-1.4 2.6M438.4 287.1l3 3.2M441.4 286.9l-1.5-3.9M441.4 286.9l1.5-4.1M367.9 340.3l.3-3.7 3.9 .5 -2.1-2.6M367.9 340.3l2.9 0 2.9 0 2.9 0 -1.4-4.5 -2.8-2.7 -.3 4 1.6 3.2 1.5-4.5 2.5 1.2 1.9-3.3 3.4 0 -1.4 3.2 3.7 3.4 2.9 0M365 340.3l-2.8-3.1 3-.5 -.2 3.6M362.1 319.9l-1.2 3.5M362.1 319.9l-4.5 2.1M446.9 256.9l-1.4-4.8 -4.8-.9M446.9 256.9l-.4 2.7 -3.2 2.9M366.4 293.8l3.2 2.6 -.2 2.9 -4-1.3 1.6 3.1 -4.1-1.6 2.1 4.3M366.4 293.8l-3.2-2.7 -2-2.7 3.6 0 2.5 1.9M446.6 331.4l.4 3.2 -2.1 2.2 5.4-1 2.5 4.5 -3.3 0 -4.6-3.5M446.6 331.4l3.7 1.2 0 3.2 -3.3-1.2 3.3-2 -2.3-3.9 -1.4 2.7M441.4 232.1l3-2 -4.8-2.3 -3.5-.1 1.7 3.3 -3.9 .8 -3.1 .5 1.9 2.4 1.2-2.9 2.2-4.1M443.8 234.6l1.5 2.8 1.4-2.5 -2.9-.3M412.5 269.5l-2.3-1.6 3.5-1.5M412.5 269.5l.2 6.1 3.3-1.9 .1-3.1 2.6-1.2M412.5 269.5l3.6-1.6 -.8-4.5 5.4 .4 .7-4.5M385.6 274.4l2 4.8 1.5 2.4 2-3M385.6 274.4l-5.2 .4 -2.6 1 1.7-5.3 -1.9-2.4M385.6 274.4l5.3 1.5 5.1-2.9 6 2.9 5 .5 -.5-2.9 3 .8M500.3 327.2l-3.1 2.6M500.3 327.2l-4.8-3 -.5-4.8M508.3 271.7l1.8 4.4 -1.7 3M508.3 271.7l1.6-5 -4.5-4.6 .4 3.3M504.9 274.4l-3.1-2.4M435.2 267.5l1.3-3.5 -.7-3.6 1.5-3.6 -3-1.9 -1.3-2.5 -1.1 4.2 1.3 4.2 -3.6 2.6 -4.6-2.8 -1.1 2.7 -3.2 .5 -1.9-2.8M435.2 267.5l2.7-.9 -.6 3.5M417.5 233l-3.7 0 -1.2-2.9 3 .1 3.7-3.7 -2.3-1.5 -2.9-2M417.6 237.6l.4 2.7M403.6 251.5l-1.7 2.6 4.1 3.9 3.5 .6 2.5-2.9M403.6 251.5l1.9-2.1M403.6 251.5l-3.5-.3 -3.8-1.2 -4.1 .1 1.8-2.3 1.8-2.2 3.4 2.6 -1.5-4.9 1.8-2.2 3.4 3.6 2.1-4.9 2.9 .3 4.3 1.7 .6-3 1.3-2.8 -.3-3M296 329.7l-2.5-3.9M377.2 299.6l3 .4 3.1 3.8 -.7 2.9 3.9-.2 4.8-3M377.2 299.6l-.5 3.9 -3.2 0M398.4 264.7l-3 3.3 5.1-.7M443.7 315l5-1.9 -2.5-3.8 -4.3 0M443.7 315l1.3 5.3M441.5 317.9l-.8-4.1 -3.1-.8M506.4 294.4l2.4-4.2 -.5-4.5 -3.2-2.4 -6.4 2.8M506.4 294.4l-2-4.1 .7-7M440.3 262.4l1.9-4 -1.1-3.1M454.1 277.8l.6 4.2 -2 2.2M454.1 277.8l-4.4 3.4 -5.1-.6M466.1 326.8l-2.2 4.7 3.1 2.6M444.5 227.3l3.4-3.5 4.3-2 -1.8 3.2M444.5 227.3l2.9 3.1M418 298.4l-3 2.8 -2.4-4.1 -2.1 4.8 4.5-.7M416.2 295.6l-2-4.5 -.4-2.8 3.4 .1 1 5.3 -4-2.6 3-2.7 3.6 1.4M416.2 295.6l-3.6 1.5 -.2-2.8M508.6 248.8l-3.9-1.6 1.4 4.2M415.6 230.2l1.4-5.2 4.3-1.8 .4 4.9 5.2 2.2 -2.2 2.8 4.8 1.6 1.3-2.4 1.8-3.2M415.6 230.2l-1.7-2.5M415.6 230.2l2.9 .2M388.6 291.4l1.4-2.5M387 294.2l.9 3.7M383.3 280.3l-5.3-1.4 2.4 3.8 -3.3 2.7M383.2 283l.4 5.2 -2.4-1.2M480.9 230l-.5-3.9 -2.2-2.2M480.9 230l3.4-2.5 -3.9-1.4 -3.9 1.2 1.5 3.1 3.2 3.2 -1.9 5.1 -1.4-3.1M480.9 230l-2.9 .4M503.1 302.5l-2.9 2.3 -1.4 5.9 -3.6-5.6M503.1 302.5l.3 5.5 3.1-3 4.3 2.9M471 248.5l-1.8 2.9 2.9 2.4 1.7-2.3 4.5-.1 -2.5-2 -4.8-.9M469.8 244.7l-5.2-.3 3.2-1.9 2.9-2.1 -3.5-2.8 .6 4.9M334 321.9l-2.6-1.7 -2.4 1.4M302.9 323.1l1.2 3.9 2.6-4.3 3.7-3.4 .4-4.6M302.9 323.1l1.6-2.4M487.5 313.5l-4.7 2.7 3.7 3.7 1-6.4 4.2-6.1 -3.6-4.2 -1.6 3.3 -1.1 4.3 -4 2.2 1.4 3.2 -2.2 2.9 -.3 6.5 3.1 2.8 -2.8 4.6 .7 3.5 5 .8 -1-4.4 3-1.9 4.2-1 -1.7 5.6 -4.5 1.7M487.5 313.5l5-.5 -.8-5.6M490.1 317.4l-.1 5.5 -2.6 3.9M373.7 314.5l4.4 0 3.5-3.8 1-4M373.7 314.5l4.4 2.9M373 317.2l.4 3.5 3.5 .6 -3.8 2.1M418.2 246l-.2 5.4 -2.8-4 -.1 3.8M418.2 246l-3 1.4M418.2 246l-.6-2.8M500.5 239.9l1.8-2.6M361.7 302.3l-2.8 1.1M474.1 262.2l0-4.1 1.9-3.1 -3.9-1.2M474.1 262.2l-4.6 1.1 .7 4.2 -1.4 2.6M409.7 271l-3.7-2.1 .5 4.6 -2.7-.2M409.7 271l.5-3.1 -4.7-2.8M307.2 335.9l4.8-.1M307.2 335.9l-2.7-2M457.8 290.1l4.8-2.8 4.3 .8 -2.1-4.7 -4.2 1.4 -1.5 2.6 3.5-.1M494.9 238.4l3.8-2 -4.6-1.5M436.9 218.1l-2.1-2.8 -2.9 0 -2.9 0M308.2 313.8l-3.1-2.8 -.6 3.5 -1 2.8M308.2 313.8l-.2-2.8M457.7 245.9l-2.6 1.2M458.5 241.9l2.5-2 .8-4.1 -1-4.2M458.5 241.9l-1.9-4.3 3-.2 -.7-3.1 -2.3 3.3M458.5 241.9l1.1-4.5M412.9 262.1l-1.6 2.9 -1.3-2.7 -.5-3.7 -1-5 3.9-.7M412.9 262.1l-.4-3.6 -2.5 3.8 2.9-.2M432.2 276.5l3.3 2.4M432.2 276.5l-2.7-2.2M433.5 223.6l.3-2.6M460.7 320.4l-.1 3.7M460.7 320.4l1-4.2 -3.4-2.9 -3.3-.2 -1 3.2M460.7 320.4l3.8 0M399.2 248.2l.9 3 1.8 2.9 -2.7-.4 -2.9-3.7 -2.3-2.2M399.2 248.2l3.7-3.5M396.3 250l-1.9 2.9 -4-.6 1.8-2.2 2.2 2.8 .2 2.8 -1.8 2.3M401.6 258.4l-2.4-4.7 -1.8 3.2 1.3 2.6 -1.3 2.3M380.5 329.8l3.4 .4 2.8 4.8 -1.4 5.3M380.5 329.8l2.5 3.9M380.5 329.8l-3.7 3.2M502 252.8l-.7 4.2M502 252.8l-4.5-1.7M502 252.8l2.7-5.6M502 252.8l3.7 4.4M502 252.8l-4 1.6M468.2 222.7l-3.7 .6 -2.4-1.3M468.2 222.7l-2.9 4.7 -.2 3.5 1.1 4.2 3.1 .6 3.2 .5M468.2 222.7l-.2 5.4M398.5 300.6l3.5 .7 -1.4-3M467 310.2l-2.5-2.8M467 310.2l3.9-.6 6.2-.8 3.4-3.7 -.4-3.9 4.1 1.4 -3.7 2.5 -3.9 .1M380.4 274.8l2.1-4.5M433.6 331.4l-3.4 1.4 2.2 3.7 3.2-2.5M503.6 279.1l-5.8-.1 3.1-2.9 -4.3-1.1M503.6 279.1l-2.7-3M427.6 259.8l-3.6-3 -.4-3.9M427.6 259.8l-.6-5.6 -3 2.6 1 3.8M472 273.2l2.8 1.9M483.7 244l-1.2-2.6M470.7 298.1l2.9 2.7 6.5 .4M471.7 294.3l5.8-3.3 -3.9-1.5 -3.2-.1M455.5 285.8l5.1-1M463.6 241.6l-2.6-1.7M355.7 312.2l-1.2 3.5M400.9 263.8l-2.2-4.3M459 296.3l4.1 .9 3.8-5.8M510.7 232.1l3.7-.5M444.3 271.5l1.4 5.6M446.1 266.8l-3.8-1.7M449.2 268.7l1.3 3.5 -.2 4.3 -2.7-5 1.6-2.8 .9-2.6 3 2M468.3 283.2l-.6-3 4.6 1.8 3.6 1.3M456 297.8l-3.4-.7M413.8 288.3l-4.1-.8 -2.5 2.6 -2.6-1.4 -4.3 1.2 -3.4 3.1M507.6 328.5l2.4 3 -3.3 1.2 .9-4.2M490.8 335.6l.9 4.7M395.1 288.6l-1.5 4M395.1 288.6l5.2 1.3M426 323.3l-3.6 2.4M503 340.3l-3.8 0 -3.8 0 2.1-3 -1.1-3.4 -3.9-3.9 -1.7-3.2M399.2 324l-2.8 .7M399.2 324l-1.6 3.2 -5.6 1.5 5.2 2.3 .4-3.8 4 0 -4.4 3.8 -.5 3.1M430.5 301.2l4.8-.4 -1.5 2.9M304.1 327l.7 4.1M308.1 331.1l2.2-1.6 .1 3M381.3 317.6l2.3-1.8 -5.5-1.3 3.2 3.1 1.1 2.7 .6 5.7 3.2 2.1M482.1 290l4-4 .5-4.4M482.1 290l-3.9-3M484.6 295l3.8-2 5.6 1.1 -3.3 5.7M475 314.6l2.1-5.8M338.6 337.1l0-3.2 -4.3 1.1 1.7 5.3M338.6 337.1l3.1-3.3 -3.1 .1M338.6 337.1l3.2 3.2 .9-3.5M415.7 286.1l1.1-3.5 4.4-3.7 .3 3.9 -4.7-.2M325.2 328.5l-1.6 3.1 -1.4-2.9M443 323.2l-3.1-1.5M499.7 263.8l-3.2-1.6M463.9 331.5l-.2 4.3 -.7 4.5 -3.4 0 -3.4 0 0-3.7 -3.4 3.7 3.4 0M461 329l-3.2 2.2 2.3 4.3 -3.9 1.1 1.6-5.4M450.5 318.9l-3.6 4.6M399.9 318.5l-3.1-3.7 -4.2-.1 -1.8-2.7 2.8-4 5.3 1 -1.6-3 -3.2-2.3 -.5 4.3M459.2 281.7l5.6 1.7M331.4 334.1l-.3-4.3M462.2 293.9l.9 3.3M496.4 333.9l5-1.2M494.5 290.1l-5.5-1.8 2.6-2.4 2.9 4.2M494 294.1l4.2 2.3 -.3-4 3.1-2.5M404.1 313.2l-3.8 1.5 -1.7-2.7M404.1 313.2l-2.3-3.8 -2.9-.4 1.7-2.6M511.3 219.6l3.1 2.1 0 3.3 -4.2-1.5M511.3 219.6l-3-4.3 -3.1 0 -1.5 2.9 1.6 5.3 -3.1-2.2M414 335.6l-2.4 4.7 3 0M414 335.6l5.6 .9M505.7 315.2l-3.5-2.8 -5.7 2.2 4.5 2.7 4.7-2.1 2.5-4.2M447 316.2l3.6-.4 -1.9-2.7M446.5 259.6l-4.3-1.2M399.2 253.7l-4.6 2M406.8 300.9l2.7-4M504.2 234.6l-2.2-4.1M395.4 268l-3.4-1.5M395.4 268l3.2 3 3.4 4.9 -3.4 3.1M387.6 279.2l-1.2 5.1M298.3 340.3l1.2-3.3 -3.1-.2 -1 3.5 2.9 0M443.1 333.9l3.9 .7M379.4 265.9l.1 4.6 -3.7-.1 2 5.4 -3.8-3.2 1.3 5.1 -3.1 2.4 -3.2 3.2 -4.1 .6 -1.9 2.3 1.8 2.2M343.7 330.1l-2.1-2 -4.1 2 -.1-2.8M341.7 333.8l4.5-2.1M341.7 333.8l-.1-5.7M473.5 336.5l3.1-2 4.7 2 -.6 3.8M473.5 336.5l3.6 3.8 4.2-3.8M403.5 284.1l2.1-2.2M342.8 311l-.2 3.9M313.1 324.2l4.7-1.1 -1.6 4.5M399.8 340.3l-2.9-3.3M327.3 317.2l-2.2 2.9 -2.5-2.9 2.4-1.5M473.7 229.4l1.2 4.1 -2.9-1.3M352.9 305.5l-3.1 2.2 -3.2-1.2M356 308.9l.1-4M424.5 317.2l4.6-2.2M452.5 258.5l2 6.2 3.4 3.1M368.4 312.2l-2.7-.6M487.4 230.6l-3.1 2.3 0-5.4M487.4 230.6l.2-3.3M487.4 230.6l3.1-.3 1.4 2.8M481.2 215.3l-2.9 0 -1.5 2.5 1.4 3M481.2 215.3l-.9 2.8 -3.5-.3M459.8 273.2l-1.6-2.4M459.8 273.2l3.4-1 -2.7 5.5M478.1 316.2l3.3-3.2 1.2-5.1 -2.1-2.8M478.1 316.2l-.2 5.2M445.5 252.1l1-3.8 .2-5.2 -3.2 2.3M443.2 248.4l3.3-.1 2.7-1.4 2.4 1.8M437.1 281.9l-1.7 5.1M437.1 281.9l-3.5 2.2M337 314.6l0-3.6M514.4 310.5l0-3.8 -3.8-3.2M486.5 306.5l-2.3-3.9M456.2 336.6l-5.9-.8M466.1 268.2l1-2.9M418.2 293.7l3.3 3.1M375.3 277.7l.1 5.5M375.3 277.7l-5-.5 -1.8 2.2 3.7 .7 .1 3M375.3 277.7l-3.1-2.8M499.6 300l-3.6 .8 2.2-4.4M368.6 303.7l-1.5 2.5M487.5 297l-3.8 1.5M421.1 231.5l.6-3.4 -2.4-1.6M421.1 231.5l3.6 1.6 2 3.1M473.8 328.7l5.3 1 4.3-1.3M476.6 334.5l2.5-4.8 1.5 3.3M324 322.6l-2.8-1.2 -2 4.4M454.9 320.7l-4.2 3.4M381.6 336.9l-2-3.2M446.7 243.1l3.8 1.2 2.2 1.4 .5-5.3 -1.2-4.1M481.3 270.6l.9-4.2 -4.4 .1M490 322.9l5.5 1.3M464.6 244.4l.4 3M476.5 227.3l-3.3-2.6M399.1 284.8l2.4 1.2M494.5 257l3 2.3M322.7 313.8l-4.1 2.5 1.6 2.3 1 2.8M403.6 270.5l-5 .5M344.8 308.7l1.8 4.3M349.4 337l2.7-2.7 4.4-1.4M432.4 336.5l4.8 .2M454.9 232l-4.6 1.3 -1 2.6M312.9 328.3l1.1 2.8M431.2 310.6l-.9-5.6M391.8 296.5l3.3 .4M391.8 296.5l-.5 3.3 -2.5 1.5M297.2 318.9l-.3-3.9 2.7 2.5M432.5 268l-2.9-1.5 -3.2-.1M331.4 320.2l-.1 4.4M449.3 215.3l-2.9 0 -2.9 0 .3 3.9M449.3 215.3l2.9 0M409.7 292.5l4.5-1.4M409.7 292.5l0-5M441.6 237.1l3.4 3.5M450.2 240.3l.3 4M381.6 310.7l4.1-1.3M485.2 236l-5.9 2.7M415.2 241.2l-3 .6M416 273.7l2.2 2.7 -1.4 2.5M296.9 315l-.5-4M374.3 329.5l-1.5-2.4M410.2 334l-.3 2.9 -1.3 3.4M316.2 333.7l.7-3.3M316.2 333.7l4.7-1.9M369.6 296.4l4.4 .1M441 274.3l0-2.8M428.7 218.1l-2.6-2.8 -2.9 0M433.7 323.5l-1.2-3.5M369 283.3l-2.3-1.6M450.9 327.3l-.6 5.3M511.4 227.4l3 .9 0-3.3 -3 2.4M368.2 326l1.4-2.7M486.1 286l2.9 2.3M418.2 276.4l3 2.5M473.5 340.3l3.6 0" fill="none" stroke="#eaa6cc" stroke-opacity="0.68" stroke-width="0.58"/></g><path d="M293.5,311 L343,311 L420.3,215.3 L514.4,215.3" fill="none" stroke="#5a7ad8" stroke-width="0.8"/><rect x="294" y="205.8" width="220.4" height="1.5" fill="#8a8a8a"/><rect x="297.7" y="204.4" width="0.6" height="1.6" fill="#9a9a9a"/><rect x="301.9" y="204.4" width="0.6" height="1.6" fill="#9a9a9a"/><rect x="306.1" y="204.4" width="0.6" height="1.6" fill="#9a9a9a"/><rect x="310.3" y="204.4" width="0.6" height="1.6" fill="#9a9a9a"/><rect x="314.5" y="204.4" width="0.6" height="1.6" fill="#9a9a9a"/><rect x="318.7" y="204.4" width="0.6" height="1.6" fill="#9a9a9a"/><rect x="322.9" y="204.4" width="0.6" height="1.6" fill="#9a9a9a"/><rect x="327.1" y="204.4" width="0.6" height="1.6" fill="#9a9a9a"/><rect x="331.3" y="204.4" width="0.6" height="1.6" fill="#9a9a9a"/><rect x="335.5" y="204.4" width="0.6" height="1.6" fill="#9a9a9a"/><rect x="339.7" y="204.4" width="0.6" height="1.6" fill="#9a9a9a"/><rect x="343.9" y="204.4" width="0.6" height="1.6" fill="#9a9a9a"/><rect x="348.1" y="204.4" width="0.6" height="1.6" fill="#9a9a9a"/><rect x="352.3" y="204.4" width="0.6" height="1.6" fill="#9a9a9a"/><rect x="356.5" y="204.4" width="0.6" height="1.6" fill="#9a9a9a"/><rect x="360.7" y="204.4" width="0.6" height="1.6" fill="#9a9a9a"/><rect x="364.9" y="204.4" width="0.6" height="1.6" fill="#9a9a9a"/><rect x="369.1" y="204.4" width="0.6" height="1.6" fill="#9a9a9a"/><rect x="373.3" y="204.4" width="0.6" height="1.6" fill="#9a9a9a"/><rect x="377.5" y="204.4" width="0.6" height="1.6" fill="#9a9a9a"/><rect x="381.7" y="204.4" width="0.6" height="1.6" fill="#9a9a9a"/><rect x="385.9" y="204.4" width="0.6" height="1.6" fill="#9a9a9a"/><rect x="390.1" y="204.4" width="0.6" height="1.6" fill="#9a9a9a"/><rect x="394.3" y="204.4" width="0.6" height="1.6" fill="#9a9a9a"/><rect x="398.5" y="204.4" width="0.6" height="1.6" fill="#9a9a9a"/><rect x="402.7" y="204.4" width="0.6" height="1.6" fill="#9a9a9a"/><rect x="406.9" y="204.4" width="0.6" height="1.6" fill="#9a9a9a"/><rect x="411.1" y="204.4" width="0.6" height="1.6" fill="#9a9a9a"/><rect x="415.3" y="204.4" width="0.6" height="1.6" fill="#9a9a9a"/><rect x="419.5" y="204.4" width="0.6" height="1.6" fill="#9a9a9a"/><rect x="423.7" y="204.4" width="0.6" height="1.6" fill="#9a9a9a"/><rect x="427.9" y="204.4" width="0.6" height="1.6" fill="#9a9a9a"/><rect x="432.1" y="204.4" width="0.6" height="1.6" fill="#9a9a9a"/><rect x="436.3" y="204.4" width="0.6" height="1.6" fill="#9a9a9a"/><rect x="440.5" y="204.4" width="0.6" height="1.6" fill="#9a9a9a"/><rect x="444.7" y="204.4" width="0.6" height="1.6" fill="#9a9a9a"/><rect x="448.9" y="204.4" width="0.6" height="1.6" fill="#9a9a9a"/><rect x="453.1" y="204.4" width="0.6" height="1.6" fill="#9a9a9a"/><rect x="457.3" y="204.4" width="0.6" height="1.6" fill="#9a9a9a"/><rect x="461.5" y="204.4" width="0.6" height="1.6" fill="#9a9a9a"/><rect x="465.7" y="204.4" width="0.6" height="1.6" fill="#9a9a9a"/><rect x="469.9" y="204.4" width="0.6" height="1.6" fill="#9a9a9a"/><rect x="474.1" y="204.4" width="0.6" height="1.6" fill="#9a9a9a"/><rect x="478.3" y="204.4" width="0.6" height="1.6" fill="#9a9a9a"/><rect x="482.5" y="204.4" width="0.6" height="1.6" fill="#9a9a9a"/><rect x="486.7" y="204.4" width="0.6" height="1.6" fill="#9a9a9a"/><rect x="490.9" y="204.4" width="0.6" height="1.6" fill="#9a9a9a"/><rect x="495.1" y="204.4" width="0.6" height="1.6" fill="#9a9a9a"/><rect x="499.3" y="204.4" width="0.6" height="1.6" fill="#9a9a9a"/><rect x="503.5" y="204.4" width="0.6" height="1.6" fill="#9a9a9a"/><rect x="507.7" y="204.4" width="0.6" height="1.6" fill="#9a9a9a"/><rect x="511.9" y="204.4" width="0.6" height="1.6" fill="#9a9a9a"/><rect x="310.2" y="203.4" width="0.7" height="2.6" fill="#888"/><text x="310.6" y="201.6" font-size="3.6" text-anchor="middle" fill="#4a4a4a" textLength="7" lengthAdjust="spacingAndGlyphs" font-family="Liberation Sans, Arial, sans-serif">20,80</text><rect x="331.2" y="203.4" width="0.7" height="2.6" fill="#888"/><text x="331.6" y="201.6" font-size="3.6" text-anchor="middle" fill="#4a4a4a" textLength="7" lengthAdjust="spacingAndGlyphs" font-family="Liberation Sans, Arial, sans-serif">21,60</text><rect x="352.2" y="203.4" width="0.7" height="2.6" fill="#888"/><text x="352.6" y="201.6" font-size="3.6" text-anchor="middle" fill="#4a4a4a" textLength="7" lengthAdjust="spacingAndGlyphs" font-family="Liberation Sans, Arial, sans-serif">22,40</text><rect x="373.2" y="203.4" width="0.7" height="2.6" fill="#888"/><text x="373.6" y="201.6" font-size="3.6" text-anchor="middle" fill="#4a4a4a" textLength="7" lengthAdjust="spacingAndGlyphs" font-family="Liberation Sans, Arial, sans-serif">23,20</text><rect x="394.2" y="203.4" width="0.7" height="2.6" fill="#888"/><text x="394.6" y="201.6" font-size="3.6" text-anchor="middle" fill="#4a4a4a" textLength="7" lengthAdjust="spacingAndGlyphs" font-family="Liberation Sans, Arial, sans-serif">24,00</text><rect x="415.2" y="203.4" width="0.7" height="2.6" fill="#888"/><text x="415.6" y="201.6" font-size="3.6" text-anchor="middle" fill="#4a4a4a" textLength="7" lengthAdjust="spacingAndGlyphs" font-family="Liberation Sans, Arial, sans-serif">24,80</text><rect x="436.2" y="203.4" width="0.7" height="2.6" fill="#888"/><text x="436.6" y="201.6" font-size="3.6" text-anchor="middle" fill="#4a4a4a" textLength="7" lengthAdjust="spacingAndGlyphs" font-family="Liberation Sans, Arial, sans-serif">25,60</text><rect x="457.2" y="203.4" width="0.7" height="2.6" fill="#888"/><text x="457.6" y="201.6" font-size="3.6" text-anchor="middle" fill="#4a4a4a" textLength="7" lengthAdjust="spacingAndGlyphs" font-family="Liberation Sans, Arial, sans-serif">26,40</text><rect x="478.2" y="203.4" width="0.7" height="2.6" fill="#888"/><text x="478.6" y="201.6" font-size="3.6" text-anchor="middle" fill="#4a4a4a" textLength="7" lengthAdjust="spacingAndGlyphs" font-family="Liberation Sans, Arial, sans-serif">27,20</text><rect x="499.2" y="203.4" width="0.7" height="2.6" fill="#888"/><text x="499.6" y="201.6" font-size="3.6" text-anchor="middle" fill="#4a4a4a" textLength="7" lengthAdjust="spacingAndGlyphs" font-family="Liberation Sans, Arial, sans-serif">28,00</text><rect x="289.8" y="210.4" width="1.1" height="130.6" fill="#8e8e8e"/><rect x="288.1" y="213.9" width="1.6" height="0.6" fill="#9a9a9a"/><rect x="288.1" y="219" width="1.6" height="0.6" fill="#9a9a9a"/><rect x="288.1" y="224.1" width="1.6" height="0.6" fill="#9a9a9a"/><rect x="288.1" y="229.2" width="1.6" height="0.6" fill="#9a9a9a"/><rect x="288.1" y="234.3" width="1.6" height="0.6" fill="#9a9a9a"/><rect x="288.1" y="239.5" width="1.6" height="0.6" fill="#9a9a9a"/><rect x="288.1" y="244.6" width="1.6" height="0.6" fill="#9a9a9a"/><rect x="288.1" y="249.7" width="1.6" height="0.6" fill="#9a9a9a"/><rect x="288.1" y="254.8" width="1.6" height="0.6" fill="#9a9a9a"/><rect x="288.1" y="259.9" width="1.6" height="0.6" fill="#9a9a9a"/><rect x="288.1" y="265.1" width="1.6" height="0.6" fill="#9a9a9a"/><rect x="288.1" y="270.2" width="1.6" height="0.6" fill="#9a9a9a"/><rect x="288.1" y="275.3" width="1.6" height="0.6" fill="#9a9a9a"/><rect x="288.1" y="280.4" width="1.6" height="0.6" fill="#9a9a9a"/><rect x="288.1" y="285.5" width="1.6" height="0.6" fill="#9a9a9a"/><rect x="288.1" y="290.7" width="1.6" height="0.6" fill="#9a9a9a"/><rect x="288.1" y="295.8" width="1.6" height="0.6" fill="#9a9a9a"/><rect x="288.1" y="300.9" width="1.6" height="0.6" fill="#9a9a9a"/><rect x="288.1" y="306" width="1.6" height="0.6" fill="#9a9a9a"/><rect x="288.1" y="311.1" width="1.6" height="0.6" fill="#9a9a9a"/><rect x="288.1" y="316.3" width="1.6" height="0.6" fill="#9a9a9a"/><rect x="288.1" y="321.4" width="1.6" height="0.6" fill="#9a9a9a"/><rect x="288.1" y="326.5" width="1.6" height="0.6" fill="#9a9a9a"/><rect x="288.1" y="331.6" width="1.6" height="0.6" fill="#9a9a9a"/><rect x="288.1" y="336.7" width="1.6" height="0.6" fill="#9a9a9a"/><rect x="286.9" y="224.1" width="2.8" height="0.7" fill="#888"/><text x="287.5" y="225.7" font-size="3.6" text-anchor="end" fill="#4a4a4a" textLength="7" lengthAdjust="spacingAndGlyphs" font-family="Liberation Sans, Arial, sans-serif">29,60</text><rect x="286.9" y="249.7" width="2.8" height="0.7" fill="#888"/><text x="287.5" y="251.3" font-size="3.6" text-anchor="end" fill="#4a4a4a" textLength="7" lengthAdjust="spacingAndGlyphs" font-family="Liberation Sans, Arial, sans-serif">28,80</text><rect x="286.9" y="275.2" width="2.8" height="0.7" fill="#888"/><text x="287.5" y="276.9" font-size="3.6" text-anchor="end" fill="#4a4a4a" textLength="7" lengthAdjust="spacingAndGlyphs" font-family="Liberation Sans, Arial, sans-serif">28,00</text><rect x="286.9" y="300.9" width="2.8" height="0.7" fill="#888"/><text x="287.5" y="302.5" font-size="3.6" text-anchor="end" fill="#4a4a4a" textLength="7" lengthAdjust="spacingAndGlyphs" font-family="Liberation Sans, Arial, sans-serif">27,20</text><rect x="286.9" y="326.4" width="2.8" height="0.7" fill="#888"/><text x="287.5" y="328.1" font-size="3.6" text-anchor="end" fill="#4a4a4a" textLength="7" lengthAdjust="spacingAndGlyphs" font-family="Liberation Sans, Arial, sans-serif">26,40</text><rect x="517.9" y="218.6" width="10.2" height="9.4" fill="#ff0000"/><rect x="517.9" y="227.7" width="10.2" height="9.4" fill="#ff4000"/><rect x="517.9" y="236.9" width="10.2" height="9.4" fill="#ff8000"/><rect x="517.9" y="246" width="10.2" height="9.4" fill="#ffc800"/><rect x="517.9" y="255.1" width="10.2" height="9.4" fill="#ffff00"/><rect x="517.9" y="264.3" width="10.2" height="9.4" fill="#60f060"/><rect x="517.9" y="273.4" width="10.2" height="9.4" fill="#00f090"/><rect x="517.9" y="282.5" width="10.2" height="9.4" fill="#00ffff"/><rect x="517.9" y="291.7" width="10.2" height="9.4" fill="#00d0ff"/><rect x="517.9" y="300.8" width="10.2" height="9.4" fill="#00a0ff"/><rect x="517.9" y="309.9" width="10.2" height="9.4" fill="#0050ff"/><rect x="517.9" y="319.1" width="10.2" height="9.4" fill="#0000f0"/><rect x="517.9" y="227.5" width="10.2" height="0.5" fill="#000" fill-opacity="0.28"/><rect x="517.9" y="236.6" width="10.2" height="0.5" fill="#000" fill-opacity="0.28"/><rect x="517.9" y="245.8" width="10.2" height="0.5" fill="#000" fill-opacity="0.28"/><rect x="517.9" y="254.9" width="10.2" height="0.5" fill="#000" fill-opacity="0.28"/><rect x="517.9" y="264" width="10.2" height="0.5" fill="#000" fill-opacity="0.28"/><rect x="517.9" y="273.1" width="10.2" height="0.5" fill="#000" fill-opacity="0.28"/><rect x="517.9" y="282.3" width="10.2" height="0.5" fill="#000" fill-opacity="0.28"/><rect x="517.9" y="291.4" width="10.2" height="0.5" fill="#000" fill-opacity="0.28"/><rect x="517.9" y="300.5" width="10.2" height="0.5" fill="#000" fill-opacity="0.28"/><rect x="517.9" y="309.7" width="10.2" height="0.5" fill="#000" fill-opacity="0.28"/><rect x="517.9" y="318.8" width="10.2" height="0.5" fill="#000" fill-opacity="0.28"/><text x="532" y="219.9" font-size="3.6" fill="#4a4a4a" textLength="5.5" lengthAdjust="spacingAndGlyphs" font-family="Liberation Sans, Arial, sans-serif">2,40</text><text x="532" y="229" font-size="3.6" fill="#4a4a4a" textLength="5.5" lengthAdjust="spacingAndGlyphs" font-family="Liberation Sans, Arial, sans-serif">2,20</text><text x="532" y="238.2" font-size="3.6" fill="#4a4a4a" textLength="5.5" lengthAdjust="spacingAndGlyphs" font-family="Liberation Sans, Arial, sans-serif">2,00</text><text x="532" y="247.3" font-size="3.6" fill="#4a4a4a" textLength="5.5" lengthAdjust="spacingAndGlyphs" font-family="Liberation Sans, Arial, sans-serif">1,80</text><text x="532" y="256.4" font-size="3.6" fill="#4a4a4a" textLength="5.5" lengthAdjust="spacingAndGlyphs" font-family="Liberation Sans, Arial, sans-serif">1,60</text><text x="532" y="265.6" font-size="3.6" fill="#4a4a4a" textLength="5.5" lengthAdjust="spacingAndGlyphs" font-family="Liberation Sans, Arial, sans-serif">1,40</text><text x="532" y="274.7" font-size="3.6" fill="#4a4a4a" textLength="5.5" lengthAdjust="spacingAndGlyphs" font-family="Liberation Sans, Arial, sans-serif">1,20</text><text x="532" y="283.8" font-size="3.6" fill="#4a4a4a" textLength="5.5" lengthAdjust="spacingAndGlyphs" font-family="Liberation Sans, Arial, sans-serif">1,00</text><text x="532" y="293" font-size="3.6" fill="#4a4a4a" textLength="5.5" lengthAdjust="spacingAndGlyphs" font-family="Liberation Sans, Arial, sans-serif">0,80</text><text x="532" y="302.1" font-size="3.6" fill="#4a4a4a" textLength="5.5" lengthAdjust="spacingAndGlyphs" font-family="Liberation Sans, Arial, sans-serif">0,60</text><text x="532" y="311.2" font-size="3.6" fill="#4a4a4a" textLength="5.5" lengthAdjust="spacingAndGlyphs" font-family="Liberation Sans, Arial, sans-serif">0,40</text><text x="532" y="320.4" font-size="3.6" fill="#4a4a4a" textLength="5.5" lengthAdjust="spacingAndGlyphs" font-family="Liberation Sans, Arial, sans-serif">0,20</text><text x="532" y="329.5" font-size="3.6" fill="#4a4a4a" textLength="7" lengthAdjust="spacingAndGlyphs" font-family="Liberation Sans, Arial, sans-serif">-0,00</text><text x="530.5" y="215.5" font-size="3.6" fill="#555" font-family="Liberation Sans, Arial, sans-serif">[m]</text><rect x="535.5" y="333.5" width="5" height="5" fill="#e4e4e4" stroke="#c8c8c8" stroke-width="0.4"/><rect x="536.7" y="335" width="2.6" height="2.4" fill="#f0b030"/><rect x="297" y="354" width="5" height="3.9" fill="#f7b731"/><text x="418" y="349.6" font-size="3.8" font-weight="bold" text-anchor="middle" fill="#1a1a1a" textLength="67.5" lengthAdjust="spacingAndGlyphs" font-family="Liberation Sans, Arial, sans-serif">Total displacements |u| (scaled up 0,200 times)</text><text x="418" y="355.9" font-size="3.5" text-anchor="middle" fill="#3a3a3a" textLength="71" lengthAdjust="spacingAndGlyphs" font-family="Liberation Sans, Arial, sans-serif">Maximum value = 2,238 m (Element 7098 at Node 63356)</text><text x="138.4" y="189.3" text-anchor="middle" font-size="13.4" fill="#111" stroke="#111" stroke-width="0.22" font-family="Liberation Serif, serif" textLength="103" lengthAdjust="spacingAndGlyphs">(<tspan font-weight="bold">a</tspan>) 1:1, H = 3 m, S1</text><text x="410.5" y="188.3" text-anchor="middle" font-size="13.4" fill="#111" stroke="#111" stroke-width="0.22" font-family="Liberation Serif, serif" textLength="103" lengthAdjust="spacingAndGlyphs">(<tspan font-weight="bold">b</tspan>) 1:1, H = 3 m, S2</text><text x="138.4" y="376.2" text-anchor="middle" font-size="13.4" fill="#111" stroke="#111" stroke-width="0.22" font-family="Liberation Serif, serif" textLength="103" lengthAdjust="spacingAndGlyphs">(<tspan font-weight="bold">c</tspan>) 1:1, H = 3 m, S3</text><text x="410.5" y="376.2" text-anchor="middle" font-size="13.4" fill="#111" stroke="#111" stroke-width="0.22" font-family="Liberation Serif, serif" textLength="103" lengthAdjust="spacingAndGlyphs">(<tspan font-weight="bold">d</tspan>) 1:1, H = 3 m, S4</text></svg></body></html>
